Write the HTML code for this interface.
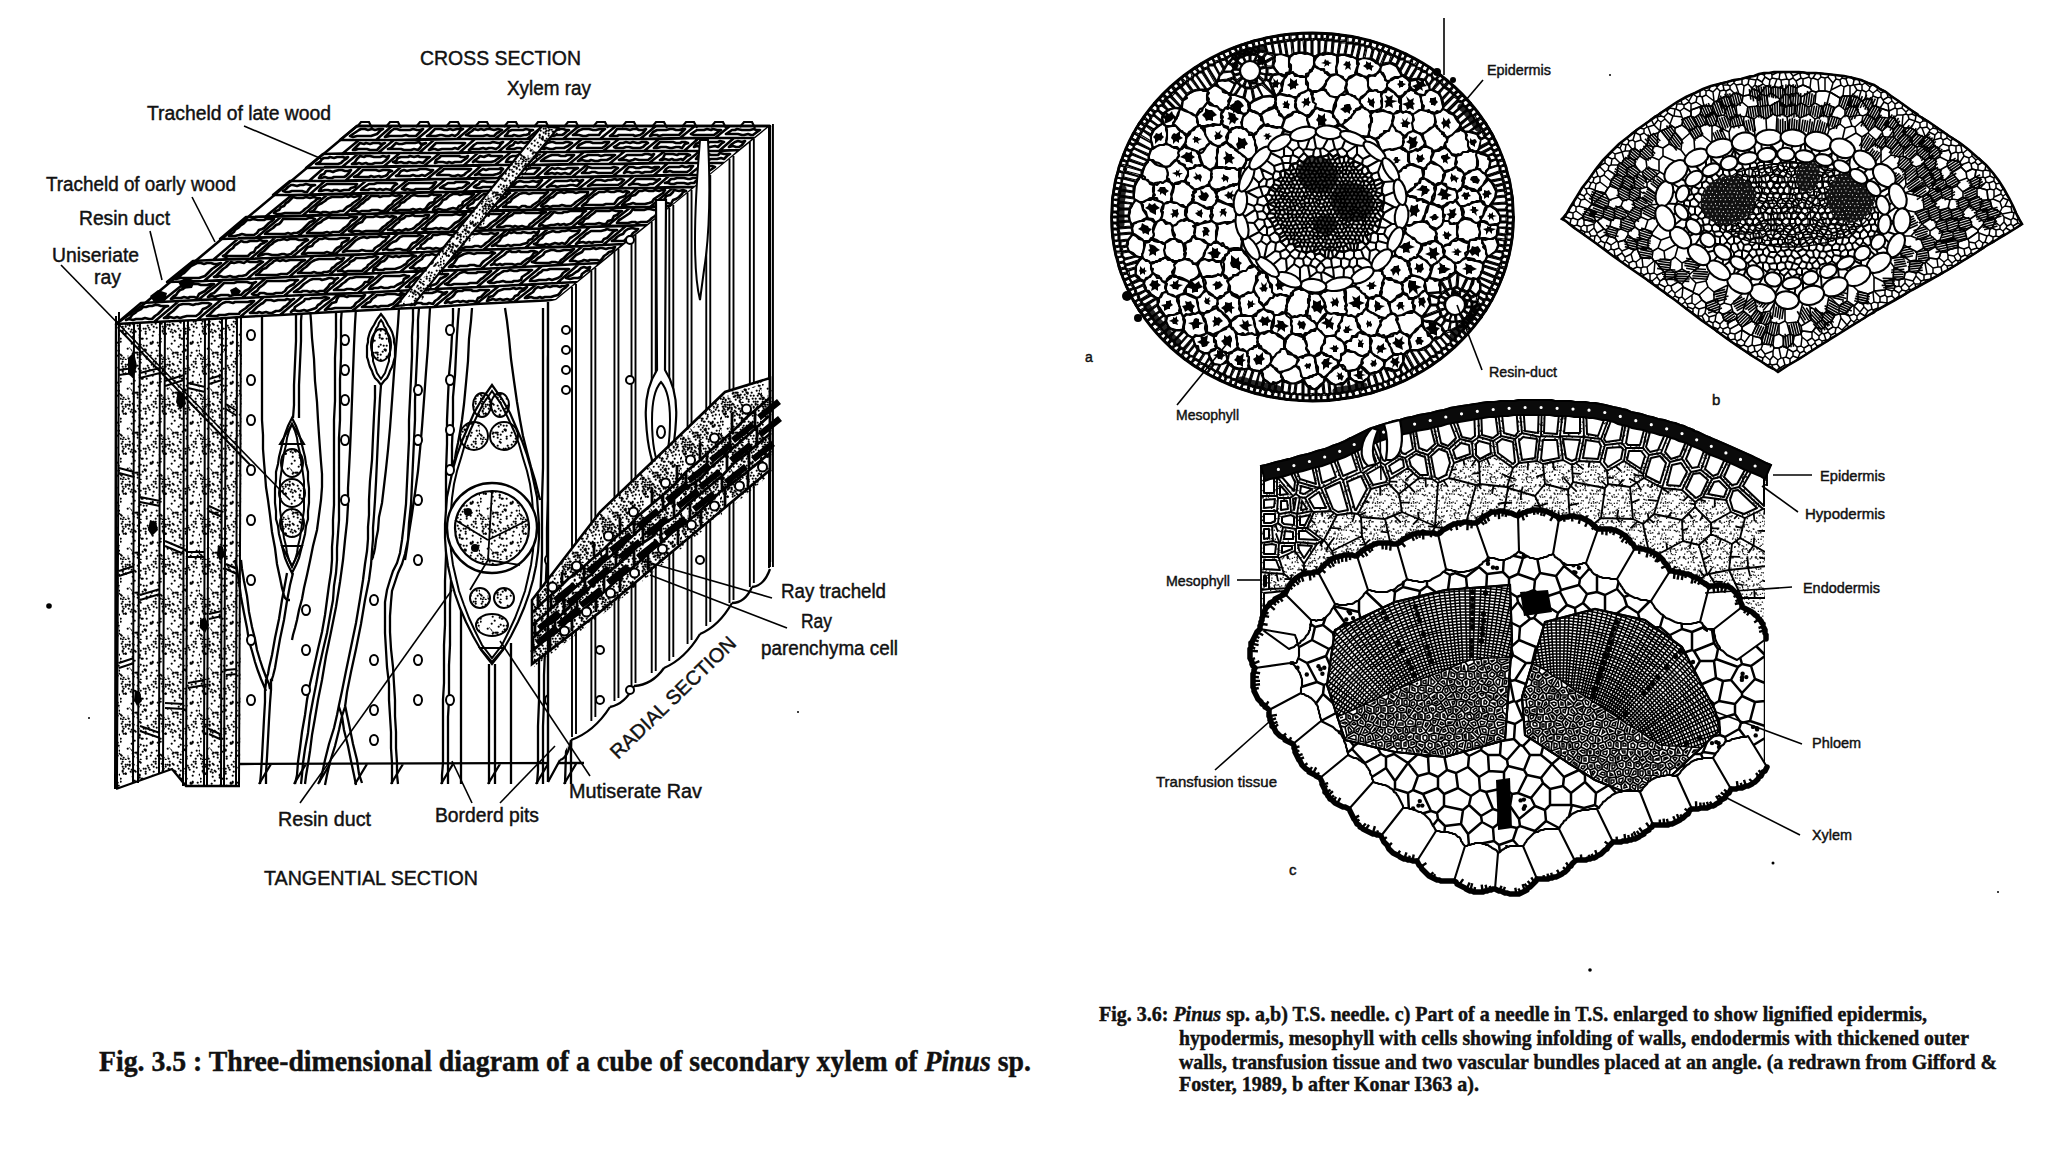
<!DOCTYPE html>
<html><head><meta charset="utf-8"><style>
html,body{margin:0;padding:0;background:#fff;width:2048px;height:1152px;overflow:hidden}
svg{display:block}
</style></head><body>
<svg width="2048" height="1152" viewBox="0 0 2048 1152">
<rect width="2048" height="1152" fill="#fff"/>
<defs><pattern id="bstip" width="40" height="40" patternUnits="userSpaceOnUse"><path d="M23,25h1.3v1.3h-1.3zM33,11h1.3v1.3h-1.3zM26,36h1.3v1.3h-1.3zM36,7h1.3v1.3h-1.3zM26,25h1.3v1.3h-1.3zM20,39h1.3v1.3h-1.3zM21,18h1.3v1.3h-1.3zM38,25h1.3v1.3h-1.3zM12,12h1.3v1.3h-1.3zM20,2h1.3v1.3h-1.3zM24,29h1.3v1.3h-1.3zM17,34h1.3v1.3h-1.3zM37,22h1.3v1.3h-1.3zM27,5h1.3v1.3h-1.3zM2,39h1.3v1.3h-1.3zM11,9h1.3v1.3h-1.3zM36,30h1.3v1.3h-1.3zM5,13h1.3v1.3h-1.3zM10,11h1.3v1.3h-1.3zM0,21h1.3v1.3h-1.3zM12,16h1.3v1.3h-1.3zM7,4h1.3v1.3h-1.3zM1,35h1.3v1.3h-1.3zM30,22h1.3v1.3h-1.3zM5,6h1.3v1.3h-1.3zM5,13h1.3v1.3h-1.3zM2,11h1.3v1.3h-1.3zM8,8h1.3v1.3h-1.3zM26,18h1.3v1.3h-1.3zM19,14h1.3v1.3h-1.3zM22,31h1.3v1.3h-1.3zM12,3h1.3v1.3h-1.3zM19,15h1.3v1.3h-1.3zM31,4h1.3v1.3h-1.3zM35,1h1.3v1.3h-1.3zM22,18h1.3v1.3h-1.3zM13,36h1.3v1.3h-1.3zM28,7h1.3v1.3h-1.3zM20,24h1.3v1.3h-1.3zM1,3h1.3v1.3h-1.3zM24,29h1.3v1.3h-1.3zM19,17h1.3v1.3h-1.3zM20,10h1.3v1.3h-1.3zM35,38h1.3v1.3h-1.3zM19,1h1.3v1.3h-1.3zM16,32h1.3v1.3h-1.3zM13,4h1.3v1.3h-1.3zM7,28h1.3v1.3h-1.3zM25,11h1.3v1.3h-1.3zM25,30h1.3v1.3h-1.3zM39,33h1.3v1.3h-1.3zM17,32h1.3v1.3h-1.3zM37,35h1.3v1.3h-1.3zM30,23h1.3v1.3h-1.3zM20,34h1.3v1.3h-1.3zM25,29h1.3v1.3h-1.3zM9,4h1.3v1.3h-1.3zM11,23h1.3v1.3h-1.3zM23,8h1.3v1.3h-1.3zM8,38h1.3v1.3h-1.3zM3,37h1.3v1.3h-1.3zM31,23h1.3v1.3h-1.3zM40,27h1.3v1.3h-1.3zM0,38h1.3v1.3h-1.3zM17,37h1.3v1.3h-1.3zM33,6h1.3v1.3h-1.3zM2,1h1.3v1.3h-1.3zM31,32h1.3v1.3h-1.3zM9,5h1.3v1.3h-1.3zM15,32h1.3v1.3h-1.3zM30,35h1.3v1.3h-1.3zM39,30h1.3v1.3h-1.3zM33,1h1.3v1.3h-1.3zM0,34h1.3v1.3h-1.3zM25,13h1.3v1.3h-1.3zM5,13h1.3v1.3h-1.3zM14,20h1.3v1.3h-1.3zM18,8h1.3v1.3h-1.3zM3,8h1.3v1.3h-1.3zM5,4h1.3v1.3h-1.3zM17,5h1.3v1.3h-1.3zM32,22h1.3v1.3h-1.3zM18,26h1.3v1.3h-1.3zM9,1h1.3v1.3h-1.3zM3,13h1.3v1.3h-1.3zM14,10h1.3v1.3h-1.3zM12,33h1.3v1.3h-1.3zM0,18h1.3v1.3h-1.3zM15,11h1.3v1.3h-1.3zM29,9h1.3v1.3h-1.3zM2,6h1.3v1.3h-1.3zM39,14h1.3v1.3h-1.3zM5,39h1.3v1.3h-1.3zM26,38h1.3v1.3h-1.3zM13,32h1.3v1.3h-1.3zM2,10h1.3v1.3h-1.3zM32,21h1.3v1.3h-1.3zM32,15h1.3v1.3h-1.3zM35,3h1.3v1.3h-1.3zM25,8h1.3v1.3h-1.3zM8,35l-0,4M11,29l2,4M9,27l3,4" fill="#000" stroke="#000" stroke-width="0.6"/></pattern></defs><path d="M116,324l24-19 102-5-2,486-54,0-14-17-56,20z" fill="url(#bstip)"/><path d="M116,316L115,789M119,312L117,789M134,316L133,783M140,312L138,783M160,316L159,773M165,312L163,773M184,316L183,786M188,312L186,786M205,316L204,786M209,312L207,786M222,316L221,786M226,312L224,786M237,316L236,786M241,312L239,786M119,370L134,368M119,375L134,373M119,468L134,472M119,473L134,477M119,571L134,566M119,576L134,571M119,663L134,658M119,668L134,663M140,373L160,368M140,378L160,373M140,497L160,501M140,502L160,506M140,595L160,589M140,600L160,594M140,726L160,733M140,731L160,738M165,381L184,375M165,386L184,380M165,541L184,549M165,546L184,554M165,703L184,704M165,708L184,709M188,383L205,387M188,388L205,392M188,552L205,552M188,557L205,557M188,683L205,680M188,688L205,685M209,379L222,375M209,384L222,380M209,506L222,512M209,511L222,517M209,614L222,611M209,619L222,616M209,729L222,735M209,734L222,740M226,404L237,411M226,409L237,416M226,564L237,569M226,569L237,574M226,670L237,669M226,675L237,674M120,330L255,470" fill="none" stroke="#000" stroke-width="2"/><g fill="#000"><path d="M128,358l6,-6 3,14 -4,12 -5,-4z"/><path d="M178,390l6,4 2,10 -6,6 -4,-8z"/><path d="M150,520l6,2 2,8 -6,6 -4,-6z"/><path d="M200,620l5,-3 4,8 -4,8 -5,-5z"/><path d="M135,690l5,2 2,9 -5,5 -3,-6z"/><path d="M218,545l5,2 2,9 -5,5 -3,-6z"/></g><path d="M302,308l-1,13 0,20-1,22-1,22 0,20 0,13M296,308l0,13 0,20-1,22-1,22 0,20-1,13M293,573l-3,12-3,16-3,19-4,19-3,17-2,12-2,8-1,3 0,1-1,0 0,3 0,7-1,13-1,17-1,19-1,18-1,16 0,11M287,573l-2,11-3,16-3,19-4,19-3,17-3,13-1,6-1,3 0,1-1,2 0,3-1,7 0,12-1,17-1,19-1,19-1,16-1,11M241,560l1,9 2,12 3,15 2,16 3,15 3,12 2,11 3,10 3,9 3,8 3,7 1,5M235,560l2,9 2,13 2,15 3,16 3,15 2,13 3,10 3,11 3,9 3,8 3,7 2,5M342,308l-1,12 0,18 0,20-1,21 0,22 0,19-1,18 0,17 0,17 0,17 0,16 0,15-1,14-1,14 0,12-1,13-2,13-1,14-3,16-3,17-4,17-4,18-3,17-3,15-3,16-2,17-3,16-2,14-1,12-1,9M336,308l0,12 0,17-1,21 0,21 0,22-1,19 0,18 0,17 0,17 0,17 0,16-1,15 0,14-1,13 0,13-1,12-2,13-2,15-2,15-3,17-4,17-4,18-4,17-3,16-2,15-3,17-2,16-2,14-1,13-2,9M381,385l-1,13-1,18-1,22-1,22-1,22-1,18-1,15-1,13 0,11-1,12-1,14-2,15-4,20-4,24-5,25-5,23-4,20-2,15M375,385l0,13-1,18-1,21-1,23-2,21-1,19 0,15-1,12 0,12-1,12-2,13-2,16-3,19-4,24-5,24-5,24-4,20-3,14M345,707l-3,9-3,14-4,16-5,16-3,13-2,10M339,705l-2,10-3,13-5,16-4,16-3,14-3,9M345,705l2,10 3,14 3,15 4,16 2,14 3,9M339,707l3,9 2,14 4,16 3,15 3,14 2,10M419,308l-1,12 0,17-1,20-1,21-1,22 0,20-1,20-1,22-1,21-1,21-2,19-1,17-3,14-3,10-4,9-3,9-3,9-1,11-1,14 0,16 1,17 2,18 1,17 1,16 0,16 1,16 0,16 1,15 0,12 1,9M413,308l0,12-1,17 0,19-1,22-1,21-1,21 0,20-1,21-1,22-1,21-2,19-2,17-2,13-3,10-4,8-3,9-3,10-2,12 0,14 0,17 1,17 1,17 2,17 0,16 1,16 1,16 0,16 1,15 0,12 0,9M459,308l-1,12-1,15-1,19-1,21-2,22 0,23-1,25 0,27-1,28 0,29 0,27 0,25-1,23 0,21 0,20-1,20 0,18 0,17-1,17 0,17 0,15 0,15 0,11 0,9M453,308l0,11-1,16-1,19-2,21-1,22-1,23 0,24-1,28 0,28 0,29 0,27-1,25 0,23 0,21-1,20 0,19 0,19-1,17 0,17 0,17 0,15 0,14-1,12 0,9M495,664l0,14 0,22 0,24 0,24 0,22 0,14M489,664l0,14 0,22 0,24 0,24 0,22 0,14M549,308l0,21-1,30 0,36 0,37 0,36 0,32-1,28 0,26-1,25 0,24-1,23 0,24-1,25 0,26-1,25 0,24 0,20 0,14M543,308l0,21 0,30 0,36 0,37 0,36-1,32 0,28 0,26-1,25-1,24 0,23-1,24 0,25 0,26-1,25 0,24 0,20-1,14M577,308l-1,20 0,26 0,32-1,36 0,38 0,40-1,45-1,53-1,56 0,53-1,45 0,32M571,308l0,20 0,26 0,32-1,36 0,38-1,40 0,45-1,53-1,56 0,53-1,45-1,32M310,308l1,13 1,17 2,21 1,22 2,21 1,18 1,15 1,14 1,13 1,12 0,13-1,13-2,15-2,15-4,16-3,15-3,14-3,13-2,11-3,11-2,10-2,8-2,7-1,5M262,308l0,13 0,17 0,21 0,22 0,21 0,18 1,15 0,14 1,13 1,12 1,13 2,13 2,15 2,17 3,16 2,16 3,14 2,10 2,7 1,3 2,2 1,0 1,0 1,0M356,308l-1,16-1,22-1,26-1,28-1,27-1,23-1,20-1,18 0,17-1,17-2,18-2,20-3,22-4,25-5,25-5,24-4,24-4,20-3,18-3,17-2,16-2,13-2,12-1,8M399,308l-1,16-2,23-2,26-2,28-2,27-2,22-2,19-2,17-2,17-3,14-1,13-2,10-1,8-1,5-1,3 0,1-1,2 0,1M430,308l-1,16-1,22-2,26-2,28-2,27-2,23-2,21-3,22-3,21-3,19-2,15-2,12M472,308l-1,13-2,18-1,22-2,22-2,21-2,16-2,12-2,11-2,9-1,7-2,6-1,5M505,308l2,13 2,17 2,21 3,22 3,21 3,18 3,16 4,16 4,15 4,13 3,12 2,8M461,600l0,22 0,33 0,37 0,37 0,33 0,22M511,643l0,17 0,25 0,29 0,28 0,25 0,17" fill="none" stroke="#000" stroke-width="2.3"/><path d="M292,418l-4,8-3,8-2,7-2,8-2,8-1,7-2,8 0,8-1,8 0,8 0,7 1,8 0,8 2,7 1,8 2,8 2,8 2,8 3,7 4,8 4-8 3-7 2-8 2-8 2-8 1-8 2-7 0-8 1-8 0-7 0-8-1-8 0-8-2-8-1-7-2-8-2-8-2-7-3-8z" fill="#fff" stroke="#000" stroke-width="2.2"/><path d="M381,314l-3,4-2,3-2,4-2,3-2,4-1,3-1,4 0,3-1,4 0,4 0,3 0,4 1,3 1,4 1,3 2,4 1,3 2,4 3,3 3,4 3-4 3-3 2-4 1-3 2-4 1-3 1-4 1-3 0-4 0-3 0-4-1-4 0-3-1-4-1-3-2-4-2-3-2-4-2-3z" fill="#fff" stroke="#000" stroke-width="2.2"/><path d="M492,385l-10,14-8,14-6,14-6,14-5,14-4,14-3,14-3,14-1,14-1,13 0,14 1,14 2,14 3,14 4,14 5,14 6,14 7,14 8,14 11,14 11-14 8-14 7-14 6-14 5-14 4-14 3-14 2-14 1-14 0-14-1-13-1-14-3-14-3-14-4-14-5-14-6-14-6-14-8-14z" fill="#fff" stroke="#000" stroke-width="2.2"/><path d="M292,424l-3,7-2,7-1,7-2,8-1,7-1,7-1,7-1,7 0,7 0,8 0,7 0,7 1,7 1,7 1,7 1,7 2,8 1,7 2,7 3,7 3-7 2-7 1-7 2-8 1-7 1-7 1-7 1-7 0-7 0-7 0-8 0-7-1-7-1-7-1-7-1-7-2-8-1-7-2-7zM381,320l-2,3-1,3-2,3-1,3-1,3-1,3 0,3-1,3 0,3 0,3 0,2 0,3 1,3 0,3 1,3 1,3 1,3 1,3 2,3 2,3 2-3 2-3 1-3 1-3 1-3 1-3 0-3 1-3 0-3 0-2 0-3 0-3-1-3 0-3-1-3-1-3-1-3-2-3-1-3zM492,391l-9,13-7,14-6,13-5,13-4,14-4,13-3,13-2,14-1,13-1,13 0,14 1,13 2,14 3,13 3,13 5,14 5,13 6,13 7,14 10,13 10-13 7-14 6-13 5-13 5-14 3-13 3-13 2-14 1-13 0-14-1-13-1-13-2-14-3-13-4-13-4-14-5-13-6-13-7-14z" fill="none" stroke="#000" stroke-width="2"/><ellipse cx="292" cy="463" rx="11" ry="14" fill="url(#bstip)" stroke="#000" stroke-width="2"/><ellipse cx="292" cy="493" rx="13" ry="14" fill="url(#bstip)" stroke="#000" stroke-width="2"/><ellipse cx="292" cy="523" rx="12" ry="14" fill="url(#bstip)" stroke="#000" stroke-width="2"/><ellipse cx="381" cy="345" rx="10" ry="16" fill="url(#bstip)" stroke="#000" stroke-width="2"/><ellipse cx="482" cy="405" rx="9" ry="12" fill="url(#bstip)" stroke="#000" stroke-width="2"/><ellipse cx="500" cy="405" rx="9" ry="12" fill="url(#bstip)" stroke="#000" stroke-width="2"/><ellipse cx="474" cy="436" rx="14" ry="14" fill="url(#bstip)" stroke="#000" stroke-width="2"/><ellipse cx="504" cy="436" rx="14" ry="14" fill="url(#bstip)" stroke="#000" stroke-width="2"/><ellipse cx="480" cy="598" rx="10" ry="10" fill="url(#bstip)" stroke="#000" stroke-width="2"/><ellipse cx="504" cy="598" rx="10" ry="10" fill="url(#bstip)" stroke="#000" stroke-width="2"/><ellipse cx="492" cy="625" rx="16" ry="11" fill="url(#bstip)" stroke="#000" stroke-width="2"/><path d="M280,444 L304,444 L292,424Z M282,546 L302,546 L292,566Z M480,648 L504,648 L492,662Z" fill="none" stroke="#000" stroke-width="2"/><circle cx="492" cy="528" r="45" fill="#fff" stroke="#000" stroke-width="2.4"/><circle cx="492" cy="528" r="37" fill="url(#bstip)" stroke="#000" stroke-width="2.2"/><path d="M492,491L488,560L470,590M488,540L528,520M488,540L455,520M488,560L520,565" fill="none" stroke="#000" stroke-width="1.8"/><circle cx="468" cy="512" r="4" fill="#000"/><circle cx="475" cy="548" r="4" fill="#000"/><path d="M247,335a4,5 0 1,0 8,0a4,5 0 1,0 -8,0M247,380a4,5 0 1,0 8,0a4,5 0 1,0 -8,0M247,420a4,5 0 1,0 8,0a4,5 0 1,0 -8,0M247,470a4,5 0 1,0 8,0a4,5 0 1,0 -8,0M247,520a4,5 0 1,0 8,0a4,5 0 1,0 -8,0M247,580a4,5 0 1,0 8,0a4,5 0 1,0 -8,0M247,640a4,5 0 1,0 8,0a4,5 0 1,0 -8,0M247,700a4,5 0 1,0 8,0a4,5 0 1,0 -8,0M341,340a4,5 0 1,0 8,0a4,5 0 1,0 -8,0M341,370a4,5 0 1,0 8,0a4,5 0 1,0 -8,0M341,400a4,5 0 1,0 8,0a4,5 0 1,0 -8,0M341,440a4,5 0 1,0 8,0a4,5 0 1,0 -8,0M341,500a4,5 0 1,0 8,0a4,5 0 1,0 -8,0M302,610a4,5 0 1,0 8,0a4,5 0 1,0 -8,0M302,650a4,5 0 1,0 8,0a4,5 0 1,0 -8,0M302,690a4,5 0 1,0 8,0a4,5 0 1,0 -8,0M370,600a4,5 0 1,0 8,0a4,5 0 1,0 -8,0M370,660a4,5 0 1,0 8,0a4,5 0 1,0 -8,0M370,710a4,5 0 1,0 8,0a4,5 0 1,0 -8,0M370,740a4,5 0 1,0 8,0a4,5 0 1,0 -8,0M414,390a4,5 0 1,0 8,0a4,5 0 1,0 -8,0M414,440a4,5 0 1,0 8,0a4,5 0 1,0 -8,0M414,500a4,5 0 1,0 8,0a4,5 0 1,0 -8,0M414,560a4,5 0 1,0 8,0a4,5 0 1,0 -8,0M414,660a4,5 0 1,0 8,0a4,5 0 1,0 -8,0M414,700a4,5 0 1,0 8,0a4,5 0 1,0 -8,0M446,330a4,5 0 1,0 8,0a4,5 0 1,0 -8,0M446,380a4,5 0 1,0 8,0a4,5 0 1,0 -8,0M446,430a4,5 0 1,0 8,0a4,5 0 1,0 -8,0M446,470a4,5 0 1,0 8,0a4,5 0 1,0 -8,0M446,700a4,5 0 1,0 8,0a4,5 0 1,0 -8,0M552,330a4,5 0 1,0 8,0a4,5 0 1,0 -8,0M552,370a4,5 0 1,0 8,0a4,5 0 1,0 -8,0M552,420a4,5 0 1,0 8,0a4,5 0 1,0 -8,0M552,470a4,5 0 1,0 8,0a4,5 0 1,0 -8,0M545,560a4,5 0 1,0 8,0a4,5 0 1,0 -8,0M545,620a4,5 0 1,0 8,0a4,5 0 1,0 -8,0M545,700a4,5 0 1,0 8,0a4,5 0 1,0 -8,0" fill="#fff" stroke="#000" stroke-width="2"/><path d="M116,789L172,769 L186,786 L240,786 M240,764L584,763 M116,324L116,789 M259,784L271,764M294,784L306,764M318,784L330,764M355,784L367,764M391,784L403,764M441,784L453,764M488,784L500,764M536,784L548,764M564,784L576,764" fill="none" stroke="#000" stroke-width="2.3"/><path d="M357,126l413,0-214,174-440,24z" fill="#fff" stroke="none"/><path d="M357,126l35,0-16,14-36,0zM392,126l41,0-17,14-40,0zM433,126l40,0-16,13-41,1zM473,126l38,0-16,13-38,0zM511,126l32,0-16,13-32,0zM543,126l36,0-16,13-36,0zM579,126l37,0-16,13-37,0zM616,126l40,0-16,13-40,0zM656,126l39,0-15,12-40,1zM695,126l35,0-15,12-35,0zM730,126l40,0-15,12-40,0zM359,140l35,0-16,13-36,1zM394,140l41-1-16,14-41,0zM435,139l40,0-16,14-40,0zM475,139l39,0-16,13-39,1zM514,139l32,0-16,13-32,0zM546,139l36,0-16,13-36,0zM582,139l37,0-16,12-37,1zM619,139l40,0-15,12-41,0zM659,139l40-1-15,13-40,0zM699,138l35,0-15,13-35,0zM734,138l21,0-15,12-21,1zM323,154l36-1-17,14-36,1zM359,153l41,0-17,14-41,0zM400,153l40,0-16,13-41,1zM440,153l39-1-16,14-39,0zM479,152l32,0-16,13-32,1zM511,152l36,0-16,13-36,0zM547,152l37,0-15,12-38,1zM584,152l41-1-16,13-40,0zM625,151l40,0-16,12-40,1zM665,151l35,0-15,12-36,0zM700,151l40-1-15,13-40,0zM325,167l36,0-16,14-36,0zM361,167l41-1-16,14-41,1zM402,166l41,0-16,13-41,1zM443,166l39-1-16,14-39,0zM482,165l32,0-16,13-32,1zM514,165l36,0-15,13-37,0zM550,165l38-1-16,13-37,1zM588,164l40,0-15,12-41,1zM628,164l40-1-15,13-40,0zM668,163l36,0-15,12-36,1zM704,163l21,0-15,12-21,0zM290,181l35,0-16,14-36,0zM325,181l42-1-17,14-41,1zM367,180l41,0-17,13-41,1zM408,180l38-1-16,13-39,1zM446,179l33-1-16,14-33,0zM479,178l36,0-15,13-37,1zM515,178l38-1-16,13-37,1zM553,177l41,0-16,12-41,1zM594,177l40-1-15,12-41,1zM634,176l36-1-15,13-36,0zM670,175l40,0-15,12-40,1zM292,195l36-1-26,22-37,1zM328,194l42-1-26,22-42,1zM370,193l40,0-25,20-41,2zM410,193l39-1-25,20-39,1zM449,192l33-1-25,21-33,0zM482,191l37-1-25,21-37,1zM519,190l37,0-24,20-38,1zM556,190l41-1-24,20-41,1zM597,189l41-1-24,20-41,1zM638,188l36-1-24,20-36,1zM674,187l21,0-23,19-22,1zM246,217l36-1-26,22-36,1zM282,216l42-1-26,21-42,2zM324,215l42-1-26,21-42,1zM366,214l39-1-26,21-39,1zM405,213l33-1-25,21-34,1zM438,212l37-1-25,21-37,1zM475,211l38-1-25,20-38,2zM513,210l41-1-25,20-41,1zM554,209l41-1-24,20-42,1zM595,208l36-1-24,19-36,2zM631,207l41-1-24,19-41,1zM239,238l37-1-26,22-37,1zM276,237l42-1-26,21-42,2zM318,236l41-2-25,21-42,2zM359,234l40-1-25,21-40,1zM399,233l33-1-25,21-33,1zM432,232l37-1-25,20-37,2zM469,231l38-1-24,20-39,1zM507,230l42-2-24,20-42,2zM549,228l41-1-24,20-41,1zM590,227l36-1-23,19-37,2zM626,226l22-1-24,19-21,1zM193,261l37-2-26,22-37,1zM230,259l43-1-26,21-43,2zM273,258l41-2-25,21-42,2zM314,256l40-1-25,20-40,2zM354,255l34-2-25,21-34,1zM388,253l37-1-25,20-37,2zM425,252l38-2-24,21-39,1zM463,250l42-1-24,20-42,2zM505,249l41-2-24,20-41,2zM546,247l37-1-24,19-37,2zM583,246l41-2-23,19-42,2zM186,282l37-2-25,20-37,2zM223,280l43-2-24,20-44,2zM266,278l42-2-24,20-42,2zM308,276l40-2-24,20-40,2zM348,274l34-1-24,20-34,1zM382,273l38-2-24,20-38,2zM420,271l38-1-23,19-39,2zM458,270l42-2-23,19-42,2zM500,268l42-2-23,19-42,2zM542,266l37-2-22,19-38,2zM579,264l22-1-23,19-21,1zM141,303l38-2-25,21-38,2zM179,301l43-2-25,21-43,2zM222,299l42-2-24,20-43,3zM264,297l40-2-24,20-40,2zM304,295l35-1-24,19-35,2zM339,294l37-2-24,19-37,2zM376,292l39-2-24,19-39,2zM415,290l42-2-23,19-43,2zM457,288l42-2-23,18-42,3zM499,286l38-2-23,18-38,2zM537,284l41-2-22,18-42,2z" fill="none" stroke="#000" stroke-width="2.5" stroke-linejoin="round"/><path d="M359,130l-3,2-3,2-3,2 3,1 4-1 3,0 2,0 4,0 2,0 3,0 3-1 3-1 3-3 3-2-4,0-4,1-3-1-4,1-3-1-4,0zM394,129l-3,2-3,3-3,3 5-1 2,0 4,0 2,0 4,0 4-1 3,1 3,0 4,0 2-2 3-3 2-2-3,1-3,0-4-1-3,1-3,0-3,0-4,0-3-1zM435,129l-3,3-2,2-3,2 2,0 5,0 2,0 4-1 2,0 4,1 3,0 3-1 3,1 3-2 2-3 3-2-4,0-2,0-4,1-3-1-3,1-3,0-3-1-4,0zM474,129l-2,2-3,2-3,2 5,1 2,0 3,0 5,0 2,0 4-1 3,1 4,0 3-3 2-1 3-2-4-1-4,1-4-1-3,0-3,1-3-1-3,1zM512,130l-3,1-2,3-2,2 3,0 4,0 2-1 4,1 2,0 4-1 2,0 3-1 1-3 3-1-3,0-4-1-3,1-4,0-4,0zM545,130l-2,1-3,3-3,1 4,0 3,1 2,0 4-1 3,1 3-1 3,0 3,0 2-1 3-3 2-1-3,0-3-1-3,0-3,1-3,0-3-1-4,1zM580,130l-2,1-2,2-3,2 4,0 2,0 4,1 3,0 3-1 3,0 4,0 3,0 2-3 4-3-2,0-3,0-4,1-3,0-4-1-2,0-4,0zM617,129l-3,4-4,3 3,0 4,0 2-1 4,0 2,0 4,0 4,0 2,1 5-1 3-2 3-4-3,1-4,0-2-1-4,0-3,1-4-1-3,0-3,0zM657,130l-4,2-3,4 3-1 4,0 2,1 4-1 3,0 3,0 4,0 2,0 4,0 3-3 3-3-2,0-4,1-3,0-3-1-3,0-4,1-3,0-4,0zM697,130l-3,2-3,2 3,1 3,0 4,0 2,0 4,0 4,0 3,0 4-3 3-2-4,0-4-1-2,1-4-1-3,1-4,0zM732,130l-3,2-3,2 2,0 4,0 2,0 4,0 4,1 2,0 4-1 3,1 2,0 4-3 3-2-4,0-2-1-4,1-3,0-3,0-2,0-5-1-2,1zM360,143l-2,2-3,3-2,2 2,0 3-1 3,0 4,0 2,0 3,1 3,0 4,0 2-2 3-3 3-2-4,1-2-1-4,0-2,0-3,1-4-1-2,1zM396,143l-3,3-2,2-3,1 4,0 2,0 4,0 3,0 3,1 3,0 4,0 3-1 4,1 2-2 2-3 4-2-5,1-2-2-4,1-3,0-4,0-2,0-4,1-3,0zM436,143l-2,2-2,2-3,3 4-1 2,0 3,1 4-1 3,0 3,0 4,0 3-1 3,1 2-2 3-2 2-2-3,0-3,0-3,0-4,0-2,0-4,0-3,0-3,0zM477,143l-3,2-3,3-2,2 3-1 4,0 3,0 4-1 3,1 3-1 3,0 4,1 3-2 2-3 2-2-3,1-2,0-5-1-3,1-4,0-2,0-4,0zM515,142l-2,3-3,1-3,3 3,0 4,0 3-1 3,0 3,1 3,0 3-1 2-2 3-1 2-2-3,0-2-1-3,0-4,1-3-1-3,1zM547,143l-2,2-2,2-3,1 4,1 2-1 4,1 3,0 3-1 3,0 3,0 2,0 4-2 4-3-4-1-2,0-3,1-4,0-3,0-3-1-2,0zM583,143l-4,2-2,3 2,0 4,0 3,0 3,0 3,0 4,0 2,0 4,0 3-2 4-4-4,0-3,1-3,0-3,0-3,0-3-1-4,0zM620,143l-4,3-2,1 2,1 4,0 3,0 3-1 3,0 4,1 2,0 5,0 3-1 2-2 3-2-2-1-4,0-3,1-2,0-4-1-3,1-4-1-3,1zM660,142l-3,3-3,3 3,0 4-1 2,0 3,0 4,1 2,0 4-1 3,0 3,1 3-4 3-1-3-1-3,0-2,1-4,0-3-1-3,0-3,0-3,0zM700,142l-4,2-2,3 3-1 4,1 2,0 4,0 3,0 5-1 3,1 3-3 3-2-4-1-2,1-4,0-4,0-3,1-3-1zM735,142l-3,2-3,3 4-1 3,1 3,0 3-2 3-4-3,1-4-1zM324,158l-2,1-2,3-4,2 3,0 3,0 3,0 3,0 3,0 3,0 4,0 3-1 2-2 3-2 2-2-3,1-2-1-3,0-3,0-3,1-4-1-2,1zM360,156l-3,3-2,3-3,2 4,0 3-1 3,1 4-1 2,1 4,0 3-1 3,0 4,0 3-2 3-3 1-2-2,1-4-1-3,1-4,0-2,0-4-1-4,0-2,1zM401,157l-3,1-2,3-3,1 3,1 5-1 3,1 3,0 2-1 4,1 3,0 3-1 4,1 3-3 1-1 3-2-4,0-2,0-4,0-2-1-4,1-4-1-2,1-3,0zM441,156l-2,2-3,2-1,3 3-1 2,0 3,0 4,1 2-1 3,1 3-1 4,0 2,0 3-2 3-2 1-2-2,1-5,0-2-1-4,0-3,0-4,0-3,0zM480,156l-2,2-3,2-2,2 2-1 4,1 3,0 2,0 3,0 4,0 4-1 1-1 3-2 3-2-3,0-3,0-5,0-2-1-3,1-2,1zM513,156l-3,1-3,3-1,2 3,0 3,0 3,0 3-1 2,0 4,0 2,1 4-1 4-3 3-2-3-1-4,0-2,0-3,1-3,0-3-1-3,1zM549,156l-4,2-4,3 4,0 3,0 3,0 4,0 2,0 4,0 3,0 3,0 4-3 3-3-3,0-4,0-2,1-4,0-3-1-4,0-2,0zM586,156l-3,1-5,4 4-1 4,1 3,0 2-1 4,1 3,0 3-1 4,0 2,0 4-2 4-3-3,0-4,0-3,0-4,1-3-1-3,0-3,0-4,0zM627,155l-4,3-4,2 3,0 4,0 3,1 4-1 2-1 4,1 3,0 2,0 4,0 4-3 2-3-2,1-4-1-3,0-3,1-3,0-3,0-4,0-3,0zM665,154l-2,4-3,2 2,0 3-1 4,1 3-1 2,1 3,0 4-1 2,1 4-4 3-1-3-1-4,0-4,0-2,1-4-1-4,0zM701,154l-3,2-2,3 2,0 3,0 4,0 3,1 3-1 3,0 3,0 4-1 3,1 3-3 3-2-3,0-3,0-4-1-2,2-4,0-3,0-3-1-4,0zM326,171l-2,3-3,1-2,3 2,0 4-1 3,1 4,0 2-1 3,0 3,0 4,0 2-1 3-3 2-3-3,1-3,0-3-1-3,0-4,1-2,1-3-1zM363,170l-2,2-3,3-4,2 4,0 3,0 4,0 4,0 2-1 3,1 5-1 2,1 4-1 2-1 2-3 3-1-3-1-3,0-3,0-4,1-3-1-4,0-2,0-5,0zM404,170l-3,1-3,4-2,1 3,0 4,0 3,0 4,0 3-1 3,1 3,0 3-1 3,1 3-2 3-2 2-2-3,0-4-1-4,0-2,0-3,1-4,0-2,0-4,1zM444,169l-2,2-3,2-2,2 3,0 3,0 4,0 2,0 3,1 3,0 3-1 3,1 3-1 2-2 3-2 2-2-3,0-3,0-3,0-2,0-3,0-4,0-3,0-3,0zM483,169l-3,2-2,2-3,2 4-1 3,1 3,0 3,0 4,0 1,0 4-1 3-1 2-3 1-1-2-1-2,1-4,0-3,0-3,0-3,1zM516,169l-4,2-3,4 3-1 3,0 3,0 3,0 3,0 3,0 4,0 3,0 3-3 3-3-4,0-2,0-2,0-5,1-2,0-3,0-3,0zM552,168l-4,3-3,3 3,0 4-1 3,1 2-1 4,1 4-1 3,1 2,0 4-4 4-2-3,0-5,0-2,0-3,1-3,0-4-1-3,1zM588,167l-3,4-3,2 4,0 3,0 3-1 3,0 3,1 4,0 3,0 3,0 4,0 3-3 3-2-4-1-3,1-2,0-4,0-3,0-4,0-3,0-3,0zM629,167l-3,3-2,3 2-1 3,0 3,1 4-1 3,0 3,1 3-1 4,0 2,0 4-2 4-3-4,0-3,1-4-1-3,0-2,0-4,1-3,0-3-1zM669,167l-3,2-2,3 2,0 4-1 3,1 2,0 4,0 3,0 2,0 3,0 3-2 3-4-3,0-3,1-2,0-3-1-3,1-3,0-3,0zM706,166l-3,3-4,3 3-1 3,1 4-1 3-2 3-2-3-1-3,0zM291,185l-3,2-2,2-3,2 3,1 3,0 3-1 3,0 4,0 3,0 3,1 2,0 2-3 3-3 3-1-3,0-2,0-4-1-3,1-3,0-3,1-4-1zM327,184l-3,2-3,2-2,3 2,0 4-1 3,0 4,1 2-1 3,0 3,1 4-1 2,0 3,0 2-2 4-1 2-3-3,0-3,0-5,0-3,0-4,0-2,0-4,0-2,0zM369,184l-3,2-3,2-2,2 3,0 4,0 2-1 4,0 3,1 3-1 3,1 3-1 5,1 2-3 2-2 2-1-2-1-5,0-2,0-4,0-2,0-5,0-3,1-3,0zM409,183l-3,2-2,2-2,2 3,1 2-1 4,1 3,0 2-1 3,0 4,0 3,0 3,0 3-2 2-2 2-3-3,1-3,0-3,0-2,0-4,0-3,0-3,0-3,0zM448,183l-3,2-2,1-3,2 3,0 3,1 4,0 3,0 3,0 3-1 3,0 3-2 2-2 2-1-3-1-2,0-5,0-3,0-2,1-4,0zM480,182l-1,2-4,2-1,1 3,1 3,0 3-1 3,0 2,0 4,0 3,0 4,0 2-3 4-2-3,0-3-1-3,1-3,0-4,0-2,0-4-1zM517,182l-3,2-4,3 4,0 2,0 4,0 3,0 3-1 3,1 3,0 4,0 3-3 3-4-3,1-2,1-4-1-4,1-2,0-3,0-4-1zM555,181l-4,3-4,3 3-1 5,0 2,1 4-1 3,0 2,0 4-1 3,0 4,1 3-3 3-3-4,1-2-1-4,1-2-1-4,1-2,0-5,0-3,0zM596,180l-4,3-4,3 4-1 3,0 3,0 3,0 4,0 3,0 2,0 4,0 4,0 3-2 3-3-3-1-4,1-2-1-4,1-3,0-3,1-4-1-3,0zM636,179l-4,4-3,2 3-1 3,0 3,0 3,1 4,0 2,0 3-1 3,0 3-2 4-3-3,1-4-1-3,0-2,0-4,0-3,0-3,0zM671,179l-3,3-3,1 3,0 3,1 3,0 3-1 4,0 3,0 4,1 3-1 3,0 2-2 4-3-4,0-3,0-3,1-2,0-4-1-3,0-4,0-3,1zM293,197l-2,2-3,3-2,1-2,3-3,1-2,3-3,1-2,2 3,1 4,0 4-1 3,0 2,0 4,0 3,0 3,0 3-2 2-2 3-2 2-2 2-2 3-2 2-2 3-1-3,0-3-1-4,1-4-1-3,1-4,0-2,0zM329,198l-2,1-2,2-3,2-2,1-3,2-2,3-2,2-3,1 3,0 4,0 4,1 2-1 3,0 4,1 3-1 4,0 3-1 3,0 2-2 2-2 4-2 2-2 3-2 3-2 2-3-3,0-4,1-3-1-3,1-2-1-4,1-4,0-3,0-3,0zM371,196l-3,3-2,1-3,3-2,1-3,3-3,2-3,2 4,0 3,1 3-1 3,0 4,0 3-1 3,0 3,0 3,1 3,0 3-3 2-2 3-2 2-3 2-1 3-2 3-2-3-1-3,1-4-1-3,1-3,0-3,0-3,1-2-1-4,0zM411,196l-2,2-3,2-2,2-3,1-2,3-3,2-3,2 4,1 3-1 4,0 2,0 4,0 3-1 3,1 4-1 3,1 3-2 2-3 2-2 4-1 1-3 3-2 3-2-4,0-3,0-2-1-4,2-3,0-3,0-4,0-4-1zM451,195l-2,1-3,3-3,1-2,3-3,3-3,1-2,3 3,0 3-1 4,1 4,0 2-1 4-1 4,1 2-3 3-1 1-3 3-2 2-1 3-2 3-3-4,0-2,0-4,0-4,1-2-1-5,0zM484,194l-3,2-3,3-3,1-2,3-2,1-3,2-1,2 2,1 4-1 3,0 4,0 3,1 4-2 3,0 3,0 2-2 2-2 3-2 2-2 4-2 1-2 3-2-3,1-3,0-4,0-4-1-3,0-3,1-3,0zM519,194l-1,1-3,2-3,2-2,3-3,1-1,2-3,2 3,0 2,0 3,0 5,0 3,1 3-2 3,0 2,1 4,0 2-2 3-2 3-2 2-3 2-1 2-2 3-3-3,1-4,0-3,0-2,0-3,0-4,1-3-1-3,0zM557,193l-2,2-2,2-3,1-3,3-2,2-2,1-2,2 2,1 4-1 3,1 3-1 4,0 2,0 3-1 4,1 3,0 2,0 3-2 2-2 3-2 3-2 3-2 2-1 1-3-2,0-3,0-3,0-4,1-3-1-3,0-3,0-3,1-3-1zM599,192l-3,2-2,1-2,2-3,2-2,3-3,2-2,2 3-1 3,0 3,0 4,0 2,0 3,0 3,0 3-1 4,0 4,0 1-1 2-3 2-2 3-1 3-1 2-3 2-1-3-1-3,1-3-1-3,0-3,1-3,0-4-1-3,1-3,0zM639,191l-2,2-2,2-4,1-1,2-2,2-3,2-3,3 3,0 5-1 3-1 3,1 3,0 3,0 3,0 4-1 3-1 2-3 3-2 3-2 3-2 2-3-3,0-3,1-4-1-2,1-4,0-4-1-3,1zM674,190l-1,2-3,3-4,1-1,3-4,2-2,2 3,0 5,0 4,1 2-4 3-1 3-2 3-3 1-2 3-1-3-1-4,1zM247,220l-2,2-2,2-3,2-2,2-3,2-1,2-3,2-2,2 3,0 3,0 4-1 3-1 4,1 2,0 4,0 2,0 3-2 2-3 3-1 2-1 3-3 2-2 3-2 2-2-3,0-5,0-2,1-4,0-2,0-5-1-3,1zM283,219l-2,3-2,2-3,1-3,3-3,2-3,2-2,2 3,0 4,0 3,0 4,0 2,0 4,0 3-1 3,1 3-1 3,0 2-1 4-3 2-2 2-2 3-3 3-1 2-2-3-1-3,0-3,1-4,0-2,0-3,0-4,0-3,0-3,0zM325,219l-2,1-2,2-4,2-2,2-3,3-2,1-3,3 3,0 4,0 3,0 4,0 2,0 4-1 3,1 3-1 2,0 4,0 3-2 2-2 3-2 2-2 2-3 4-2 2-2-4,0-3,0-2,1-3,0-4,0-2,0-4,0-4,0-2-1zM366,217l-2,2-2,3-3,1-3,2-3,3-2,2-2,1 3,1 3-1 4,0 3,1 4-1 3,0 3,0 3,0 4,0 2-2 2-2 3-2 2-2 3-2 3-3 2-1-4-1-2,1-3-1-4,1-3,0-4-1-3,1-4,0zM406,216l-2,2-4,2-1,2-3,2-2,2-3,3-3,1 4,0 3,1 4-1 3,1 4-2 2,1 4-1 2-1 3-3 2-1 3-3 2-2 3-1 2-3-3,0-3,1-4,0-4,0-2-1-4,1zM439,215l-3,2-2,2-2,2-3,2-2,2-2,3-3,1 3,1 3-1 4,0 4-1 3,1 2-1 5,1 2,0 3-2 3-3 1-1 4-2 2-2 2-2 3-3-3,0-3,1-4-1-4,1-3,0-3,0-3,0zM476,213l-3,3-2,2-2,2-3,3-3,1-2,2-2,2 2,0 4,1 3-1 3,0 4,0 2-1 3,1 4,0 3-1 2-2 2-2 3-2 2-1 2-2 3-3 3-2-3,1-3,0-3,0-4,0-3,0-3,0-4,0-1,1zM514,213l-2,2-4,2-2,2-2,2-2,2-3,2-2,2 3,0 3,0 3-1 4,0 3,1 2-1 3,1 4-1 3,1 3,0 2-3 3-2 2-2 3-2 2-2 2-2 4-2-4,0-4,1-2,0-3,0-4,0-3,0-3-1-3,1-3,0zM554,212l-1,1-3,3-2,2-2,1-3,3-3,2-1,2 3-1 2,1 3,0 4-1 3,0 4-1 2,1 4-1 2,1 4-1 2-1 2-2 3-3 2-1 2-1 2-3 3-2-3,0-3,0-4,0-2,0-4,0-3,1-3,0-2,1-4,0zM596,211l-2,2-4,3-2,2-3,1-2,3-4,2 4,1 4-1 2,0 4,0 2,0 4-1 4,1 3,0 2-3 4-1 2-4 3-1 2-2 3-2-3,0-3,0-4-1-3,1-4,0-2,0-5,0zM633,209l-3,4-3,2-3,2-3,2-2,1-2,3 2,0 3,0 3,0 3,0 4-1 3,0 2,1 4-1 3,0 3,0 3-2 2-2 3-2 2-2 3-3 2-1-2-1-4,1-2,0-4-1-3,0-3,1-3,0-2,0-4,0zM241,241l-4,3-2,1-2,3-3,2-3,3-2,2-2,1 3,1 2-1 4,0 3,0 3,0 4,0 3,0 3,0 3-3 3-1 2-4 2-1 3-3 3-1 3-2-4,0-3-1-3,1-4,0-3,0-3,1-3,0zM278,240l-4,2-2,2-3,2-3,3-2,2-3,2-3,3 4-1 3-1 3,0 4,1 3,0 3,0 4-1 2,0 3,1 4-1 2-2 3-2 2-3 3-2 2-2 3-2 2-1-2-1-4,1-3,0-3-1-3,0-3,0-3,1-3-1-4,1zM319,239l-2,2-3,2-2,3-4,1-2,2-2,3-2,2 3,0 3-1 2,0 5,0 2,0 4,0 3,0 3-1 3,1 3,0 2-3 2-2 4-2 1-3 4-2 2-1 1-2-2,0-3,0-3,0-4,1-2,0-4,0-2,0-4-1-3,1zM360,238l-2,1-3,2-2,2-2,2-2,2-4,3-2,2 3-1 4,0 3,0 4,0 2,0 3-1 4,1 3,0 4,0 2-3 3-2 2-1 3-3 2-1 2-3 2-2-2,1-4,0-3-1-3,1-4,0-3,0-3,1-3-1zM400,237l-2,2-2,2-3,1-3,2-3,3-2,2-2,1 3-1 3,1 4,0 3-1 4,0 3,1 4,0 2-2 2-3 2-2 3-1 3-3 1-1 3-2-4-1-2,1-4,0-3,0-4,0-3,0zM433,235l-2,3-3,1-2,2-2,2-3,2-1,3-3,1 3-1 4,1 3-1 3,0 3,1 3-1 4,1 3-1 3-2 2-2 2-2 3-2 3-2 1-2 4-2-4,0-4,1-3,0-3-1-4,0-2,0-4,1zM471,234l-3,2-3,1-2,3-1,2-3,2-3,1-2,2 3,0 3,0 3,1 3-1 3,0 3,0 3-1 3,0 3,1 3-2 2-2 3-2 2-2 2-2 3-2 2-2-3,1-4-1-3,1-2,0-3,0-3-1-4,1-3,0zM509,232l-3,3-3,1-2,2-1,2-2,2-3,2-3,2 4-1 2,1 3,0 4,0 3-1 3,1 3-1 3,0 3,0 3-1 4-1 2-3 3-1 2-3 3-1 2-4-3,2-2-1-3,1-3,0-5-1-2,1-4,0-3-1-3,1zM550,232l-3,1-3,2-2,3-3,2-2,3-3,1 3,1 3,0 4,0 2-1 4,1 2-1 3-1 4,1 3-1 3,1 2-2 3-4 2-1 3-2 3-2 2-3-3,1-2,0-3,0-3-1-4,1-3,0-3,1-3,0-3-1zM591,231l-3,2-2,1-3,3-3,2-1,2-3,3 2-1 5-1 3,1 3-1 3,1 2-1 5,0 3,0 2-3 3-1 3-3 2-2 2-2 3-1-3,0-4,0-3-1-2,1-4,1-3,0-4,0zM628,229l-3,2-2,3-3,1-3,2-2,2-3,2 4,0 4,0 4,0 2-2 2-2 3-1 2-3 3-2 2-2-2,0-4-1zM195,264l-4,2-2,2-2,2-3,3-2,1-3,3-3,2 4-1 3,0 3,0 4,0 2,0 4,0 3,0 3-1 3-1 3-3 2-2 2-2 3-2 3-2 3-2-4,1-3,0-3-1-4,0-3,1-3-1-4,0zM231,262l-3,3-2,2-3,2-2,2-2,2-3,3-2,1 3,0 3-1 3,1 3,0 4-1 3,1 3,0 3-1 3,0 4-1 1-1 3-3 3-2 2-1 3-3 2-1 3-2-3-1-3,1-3,0-4,0-3-1-3,2-4-1-2,0-4,1zM274,261l-2,2-3,2-3,3-3,1-2,2-2,2-3,2 3,0 3,0 3,0 3,0 4,0 2,0 3,0 4-1 3,0 3,0 3-2 2-2 3-3 2-1 3-3 3-2 2-1-4,0-3,0-3,0-2,0-3,0-4,1-3-1-3,1-3-1zM315,260l-2,1-3,2-2,2-2,2-3,2-2,2-3,2 4,0 3,0 3,0 3,0 3-1 3,1 5,0 2-1 3,0 3-1 2-3 2-1 3-3 2-1 3-2 2-3-3,1-4-1-2,1-4,0-3,0-3,0-3,0-3,0zM356,258l-2,2-4,2-1,2-3,2-3,2-2,2-3,1 4,0 3,1 3-1 3,0 3,0 4,0 4,0 2-2 3-2 1-2 3-2 2-2 3-2 2-2-3-1-3,1-3,0-4,1-3,0-4,0zM388,256l-1,2-3,3-3,1-2,2-2,2-3,2-1,3 3-2 2,1 5,0 2-1 4,0 4,0 2,0 3-1 3-1 3-2 2-1 2-3 3-2 2-2 3-1-4-1-4,1-3,0-3,0-3,1-3-1-3,1zM426,255l-3,2-1,2-3,2-3,2-2,2-2,2-2,1 3,0 3,1 3-1 2,1 5-1 2,0 4,0 2,0 3-1 3-2 2-2 4-2 3-3 2-2 2-2-3-1-2,1-3,1-3,0-4,0-3,0-3-1-3,1zM464,254l-2,1-4,2-2,3-2,3-3,2-2,2 3,0 2-1 3,1 3-1 4,0 3,0 3-1 4,0 3,1 3,0 2-3 2-2 3-2 3-2 3-3 2-1-3-1-3,1-4,0-2,0-3,0-3,0-3,1-4-1-2,0zM507,252l-3,3-3,2-3,2-3,2-1,2-3,2 3-1 3,1 3-1 2,1 3-1 4,0 3,0 3,1 3-1 3,0 2-2 4-3 3-1 2-2 2-3 3-1-3-1-3,0-3,1-3,0-4,0-2-1-3,1-4,0-2-1zM548,251l-3,1-2,3-3,2-2,1-3,3-3,1 4,1 3,0 4,0 2,0 4,0 3-1 3,0 4,1 2-3 3-2 2-2 2-2 3-2 3-3-4,1-3,0-3,0-4,1-3,0-3-1-3,0zM584,249l-2,3-2,1-4,2-2,2-2,2-2,2 2,0 3,0 3,1 4-1 2-1 4,1 2-1 4,0 3,0 3,1 2-2 2-3 3-2 2-2 4-1 2-4-3,1-3,0-3,1-4-1-2,0-4,1-2-1-4,1-3,0zM187,284l-2,3-2,2-3,1-2,2-2,3-2,1-3,3 4-1 3,0 3,0 3-1 4,1 2-1 4,0 3,1 2-4 4-2 2-1 3-3 2-1 4-3-3,0-4,1-3,0-3,0-3-1-4,0-3,0zM224,283l-3,3-1,1-3,3-3,3-3,1-3,3 4-1 3,1 2-1 4-1 4,0 3,0 2,1 4-1 4,0 3,0 2-2 2-2 4-2 2-2 2-3 3-2-3,1-3,0-3-1-3,0-3,0-4,0-3,1-4,0-3,0zM267,281l-2,2-2,2-4,3-2,3-2,1-3,2 2,1 4,0 2-2 4,0 3,1 3,0 3,0 3-1 3,0 3,0 3-2 2-3 3-2 4-2 1-2 3-2-3,0-3,0-2,0-4,1-3,0-3,0-4,0-2,0-4,0zM310,280l-3,2-3,2-2,2-2,2-3,2-3,2 3,0 4,0 2-1 4,0 3,1 3-1 4,1 3-1 4,0 2-2 2-2 2-3 3-1 2-3 3-2-3,1-4-1-2,0-3,1-4,1-2-1-4,0-3,0zM350,278l-3,2-2,2-3,2-2,2-3,2-3,2 4,0 4,0 2,0 3-1 4,0 4,1 2-1 2-1 4-3 2-3 3,0 2-3 3-2-4,0-3,0-4,0-3,0-3,0-4,1zM384,276l-3,2-3,3-1,1-4,3-2,1-2,3 3,0 2-1 4,0 3-1 3,1 4,0 3-1 3,0 3-2 2-1 4-2 1-3 4-2 1-1-2,0-3-1-4,1-3,0-4,0-3,0-2,0zM421,275l-2,2-3,1-3,3-3,2-1,2-3,2 4,0 2,0 3-1 3,1 4-1 2,0 4-1 2,1 3-1 3-1 2-2 2-3 4-2 2-1 2-2-3,0-3,0-2,0-3,0-4,1-3-1-3,0-3,1zM460,273l-3,2-2,2-3,2-2,2-2,2-3,1 3,1 3,0 3-1 3,0 4,0 3,0 3,0 3-1 3,0 4,0 2-2 2-2 2-1 2-2 4-3 2-2-4,1-3,0-2,0-4,0-2,1-4,0-4,0-3-1-2,0zM502,272l-3,2-2,1-2,2-3,3-2,1-2,1 2,1 4,0 3-1 2,0 4-1 3,1 3,0 3,0 2-1 4,0 3-1 1-3 3-2 3-2 1-1 3-2-4,0-2,0-4,0-2,0-3,1-3,0-4-1-3,1-3,0zM543,270l-2,2-2,1-2,2-3,2-3,2-1,2 3,0 2,0 4-1 4,0 3,0 3-1 3,1 3-1 3-1 3-2 2-3 3-2 3-2-2,0-5,0-2,0-4,0-3,0-3,0-3,1zM581,268l-3,3-2,1-4,3-3,1-3,2 4,1 4-1 4,0 3-1 1-3 4-3 3-1 1-3-3,1-3-1zM143,307l-2,2-4,2-2,2-3,2-2,3-4,2 3-1 4,1 3-1 3,0 3,0 3-1 4,1 3,0 3-3 3-2 2-2 3-3 2-2 3-1-2,0-5,0-3-1-3,0-3,1-3,0-3,1zM179,305l-2,2-2,2-2,2-4,3-2,2-3,2 4,0 2-1 4,1 3-1 3,1 3-1 4-1 2,0 3,0 4,0 3-2 2-2 2-3 3-1 3-2 2-2-3-1-4,0-2,0-4,1-2,0-3,1-4-1-2,0-4,0zM223,303l-3,2-2,2-3,2-2,2-3,3-3,2 4,0 2,0 4,0 2-1 3,0 3,0 4-1 3,0 4,0 3,0 1-2 3-2 3-2 2-2 3-2 3-3-3,0-3,1-3,0-4,0-3,0-3,0-2,1-4-1-3,0zM266,300l-3,3-2,1-4,3-1,1-4,4-2,1 3,0 4,0 2-1 3,1 4-1 3,1 3,0 4-2 3,0 2-1 3-3 2-1 3-3 2-2 3-2-3,1-4-1-2,1-4,0-3,0-4,1-3-1-3,0zM305,299l-1,2-3,2-3,2-3,2-1,3-3,2 2-2 5,1 2,0 4-1 3,1 3-1 3-1 3-1 2-3 2-1 3-3 2-1 4-2-4-1-4,1-2,0-4,0-3,0-3,1zM339,296l-2,3-1,3-4,1-2,2-2,2-3,3 3-1 3,0 4-1 3,0 3,0 3,0 4,0 3,0 3-2 2-3 3-2 2-2 2-1 2-3-3,1-3,0-3,0-3,0-4,0-2,1-3-1zM377,295l-2,2-3,2-2,3-3,1-2,2-3,2 4,0 2,0 4,0 3-1 3,1 3-1 3,0 4,0 2-1 3-1 2-2 3-3 2-1 2-3 3-1-4-1-2,2-4-1-3,0-3,0-2,0-4,1-2,0zM417,293l-3,2-2,2-3,2-2,2-3,2-2,2 2,0 5-1 2,1 4-1 2-1 4,0 2,1 4,0 2-1 4,1 2-3 3-2 2-2 2-2 3-1 2-2-4,1-2-1-4-1-2,1-3,1-4,0-3,0-3,0-3,0zM458,291l-2,1-2,3-2,2-3,2-2,1-2,3 3-1 3,1 2-1 5-1 2,1 3-1 4,1 2-1 4,0 3,1 2-4 3-1 3-3 2-2 3-2-3,0-2,0-4,0-3,1-4,0-2-1-4,0-3,0-2,1zM501,290l-3,1-3,3-2,2-4,1-2,4 3-1 3-1 3,1 4-1 3,1 4-1 3,1 3-1 2-3 3-1 2-3 4-2 3-3-4,2-3-1-4,1-2-1-4,1-3,0-3,0zM538,287l-3,2-2,3-3,2-3,2-2,2 2,0 4-1 3,1 3,0 3-1 2,1 3-1 3,0 3,0 3-1 4-1 2-2 2-3 3-2 3-3-3,1-3,0-2,1-3-1-4,0-3,1-4-1-2,1-3,1z" fill="none" stroke="#000" stroke-width="2.7" stroke-linejoin="round"/><path d="M542,126 L558,128 L414,304 L396,306Z" fill="#fff"/><path d="M542,126 L558,128 L414,304 L396,306Z" fill="url(#bstip)" stroke="#000" stroke-width="2.2"/><path d="M542,126 L558,128 L414,304 L396,306Z" fill="url(#bstip)" transform="translate(3,2)"/><path d="M357,127l4,-5 8,0 3,6 M373,126l6,0M386,127l4,-5 8,0 3,6 M402,126l6,0M416,127l4,-5 8,0 3,6 M432,126l6,0M446,127l4,-5 8,0 3,6 M462,126l6,0M475,127l4,-5 8,0 3,6 M491,126l6,0M504,127l4,-5 8,0 3,6 M520,126l6,0M534,127l4,-5 8,0 3,6 M550,126l6,0M564,127l4,-5 8,0 3,6 M580,126l6,0M593,127l4,-5 8,0 3,6 M609,126l6,0M622,127l4,-5 8,0 3,6 M638,126l6,0M652,127l4,-5 8,0 3,6 M668,126l6,0M682,127l4,-5 8,0 3,6 M698,126l6,0M711,127l4,-5 8,0 3,6 M727,126l6,0M740,127l4,-5 8,0 3,6 M756,126l6,0" fill="none" stroke="#000" stroke-width="2.2"/><path d="M116,324 L144,304 L357,126 L770,126" fill="none" stroke="#000" stroke-width="2.6"/><g fill="#000"><path d="M150,296l8,-6 9,3 -2,8 -10,3z M178,282l9,-5 8,4 -3,7 -10,1z M230,290l6,-3 5,4 -3,5 -6,0z"/><circle cx="49" cy="606" r="2.8"/><circle cx="185" cy="284" r="1.2"/><circle cx="89" cy="718" r="1"/><circle cx="798" cy="712" r="1"/><circle cx="635" cy="555" r="1"/></g><path d="M556,300l214-174 0,443-18,18-20,16-32,31-36,34-30,18-24,21-39,33-11,20-12,22 0-480z" fill="#fff"/><path d="M572,287L572,737M576,284L576,734M591.3702369151492,271L591.3702369151492,721M595.3702369151492,268L595.3702369151492,717M614.4537902738999,252L614.4537902738999,701M618.4537902738999,249L618.4537902738999,698M631.5010971699321,239L631.5010971699321,686M635.5010971699321,235L635.5010971699321,683M651.7306780904188,222L651.7306780904188,673M655.7306780904188,219L655.7306780904188,671M669.300469697232,208L669.300469697232,661M673.300469697232,205L673.300469697232,657M687.5496429082326,193L687.5496429082326,644M691.5496429082326,190L691.5496429082326,640M706.2636398372828,178L706.2636398372828,626M710.2636398372828,175L710.2636398372828,622M729.4950748776005,159L729.4950748776005,603M733.4950748776005,156L733.4950748776005,600M749.8467562896459,142L749.8467562896459,587M753.8467562896459,139L753.8467562896459,583M768.9580982177903,127L768.9580982177903,568M772.9580982177903,124L772.9580982177903,567M770,126L770,567" fill="none" stroke="#000" stroke-width="1.9"/><path d="M548,782L560,760M560,760Q568,758 571,740M571,740Q594,732 610,707M610,707Q625,704 634,686M634,686Q652,685 664,668M664,668Q685,659 700,634M700,634Q719,626 732,603M732,603Q745,603 752,587M752,587Q764,586 770,569" fill="none" stroke="#000" stroke-width="2.3"/><path d="M656,200 L657,370 Q644,390 646,420 Q648,462 661,478 Q674,462 676,420 Q678,390 665,370 L666,200Z" fill="#fff" stroke="#000" stroke-width="2.2"/><path d="M652,420 Q652,392 661,382 Q670,392 670,420 Q670,455 661,470 Q652,455 652,420Z" fill="none" stroke="#000" stroke-width="2"/><ellipse cx="661" cy="432" rx="4" ry="6" fill="#fff" stroke="#000" stroke-width="2"/><path d="M661,478 L661,540" stroke="#000" stroke-width="2"/><path d="M700,140 Q690,260 700,300 L704,270 Q712,220 708,140Z" fill="#fff" stroke="#000" stroke-width="2"/><path d="M562,330a4,4 0 1,0 8,0a4,4 0 1,0 -8,0M562,350a4,4 0 1,0 8,0a4,4 0 1,0 -8,0M562,370a4,4 0 1,0 8,0a4,4 0 1,0 -8,0M562,390a4,4 0 1,0 8,0a4,4 0 1,0 -8,0M626,240a4,4 0 1,0 8,0a4,4 0 1,0 -8,0M626,380a4,4 0 1,0 8,0a4,4 0 1,0 -8,0M626,690a4,4 0 1,0 8,0a4,4 0 1,0 -8,0M696,520a4,4 0 1,0 8,0a4,4 0 1,0 -8,0M696,560a4,4 0 1,0 8,0a4,4 0 1,0 -8,0M596,700a4,4 0 1,0 8,0a4,4 0 1,0 -8,0M596,650a4,4 0 1,0 8,0a4,4 0 1,0 -8,0" fill="#fff" stroke="#000" stroke-width="2"/><path d="M532,600l68-88 125-120 45-14 0,92-170,142-68,52z" fill="#fff"/><path d="M532,600l68-88 125-120 45-14 0,92-170,142-68,52z" fill="url(#bstip)" stroke="#000" stroke-width="2.6"/><path d="M532,600l68-88 125-120 45-14 0,92-170,142-68,52z" fill="url(#bstip)" transform="translate(2,3)"/><path d="M533,612l10-10 13-11 12-12 12-9 11-10 13-11 12-12 12-10 10-11 13-11 13-11 12-11 10-11 13-11 11-10 13-11 12-11 12-12 12-10 12-10M532,625l11-9 12-11 13-11 12-11 12-9 11-12 13-10 12-12 10-9 13-12 11-9 13-12 11-10 14-9 10-11 13-11 11-10 13-11 11-10 11-10M532,639l11-11 14-9 11-11 11-10 12-12 12-9 13-11 11-9 11-11 14-9 10-12 14-9 11-11 12-10 12-10 12-10 11-12 11-8 14-12 12-10M531,652l13-11 13-9 10-10 14-10 11-10 12-10 12-11 11-9 12-10 11-10 13-11 11-10 13-9 12-10 11-10 11-11 14-10 12-9 12-10 11-9M538,594L538,607M562,572L562,586M594,542L594,556M620,518L620,533M652,488L652,504M677,465L677,481M700,443L700,460M732,413L732,431M551,595L551,608M584,565L584,580M607,545L607,559M634,520L634,536M663,494L663,509M686,473L686,490M707,453L707,470M730,433L730,451M755,410L755,428M535,623L535,636M564,597L564,611M585,578L585,592M616,551L616,566M643,527L643,543M674,500L674,516M696,480L696,497M727,453L727,470M757,427L757,445M533,637L533,650M555,619L555,632M577,599L577,613M604,576L604,591M634,550L634,565M661,527L661,543M690,502L690,519M722,474L722,492M749,451L749,469M550,636L550,650M572,617L572,631M596,598L596,612M620,578L620,592M648,554L648,569M678,529L678,545M701,510L701,527M725,489L725,507M748,470L748,488" fill="none" stroke="#000" stroke-width="2.8"/><path d="M553,598l20,-16 4,5 -20,16zM586,569l20,-16 4,5 -20,16zM609,548l20,-16 4,5 -20,16zM636,524l20,-16 4,5 -20,16zM665,498l20,-16 4,5 -20,16zM687,478l20,-16 4,5 -20,16zM709,458l20,-16 4,5 -20,16zM731,438l20,-16 4,5 -20,16zM757,415l20,-16 4,5 -20,16zM537,626l20,-16 4,5 -20,16zM566,601l20,-16 4,5 -20,16zM587,582l20,-16 4,5 -20,16zM618,555l20,-16 4,5 -20,16zM645,532l20,-16 4,5 -20,16zM676,504l20,-16 4,5 -20,16zM698,485l20,-16 4,5 -20,16zM729,458l20,-16 4,5 -20,16zM758,432l20,-16 4,5 -20,16zM535,641l20,-16 4,5 -20,16zM557,622l20,-16 4,5 -20,16zM579,603l20,-16 4,5 -20,16zM606,580l20,-16 4,5 -20,16zM636,555l20,-16 4,5 -20,16zM663,532l20,-16 4,5 -20,16zM692,507l20,-16 4,5 -20,16zM724,480l20,-16 4,5 -20,16zM751,457l20,-16 4,5 -20,16z" fill="#000"/><path d="M548,587a4.5,4.5 0 1,0 9,0a4.5,4.5 0 1,0 -9,0M572,566a4.5,4.5 0 1,0 9,0a4.5,4.5 0 1,0 -9,0M604,536a4.5,4.5 0 1,0 9,0a4.5,4.5 0 1,0 -9,0M629,512a4.5,4.5 0 1,0 9,0a4.5,4.5 0 1,0 -9,0M661,483a4.5,4.5 0 1,0 9,0a4.5,4.5 0 1,0 -9,0M686,460a4.5,4.5 0 1,0 9,0a4.5,4.5 0 1,0 -9,0M710,438a4.5,4.5 0 1,0 9,0a4.5,4.5 0 1,0 -9,0M742,409a4.5,4.5 0 1,0 9,0a4.5,4.5 0 1,0 -9,0M560,631a4.5,4.5 0 1,0 9,0a4.5,4.5 0 1,0 -9,0M582,612a4.5,4.5 0 1,0 9,0a4.5,4.5 0 1,0 -9,0M606,593a4.5,4.5 0 1,0 9,0a4.5,4.5 0 1,0 -9,0M630,573a4.5,4.5 0 1,0 9,0a4.5,4.5 0 1,0 -9,0M658,549a4.5,4.5 0 1,0 9,0a4.5,4.5 0 1,0 -9,0M687,525a4.5,4.5 0 1,0 9,0a4.5,4.5 0 1,0 -9,0M710,506a4.5,4.5 0 1,0 9,0a4.5,4.5 0 1,0 -9,0M735,486a4.5,4.5 0 1,0 9,0a4.5,4.5 0 1,0 -9,0M758,467a4.5,4.5 0 1,0 9,0a4.5,4.5 0 1,0 -9,0" fill="#fff" stroke="#000" stroke-width="2"/><path d="M548,302 L548,782 M770,126 L770,562" fill="none" stroke="#000" stroke-width="2.4"/><g fill="none" stroke="#000" stroke-linejoin="round"><path d="M1233,66l2,2 1,0 1-4 1-3-2,1zM1262,57l-2,1-1,2-2,4 5-1 4-1zM1285,77l1-4 4-1 1-2 0-5-2-2 0-4 0-3-1-1-5-1-1-1-7,2-1,3 1,3-2,4 1,2 1,2 4,5 3,2zM1289,74l4-2 2,4 5,0 2,0 4,1 2-1 1-3 3-2 0-2 2-4 0-5 0-4-1,0-4-3-4,1-6-2-3,2-3,0-3,3-1,4 0,3 0,3 1,1zM1320,54l-4,4-2,4 1,4 2,1 4,3 3-1 1,4 2-1 4,4 6-2-1-2 0-3 1-4 1-3 0-4-1-3-5-1-2,0-4,0-3,1zM1357,73l0-3 1-4-1-2 0-4 0-1-2-2-4,0-3-1-3-1-4,0-3,1-1-1 0,5 0,1 0,3-1,3 1,5 0,2 3,2 1,1 4,3 2,0 2-3 2-1 3-1zM1379,71l3-6-6-2-2-2-4-2-3-1-4,0-2,0-4,2 2,4-2,3-1,3-1,3 4,1 4,2 4,1 2-2 6,1 3-4zM1389,63l-2,1-6,1 0,1-1,6 3,1 2,4 0,3 4,2 2-3 4-2 4,0 3-1-3-5-1-2-1-2-3-3zM1229,80l-4,1-3-1-6,2 1,0-1,4 1,0 5,3 1,3 3,1 5,0 1-2 2-4 1-4-3-2zM1248,71l-1,0 2-1-1,2-2,3 1,4 0,1 3,4 2-2 4,1 1-3-2-4-1-3-1-4-2,0 0,1 0-1zM1270,82l1,1 1,4 2,4 0,2 1,4 4-4 3-2 0-3-1-4 1-2 2-3 2-3-5-2-2,0-6,1-2,4zM1295,98l4-2 2-3 3-1 4-2 0-4-2-2 0-4 0-3-5,0-1,0-3-2-4-2-4-1-1,2-2,3-2,2-1,4 0,1-1,4-2,3-1,3 4,1 4,1 2-1 4,2zM1311,92l5,0 2-1 4-3 2-2 1-2 2-3 2-3 2-2-3-1-3-3-3-3-2,0-3-1-3-2-1,3-3,1-1,3-3,1 0,4 0,2 2,3 0,2 0,4zM1346,81l-3-3 0-1-5-2-2-1-6,1-1,3-3,3 0,3-1,2-3,4 2,0 4,3 2,3 4,1 3,1 3-3 4,0 4-2-2-5 1-4zM1367,79l-4-3-2,0-5-2-1,1-3,2-4,2-1,2-1,4-1,3 1,4 3,2 3,2 3,0 1,2 3,2 3-2 4-4 1-2 2-2-1-4 0-4zM1387,87l0-3 2-2-3-2-3-5-1-1-2-4-2,3-4,2-4,1-2,1 0,4 0,5 2,3 3,2 2-1 4,2 3,0 3-2zM1401,98l2-2 3-3 2-3 4-1-3-4 1-4-1,0-2-2-3-2-2-2-4,3-3,0-3,2-4,1-1,3 0,3 3,2 4,3 1,2 2,2zM1429,86l-2-2-1-4-5,0-3-1-3,1-5,1 0,3-1,5 5,2 3,2 1,1 5,1 2,0 1-4 4-1zM1208,102l-1-2 0-4 2-3-2-2-1,0-3,0-3-2-4,1-4,2-2,1-4,3 1,2-5,3 0,3-1,3 2,2 2,1 2,1 3,2 3,2 3,1 2-4 2-3 3-1 3-4zM1229,95l-2-3-3-2-4-2-1-1-2-3-4,2-5,4-1,5 0,1 2,3-1,4 2,2 4,1 4,1 2,3 3,1 2-3 3,1 0-4 2-4 1-3-1-3zM1227,108l5,0 3,2 2,2 4,0 2,2 4-1 3-4 0-4-4-5-1-3-4,0-2-1-5-2-3,1-1,3-2,3 1,3zM1262,95l-2,2-2,1-4,2-6,4 1,6 4,2 1-1 4,2 2,3 2-2 4-3 3-1 5-2 1-1 0-5 1-2 0-4-3,1-3-1-3,0zM1275,97l0,2 1,4 0,4 0,2 3,2 0,4 4,2 1,1 2-1 2-2 3-1 2-2 5-1-2-4 0-3-1-3 2-4-3,0-5-1-3-1-4-1-2,0-6,3zM1297,97l-1,4-1,3 0,3 3,4 1,2 3,0 3,2 4,2 3-3 2-3 1-4 1-3-3-2-1-5 1-3-1-3-3-2-4,3-3,1-3,1zM1315,107l5,2 2,0 3,2 5,0 2,2 1-3 1-5 1-2 2-6-3,0-4-1-3-3-1-3-2-1-6,2-4,0-2,1-1,2 3,5-1,3 3,2zM1345,91l-2,2-3,2-2,3-2,4 0,4-2,4-1,3 0,4 3,2 2,2 1,3 2,2 2-2 4-3 2-3 2,0 1-3 3-3 1-3 3-1 3-3-2-2-1-3-2-1-4-3-1-1-4-1zM1369,91l-1,1-4,3-3,2-1,2 0,4 2,2 2,3 1,1 3,1 3,4 4-3 2-1 3-1 2-3-1-5 1-2-1-3 2-4-5,0-1-2-5,1zM1380,111l3,0 5,1 2,0 3,2 4-1 4-2 0-3 0-4-2-2 0-6-1,1-3-4-4-2-1-1-3-1-1,3-5,1 0,2 1,4 0,3 0,5zM1400,110l3,2 5,0 2,0 2,3 3-2 5-3 3,0 1-4-2-2-1-3 0-5-1-1-5-2 0-3-4-1-2,2-4,1-2,3-2,1 0,4 0,5-1,1zM1443,109l0-3-1-4-1-4 0-2-3-4-1-2-4-1-4,1-2,2-3,3-4,1 1,3 1,3 0,3 0,5 5,1 1,1 4,0 3,1 2-2 3,1zM1180,108l-4-1-5,1-2,2-2,1-3,4-2,3 1,3 1,4 3,2 5-1 3-5 0-3 3-2 1-4zM1181,109l0-1-3,5-1,3 0,2-4,5 1,2 1,0 4,4 2,2 1,0 3,4 2,0 2-3 2-1 3-1 2-3 3-1-2-4 0-4-1-2-3-2-2-1-3-1-3-1zM1198,126l3,0 4,0 3-1 5,1 2-1 4,0 2-1 0-3 2-4-2-3 1-4-3-1-2-3-3,0-2-2-4-3-3,5-2,2-1,3-3,2-3,4 1,1 1,4zM1223,112l-2,2 0,4 2,3-1,3 3,2 3,1 1,4 2-1 5-3 3,1 3-1 0-4 0-3 1-3 1-3-4-1-2,0-3-2-5-3-3-1-2,1zM1242,126l2,3 2,0 3,4 0,2 4,0 2-2 3-2 0-1 3-4 3-2-1-3-2-1 0-6-2,0-3-1-5-3-3,0 0,2-4,4-1,1-1,5-1,0zM1274,105l-1,2-4,1-2,2-4,2-2,3 1,2 1,4 1,3 2,2 3,0 4,0 2,1 3,0 4,1 0-2 1-3 1-3-1-3-2-3-3-2-1-5zM1297,112l-3,0-2,3-2,1-4,2-1,1-1,3-1,3-1,3 3,2 1,1 5,2 2-1 4,2 3-1 3-3 3,2 2-2 2-2-1-4-2-4 1-5-2,1-3-2-5-3zM1330,130l4-1 1-3 4,0-2-5-2-3-1-2-2-3-2-1-4-1-5-1-1,0-3-2-5,3-2,3-1,1-2,3 1,5 1,3 0,3 2,3 1-1 4,2 4-1 2-2 2,1 4,0zM1341,126l4,2 3,2 0,1 4,3 3-1 1,4 5,0 2-1 2,1 4,0 0-4 0-1 1-4 1-5 0-3 0-1-1-3 2-4-3-1-3-2-1-1-4-1-1,2-3,1-3,1 0,2-4,5-2,2-3,0-1,3zM1382,111l-5,1-3-1-3,0 0,6 1,1 0,4-3,3 0,2 1,3-1,2-1,4 3,1 5,2 3-1 1-3 4-2 0-2 5,0 1-3 1-2 2-5 1-4-1-3-3-1-3-1-4-2zM1393,115l0,3-1,3 1,5 2,2 1,3 4,1 2,2 3,2 3-3 3-1 3-2-1-1-1-6 1-2 0-3 0-4-4-1-3-2-3,2-3-2-3,0zM1422,136l2-3 2-1 3-2 4-3 2-4 0-3 0-2-1-4-3-1-2-3-3,1-4-1-3,0-4,3-3,2 1,1 1,4-2,3 1,5 0,3 2,0 5,3zM1435,125l2,1 1,3 4,3 0,2 3,1 2,4 3-3 2-1 2-2 3-3 2-2 2-4-3-2-2-3-2-4-5-2-1-1-5-4-2,3-4,2-3,1 1,4 1,4zM1151,135l0,5 1,3 1,6 3-2 3-2 5,0 2-2 1-4 0-3 0-3-1-3 0-4-3-3-4,3-4,3-2,1zM1172,126l-6,0 1,4 0,4 0,2-1,5 1,3 2,1 3,2 5,0 3,3 2-3 1-1 3-4 0-2 0-5 0-1-4-2-2-1-2-2-2-3zM1187,137l-1,3-1,3 1,2 1,2 4,2 1,0 4,2 2,3 2-4 5-2 3-3 2-2-1-2-3-5-1-3-1-2-3-4-1-2-4,2-2,1-3,3-1,3zM1222,123l-2,2-6-1-1,0-4,2-4,1-4,1 4,1 0,5 1,2 3,5 2,1 1,1 3,2 5,2 2-3 5-3-1-4 2-4 3-1-4-4-3-1zM1253,159l1-3 3-2-1-4 0-3-1-2 0-5-2-3 0-2-1-2-4-1-3-3-2,0-3-2-3,0-2,1-3,0-3,3-1,5 0,2-2,4 2,2 3,3 1,0 5,3 2,3 1,0 3,3 2,1 3,3zM1282,128l-2-1-3,1-5-1-2-1-2-2-5,2-2,2-2,1-2,3-1,2-2,1 0,4 1,2 0,2 2,5-1,3 0,2 2,1 4-2 3-2 1-3 5,1 2-5 2-2 2,0 5-4 1-2 1-5zM1375,139l3,3 1,4 2,5 2,0 2-1 5-1 3,1 3-1 2-1 4-1 1-3 1-2-1-4 1-1-3-4-2-1-3-2-2-3-2-3-1,2-2,4-3,2-3,2-2,2-4,2zM1406,137l-2,1-1,3 0,4-2,2 4,2 0,2 3,1 4-1 1,0 3-2 4,1 3-3 3,0-1-6-1-1-1-4-3-3-2,0-5-2-3,1-2,1zM1424,145l4,2 4,2 0,3 5-1 2,0 3-2 4-2-1-4 2-2 0-4-3-1 0-3-4-2-1-2-2-1-2-3-2,2-3,1-3,3-3,2-3,1 2,5 2,4zM1448,137l-1,5-2,1-1,3 5,4 3,5 3,1 3-2 3,1 2-3 4,0 3-3-2-3 0-1 0-4-2-3 1-3-2-3-4-2-2-1 0,2-4,1-3,3-2,1zM1476,152l1,1 3-4 1-6 0-4-2-1-2-4-5-2-2,0-5,0 1,3 0,4 2,2 0,2 0,3 2,5 2-1zM1176,160l3-4-1-3 2-3-4-2-2,0-4-3-5-1-2,1-3,0-5,2-2,1-2,2-3,5 0,5 5,0 2,2 4,1 3,2 1,1 4,1 3-1 1-2 4-4zM1199,154l-2-3-5-1-1-1-5-1-1-2-3,3-3,1-1,3 1,2-3,5 3,1 1,2 5,2 0,2 3,2 2,0 3-1 2-3 5,1 2-1-2-5-1-3zM1218,147l-1-1-5-2-1-2-4,3-2,4-2,3-4,2 1,2 1,4 2,5 1,2 5,2 1,1 5-3 1-3 1-3-1-3 1-2 0-4 0-2zM1227,142l-4,3-5,1 0,2 0,4-1,3 0,2 0,3 0,4 0,3 1,0 5,0 3,2 4,0 1-1 3,0 3,2 4-1 3-2 2-4 0-3 0-2-2-2-4-3-2-1-3-2 0-1-4-4-2-1zM1400,148l-1,0-5,1-3,1-1-1-4,1-4,3 0,2 2,4-1-1 2,2 4,3 2,3 1,2 2,3 3,2 4-2 1-2 2-2 3-1 3-1-1-5 0-2 0-4-3-4-3,0zM1424,146l-1,0-3,2-2,3-3-1-4,2-3,1 0,3 0,5 3,4 1,0 3,1 6,2 2,1 3-2 2-3 2-1 1-2 0-2 2-4 1-3-2-3-5-2zM1431,161l4,2 3,2 3,2 3,4 1,0 4-1 3,0 4-3-1-3 1-5 1-4-5-1-2-2-3-3-2-1-4-1-2,2-2,1-4,1-1,4-1,2zM1464,174l3-1 2-2 5-1 3-1 1-4 0-4-1-3-1-3 1-4-4,1-3-2-2,2-5,0-2,2-1,1-4,1 0,4 1,2-2,5 5,2 2,2zM1489,157l-4-2-4-1-5-3 1,1-1,3 1,4 0,3 0,4-1,2 4,2 3,3 3,1 0-3 3-3 1-4 1-3-3-2zM1148,159l0,3-4,4-1,5-3,4 3,4 5,1 1,2 1,2 3,1 2-2 6-1 1,1 4-2 3,0-2-4 1-2-1-5-1-2-1-1-5-1-3-1-2-1-4-4zM1167,181l5,2 2,2 1-2 4-1 4-1 3,0-1-1 3-4 0-4 0-1-3-4-2-2-2-1-2-1-2-3-3,2-3,3-2,1-3,1 1,3 1,3-1,4zM1202,165l-3,0-3,1-2,2-4,0-2,1 0,5-1,2-1,2 0,4 3,1 0,2 3,2 3,3 4-1 4-1 4-3 1,0 2-4 1-2 0-4 1-1-1-3-3-2-2-2zM1212,169l-1,5 1,3-1,3-2,2 1,4 2,3 4,3 3-1 1-2 4-2 2,1 5-2 2-2 3,1 2-1 2-4-1-3 0-5 1-4-3,2-2-2-4,0-3,0-2-1-4,1-2,0-4,0zM1423,179l1-5 0-5-4-2-3-1-4-2-2,0-4,1-1,3-3,0-3,3-2,1-2,5 0,3 2,5 3,3 4,2 1,3 2-1 3-3 4-2 0-3 5-1 1-4zM1422,169l1,6 0,3 5,2 3,2 1,2 3,2 5-2 2-2 1-2 2-5 0-2-2-3-2-3-3-2-4-1-4-2-1,2-2,1-1,4zM1441,183l3,2 3,2 5,2 3,0 2,3 4-2 1-3 1-5 1-2 1-2-1-3-1-3-5-2-1-3-4,1-4,3-3,1-3,3 0,4zM1485,174l-4-3-1-2-3,0-4,1-3,2-2,1-3,2-2,2-1,4 2,1-1,5 3-1 3,2 3,3 2,0 4,0 1-2 2-2 2-2 2-4 1-1 1-3zM1140,175l-1,4-2,2-2,5-1,8-1,4 3,2 3,2 5,0 3-2 4,0 2-3 0-1 1-5 0-3 0-4-2-1-3-1-4-3 0-2-3-2zM1154,184l-1,4 0,4 2,3-3,3 5,0 1,3 4,1 1,2 5-1 4-3 0-1-1-5 1-3 1-3 0-2-3-4-1-3-4,2-2,2-3-1-3,3zM1196,190l-4-2-3-3-2-1-2-2-4-1-1,2-2,1-4,0 0,3-1,5-1,2-1,5 0,2 2,1 4,1 3,2 3,0 4,4 1-4 4-4 2-1-2-5 4-3zM1218,199l-2-2 1-4-1-3-4-2-2-2-3,0-5,1-4,2-2,0-3,3 1,5-2,2 0,3 3,1 2,0 3,2 4,1 2,2 4-1 3,1-1-1 3-3zM1241,201l0-3 1-2-1-5 0-3-2-1 1-3-5,0-1,2-4-1-4,3-2,1-4,1-2-1-4,1 2,4 2,3-2,4 3-1 4,2 4,2 2,0 3,0 5,4 2-4zM1430,204l2-2 2-3 1-4 0-3 1-3 0-3-3-3-4-1-4-3-2-2-3,2-1,3-2,3-3,2-2,3-3,2-3,1 0,3 3,0 3,0 4,1 1,4 5-2 1,3 2,0zM1441,183l-3,0-3,2-1,3 1,4-3,5 0,2-1,5 4,1 4,2 4,1 2-2 2-1 3-3 3,1 2-3 3-2-1-4-1-3-1-1-4-1-4-1-1-4zM1477,191l-3-2-1,0-4-1-2,1-4-3-3,3-3,3 0,4 0,3-1,1 2,3 2,3 4,0 3-1 3-1 2-1 3-1 2-1 4,0-1-2 0-4zM1491,206l-1-1 4-5 2-2 1-5-3-6-1-2-2-3-3-3-1,2-4,4-2,2 0,3-3,1 1,3 2,3 0,4 2,3 4,2zM1132,203l0,3-2,3 0,3-1,3 0,8 3,1 4-1 1-1 4-1 3-2 4-1-1-2-1-4-3-3 0-4-2-2-5-3zM1153,199l-3-1-3,2-4,2-2,1 1,3 1,4 2,3 2,3-1,3 5,1 4,3 5-3 2-3 1-5-2-2 2-1 1-5-3-2-2-1-4-1zM1186,207l-2,0-3-1-4-3-3,0-3-1-4,0-3,2-2,3-1,4 1,2 0,3-2,4 4,0 2,2 5,2 1,2 4-1 2-3 3-2 3,1 4-2-3-4 0-4zM1212,208l-4,1-3-1-3-2-1-1-4-2-3-1-2,1-4,3-1,1 0,5-1,2 1,5 2,2 3,0 3,3 2-1 3,1 4-1 5-1 3-1-2-5 2-4zM1218,224l2,0 3-1 4-1 5,0 3-1 2-1-1-3 0-4 1-4 0-3-4,1-4-2-3-1-3-1-2-1-4-1-1,2-3,3-2,3 0,3 2,3-2,5 4,3zM1402,207l-1,5 1,2 1,3 0,3 1,4 1,1 4,1 3-1 2-3 4,0 1,0 3-1 2-5 2-3 1-1 1-4 1-4-1-2-4-2-2-1-4,0-3-1-3-1-2,0-3-3-2,3 0,5-3,4zM1443,208l-4-3-3,0-5-3-1,1-3,4-1,3-1,4 0,2-2,6 4-1 2,3 1,3 4,3 1-1 3-1 1-1 3-2 1-3 0-2 2-5-2-1 0-4zM1455,200l-1,2-3,0-4,1-2,2-4,2 2,4 0,2 0,4 1,3 0,1 4,0 4,3 2-1 3,1 3-3 3-4-1-2 0-3-1-3 0-2-3-3zM1482,201l-5,1-2,0-3,0-3,3-1-1-3,2-4,1 2,2 1,3-1,4 2,2 2,0 4,1 3,3 2,1 3,0 2-3-1-3 3-1 1-5 1-3 1-1-2-5zM1500,223l1-7-2-4-3-3-3-1-3-2-3,1-1,3-1,1-2,5-2,3 0,3 3,0 4,2 1,1 6-1 2,0zM1132,228l0,3 0,3 4,2 3,3 4,1 2,3 4-1 4-5 1-3-1-3 0-3 1-3 1-3-2-3-7-1-2,3-2,0-2,0-6,2-1,3zM1157,222l-2,4-1,3-1,3 1,3-2,5 2-1 3,1 3,2 3,2 4-2 5-3 2,0 1-4-2-4-1-6-2-2-4,1-3-4-2-1zM1187,218l-2,1-2,1-5,2-1,2-4,2-1,4 1,5 2,3 2,3 2,1 3,0 2,3 4-4 1,0 4-4 1-1 1-4 0-2 1-6-3-2-4-2zM1193,226l2,2-1,5 1,3 1,2 3,1 5,1 3,3 2,2 3-1 1-1 3,0 0-6 0-4 0-2 1-3-1-4-3-2-2-2-3,2-3-1-3,2-4,2zM1216,242l4,2 3-1 2,4 2,0 4,4 1-1 5,0 4,0 1-6 0-3-1-2 0-3 1-3-2-5-1-4 0-1-2-1-1,0-2-2-2,2-5,2-2-2-4,1-4,1 1,4-1,4 0,2-1,4zM1435,230l0-2-3-1-4-3-1-1-4-2-2,1-3,0-3,1-4,2-3,0-4-1 2,5-1,2 2,3 3,2 1,1 3,1 3,4 4,2 0,2 5-1 2-3 4-1 4,0 1-3-1-5zM1458,237l0-1-1-4 1-5-1-4-3,1-4,0-1-3-5,0-2,3-1,2-4,3-2,1 2,4-2,3 0,4 2,1 5,3 1,3 2-3 4-1 3-3 3-2zM1464,219l-4,2-3,4 0,2 0,5 0,3 1,4 4,2 2,1 3,1 4-3 2,0 3,0 3-3 0-2 1-3-1-3 1-4 0-3-4,1-4-2-1-1-5-1zM1480,221l-2,2 0,3 1,2 1,4 0,2-1,5 3-1 3,0 4,1 2,0 5-2 1-3 0-3 1-4 0-2-5,0-4,0-2-3-3-1zM1137,257l4,0 2,1-1-4 1-1 1-4 1-4 0-2-3-4-3-2-3-2-2-1-3,2-3,5 0,3-1,3 1,4 5,2zM1165,244l-3-2-4,0-4-1-3-3-2,3-5,0 0,3 0,4-1,4-1,4 1,2 3,3 3,0 1,2 3-1 4,0 3-3 3,0 3-3-1-1-1-5 1-2zM1185,257l1-4-2-2 0-3-1-4-2-3-3-1-2-1-1,0-5,0-3,2-2,2 0,4-1,3 1,4 1,2 3,2 4,4 2-1 4,0 3-1zM1201,259l3-3 1-3 0-2 3-4 1-3-3-1-2-1-4-3-4,0-3-3-1,1-1,4-3,1-3,1 1,6-1,3-1,2 1,5 4,0 3,3 1,2 4-1 2-2zM1229,249l-3-1-2-2-2,0-4-4-2-1-2,1-3,3-3-1-1,4-1,2-2,3-1,5-1,1 2,0 4,1 5,0 3,2 3,0 3-2 1-2 4-3 1-2zM1406,233l-2,1-2,4-2,2-2,2-3,4 1,3-1,3 0,2 4,4 2,0 4,2 4,2 1-3 4-1 3-1 1-2 1-3 2-5 1-3-1,0-4-2-2-3-2,0-2-2-3-2zM1443,248l-2-4-2-1-2-3-5,2-2,2-4-1-4,1 0,5-2,3-3,3 4,2 2,2 4,2 2,3 2,3 4-3 2-2 2-1 2-3 4-1-2-5zM1456,263l2,0 2-1 3-3 2-1 3-5 0-3 1-3 0-5-4-1-2-2-4,0-3,2-4,0-2,4-3,0-5,2 3,4-1,4 4,4 3,1 2,2zM1488,257l-2-3 0-3-1-5-1-1-2-2 1-4-3-1-4,0-1,1-5,1-1,3-1,4 0,4-3,2 1,4 2,3 4,0 3,1 5,0 2,2 4-3zM1497,240l-2-3-2,2-5,0-3,1-3-2 0,3 2,4-1,2 3,3 0,2 1,3 3,2 2-3 3-2 3-4 1-2zM1135,274l4,3 1,2 4,2 3-2 3-3 3-3-2-4 0-3 0-3-4-3-2,0-4-3 0,1-3,4-2,3 0,4 0,2zM1175,263l-2-3-5,0-2-2-3,0-3,3-4,0-2,2-3,1 0,4 2,1-1,3 4,3 3,1 1,2 2,3 4,1 2-2 3-2 2-4 1-1 1-5-1-3zM1200,276l-1-5-1-3-1-3-4-2-1-2-4-1-3-1-3,1-3,0-2,2-3,3 1,3-3,4 1,4 1,1 5,0 3,1 2,1 4,2 1,2 2-2 4-2 2-1zM1221,276l2-6-1-3-1-3 0-3-2,0-3,0-3-2-4,2-4-2-3,1-2,1-2,4 0,2 2,5 1,2 1,4 5-2 3,0 2,1 4-1 2-2zM1229,280l2-1 2-3 5-1 1-2 4-2 3,0 2-3 2,0 3-1-1-3-2-3-2-4-2-2-2-2-2-4-4-1-4,0-5,1 0,4-4,2 0,4-2,3 1,2 0,5 0,1-1,4 3,2zM1409,262l-4-1-4-4-2,0-5-1-2,1-2,1-2,3-4,3 0,4-2,2 1,4 1,3 3,2 2,1 4,0 4,1 1,1 3,1 3-2 2-3 4,0 1-3-1-4-1-2 1-5zM1407,262l1,4 3,3 0,4 1,2 4,1 4,1 4,3 3,1 1-2 2-3 1-3 1-4 1-3-3-1-4-4-1-1-4-2-2-2-3,2-2-1-3,3zM1455,272l1-5-1-3-3-3-1-1-3-2-4-3-1,2-4,4-2,2-3,1-3,3-1,3 1,1-1,3-2,4 5,1 2,2 4-1 3,0 2-2 4,0 2-4 2,0zM1482,263l-2-1-4-1-2-2-5-1-3,0-4,2-2,2-2,0-3,2 0,4 0,4 3,1 4,3 2,1 4,1 3,2 2-2 4,1 3-1 1-3 0-3 2-2 1-4zM1167,284l-5-3-1-3-4,0-1-2-3-3-3,4-4,1-1,2-1,4 2,4-1,2 4,1 2,3 3,2 2,3 3,0 1-2 2-4 5-1-2-4 1-1zM1178,299l2-4 5-1-1-3 3-5 2-2 2-1-4-2-3-1-4-1-2-1-2-2-2-1-4,1-3,3-1,4-1,4 1,1 0,4 3,2 4,2 3,1zM1203,277l-4-3-1,2-4,3-3,1-2,3 0,2-3,3 0,4-1,2 1,0 4,2 5,2 1,0 4-1 2-3 1-1 3-2-2-3 0-4-1-3zM1230,291l0-1 0-4-3-5 2-2-4-1-2-4-4,1-2,0-4,1-2,1-4,0-4,0 2,3 1,3-1,3 2,5 2,3 2,1 4,2 2,2 3-3 4,0 1-3zM1230,291l2,4 4,2 2,1 5-3 3-1 2-1 2,0 3-1 1-5 1-3 1-3 0-5 4-2-1-3-3-4-2-2-4,1-2,2-2,3-3,0-3,1-4,3-3,0 0,2-3,1-2,4 1,3-1,5zM1263,306l4-2 2-4 2-2 2,0 2-3-3-3 0-2 0-5-3-3-1-3-2-2 0-3-3-2 0,1-4-1-1,1-1,6 1,1-3,5-1,2 0,3 1,2 3,5 1,1 0,3 3,2zM1263,272l3,2 2,3 0,4 2,3 0,3 2,1 0,4 2,2 3,2 4-2 2,1 3,1 4,2 1-5 3-2 2-3-2-2-1-2-3-3-2-2-3-2-1-2-4,0-4-2-2,1-4,0-4-2zM1370,274l-2,1-3,2 0,2-5,1-2,3-1,0-2,3 3,3 3,2 1,2 3,1 1,4 3,0 4,1 3-4 5,1 1-4-1-4 1-1 2-4-1-2 2-5-3-2 0-3-7-2zM1402,295l1-5-1-5 0-3-2,1-5-1-2-2-2-2-4,0-2,0-2,3-1,2 0,3 0,3-2,3 0,4 4,2 0,1 3,2 2,1 2,0 5-4 3-1 2-1zM1411,276l-2,0-2,4-3,2-3,2 2,1-1,4 2,4 3,1 2,5 3,0 4-1 2-2 3-3 2-2 3,0-2-5 1-3 0-3-3-2-4-1-3-1zM1440,280l-4-1-5-1-1-1-5,3 0,3 1,5 0,1 1,4 4,0 5,0 5-1 0-3-2-4zM1460,295l-5-2-1-4-1,6-1,4 4,2 4-1zM1476,295l1-1 2-3 2-3 0-5-3-1-1-3-3,0-1,5-2,3-2,4 2,2zM1161,310l3,4 2,3 5-2 3,0 3-2 4,0-2-2 1-4-1-2 0-4-1-4-2,0-3-2-5-1-1-3-4,2-2,4-2,1 0,4-2,3 3,3zM1181,313l3,4 2-2 4-1 3-1 2,1 5-2-1-2-1-4-1-4 0-4-4-2-2-1-3-1-4-1-2,1-5,2 0,5 2,4 0,1 2,4zM1205,290l-1,1-2,3-3,3-3,1 2,5 0,3 1,4 0,2 4,1 2,0 4-1 3-3 1-2 3-1 2-2-1-6-2,0-2-3-3-2zM1217,306l2,4 2,1 2,3 3,3 2,2 2,4 3-4 2-2 3-1 3-1 0-4 0-2-2-5 0-3 1-3-3-3-3-1-4-3-5,3-2,2-2,2-3,1-1,5zM1264,308l0-1-3-3-2-2 0-4-3-3-1-2-1-2-3,2-3-1-3,2-1,2-4,1-1,3 1,3-1,6 2,3 1,3 3,0 3,1 4,0 3-2 4-2 3-2zM1274,315l4,0 4-3 4,1 1-3-1-4 1-2 2-4 1-3-4-2-4,0-2-1-4,1-2-1-1,4-3,0-2,3-3,3-2,2 1,2 1,2 3,2 3,0zM1290,297l-3,2 0,5 0,3-1,1-1,4 4,2 3,3 3-1 1,1 4-2 4,1 3,0 1-5 0-3 1-1 0-5 1-2-1-4 1-2-4-4-5,0-1-2-2,1-5,2 0,4zM1309,292l1,5-2,2 0,4 1,1-1,6-2,1 0,4 4,1 1,4 3,2 3,3 1-2 2-3 3-4 2-2 3-1-2-3-2-4 1-3-2-4-1-1-2-3-4-3-4,2zM1323,291l-4,3 2,3 2,3 2,4 1,3-1,2 2,4 4,1 3-1 4,2 3-1 2,0 3,1 1-4-2-5 1-1 0-4 0-3 0-3 0-3-1-4-1,0-5-2-5,1-4,1-1,1-4,3zM1356,317l2-3 4,0 2-4 3-1-1-4 2-4 0-1 0-3-3-2-4-3-2-3 0-1-3-1-5-2-2,2-4,0-1,3 1,6-1,1 1,4 2,4-2,4 2,2-1,3 2,2 4,0zM1391,313l-1-5 0-2 0-2-3-4-2-1-3-1-1-2-3,0-6,1-3,1-1,4 0,4-1,3 3,3 2,1 1,0 5,3 1,2 2-1 4,1 3-2zM1414,298l-4,0-4-3-4-2-1,1-4,2-2,4-3,2-4,1 1,2 2,6 1,2 3,1 2,2 5-1 2,0 2-2 6,0 2-2-1-4 0-4zM1430,296l-3-3-2-3-2,2-2,1-2,3-4,1-2,2-1,4 3,3-1,5 4,3 1,1 2,1 1,1 3-4 3-2 0-2 3-3-2-5-1-2zM1445,303l2,6 3,1 4,0 1,0 1-1 1-4-1-4-3-2-3-1-3,2zM1463,298l-4,0-2,3-1,4 1,4 5,1 3-3 1-7zM1184,329l0-3 1-4 0-2-2-3-2-5-4,2-4,1-4,0-2,1-1,6 1,3 2,2 2,2 3,1 6,0zM1207,332l0-3 0-3-1-3-2-2-1-3-1-3-4-3-3,2-2,0-3,1-4-1-1,1-2,4 1,3-1,5 0,2 2,3 2,3 6,3 2-3 5,1 4-1zM1204,314l-1,3 2,2 1,3-1,5 0,2 1,3 4,1 6,3 1-2 2-2 4-3 2-1 2-1 4-1 0-5-2-2-2-3-3-2-2-2-4-2-1-2-3,1-4,2-2,0-1,0zM1238,334l3,0 2-1 2,2 3-2 5,1 2,1 4-2-2-3-2-3-1-4 0-2-2-5-3,0-4,0-4,0-3,0-3,3-3,2-1,1-2,3 3,4 2,1zM1272,331l-1-3 1-5 0-1 2-4 0-3-1-3-3-1-4-1-2-1-4,1-2,1-2,5-3,0 1,4 1,4 0,2 1,3 1,6 1,1 3-3 4-1 3-1zM1286,340l0-2 3-3 3-1 0-3 0-5-1-2 1-3-2-3-3-2-2-3-3,1-3,1-4,0-1,2 0,3 0,3-1,4-2,3 3,3 4,1 3,2 1,1zM1317,327l0-2-3-4-2,0-4-3-3-3-2,1-2-1-4,2-3,0-3,1 0,3 0,4 1,2-1,5 1,1 3,1 3,0 3,0 2,2 2-3 4,0 3-2 3,0zM1326,337l3-1 6,0 1-4 3-1-1-5 2-3 1-2 1-2 1-4-3,0-2-2-3,0-4,1-4-2-1,3-2,3-2,1-3,3-3,2 1,4 3,3 1,0 2,3zM1362,332l-2-3 0-3-2-3-2-2 0-3-5-3-3,1-3-2-2,2-1,1 0,4-3,3 1,4-3,3-1,3-1,2 3,3 2,1 2,1 3,3 2-2 3-2 3-3 4,0 1-4zM1383,319l-4-3-1,0-4-2-3-2-3-1-2-3-3,4-3,2-2,2-2,1 1,3 0,2 1,5 3,3 0,3 2,1 6,1 2,1 3-1 2,0 1-4 1-2 3-4-1-4zM1385,337l3-1 3-2 4-1 3,0 3-2-2-4 0-1-2-4 1-3-1-2-3-3-2,0-4,1-2,3-3,1-2,3-1,3-2,4 0,2-2,4 4,1 4-1zM1422,320l-1-4-1,0-4-3-3-2-2,0-3,1-4,2-2,1-5,1-1,4 2,3 1,2 1,4 1,3 1,0 5,4 3,2 3-5 2-1 3-3 1-2 3-3zM1442,327l-6-4-1,0-4-3-4,2-4-2 0,6 0,1 2,3 3,2 2,3 2,2 0,2 1,0 3-2 4,1 2-2 2-4 1,1-3-3zM1193,337l0,4 3,5 2,0 1,6 2,0 3,1 4,0 4-2 3-1 2-3-1-4-2-1 0-5-1-1-2-1-4-2-2,1-6,2-3,0-3,2zM1214,334l0,5 2,2 0,3-1,2 5,3 1,1 4,3 3,0 3-1 3-1 4-2-1-4 0-4-1-4 0-3-2-4-1-2-4-2-2,1-1,2-3,1-2,1-5,2zM1259,335l0-1-4,1-3-2-3,1-4,1-3,0-3-1-3,0 1,4 0,4 1,2-1,5 3,1 3-1 4,3 3-3 3,0 1-3 5,0-2-4 1-4zM1272,358l3-2 2-3 3-1 1-3 4,0 0-4 1-4-3-2-3-2-2-1-3-3-3,0-3-2-5,3-2-1-2,1-3,4 1,4-1,3 4,1 1,3 4,2 2,2 2,1zM1298,358l2-1 3-1 2,0 4-1-1-3-2-3 1-4-1-4-3-2 2-3-3,1-5-2-1,0-4-2-3,3-2,3-3,1 0,5 0,3 2,1 2,5 5,1 3,1zM1321,352l1-3 0-3 3-3 0-2 0-5-2-2-1-1-2-2-3-3-4,2-2,0-2,2-3,3-3,2 2,1 0,3 2,5-1,2 3,4 0,3 6,1 2-2zM1338,363l3-4 0-5 3-1 2-4 0-3-2-2-1-2-3-3-3-1-2-3-5,1-4,0-2,5 0,2-2,3-1,2 0,4 3,1 2,3 5,0 3,3 3,1zM1362,331l-4,2-3,3-3,0-1,5-4,0-3,2 1,4 0,2 2,2 4,1 4,0 4,3 3,1 1,0 4-2 3-2 0-6 1-2 1-3-2-4-3-2-2-2zM1370,336l0,4 0,4 1,4 0,2 1,3 4,3 1,1 4,2 3,1 3,0 3-2 5-4-3-2-1-4-2-3 1-1-4-3 0-3-4-1-3-3-3,0-1,2zM1410,336l-3-2-3,0-5-3-2,3-3-1-1,3-5,1-1,0 0,3 1,2 1,3 2,3 1,2 1,4 3,0 5,0 3,0 1-1 2-2 3-1 0-3-1-3 0-5zM1434,341l-4-5-2,0-1-4-2-3-1-2-1-2-4,2-3,2-2,3-2,2-3,3 0,2 1,4 1,4-2,4 2-1 2,1 6-1 2,0 2-2 3-1 3-1zM1213,364l5,1 3,0 3-2 3-3 0-2-1-4 0-2-5-1-3-3-1,0-3,1-3,1-2,4 0,4 3,4zM1250,368l-1-3-1-4 1-4-2-1 1-3-3-2-5-1-2-3-4,3-2,3-3,1-1,5-1,1 1,4 3,0 3,4 4,1 4-1 1,1 2,0zM1269,365l2-3 0-5-1-3-4-1-1-1-3-3-3-1 0-4-3,3-4,1-3,2-2,2 0,2 2,4 0,4-1,4 2,3 3,1 3,1 5,0 1,0 3-3 3-1zM1280,372l4-1 3-1 3-1 4-3 1,0 4-6-4-3-3-3-1-1-3-2-3-2-4,0-1,2-4,3-1,2-2,2-1,2-2,4 3,2 2,3 2,2zM1303,378l4,0 2,0 4-3 3,0 2-2 0-1 0-5-2-3 0-1-1-6-2-1-4-2-4,1-2,3-3-1-2,1-2,8 3,1 1,3 1,4 0,2zM1319,374l2,1 3,3 4-4 3-2 1-1 2-2 4-2 1-2 0-4-5-2-2-2-2,0-4-3-2,1-2-3-3,3-5,2 1,2 0,3 1,3 0,2 1,5zM1338,365l5,0 2,2 1,4 2,0 5-1 1,0 5-1 1-3 3-3-1-3 3-4-4,0-3-1-4-3-4-1-1-1-2,0-2,3-4,3 0,4-3,3zM1384,366l0-4-3-3-4-3-2,0-3-3-3-2-1,4-3,2-3,2-1,5-1,3 4,3 3,3 2,1 6-2 2,0 3-2zM1399,370l2-5 3-2-1-4 0-4-2-2-3,2-5,0-3,2-2,2-3,3-1,6 1,1 3-1 4,1 1,1 4,1zM1272,385l1-3 3,1 3-1 3-2 1-2-3-5-2-1-1-3-4-2-2-2-4,1-2,3-4,1 2,4 0,5 5,3zM1284,381l2,0 4,2 3,1 4,1 3-3 4-1-1-3-1-1-1-3-1-4-3-3-1-1-3,1-1,1-4,2-4,1-3,2 0,4 3,3zM1304,380l1,2 2,4 3,0 3,4 2-1 3-2 3-3 3-2 0-2 1-2-3-1-3-3-3,0-4,3-2-1-3,2-3,1-2,1zM1341,383l4,0 2-4 2-1-1-7-2-1-3-1-1-2-3-3-3,2-3,2-1,2-3,3-2,3-3,1 2,1 4,4 3,2 2,1 2,0zM1369,378l0-5-1-1-4-4-4-3-2,3-3,2-4,1-1,0 0,6 3,4 3,0 2,1 5,0 2-2z" stroke-width="2.1"/><path d="M1293,151l6-4-3-14-13-2-3,7 4,6zM1308,130l-12,3 3,14 4,3 3-1 6-17zM1313,132l-1,0-6,17 8,1 2-2zM1320,149l3-1 8-15 0-3-18,2 3,16zM1335,149l-4-16-8,15 6,4zM1331,133l4,16 2,1 5-2 7-17-7-6-4-1-7,6zM1357,145l3-8-11-6-7,17 5,4zM1284,144l-4-6-15,12 16,8 3-2zM1291,156l2-1 0-4-9-7 0,12zM1293,155l6,3 5-5-1-3-4-3-6,4zM1306,149l-3,1 1,3 4,4 1,0 4-1 1-6zM1320,149l-4-1-2,2-1,6 2,2 2,0 4-2zM1329,153l0-1-6-4-3,1 1,7 1,1 6-2zM1338,154l-1-4-2-1-6,3 0,1 4,4zM1344,157l3-2 0-3-5-4-5,2 1,4 2,3zM1357,154l0-9-10,7 0,3 2,3 4,1zM1381,150l-5-10-7-4-9,1-3,8 0,9 6,5zM1283,163l-2-5-16-8-8,3 17,13zM1281,158l2,5 7,0 1-7-7,0zM1297,163l2-3 0-2-6-3-2,1-1,7 1,1 1,0zM1308,157l-4-4-5,5 0,2 5,3zM1361,164l1,0 1-5-6-5-4,5 1,2zM1364,166l3,1 16-9 0-6-2-2-18,9-1,5zM1261,169l12,6 2-4-1-5-17-13-5,5zM1283,163l-9,3 1,5 5,1 4-2zM1291,164l-1-1-7,0 1,7 5,0zM1378,172l5-14-16,9 2,5 3,2zM1243,167l16,16 5-5-3-9-9-11-5,2zM1273,175l-12-6 3,9 3,2 6-2zM1275,171l-2,4 0,3 1,2 3,0 4-3-1-5zM1374,181l6-2-2-7-6,2-1,3 2,3zM1383,182l1,0 13-1 0-8-14-15-5,14 2,7zM1241,169l-2,14 3,9 5,0 12-5 0-4-16-16zM1264,178l-5,5 0,4 1,0 6-1 1-6zM1267,180l-1,6 4,2 2-1 2-3 0-4-1-2zM1263,196l-3-9-1,0-12,5 11,6zM1270,189l0-1-4-2-6,1 3,9 2,0 3-2zM1402,189l-5-8-13,1-2,5 0,7 1,0 1,2zM1247,192l-5,0-2,9 14,5 3-2 1-6zM1268,202l-3-6-2,0-5,2-1,6 7,2 3-2 1-1zM1394,207l7,1 6-13-1-2-4-4-18,7 0,6zM1237,220l1,1 17-11-1-4-14-5-4,6zM1264,206l-7-2-3,2 1,4 2,2 6-1zM1264,206l-1,5 4,4 2-2 1-2-3-7zM1384,213l10-6-10-5-2,9zM1257,212l-2-2-17,11 1,1 15,1 4-4zM1263,211l-6,1 1,7 6,1 3-2 0-3zM1382,218l10,6 12,0-3-16-7-1-10,6-2,5zM1265,225l-1-5-6-1-4,4 5,8zM1264,220l1,5 2,3 6-2-1-3-3-4-2-1zM1381,219l-2,8 7,1 6-4-10-6zM1254,223l-15-1 3,19 17-9 0-1zM1267,228l-2-3-6,6 0,1 4,3 4,0zM1273,226l-6,2 0,7 2,1 6-4 0-2-1-3zM1376,233l2,1 6,0 2-6-7-1 0,1zM1386,228l-2,6 9,11 2,1 10-14 0-7-1-1-12,0zM1242,241l-1,8 4,3 16-11 2-6-4-3zM1263,235l-2,6 6,4 4-4-2-5-2-1zM1269,236l2,5 5,2 4-2 0-3-1-3-4-3zM1289,240l-2-2-6,4 5,5 3-3zM1369,242l1,0 1-8-2,0-3,2zM1374,232l-3,2-1,8 6,1 2-2 0-7-2-1zM1378,241l15,4-9-11-6,0zM1267,245l-6-4-16,11 9,14 3,2 7-9zM1276,243l-5-2-4,4-3,14 11-8zM1281,242l-1-1-4,2-1,8 5,1 6-3 0-2zM1289,244l-3,3 0,2 4,4 5-4 0-2-1-2-1-1zM1300,252l2-1 0-4-2-1-5,1 0,2zM1357,250l4,0 5-4 0-1-3-3-2,0-3,1zM1370,251l6-2 0-6-6-1-1,0-3,3 0,1zM1376,243l0,6 14,10 5-4 0-9-2-1-15-4zM1264,259l-7,9 3,3 4,1 17-14-1-6-5-1zM1286,249l-6,3 1,6 5,1 4-4 0-2zM1290,253l0,2 5,4 3-1 2-6-5-3zM1303,259l3-3 0-3-4-2-2,1-2,6zM1315,255l-1-3-1,0-2-1-5,2 0,3 6,4 3-2zM1315,255l0,3 6,4 5-4-1-1-5-4zM1338,252l-3,5 6,2 3-1 0-6-5-1zM1344,252l0,6 6,2 4-3 0-6-3-1-2,0zM1354,251l0,6 3,2 7-1-3-8-4,0zM1361,250l3,8 5,3 1-10-4-5zM1369,261l7,9 5,1 9-12-14-10-6,2zM1281,258l-17,14 19,3 4-5-1-11zM1287,270l7-6 1-5-5-4-4,4zM1294,264l6,4 4-3-1-6-5-1-3,1zM1306,256l-3,3 1,6 4,1 2-1 2-5zM1321,262l-6-4-3,2-2,5 6,3zM1326,258l-5,4 4,6 7-1-1-8-3-1zM1332,267l1,1 8-2 0-7-6-2-2,0-2,2zM1344,269l5-3 1-6-6-2-3,1 0,7zM1350,260l-1,6 4,2 4-3 0-6-3-2zM1357,259l0,6 13,8 6-3-7-9-5-3zM1294,264l-7,6-4,5 14,14 3,0 0-21zM1308,266l-4-1-4,3 0,21 3,0 7-12zM1310,265l-2,1 2,11 7-5-1-4zM1317,272l4,1 2-1 2-4-4-6-5,6zM1325,268l-2,4 11,6-1-10-1-1zM1334,278l4,9 5,0 1-18-3-3-8,2zM1345,288l10-2 1-2-3-16-4-2-5,3-1,18zM1353,268l3,16 14-11-13-8zM1303,289l6,4 12,1 2-2-2-19-4-1-7,5zM1323,272l-2,1 2,19 15-5-4-9z" stroke-width="2.1"/><path d="M1329,159l-1-4-6,2 1,2 4,1zM1330,160l3-1 0-2-4-4-1,2 1,4zM1339,157l1,0-2-3-5,3 0,2 2,1zM1304,163l4,1 2-2-1-5-1,0-4,6zM1310,162l1,2 3-2 1-4-2-2-4,1zM1315,158l-1,4 2,2 3-1-2-5zM1322,157l-1-1-4,2 2,5 2,1 2-2 0-3zM1323,159l0,3 2,1 2-1 0-2zM1327,162l2,2 2-1-1-3-1-1-2,1zM1335,160l-2-1-3,1 1,3 2,1 2-2zM1340,163l-1-6-4,3 0,2 2,2zM1340,163l2,1 2-2 0-5-4,0-1,0zM1344,162l2,1 2-1 1-4-2-3-3,2zM1354,161l-1-2-4-1-1,4 2,2zM1304,166l0-3-5-3-2,3 1,2 4,2zM1304,166l2,1 2-1 0-2-4-1zM1311,164l-1-2-2,2 0,2 2,1 2-1zM1316,164l-2-2-3,2 1,2 2,2 2-2zM1321,164l-2-1-3,1 0,2 3,2 2-2zM1325,163l-2-1-2,2 0,2 2,1 2-1zM1327,167l2-1 0-2-2-2-2,1 0,3zM1331,163l-2,1 0,2 3,1 1-1 0-2zM1337,166l0-2-2-2-2,2 0,2 3,1zM1340,168l2-2 0-2-2-1-3,1 0,2zM1342,164l0,2 1,1 3-1 0-3-2-1zM1350,164l-2-2-2,1 0,3 1,1 2-1zM1353,166l1-5-4,3-1,2 2,1zM1353,166l3,2 5-4-7-3zM1294,169l-2-5-1,0-2,6 2,1zM1294,169l2,1 1-1 1-4-1-2-5,1zM1298,165l-1,4 3,1 2-1 0-2zM1302,169l3,2 1-1 0-3-2-1-2,1zM1310,167l-2-1-2,1 0,3 2,0 1,0zM1314,168l-2-2-2,1-1,3 4,1 1-1zM1317,172l2-3 0-1-3-2-2,2 0,2zM1321,166l-2,2 0,1 2,1 2-1 0-2zM1323,167l0,2 2,2 2-1 0-3-2-1zM1327,170l2,1 3-2 0-2-3-1-2,1zM1333,166l-1,1 0,2 2,2 2-1 0-3zM1336,170l1,1 2-1 1-2-3-2-1,1zM1343,170l0-3-1-1-2,2-1,2 3,2zM1347,167l-1-1-3,1 0,3 3,0 1,0zM1352,170l-1-3-2-1-2,1 0,3 3,1zM1354,170l2-1 0-1-3-2-2,1 1,3zM1358,171l4-2 2-3-2-2-1,0-5,4 0,1zM1289,170l-5,0 1,2 4,3 2-1 0-3zM1291,174l2,0 3-1 0-3-2-1-3,2zM1297,174l3-1 0-3-3-1-1,1 0,3zM1300,170l0,3 2,1 2-1 1-2-3-2zM1308,170l-2,0-1,1-1,2 1,2 4-1zM1309,170l-1,0 1,4 1,1 2-2 1-2zM1313,171l-1,2 3,2 2-2 0-1-3-2zM1317,173l2,1 2-1 0-3-2-1-2,3zM1325,171l-2-2-2,1 0,3 2,1 2-1zM1327,175l3-1-1-3-2-1-2,1 0,2zM1330,174l3,0 1-3-2-2-3,2zM1333,174l2,1 2-2 0-2-1-1-2,1zM1342,172l-3-2-2,1 0,2 2,1 3-2zM1346,170l-3,0-1,2 1,2 3,0zM1347,170l-1,0 0,4 2,1 2-3 0-1zM1350,172l2,2 2-1 0-3-2,0-2,1zM1356,174l2-1 0-2-2-2-2,1 0,3zM1362,173l0-4-4,2 0,2 2,2zM1369,172l-2-5-3-1-2,3 0,4 3,2zM1284,170l-4,2 1,5 2,1 2-1 0-5-1-2zM1285,177l2,1 2-1 0-2-4-3zM1289,175l0,2 2,2 3-2-1-3-2,0zM1294,177l1,0 2-1 0-2-1-1-3,1zM1300,173l-3,1 0,2 3,2 1-1 1-3zM1305,175l-1-2-2,1-1,3 2,2 3-2zM1309,174l-4,1 1,2 2,1 2-1 0-2zM1310,175l0,2 2,1 3-1 0-2-3-2zM1315,175l0,2 1,1 3-1 0-3-2-1zM1321,173l-2,1 0,3 1,1 2-2 1-2zM1323,174l-1,2 3,2 1-1 1-2-2-2zM1326,177l3,1 2-1-1-3-3,1zM1330,174l1,3 3,1 1-1 0-2-2-1zM1339,174l-2-1-2,2 0,2 2,1 3-1zM1339,174l1,3 1,1 2-1 0-3-1-2zM1343,174l0,3 2,1 3-1 0-2-2-1zM1348,175l0,2 2,1 2-1 0-3-2-2zM1352,174l0,3 1,1 3-1 0-3-2-1zM1360,177l0-2-2-2-2,1 0,3 2,1zM1362,178l3-2 0-1-3-2-2,2 0,2zM1371,177l1-3-3-2-4,3 0,1 3,2zM1277,180l4,2 2-2 0-2-2-1zM1283,180l2,2 2-1 0-3-2-1-2,1zM1289,177l-2,1 0,3 2,1 3-1-1-2zM1291,179l1,2 3-1 0-3-1,0zM1297,181l2-1 1-2-3-2-2,1 0,3zM1301,177l-1,1-1,2 2,2 2-2 0-1zM1306,177l-3,2 0,1 3,2 2-1 0-3zM1308,178l0,3 2,1 2-2 0-2-2-1zM1312,178l0,2 3,2 1-1 0-3-1-1zM1316,178l0,3 2,1 3-2-1-2-1-1zM1322,176l-2,2 1,2 2,1 2,0 0-3zM1325,181l1,0 3-1 0-2-3-1-1,1zM1331,181l2-1 1-2-3-1-2,1 0,2zM1333,180l2,2 2-2 0-2-2-1-1,1zM1340,177l-3,1 0,2 3,2 2-1-1-3zM1342,181l1,1 3-2-1-2-2-1-2,1zM1346,180l2,2 1-1 1-3-2-1-3,1zM1354,180l-1-2-1-1-2,1-1,3 3,1zM1356,177l-3,1 1,2 2,1 2-1 0-2zM1363,181l-1-3-2-1-2,1 0,2 3,2zM1368,178l-3-2-3,2 1,3 1,0 3,0zM1373,180l-2-3-3,1-1,3 2,2zM1274,184l5,2 2-1 0-3-4-2-3,0zM1281,182l0,3 1,0 3-1 0-2-2-2zM1285,182l0,2 2,2 2-2 0-2-2-1zM1293,184l-1-3-3,1 0,2 2,1zM1297,184l0-3-2-1-3,1 1,3 2,1zM1299,185l2-1 0-2-2-2-2,1 0,3zM1301,182l0,2 3,1 1-1 1-2-3-2zM1310,182l-2-1-2,1-1,2 3,2 3-2zM1312,180l-2,2 1,2 1,1 2-1 1-2zM1314,184l2,1 2-1 0-2-2-1-1,1zM1322,184l1-3-2-1-3,2 0,2 2,1zM1326,181l-1,0-2,0-1,3 2,2 3-2zM1331,184l0-3-2-1-3,1 1,3 2,1zM1333,185l2-1 0-2-2-2-2,1 0,3zM1340,182l-3-2-2,2 0,2 2,1 3-1zM1340,182l0,2 1,2 3-2-1-2-1-1zM1348,182l-2-2-3,2 1,2 2,1 1-1zM1352,182l-3-1-1,1-1,2 3,2 2-2zM1356,181l-2-1-2,2 0,2 2,1 2-1zM1358,180l-2,1 0,3 2,1 2,0 1-3zM1360,185l3,1 1-1 0-4-1,0-2,1zM1367,181l-3,0 0,4 3,1 2-2 0-1zM1369,184l2,1 3-1 0-3-1-1-4,3zM1374,184l1,2 8-4-3-3-6,2zM1272,187l5,3 2-3 0-1-5-2zM1281,189l2-1-1-3-1,0-2,1 0,1zM1285,189l2-1 0-2-2-2-3,1 1,3zM1291,185l-2-1-2,2 0,2 2,1 2-2zM1295,185l-2-1-2,1 0,2 3,2 0-1zM1298,189l1-1 0-3-2-1-2,1-1,3zM1301,189l3-2 0-2-3-1-2,1 0,3zM1308,186l-3-2-1,1 0,2 2,2 1-1zM1308,186l-1,2 3,1 2-1 0-3-1-1zM1312,185l0,3 2,2 2-3 0-2-2-1zM1320,188l0-3-2-1-2,1 0,2 3,1zM1323,189l1-2 0-1-2-2-2,1 0,3zM1328,188l1-3-2-1-3,2 0,1 3,1zM1332,188l1-3-2-1-2,1-1,3 3,1zM1332,188l4,1 1-1 0-3-2-1-2,1zM1340,184l-3,1 0,3 3,1 2-1-1-2zM1344,184l-3,2 1,2 2,1 1-1 1-3zM1350,186l-3-2-1,1-1,3 3,1 2-1zM1352,184l-2,2 0,2 2,1 2-1 0-3zM1358,185l-2-1-2,1 0,3 3,1 1-1zM1363,187l0-1-3-1-2,0 0,3 2,1zM1367,186l-3-1-1,1 0,1 1,2 3-1zM1367,186l0,2 2,2 2-2 0-3-2-1zM1371,188l1,1 3-1 0-2-1-2-3,1zM1382,187l2-5-1,0-8,4 0,2 2,1zM1277,190l-5-3-2,1 0,1 5,3 2-1zM1279,192l1-1 1-2-2-2-2,3 0,1zM1285,192l0-3-2-1-2,1-1,2 4,2zM1289,189l-2-1-2,1 0,3 2,2 3-2zM1292,192l1,0 1-3-3-2-2,2 1,3zM1294,189l-1,3 3,1 1-1 1-3-4-1zM1300,193l2-2-1-2-2-1-1,1-1,3zM1306,189l-2-2-3,2 1,2 2,2 2-1zM1310,191l0-2-3-1-1,1 0,3 1,0zM1314,191l0-1-2-2-2,1 0,2 2,3zM1319,188l-3-1-2,3 0,1 3,2 2-1zM1321,192l2-1 0-2-3-1-1,0 0,4zM1325,192l2,0 0-4-3-1-1,2 0,2zM1331,189l-3-1-1,0 0,4 2,1 2-1zM1335,192l1-3-4-1-1,1 0,3 2,1zM1340,192l0-3-3-1-1,1-1,3 2,2zM1345,191l-1-2-2-1-2,1 0,3 2,1zM1345,188l-1,1 1,2 1,1 2,0 0-3zM1348,189l0,3 2,1 2-2 0-2-2-1zM1357,189l-3-1-2,1 0,2 2,1 2,0zM1360,189l-2-1-1,1-1,3 2,1 3-2zM1363,187l-3,2 1,2 1,1 2-1 0-2zM1367,188l-3,1 0,2 3,2 1-1 1-2zM1368,192l3,1 2-2-1-2-1-1-2,2zM1376,192l1-3-2-1-3,1 1,2zM1382,194l0-7-5,2-1,3zM1270,189l-2,5 4,2 3-1 0-3zM1275,192l0,3 1,1 3-1 0-3-2-1zM1279,195l2,1 1-1 2-2-4-2-1,1zM1287,194l-2-2-1,1-2,2 3,2 2-2zM1287,194l0,1 2,2 3-1 0-4-2,0zM1292,196l1,1 3-1 0-3-3-1-1,0zM1296,193l0,3 2,1 1-1 1-3-3-1zM1304,195l0-2-2-2-2,2-1,3 3,1zM1305,197l3-2-1-3-1,0-2,1 0,2zM1312,194l-2-3-3,1 1,3 2,1 2-2zM1315,197l2-2 0-2-3-2-2,3zM1317,193l0,2 2,2 2-1 0-4-2,0zM1321,196l1,0 3-1 0-3-2-1-2,1zM1327,192l-2,0 0,3 1,2 3-2 0-2zM1331,192l-2,1 0,2 2,1 2-1 0-2zM1337,194l-2-2-2,1 0,2 3,2 1-2zM1342,195l0-2-2-1-3,2 0,1 3,2zM1346,195l0-3-1-1-3,2 0,2 2,1zM1346,192l0,3 2,1 2-1 0-2-2-1zM1350,195l2,1 2-1 0-3-2-1-2,2zM1354,192l0,3 3,1 1-1 0-2-2-1zM1358,193l0,2 2,1 2-1 0-3-1-1zM1364,191l-2,1 0,3 2,1 3-1 0-2zM1367,193l0,2 1,2 4-1-1-3-3-1zM1375,195l1-3-3-1-2,2 1,3 1,0zM1383,194l-1,0-6-2-1,3 3,2zM1272,196l-4-2-3,2 3,6 4-3zM1272,196l0,3 3,1 1-1 0-3-1-1zM1276,196l0,3 2,1 3-2 0-2-2-1zM1282,195l-1,1 0,2 2,2 1-1 1-2zM1285,197l-1,2 3,1 2-2 0-1-2-2zM1289,197l0,1 2,3 3-2-1-2-1-1zM1296,200l2-1 0-2-2-1-3,1 1,2zM1299,196l-1,1 0,2 2,2 2-1 0-3zM1302,200l2,0 2-2-1-1-1-2-2,2zM1306,198l3,1 1-1 0-2-2-1-3,2zM1310,196l0,2 3,1 2-1 0-1-3-3zM1315,198l2,2 1,0 1-3-2-2-2,2zM1320,200l2-1 0-3-1,0-2,1-1,3zM1322,199l2,1 3-2-1-1-1-2-3,1zM1329,195l-3,2 1,1 2,1 2-1 0-2zM1333,195l-2,1 0,2 3,2 2-1 0-2zM1340,197l-3-2-1,2 0,2 1,1 3-1zM1341,199l3,0 0-3-2-1-2,2 0,2zM1345,200l2-1 1-3-2-1-2,1 0,3zM1350,200l2-2 0-2-2-1-2,1-1,3zM1356,199l1-3-3-1-2,1 0,2 2,2zM1358,195l-1,1-1,3 2,1 2-1 0-3zM1360,196l0,3 3,1 1-1 0-3-2-1zM1368,199l0-2-1-2-3,1 0,3 3,1zM1372,196l-4,1 0,2 3,1 2-2 0-2zM1378,199l0-2-3-2-2,1 0,2 2,2zM1384,202l0-6-1-2-5,3 0,2 5,3 1,0zM1269,204l5-2 1-2-3-1-4,3 0,1zM1279,202l-1-2-2-1-1,1-1,2 2,2zM1280,203l3-1 0-2-2-2-3,2 1,2zM1283,200l0,2 2,2 2-2 0-2-3-1zM1287,200l0,2 3,1 1-1 0-1-2-3zM1291,201l0,1 2,1 3-1 0-2-2-1zM1300,203l0-2-2-2-2,1 0,2 1,2zM1305,203l-1-3-2,0-2,1 0,2 1,1zM1304,200l1,3 4,0 0-4-3-1zM1313,199l-3-1-1,1 0,4 1,1 3-2zM1314,203l2-1 1-2-2-2-2,1 0,3zM1316,202l3,3 1-2 0-3-2,0-1,0zM1320,203l3,1 2-2-1-2-2-1-2,1zM1327,203l2-1 0-3-2-1-3,2 1,2zM1334,202l0-2-3-2-2,1 0,3 2,1zM1338,202l-1-2-1-1-2,1 0,2 1,1zM1341,203l0-4-1,0-3,1 1,2 2,2zM1345,202l0-2-1-1-3,0 0,4 3,0zM1347,204l3-2 0-2-3-1-2,1 0,2zM1354,200l-2-2-2,2 0,2 2,2 2-1zM1358,200l-2-1-2,1 0,3 2,1 2-2zM1363,202l0-2-3-1-2,1 0,2 2,1zM1367,202l0-2-3-1-1,1 0,2 2,2zM1369,203l2-1 0-2-3-1-1,1 0,2zM1375,200l-2-2-2,2 0,2 3,1 1-1zM1383,202l-5-3-3,1 0,2 2,1zM1276,207l0-3-2-2-5,2 6,3zM1279,207l1-1 0-3-1-1-3,2 0,3zM1283,207l2-2 0-1-2-2-3,1 0,3zM1290,203l-3-1-2,2 0,1 3,2 2-1zM1294,206l-1-3-2-1-1,1 0,3 0,1zM1297,204l-1-2-3,1 1,3 1,0 2-1zM1300,208l2-1-1-3-1-1-3,1 0,1zM1302,207l2,0 1-1 0-3-4,1zM1308,207l2-2 0-1-1-1-4,0 0,3zM1314,203l-1-1-3,2 0,1 2,2 3-1zM1316,207l2-1 1-1-3-3-2,1 1,3zM1319,205l-1,1 3,2 3-2-1-2-3-1zM1327,206l0-3-2-1-2,2 1,2 1,1zM1331,203l-2-1-2,1 0,3 2,1 2-2zM1335,203l-1-1-3,1 0,2 3,2 1-1zM1338,207l2-1 0-2-2-2-3,1 0,3zM1342,207l2,0 0-4-3,0-1,1 0,2zM1347,204l-2-2-1,1 0,4 2,0 1-1zM1350,207l2-1 0-2-2-2-3,2 0,2zM1356,204l-2-1-2,1 0,2 2,1 2,0zM1360,207l0-4-2-1-2,2 0,3 2,1zM1362,207l3-2 0-1-2-2-3,1 0,4zM1369,206l0-3-2-1-2,2 0,1 2,2zM1374,203l-3-1-2,1 0,3 2,1 2,0zM1375,202l-1,1-1,4 3,1 1-2 0-3zM1377,206l3,1 4-5-1,0-6,1zM1269,204l-1-1-1,1 3,7 4-2 1-2zM1274,209l2,2 3-1 0-3-3,0-1,0zM1279,210l1,0 4,0-1-3-3-1-1,1zM1288,207l-3-2-2,2 1,3 3-1zM1290,206l-2,1-1,2 1,2 4-1-2-3zM1292,210l1,0 2,0 0-4-1,0-4,1zM1295,206l0,4 2,1 2-1 1-2-3-3zM1304,209l0-2-2,0-2,1-1,2 3,1zM1308,210l0-3-3-1-1,1 0,2 2,1zM1310,211l2-1 0-3-2-2-2,2 0,3zM1312,207l0,3 2,1 2-2 0-2-1-1zM1316,209l3,2 2-1 0-2-3-2-2,1zM1325,210l0-3-1-1-3,2 0,2 2,1zM1329,207l-2-1-2,1 0,3 2,1 2-2zM1331,210l2-1 1-2-3-2-2,2 0,2zM1334,207l-1,2 2,2 3-1 0-3-3-1zM1338,210l1,1 3-2 0-2-2-1-2,1zM1344,207l-2,0 0,2 1,2 3-1 0-3zM1346,207l0,3 2,2 2-2 0-3-3-1zM1353,209l1-2-2-1-2,1 0,3 1,1zM1358,209l0-1-2-1-2,0-1,2 3,2zM1358,209l3,3 2-2-1-3-2,0-2,1zM1363,210l2,1 2-2 0-2-2-2-3,2zM1372,210l-1-3-2-1-2,1 0,2 2,2zM1376,208l-3-1-2,0 1,3 1,1 3-2zM1380,210l0-3-3-1-1,2 0,1 2,2zM1380,210l2,1 2-9-4,5zM1270,211l-1,2 6,1 1-1 0-2-2-2zM1276,213l3,1 1,0 0-4-1,0-3,1zM1280,214l3,1 2-1-1-4-4,0zM1284,210l1,4 3,0 0-3-1-2zM1288,214l4,0 1-4-1,0-4,1zM1297,213l0-2-2-1-2,0-1,4 4,1zM1302,211l-3-1-2,1 0,2 3,2 2-2zM1305,213l1-3-2-1-2,2 0,2 2,1zM1308,215l2-1 0-3-2-1-2,0-1,3zM1310,214l2,0 3-1-1-2-2-1-2,1zM1314,211l1,2 1,1 2-1 1-2-3-2zM1323,211l-2-1-2,1-1,2 3,2 2-2zM1328,214l-1-3-2-1-2,1 0,2 2,2zM1331,214l0-4-2-1-2,2 1,3 1,0zM1333,215l2-2 0-2-2-2-2,1 0,4zM1339,213l0-2-1-1-3,1 0,2 2,2zM1343,211l-1-2-3,2 0,2 3,1 1,0zM1348,213l0-1-2-2-3,1 0,3 3,0zM1353,213l-2-2-1-1-2,2 0,1 3,2zM1354,214l2-2 0-1-3-2-2,2 2,2zM1356,212l3,2 2-1 0-1-3-3-2,2zM1361,213l2,2 2-2 0-2-2-1-2,2zM1367,209l-2,2 0,2 1,1 3-1 0-2zM1373,213l0-2-1-1-3,1 0,2 2,1zM1378,211l-2-2-3,2 0,2 2,1 3-1zM1384,213l-2-2-2-1-2,1 0,2 4,5zM1275,214l-6-1-2,2 0,3 2,1 6-2zM1278,217l1-3-3-1-1,1 0,3 1,1zM1281,219l2-2 0-2-3-1-1,0-1,3zM1285,214l-2,1 0,2 2,2 3-1 0-4zM1288,218l1,0 3-1 0-3-4,0zM1292,214l0,3 1,1 3-1 0-2zM1296,217l1,1 2-1 1-2-3-2-1,2zM1302,213l-2,2-1,2 3,1 1-1 1-3zM1303,217l3,1 2-1 0-2-3-2-1,1zM1308,217l2,2 3-2-1-3-2,0-2,1zM1315,213l-3,1 1,3 1,1 2-1 0-3zM1321,215l-3-2-2,1 0,3 2,1 3-2zM1323,213l-2,2 0,1 2,2 2-1 0-2zM1329,214l-1,0-3,1 0,2 2,1 2-1zM1333,217l0-2-2-1-2,0 0,3 2,1zM1335,218l2-1 0-2-2-2-2,2 0,2zM1337,217l3,1 1-1 1-3-3-1-2,2zM1346,217l0-3-3,0-1,0-1,3 2,2zM1347,218l3-1 1-2-3-2-2,1 0,3zM1350,217l2,2 2-3 0-2-1-1-2,2zM1354,216l3,1 2-1 0-2-3-2-2,2zM1362,217l1-2-2-2-2,1 0,2 3,2zM1366,217l0-3-1-1-2,2-1,2 3,1zM1369,213l-3,1 0,3 3,1 1-1 1-3zM1373,213l-2,1-1,3 3,1 2-1 0-3zM1378,213l-3,1 0,3 4,3 2-1 1-1zM1275,217l-6,2 3,4 5-3-1-2zM1277,220l1,1 3-1 0-1-3-2-2,1zM1283,222l2-1 0-2-2-2-2,2 0,1zM1285,221l2,1 2-1 0-3-1,0-3,1zM1293,218l-1-1-3,1 0,3 2,1 2-1zM1297,220l0-2-1-1-3,1 0,3 2,0zM1302,218l-3-1-2,1 0,2 3,2 2-1zM1302,218l0,3 2,1 2-1 0-3-3-1zM1306,221l2,1 2-2 0-1-2-2-2,1zM1310,220l2,2 2-2 0-2-1-1-3,2zM1319,220l-1-2-2-1-2,1 0,2 3,2zM1321,221l2-1 0-2-2-2-3,2 1,2zM1327,218l-2-1-2,1 0,2 2,2 2-1zM1329,217l-2,1 0,3 2,1 2-1 0-3zM1331,221l3,1 1-1 0-3-2-1-2,1zM1335,218l0,3 2,1 2-2 1-2-3-1zM1341,217l-1,1-1,2 3,2 1-2 0-1zM1343,220l4,1 0-3-1-1-3,2zM1349,222l3-3-2-2-3,1 0,3zM1352,219l2,2 3,0 0-4-3-1zM1362,218l-3-2-2,1 0,4 1,0 3-1zM1365,218l-3-1 0,1-1,2 2,1 2,0zM1366,222l3-2 0-2-3-1-1,1 0,3zM1369,218l0,2 2,2 2-1 0-3-3-1zM1375,217l-2,1 0,3 2,1 4-2zM1272,223l1,3 1,1 4-3 0-3-1-1zM1278,221l0,3 3,1 1-1 1-2-2-2zM1287,225l0-3-2-1-2,1-1,2 3,2zM1289,221l-2,1 0,3 2,1 2-1 0-3zM1293,221l-2,1 0,3 2,1 3-2-1-3zM1296,224l1,1 3-1 0-2-3-2-2,1zM1304,222l-2-1-2,1 0,2 2,1 2-1zM1306,225l2-2 0-1-2-1-2,1 0,2zM1308,223l2,2 3-1-1-2-2-2-2,2zM1317,222l-3-2-2,2 1,2 2,1 2-1zM1318,225l3-1 0-3-2-1-2,2 0,2zM1321,224l2,2 2-1 0-3-2-2-2,1zM1327,221l-2,1 0,3 2,1 2-2 0-2zM1329,222l0,2 2,1 2,0 1-3-3-1zM1337,222l-2-1-1,1-1,3 3,1 2-2zM1337,222l1,2 2,1 2-1 0-2-3-2zM1342,222l0,2 1,0 2,0 2-3-4-1zM1345,224l3,2 2-2-1-2-2-1zM1350,224l2,1 1-1 1-3-2-2-3,3zM1357,225l2-1-1-3-1,0-3,0-1,3zM1358,221l1,3 3,1 1,0 0-4-2-1zM1363,221l0,4 2,0 1-1 0-2-1-1zM1366,224l3,1 1-1 1-2-2-2-3,2zM1373,221l-2,1-1,2 3,2 2-1 0-3zM1375,222l0,3 4,3 0-1 2-8-2,1zM1275,230l6-2 0-3-3-1-4,3zM1282,224l-1,1 0,3 2,1 2-2 0-1zM1285,227l2,2 2-1 0-2-2-1-2,1zM1291,225l-2,1 0,2 2,2 2-2 0-2zM1293,226l0,2 2,1 3-1-1-3-1-1zM1302,225l-2-1-3,1 1,3 1,1 3-1zM1302,225l0,3 1,0 3,0 0-3-2-1zM1306,228l1,0 3-1 0-2-2-2-2,2zM1314,229l1-4-2-1-3,1 0,2 3,2zM1316,229l2-2 0-2-1-1-2,1-1,4zM1318,227l3,2 1-1 1-2-2-2-3,1zM1327,226l-2-1-2,1-1,2 3,1 2-1zM1331,228l0-3-2-1-2,2 0,2 1,1zM1336,228l0-2-3-1-2,0 0,3 2,2zM1338,224l-2,2 0,2 1,1 3-1 0-3zM1343,224l-1,0-2,1 0,3 2,2 2-2zM1345,224l-2,0 1,4 2,0 2-1 0-1zM1348,226l0,1 2,1 2-1 0-2-2-1zM1354,229l3-1 0-3-4-1-1,1 0,2zM1359,224l-2,1 0,3 1,1 3-1 1-3zM1361,228l2,2 2-2 0-3-2,0-1,0zM1366,224l-1,1 0,3 2,1 2-1 0-3zM1373,226l-3-2-1,1 0,3 3,2zM1375,225l-2,1-1,4 2,2 2,1 3-5zM1275,232l4,3 4-3 0-3-2-1-6,2zM1283,229l0,3 2,0 2,0 0-3-2-2zM1291,232l0-2-2-2-2,1 0,3 3,1zM1295,232l0-3-2-1-2,2 0,2 3,1zM1299,229l-1-1-3,1 0,3 2,1 2-1zM1303,231l0-3-1,0-3,1 0,3 2,1zM1306,232l1-1 0-3-1,0-3,0 0,3zM1310,227l-3,1 0,3 3,1 2-1 1-2zM1312,231l2,2 4-1-2-3-2,0-1,0zM1318,232l2,0 1-3-3-2-2,2zM1325,232l0-3-3-1-1,1-1,3 3,1zM1327,228l-2,1 0,3 2,1 1-2 0-2zM1331,228l-3,1 0,2 3,1 2-1 0-1zM1333,231l3,2 2-1-1-3-1-1-3,2zM1342,232l0-2-2-2-3,1 1,3 1,1zM1342,230l0,2 2,1 2-2 0-3-2,0zM1350,228l-2-1-2,1 0,3 2,1 2-1zM1352,232l2-1 0-2-2-2-2,1 0,3zM1354,231l2,2 2-2 0-2-1-1-3,1zM1358,229l0,2 3,2 2-2 0-1-2-2zM1367,231l0-2-2-1-2,2 0,1 2,1zM1372,230l-3-2-2,1 0,2 2,3 2,0 3-2zM1285,232l-2,0-4,3 1,3 5-3zM1287,232l-2,0 0,3 2,1 3-1 0-2zM1294,233l-3-1-1,1 0,2 1,1 3-1zM1295,236l2-1 0-2-2-1-1,1 0,2zM1299,232l-2,1 0,2 2,2 3-2-1-2zM1302,235l2,1 2-1 0-3-3-1-2,2zM1306,235l2,1 2-1 0-3-3-1-1,1zM1310,232l0,3 3,1 1-1 0-2-2-2zM1314,233l0,2 3,2 1-2 0-3zM1323,233l-3-1-2,0 0,3 3,2 2-2zM1325,232l-2,1 0,2 2,1 3,0-1-3zM1327,233l1,3 3-2 0-2-3-1zM1331,232l0,2 2,2 2-1 1-2-3-2zM1338,232l-2,1-1,2 2,2 2-2 0-2zM1339,235l2,2 3-2 0-2-2-1-3,1zM1346,231l-2,2 0,2 2,1 2-1 0-3zM1352,235l0-3-2-1-2,1 0,3 2,1zM1357,235l-1-2-2-2-2,1 0,3 3,1zM1359,236l2-1 0-2-3-2-2,2 1,2zM1365,232l-2-1-2,2 0,2 2,1 2-1zM1366,236l3-2-2-3-2,1 0,3zM1280,238l0,3 1,1 6-4 0-2-2-1zM1291,236l-1-1-3,1 0,2 2,2 2-1zM1294,239l1-3-1-1-3,1 0,3 3,0zM1299,238l0-1-2-2-2,1-1,3 3,1zM1299,237l0,1 2,2 3-1 0-3-2-1zM1304,239l1,1 4-1-1-3-2-1-2,1zM1309,239l4-1 0-2-3-1-2,1 1,3zM1314,235l-1,1 0,2 1,2 3-1 0-2zM1321,237l-3-2-1,2 0,2 1,0 3-1zM1325,239l0-3-2-1-2,2 0,1 2,2zM1327,240l2-1-1-3-3,0 0,3zM1331,234l-3,2 1,3 2,1 2-1 0-3zM1333,236l0,3 2,1 2-1 0-2-2-2zM1337,237l0,2 2,0 2-1 0-1-2-2zM1346,236l-2-1-3,2 0,1 3,2 2-2zM1348,235l-2,1 0,2 2,2 2-2 0-2zM1355,236l-3-1-2,1 0,2 3,2 2-1zM1356,240l3-1 0-3-2-1-2,1 0,3zM1361,242l2,0 0-6-2-1-2,1 0,3zM1363,236l0,6 3,3 3-3-3-6-1-1zM1294,239l-3,0-2,1 0,4 4,0zM1294,245l4-3-1-2-3-1-1,5zM1300,243l1-1 0-2-2-2-2,2 1,2zM1301,242l3,1 1-1 0-2-1-1-3,1zM1308,243l2-1-1-3-4,1 0,2zM1313,243l1-1 0-2-1-2-4,1 1,3zM1318,239l-1,0-3,1 0,2 2,2 3-2zM1323,242l0-2-2-2-3,1 1,3 2,2zM1326,243l1-3-2-1-2,1 0,2zM1329,244l2-1 0-3-2-1-2,1-1,3zM1334,244l1-1 0-3-2-1-2,1 0,3zM1340,242l-1-3-2,0-2,1 0,3 2,0zM1341,238l-2,1 1,3 1,1 3-1 0-2zM1344,240l0,2 2,2 3-1-1-3-2-2zM1350,238l-2,2 1,3 1,0 2,0 1-3zM1353,240l-1,3 2,1 2-1 0-3-1-1zM1356,243l2,0 3-1-2-3-3,1zM1295,247l5-1 0-3-2-1-4,3zM1300,243l0,3 2,1 2-1 0-3-3-1zM1304,243l0,3 3,1 1-1 0-3-3-1zM1308,246l2,1 2-1 1-3-3-1-2,1zM1316,244l-2-2-1,1-1,3 3,1 1-1zM1321,244l-2-2-3,2 0,2 2,1 3-2zM1323,247l2,0 1-4-3-1-2,2 0,1zM1325,247l2,1 3-2-1-2-3-1zM1330,246l1,1 2,0 1-3-3-1-2,1zM1333,247l2,1 2-1 0-4-2,0-1,1zM1340,247l1-1 0-3-1-1-3,1 0,4zM1341,243l0,3 2,1 3-2 0-1-2-2zM1346,244l0,1 3,5 2,0-1-7-1,0zM1352,243l-2,0 1,7 3,1 0-7zM1354,251l3-1 1-7-2,0-2,1zM1304,246l-2,1 0,4 4,2 1-6zM1308,246l-1,1-1,6 5-2-1-4zM1315,247l-3-1-2,1 1,4 2,1zM1314,252l4-3 0-2-2-1-1,1-2,5zM1323,247l-2-2-3,2 0,2 2,1 2-1zM1325,251l2-2 0-1-2-1-2,0-1,2zM1327,248l0,1 2,1 1,0 1-3-1-1zM1331,247l-1,3 2,1 3-2 0-1-2-1zM1335,249l3,3 1-1 1-4-3,0-2,1zM1339,251l5,1-1-5-2-1-1,1zM1344,252l5-2-3-5-3,2 1,5zM1318,249l-4,3 1,3 5-2 0-3zM1320,250l0,3 5,4 0-6-3-2zM1326,258l2,0 1-8-2-1-2,2 0,6zM1328,258l3,1 2-2-1-6-2-1-1,0zM1333,257l2,0 3-5-3-3-3,2z" stroke-width="2.3"/><path d="M1508,217l-1,5 1,1 5,0 1-6-1,0zM1508,223l-2,5 1,0 6,1 0-6zM1507,228l0,6 6,0 0-5zM1507,234l-2,1 1,4 6,1 1-6zM1506,239l-1,2 0,4 6,1 1-6zM1505,245l-1,1 1,4 5,1 1-5zM1505,250l-3,2 1,4 6,1 1-6zM1503,256l-2,3 1,3 5,1 2-6zM1502,262l-3,3 1,2 5,2 1-1 1-5zM1500,267l-2,4 0,1 6,2 1-5zM1498,272l-3,5 7,2 2-5zM1494,283l5,2 3-6-7-2zM1494,283l-1,1-2,4 6,3 0-1 2-5zM1494,296l0-1 3-4-6-3-1,1-1,4zM1489,293l-3,1 1,5 4,2 1,0 2-5zM1487,299l-3,1-1,4 5,3 1-1 2-5zM1483,304l-3,1 0,4 5,3 1-1 2-4zM1480,309l-3,2 0,2 5,4 0-1 3-4zM1474,318l4,3 1-1 3-3-5-4-1,1-3,2zM1474,318l-4,4 5,3 3-4zM1468,324l-1,3 4,3 4-5-5-3zM1467,327l-2,0-2,4 4,4 0-1 4-4zM1459,335l4,4 4-4-4-4-3,1zM1459,335l-3,1-1,4 3,4 1-1 4-4zM1455,340l-4,0-1,3 4,5 1-1 3-3zM1450,343l-3,2-1,3 3,4 1-1 4-3zM1446,348l-4,1-1,3 3,4 1-1 4-3zM1441,352l-5,1 0,3 3,4 2-1 3-3zM1436,356l-5,1-1,1 4,6 2-2 3-2zM1430,358l-4,4 3,5 2-1 3-2zM1426,362l-1,0-4,3 3,5 1-1 4-2zM1421,365l-2,0-3,3 2,5 2-1 4-2zM1416,368l-3,0-3,3 3,5 2-1 3-2zM1410,371l-2,0-3,3 3,5 1-1 4-2zM1402,382l2-1 4-2-3-5-3,0-2,3zM1400,377l-4-1-3,4 2,5 3-2 4-1zM1388,382l2,5 2-1 3-1-2-5-3-1zM1388,382l-4-1-2,3 2,5 2-1 4-1zM1382,384l-5,0 0,1 1,6 3-1 3-1zM1377,385l-6,2 2,6 2-1 3-1zM1367,394l2,0 4-1-2-6-1-1-5,3zM1361,396l1-1 5-1-2-5-1-1-5,2zM1353,392l1,5 2,0 5-1-2-6-2-1zM1347,393l0,5 3,0 4-1-1-5-3-2zM1347,393l-4-1-3,2 1,5 3,0 3-1zM1340,394l-4-1-2,1 1,6 3,0 3-1zM1328,395l0,5 3,0 4,0-1-6-4-1zM1322,401l3,0 3-1 0-5-4-2-3,2zM1321,395l-5-2 0,1 0,7 3,0 3,0zM1310,401l2,0 4,0 0-7-6,2zM1303,395l0,6 3,0 4,0 0-5-1-1zM1297,400l3,1 3,0 0-6 0-1-6,1zM1291,395l-1,5 4,0 3,0 0-5-2-2zM1285,393l-1,6 3,1 3,0 1-5-2-2zM1285,393l-3-2-3,2-1,5 3,1 3,0zM1279,393l-4-2-2,1-1,5 3,1 3,0zM1273,392l-4-3-3,2-1,5 4,1 3,0zM1266,391l-4-3-1,0-2,6 4,1 2,1zM1254,393l2,1 3,0 2-6-6-1zM1255,387l-6-2-1,6 2,1 4,1zM1241,389l3,1 4,1 1-6 0-1-6,0zM1235,387l4,1 2,1 2-5-1-2-5-1zM1237,381l-1-1-4-1-2,6 3,1 2,1zM1230,377l-4,0-2,5 3,1 3,2 2-6zM1219,380l2,1 3,1 2-5-2-3-3,0zM1221,374l-4-3-1,1-3,5 3,1 3,2zM1216,372l-5-4-1,1-3,5 3,1 3,2zM1210,369l-5-4-3,5 3,2 2,2zM1205,365l-5-3-4,5 4,2 2,1zM1200,362l-1-1-5-2-3,5 3,2 2,1zM1194,359l0-2-4-1-4,4 3,2 2,2zM1190,356l-2-3-4-1-3,4 3,3 2,1zM1177,353l3,2 1,1 3-4 0-3-4-1zM1175,345l-3,4 3,2 2,2 3-5-1-3zM1174,341l-3-1-3,4 2,3 2,2 3-4zM1171,340l-2-3-2-1-4,4 3,3 2,1zM1167,336l-2-4-1,0-5,4 3,3 1,1zM1164,332l-4-5-5,4 3,3 1,2zM1151,326l3,4 1,1 5-4 0-1-5-3zM1152,317l-5,4 3,4 1,1 4-3 0-1zM1144,317l2,3 1,1 5-4-4-4zM1145,309l-5,3 3,4 1,1 4-4 1-2zM1145,309l0-4-3-1-5,3 2,4 1,1zM1134,302l2,4 1,1 5-3-1-4-2-1zM1139,299l-1-5-2,0-5,2 2,5 1,1zM1136,294l-1-5-1-1-6,3 3,4 0,1zM1126,286l2,4 0,1 6-3-2-5zM1124,280l2,5 0,1 6-3-3-5zM1127,273l-5,2 1,4 1,1 5-2 1-1zM1120,270l1,4 1,1 5-2 1-2-3-3zM1125,268l1-3-3-3-5,2 1,4 1,2zM1123,262l2-3-3-3-5,2 1,5 0,1zM1122,256l0-4-1-1-6,1 1,5 1,1zM1121,251l0-4-1-1-6,1 1,4 0,1zM1120,246l0-5-1-1-6,1 1,5 0,1zM1119,240l0-6-7,1 1,5 0,1zM1119,234l-1-5-6,0 0,5 0,1zM1117,223l-5,0 0,6 6,0 1-1zM1117,223l1-1-1-5-5,0 0,6zM1117,217l2-1-2-4-5,0 0,5zM1117,212l2-3-2-3-5-1 0,6 0,1zM1112,199l0,1 0,5 5,1 2-4-1-2zM1118,200l2-4-1-1-6-1-1,5zM1119,195l1-5 0-1-6-1-1,6zM1120,189l2-5-7-2 0,1-1,5zM1122,184l0-5-6-2-1,5zM1124,173l-6-2-2,6 6,2 1-1zM1124,173l1-1 0-5-5-2-1,1-1,5zM1125,167l2-2 0-3-5-2-1,0-1,5zM1127,162l2-2 0-3-6-2-1,5zM1131,154l0-3-5-2-3,6 6,2zM1131,151l3-3-1-3-4-2-1,1-2,5zM1137,141l-6-3 0,1-2,4 4,2 4-2zM1137,141l2-5-5-3-1,0-2,5zM1143,130l-6-3-1,1-2,5 5,3zM1143,130l2-4-5-4-1,1-2,4zM1148,121l-5-3-3,4 5,4 1-1zM1147,113l-1,1-3,4 5,3 2-1 1-4zM1154,112l-4-3-3,4 4,3 3-1zM1154,112l4-2 0-3-4-4 0,1-4,5zM1158,107l5-2 0-2-4-4-1,1-4,3zM1163,103l3-3 0-2-3-4-1,1-3,4zM1166,98l5-2 0-2-4-4-1,1-3,3zM1171,94l4-3 0-1-4-4-1,1-3,3zM1175,90l6-3-5-5-1,1-4,3zM1181,87l3-4-3-5-1,1-4,3zM1184,83l2,0 3-4-4-4-1,0-3,3zM1189,79l3,0 2-4-3-4-2,1-4,3zM1199,72l-3-5-2,1-3,3 3,4 2,0zM1203,69l-3-5 0,1-4,2 3,5 4,0zM1203,69l5-1 1-3-3-4-1,1-5,2zM1209,65l5,0 1-2-3-5-2,1-4,2zM1215,63l5-2 0-1-2-5-2,1-4,2zM1220,60l6-1 0-1-3-6-2,1-3,2zM1229,50l-2,1-4,1 3,6 5-3zM1234,54l3-1-2-6-2,1-4,2 2,5 1,0zM1237,53l1,0 3-3-1-5-1,1-4,1zM1241,50l4,1 1-1 1-2-1-5-2,1-4,1zM1247,48l5,1 2-2-2-6-2,1-4,1zM1254,47l4,0 2-1-2-6-2,0-4,1zM1260,46l5-1 1-1-2-6-1,1-5,1zM1266,44l6-1-1-6-2,0-5,1zM1277,36l-2,0-4,1 1,6 6-1zM1278,42l1,0 5-1-1-6-2,0-4,1zM1289,34l-2,0-4,1 1,6 1,1 5-2zM1297,39l0-5-3,0-5,0 1,6 2,1zM1297,39l2,1 5-1-1-6-3,0-3,1zM1310,39l0-6-4,0-3,0 1,6 1,1zM1310,39l2,2 4-3 0-5-4,0-2,0zM1316,38l3,2 3-1 0-6-3,0-3,0zM1322,39l4,2 1-1 1-6-3-1-3,0zM1333,40l1-6-3,0-3,0-1,6zM1333,40l0,1 6,0 1-6-2-1-4,0zM1347,36l-3-1-4,0-1,6 1,1 6-1zM1354,37l-4-1-3,0-1,5 1,2 6,0zM1359,44l1-6-4-1-2,0-1,6 1,1zM1366,40l-4-1-2-1-1,6 1,1 4,0zM1370,46l1-5-2-1-3,0-2,5 2,2zM1370,46l3,4 3-2 2-5-3-1-4-1zM1376,48l4,3 2-1 2-5-3-1-3-1zM1382,50l4,3 2,0 2-6-4-1-2-1zM1388,53l5,3 1-1 2-5-4-2-2-1zM1401,52l-3-1-2-1-2,5 5,3zM1404,59l3-5-3-1-3-1-2,6 0,1zM1410,63l3-5-4-2-2-2-3,5 1,2zM1416,66l3-5-4-2-2-1-3,5 1,1zM1421,69l3-5-4-2-1-1-3,5 1,1zM1429,67l-4-2-1-1-3,5 1,2 4,1zM1431,75l3-4-3-3-2-1-3,5 2,3zM1431,75l2,4 3,0 3-5-3-2-2-1zM1436,79l3,3 1,0 4-4-3-3-2-1zM1444,87l5-5-4-3-1-1-4,4 4,5zM1454,86l-4-3-1-1-5,5 6,3zM1450,90l0,1 4,4 4-5-3-3-1-1zM1458,98l4-4-3-3-1-1-4,5zM1458,98l0,3 4,1 4-3-3-4-1-1zM1471,103l-4-3-1-1-4,3 1,3 3,2zM1470,111l4-3-3-4 0-1-5,4 1,3zM1473,116l5-4-3-3-1-1-4,3 1,4zM1473,116l2,4 2,0 4-3-2-3-1-2zM1477,120l1,5 2,0 5-3-3-4-1-1zM1488,127l-2-4-1-1-5,3 3,6zM1483,131l2,4 6-3-2-4-1-1zM1489,140l5-3-2-4-1-1-6,3 0,2zM1489,140l0,3 3,3 5-3-3-4 0-2zM1492,146l-1,2 3,3 5-2-2-5 0-1zM1501,154l-2-5-5,2-1,3 3,2zM1496,156l0,3 2,2 5-2-1-4-1-1zM1498,161l0,4 2,2 5-2-1-5-1-1zM1500,167l0,5 1,0 6-1-1-5-1-1zM1508,176l-1-5-6,1 2,6zM1503,178l-1,1 2,4 6-1-1-5-1-1zM1511,188l-1-5 0-1-6,1 0,1 1,5zM1507,194l5-1-1-5-6,1-1,1zM1513,199l-1-5 0-1-5,1-2,2 2,4zM1508,205l5,0 0-5 0-1-6,1-1,3zM1508,211l5,0 0-6-5,0-2,5zM1508,217l5,0 0-6-5,0-1,5zM1507,222l1-5-1-1-7,0 0,6zM1498,227l8,1 2-5-1-1-7,0-3,3zM1498,234l7,1 2-1 0-6-1,0-8-1zM1506,239l-1-4-7-1-3,4 1,1 9,2zM1505,241l-9-2 2,6 6,1 1-1zM1496,251l6,1 3-2-1-4-6-1zM1503,256l-1-4-6-1-7,5 12,3zM1489,256l-2,0-2,5 14,4 3-3-1-3zM1500,267l-1-2-14-4-2,3 0,1 15,6zM1483,265l-1,7 13,5 3-5 0-1zM1482,272l-3,5 14,7 1-1 1-6zM1491,288l2-4-14-7-1,1 2,6 10,5zM1490,289l-10-5 0,7 6,3 3-1zM1480,291l-2,4 1,2 5,3 3-1-1-5zM1480,305l3-1 1-4-5-3-2,5 1,2zM1473,308l4,3 3-2 0-4-2-1zM1473,308l-1,0-1,2 5,4 1-1 0-2zM1469,314l-3,4 2,2 4-5-2-2zM1463,320l-1,1 1,5 2,1 2,0 1-3zM1457,327l-1,1 4,4 3-1 2-4-2-1zM1459,335l1-3-4-4-5,3 5,5zM1451,331l-3-1-3,2-1,1 7,7 4,0 1-4zM1444,333l-4,4 7,8 3-2 1-3zM1440,337l-6,2 8,10 4-1 1-3zM1436,353l5-1 1-3-8-10-1,1-3,4zM1424,348l7,9 5-1 0-3-6-9zM1430,358l1-1-7-9-6,2 7,12 1,0zM1425,362l-7-12-8,0 9,15 2,0zM1419,365l-9-15-5,4 8,14 3,0zM1413,368l-8-14-1,0-1,8 5,9 2,0zM1405,374l3-3-5-9-3,7 2,5zM1402,374l-2-5-6,2 2,5 4,1zM1394,371l-9-3 5,11 3,1 3-4zM1384,367l-4,4 4,10 4,1 2-3-5-11zM1380,371l-6,2 3,11 5,0 2-3zM1374,373l-4,1-2,4 2,8 1,1 6-2 0-1zM1365,389l5-3-2-8-6,4 2,6zM1359,390l5-2-2-6-6,0 1,7zM1356,382l-7-5-1,2 2,11 3,2 4-3zM1347,393l3-3-2-11-6,5 1,8zM1342,384l-7,1 1,8 4,1 3-2zM1335,385l-6-3 1,11 4,1 2-1zM1328,395l2-2-1-11-4-3-2,4 1,10zM1324,393l-1-10-7,7 0,3 5,2zM1316,390l-7-3 0,8 1,1 6-2 0-1zM1303,395l6,0 0-8-6-6 0,13zM1297,395l6-1 0-13 0-1-7,3-1,10zM1296,383l-6,1-1,9 2,2 4-2zM1283,381l-1,10 3,2 4,0 1-9zM1275,391l4,2 3-2 1-10-1-1-5,3zM1270,384l-1,5 4,3 2-1 2-8zM1262,388l4,3 3-2 1-5-6-5zM1261,371l-1,0-5,16 6,1 1,0 2-9zM1253,370l-4,14 0,1 6,2 5-16zM1242,382l1,2 6,0 4-14-4-2-2,1zM1240,369l-4,11 1,1 5,1 5-13zM1234,367l-4,10 2,2 4,1 4-11zM1226,377l4,0 4-10-5-4-5,11zM1221,374l3,0 5-11-1-2-7,4-4,6zM1221,365l-7-1-3,4 5,4 1-1zM1205,365l5,4 1-1 3-4-4-7zM1200,362l5,3 5-8-1-3-5-1-5,8zM1199,361l5-8-6-3-4,7 0,2zM1195,345l-7,8 2,3 4,1 4-7zM1184,349l0,3 4,1 7-8-2-7zM1188,335l-9,10 1,3 4,1 9-11zM1184,330l-10,11 1,4 4,0 9-10zM1171,340l3,1 10-11-8,0-7,7zM1176,330l-7-2-4,4 2,4 2,1zM1169,328l-3-7-6,5 0,1 4,5 1,0zM1164,315l-9,7 0,1 5,3 6-5 1-4zM1152,317l3,5 9-7-4-4-8,6zM1148,313l4,4 8-6-2-6-9,6zM1158,305l0-7-1,0-12,7 0,4 4,2zM1141,300l1,4 3,1 12-7-6-3zM1138,294l1,5 2,1 10-5-5-5zM1135,289l1,5 2,0 8-4-2-6zM1132,283l2,5 1,1 9-5 0-3-4-1zM1130,277l-1,1 3,5 8-3-4-5zM1128,271l-1,2 3,4 6-2-1-7zM1139,261l-13,4-1,3 3,3 7-3zM1142,258l-6-2-11,3-2,3 3,3 13-4zM1125,259l11-3-7-5-7,1 0,4zM1122,252l7-1-2-5-6,1 0,4zM1127,246l1-6-8,1 0,5 1,1zM1120,241l8-1 5-6 0-1-14,1 0,6zM1118,229l1,5 14-1-1-6-13,1zM1132,227l0-2-2-4-12,1-1,1 2,5zM1118,222l12-1-1-5-10,0-2,1zM1119,216l10,0 1-7-11,0-2,3zM1117,206l2,3 11,0 3-5-14-2zM1134,198l-14-2-2,4 1,2 14,2 2-3zM1134,192l-14-2-1,5 1,1 14,2zM1122,184l-2,5 0,1 14,2 0-5zM1122,179l0,5 12,3 3-5-14-4zM1137,182l3-5-15-5-1,1-1,5zM1127,165l-2,2 0,5 15,5 2-1 1-5zM1145,166l-16-6-2,2 0,3 16,6zM1131,154l-2,3 0,3 16,6 3-5zM1149,160l0-4-15-8-3,3 0,3 17,7zM1151,150l-14-7-4,2 1,3 15,8zM1153,148l-2-5-12-7-2,5 0,2 14,7zM1143,130l-4,6 12,7 0-7zM1146,125l-1,1-2,4 8,6 3-6zM1158,126l-8-6-2,1-2,4 8,5zM1162,121l-8-6-3,1-1,4 8,6 4-2zM1163,114l-5-4-4,2 0,3 8,6zM1158,107l0,3 5,4 5-4-5-5zM1168,110l7-2-9-8-3,3 0,2zM1182,107l-11-11-5,2 0,2 9,8 6,1 1-1zM1182,107l1-7-8-9-4,3 0,2zM1183,100l4-5-6-8-6,3 0,1zM1186,83l-2,0-3,4 6,8 6-4zM1192,79l-3,0-3,4 7,8 7-1zM1207,90l-11-15-2,0-2,4 8,11zM1208,90l4-3-9-15-4,0-3,3 11,15zM1208,68l-5,1 0,3 9,15 3-2 2-2zM1209,65l-1,3 9,15 0-2 3-6-6-10zM1220,75l3-3 1-3-4-8-5,2-1,2zM1228,64l-2-5-6,1 0,1 4,8zM1232,55l-1,0-5,3 0,1 2,5 1-1 4-5zM1240,57l-1-3-1-1-1,0-3,1 4,5zM1245,53l-6,1 1,3 3,0 2-3zM1245,51l0,2 0,1 5,1 1-1-5-4zM1258,53l1-2-1-4-4,0-2,2zM1259,51l8,1-2-7-5,1-2,1zM1267,52l0,1 7,1-2-11-6,1-1,1zM1274,54l1,1 6-1-2-12-1,0-6,1zM1285,42l-1-1-5,1 2,12 6,2zM1290,57l4-3-2-13-2-1-5,2 2,14zM1299,53l0-13-2-1-5,2 2,13zM1304,39l-5,1 0,13 6,0 0-13zM1305,53l7,2 0-14-2-2-5,1zM1319,40l-3-2-4,3 0,14 3,2 4-2zM1322,39l-3,1 0,15 6-2 1-12zM1325,53l7,1 1-13 0-1-6,0-1,1zM1340,42l-1-1-6,0-1,13 6,2 0-1zM1345,55l2-12-1-2-6,1-2,13zM1351,56l3-12-1-1-6,0-2,12zM1357,59l3-14-1-1-5,0-3,12zM1363,58l3-11-2-2-4,0-3,14 1,1zM1373,50l-3-4-4,1-3,11 8,1zM1380,51l-4-3-3,2-2,9 6,3zM1382,50l-2,1-3,11 3,4 2-1 4-12zM1388,53l-2,0-4,12 8-2 3-7zM1399,58l-5-3-1,1-3,7 6,3 3-7zM1396,66l4,5 5-10-1-2-5,0zM1400,71l2,4 3,1 6-12-1-1-5-2zM1405,76l4,4 8-13-1-1-5-2zM1410,80l8-2 4-7-1-2-4-2-8,13zM1425,80l3-5-2-3-4-1-4,7zM1433,79l-2-4-3,0-3,5 4,5zM1439,82l-3-3-3,0-4,6 1,5 2,0zM1438,93l6-6-4-5-1,0-7,8zM1442,99l8-8 0-1-6-3-6,6zM1443,106l11-11-4-4-8,8zM1448,111l10-10 0-3-4-3-11,11 0,3zM1453,114l10-9-1-3-4-1-10,10zM1467,110l-1-3-3-2-10,9 4,5zM1471,115l-1-4-3-1-10,9 3,5zM1462,129l13-9-2-4-2-1-11,9 1,5zM1469,132l9-7-1-5-2,0-13,9 3,3zM1483,131l-3-6-2,0-9,7 8,2zM1485,135l-2-4-6,3 4,6 4-3zM1481,140l-2,8 10-5 0-3-4-3zM1477,152l5,1 9-5 1-2-3-3-10,5zM1494,151l-3-3-9,5 6,3 5-2zM1493,154l-5,2 2,5 6-2 0-3zM1490,161l-1,7 9-3 0-4-2-2zM1489,168l-4,5 2,3 13-4 0-5-2-2zM1487,176l0,3 4,2 11-2 1-1-2-6-1,0zM1504,183l-2-4-11,2 3,5 10-2zM1505,189l-1-5-10,2 2,5 8-1zM1507,194l-3-4-8,1-1,6 10-1zM1507,200l-2-4-10,1-4,7 15-1zM1496,210l10,0 2-5-2-2-15,1-1,1zM1507,216l1-5-2-1-10,0 4,6zM1256,75l7,6 3-2 0-4-12-3zM1258,85l5-2 0-2-7-6 0,8zM1251,88l1,1 5-3 1-1-2-2-6,0zM1244,86l2,2 5,0-1-5-3-5zM1247,74l-10,8 4,4 3,0 3-8zM1234,75l0,3 3,4 10-8 0-2zM1248,71l-12-2-2,0-2,2 2,4 13-3zM1237,61l-1,8 12,2 1-1zM1243,57l-3,0-2,2-1,2 12,9zM1250,55l-5-1-2,3 6,13 1-1zM1251,70l6-15-6-1-1,1 0,14zM1258,64l3-6-4-3-6,15zM1253,70l13-3-1-5-7,2-7,6zM1266,75l1-1 0-6-1-1-13,3 1,2zM1267,74l-1,1 0,4 3,2 4-6zM1269,81l-3-2-3,2 0,2 12,13 1,0zM1263,83l-5,2-1,1 6,11 12-1zM1257,86l-5,3 2,12 9-4zM1244,98l6,6 4-3-2-12-1-1-5,0zM1244,86l-3,0-6,9 9,3 2-10zM1235,84l-5,10 1,1 4,0 6-9-4-4zM1228,80l7,4 2-2-3-4zM1223,72l-3,3-3,6 11-1 6-2 0-3-2-4zM1233,65l-4-2-1,1-4,5-1,3 9-1 2-2zM1237,61l-4-3-4,5 4,2 4-4zM1238,59l-4-5-2,1 1,3 4,3zM1241,50l-3,3 1,1 6-1 0-2zM1251,54l1-5-5-1-1,2zM1251,54l6,1 1-2-6-4-1,5zM1262,58l5-5 0-1-8-1-1,2-1,2 4,3zM1265,62l10-5 0-2-1-1-7-1-5,5 3,4zM1275,57l-10,5 1,5 1,1 6-1zM1279,74l-6-7-6,1 0,6 6,1zM1472,308l0-1-6,0-5,2 8,5 1-1 1-3zM1466,318l3-4-8-5-3,1 6,9zM1458,310l-2-1-1,1 1,11 1,1 5-1 1-1 1-1zM1455,310l-2,0-4,11 2,1 5-1zM1444,317l1,3 4,1 4-11-3,0zM1440,311l1,5 3,1 6-7-4-2-6,3zM1440,311l6-3-2-5-5-1-2,3zM1441,296l-3,2 1,4 5,1 2-4zM1450,298l-4-7-4,3-1,2 5,3zM1452,298l1-8 0-1-2-1-5,2 0,1 4,7zM1453,289l0,1 6,4 2-4-4-3zM1467,292l-5-2-1,0-2,4 0,4 3,0 5-4zM1471,297l-4-3-5,4 5,3 3-1zM1470,300l-3,1-1,6 6,0 0-5zM1477,302l-5,0 0,5 0,1 1,0 5-4zM1476,314l-5-4-1,3 2,2 1,1zM1472,315l-4,5 2,2 4-4-1-2zM1466,318l-2,1-1,1 5,4 2-2-2-2zM1457,322l0,5 6-1-1-5zM1456,321l-5,1-3,8 3,1 5-3 1-1 0-5zM1445,320l-4,6 4,6 3-2 3-8-2-1zM1444,317l-3-1-7,6 7,4 4-6zM1422,318l1,3 11,1 7-6-1-5-17,6zM1423,317l17-6-3-6-7,0zM1437,305l2-3-1-4-9-3 1,10zM1442,294l-2-2-12,1 1,2 9,3 3-2zM1446,290l-6-10 0,12 2,2 4-3zM1440,280l6,10 5-2-2-11zM1451,288l2,1 4-2 1-14-2-2-7,6zM1457,287l4,3 1,0 5-12-9-5zM1470,290l3-11-6-1-5,12 5,2zM1471,297l5-2-6-5-3,2 0,2zM1477,302l2-5-1-2-2,0-5,2-1,3 2,2z" stroke-width="2.0"/><path d="M1508,218l0,4 4,0 1-4zM1507,227l5,1 0-4-4,0zM1508,229l0,4 4,0 0-3zM1507,235l0,4 4,0 1-4zM1507,240l-1,4 4,1 1-4zM1506,246l-1,3 4,1 1-4zM1505,251l-2,1 1,3 4,1 1-4zM1504,257l-2,2 0,2 4,1 1-4zM1502,263l-1,3 4,1 1-3zM1500,268l-1,3 4,2 1-4zM1499,273l-2,3 4,2 1-4zM1495,282l4,2 1-4-4-2zM1494,284l-2,4 4,2 2-4zM1494,294l1-3-4-1-1,3zM1489,294l-2,1 1,3 3,2 2-4zM1487,300l-2,1-1,3 3,2 3-4zM1483,305l-2,1 0,2 3,3 2-4zM1480,310l-2,1 0,2 3,2 2-3zM1474,316l4,4 2-3-3-2zM1474,319l-2,3 3,2 2-3zM1470,323l-2,3 3,3 3-3zM1469,330l-4-2-1,3 3,3zM1460,335l3,3 2-3-3-3-1,0zM1458,342l4-3-3-3-2,1-1,2zM1454,346l3-3-3-2-2,0-1,2zM1450,345l-3,1 0,2 2,2 4-2zM1446,349l-3,1-1,1 2,4 4-3zM1441,353l-4,1 0,1 2,4 4-3zM1436,357l-5,1 3,4 4-2zM1430,360l-3,2 2,4 4-3zM1425,363l-3,2 2,4 4-2zM1420,366l-3,3 2,3 4-2zM1415,369l-1,0-2,3 1,3 4-2zM1410,372l-2,0-2,2 2,4 4-2zM1402,381l5-2-2-4-2,0-2,2zM1399,378l-3-1-2,3 2,3 4-2zM1389,382l1,4 4-2-1-3-3-1zM1387,383l-3-1-1,2 2,4 3-2zM1381,385l-3,0 1,5 4-2zM1376,386l-4,1 1,4 4-1zM1367,393l5-1-2-5-4,2zM1361,394l5-1-2-4-3,2zM1354,392l1,4 5-1-1-4-2-1zM1348,393l0,4 5-1-1-3-2-2zM1346,393l-3,0-2,1 1,4 4-1zM1340,395l-4-1-1,1 1,4 4-1zM1329,396l0,3 5,0-1-4-2-1zM1322,400l5,0 0-4-3-1-2,1zM1317,395l0,5 4,0-1-4zM1311,400l4,0 0-5-4,1zM1304,396l0,4 5,0 0-4zM1298,400l4,0 0-5-4,0zM1292,395l-1,4 5,0 0-4-1-1zM1285,394l0,4 4,1 1-4-2-1zM1284,394l-2-2-2,1 0,5 3,0zM1278,393l-3-1-1,1-1,3 5,1zM1272,393l-3-3-2,1-1,4 5,1zM1265,391l-3-2-2,5 4,1zM1255,392l4,1 1-4-4-1zM1254,388l-4-2-1,5 4,1zM1242,388l5,2 1-5-5,0zM1236,386l4,2 2-4-5-2zM1236,381l-4-1-1,4 3,1zM1230,378l-3,0-2,4 4,1 2-4zM1220,379l4,2 1-3-2-3-1,0zM1220,375l-4-3-2,4 4,2zM1215,372l-4-3-3,4 5,3zM1205,366l-2,4 4,2 2-3zM1204,365l-4-1-2,3 3,2zM1199,362l-4-2-3,3 4,3zM1193,359l0-2-3,0-2,3 3,2zM1189,356l-1-2-3-1-2,3 3,3zM1178,352l3,3 2-3 0-2-2-1zM1176,346l-3,2 3,3 3-3-1-2zM1173,342l-1-1-3,3 3,3 2-3zM1170,340l-1-2-1-1-3,3 2,3zM1166,336l-2-3-4,3 3,3zM1162,332l-2-3-4,3 3,2zM1152,326l3,4 4-3-4-3zM1152,319l-4,2 3,4 3-3zM1145,317l2,3 4-3-3-2zM1145,310l-3,2 2,3 4-2 0-1zM1144,308l0-2-2-1-4,2 2,3zM1136,302l1,3 4-2-1-2-1-1zM1138,299l-1-4-1,0-4,2 3,4zM1135,293l-1-4-4,2 2,4zM1127,286l2,3 4-1-2-3zM1125,281l2,4 4-2-2-4zM1127,274l-4,1 1,4 5-2zM1121,270l1,3 4-1 1-1-2-2zM1124,267l1-1-2-3-4,1 2,4zM1119,262l4-1 1-2-2-2-4,1zM1117,257l4-1 0-3-5,0zM1120,251l0-4-5,1 1,3zM1119,245l0-4-5,1 1,4zM1118,240l0-5-4,1 0,4zM1113,234l5,0-1-4-4,0zM1113,228l5,0-2-4-3,0zM1113,222l4,0 0-4-5,0zM1112,216l5,0 1-1-2-2-3,0zM1113,211l4,0 1-2-1-2-4-1zM1113,200l0,4 4,1 1-3 0-1zM1114,195l-1,4 5,0 0-3zM1115,189l-1,4 4,1 1-4zM1116,183l-1,4 4,1 2-4zM1121,183l0-4-4-1-1,4zM1117,177l5,1 0-5-3-1zM1123,172l1-5-4-1-1,4zM1122,161l-1,3 5,1 0-3zM1127,161l1-2 0-2-4-1-1,3zM1125,154l3,2 2-2 0-2-4-2zM1130,150l3-2 0-2-4-2-2,4zM1131,139l-1,3 3,2 3-2zM1134,134l-2,4 4,2 2-4zM1139,134l2-3-4-3-2,4zM1142,129l2-3-4-2-2,3zM1147,121l-3-2-2,3 3,2zM1147,114l-2,3 3,3 1,0 1-3zM1150,110l-2,3 3,2 2,0 0-3zM1155,111l2-1 0-3-2-2-4,3zM1158,106l4-2 0-1-3-3-3,3zM1163,101l2-2-2-3-3,3zM1167,97l3-2-3-4-3,3zM1171,93l3-2-3-4-3,3zM1176,89l3-3-3-3-3,3zM1181,85l2-2-2-4-3,3zM1182,78l4,4 1-3-2-3zM1189,78l2,0 1-3-2-3-3,3zM1198,72l-3-3-3,2 2,3 2,0zM1202,69l-2-3-3,2 2,3 3,0zM1204,68l3-1 1-2-2-3-4,3zM1209,64l4,0 1-1-2-4-4,2zM1215,61l4-1-2-4-4,2zM1221,59l4-1-2-4-4,1zM1229,51l-5,2 2,4 4-2zM1232,54l4-2-2-3-4,1zM1238,52l2-3-1-2-3,1zM1242,49l3,1 0-1 1-1-1-3-4,1zM1248,47l4,1 1-2-1-3-5,1zM1255,46l3,0 1-1-1-4-4,1zM1260,45l5-1-2-4-4,1zM1266,43l5-1-1-4-5,1zM1277,37l-5,1 1,4 4-1zM1279,41l4-1 0-4-5,1zM1289,35l-5,1 1,4 4-1zM1296,38l0-3-5,0 0,4 1,1zM1298,38l1,1 4-1 0-4-5,0zM1309,38l0-4-5,0 1,5zM1311,38l1,1 3-1 0-4-4,0zM1317,38l2,1 2-1 0-4-4,0zM1323,38l3,1 1-5-4,0zM1332,39l1-4-4,0-1,4zM1334,40l4,0 1-4-4-1zM1346,37l-5-1-1,4 5,0zM1353,38l-5-1 0,5 4,0zM1358,43l1-4-4-1-1,4zM1365,40l-4-1-1,5 4,0zM1369,45l1-3-4-1-1,4 2,1zM1371,46l3,2 2,0 1-4-5-2zM1377,48l4,2 2-4-4-2zM1383,50l4,2 2-4-4-2zM1389,52l4,3 2-5-5-2zM1400,52l-4-1-1,4 3,2zM1404,58l1-3-3-2-2,5zM1410,61l2-3-5-2-2,3 1,2zM1415,64l2-3-4-2-1,5zM1421,68l2-4-4-2-2,4 0,1zM1428,67l-4-2-2,4 1,1 3,1zM1431,74l2-3-4-3-2,4 1,2zM1432,75l2,3 2,0 2-3-4-3zM1437,79l3,2 3-3-3-2zM1444,85l3-3-3-3-2,3zM1452,86l-3-3-3,4 4,2zM1451,91l3,2 3-3-3-3zM1455,95l3,2 3-3-3-2zM1459,99l0,1 3,1 3-3-3-2zM1469,103l-3-3-3,2 1,3 2,1zM1470,110l3-2-3-3-3,2 1,2zM1473,115l4-3-3-3-3,3 1,3zM1475,116l2,3 3-2-2-3zM1478,121l1,3 4-2-2-3zM1487,127l-3-4-3,3 2,3zM1484,131l2,3 3-2-1-3zM1489,139l3-2-2-4-4,3 0,1zM1490,140l0,3 2,2 3-2-2-4zM1493,146l-1,2 2,2 4-2-2-3zM1499,150l-4,2-1,1 2,2 4-1zM1497,157l0,2 1,1 4-1-1-4zM1499,162l0,3 1,1 4-2-1-3zM1501,167l0,4 5-1-1-4zM1506,172l-4,1 1,3 4-1zM1503,178l2,4 4-1-1-4zM1509,183l-4,1 1,4 4-1zM1507,193l4-1-1-3-4,0zM1511,194l-4,1-1,1 1,3 4-1zM1508,204l4,0 0-4-5,1 0,1zM1508,210l4,0 0-4-4,0-1,3zM1508,216l5,0-1-4-4,0zM1506,221l0-4-5,0 0,4zM1499,227l7,0 1-4-7,0-2,2zM1499,233l6,1 1-5-7-1zM1505,239l0-3-7-1-2,3 1,0zM1504,241l-6-1 1,4 5,1zM1497,250l5,1 2-1-1-3-4-1zM1502,256l0-3-6-1-5,3 9,3zM1500,260l-12-3-2,3 13,4 2-2zM1497,269l2-3-14-4-1,2 0,1zM1484,267l-1,4 12,5 2-5zM1482,273l-2,4 13,5 1-4zM1479,278l2,5 9,5 2-4zM1489,289l-8-4 0,5 5,3 2-1zM1480,292l-1,3 0,1 5,3 2-1 0-3zM1480,304l2-1 1-2-4-3-1,3zM1475,308l2,2 2-2 0-2 0-1zM1476,311l-4-2 4,4zM1469,315l-1,3 3-3zM1463,322l1,3 2,1 1-2zM1458,328l2,3 2-1 2-3zM1458,335l1-3-3-3-4,2 4,4zM1446,333l6,6 2,0 1-3-5-4zM1444,334l-3,3 6,7 3-1 0-3zM1440,338l-4,2 6,8 3-1 1-2zM1437,352l3-1 1-2-7-9-3,4zM1426,349l5,7 4-1 0-2-5-7zM1426,361l4-4-6-7-5,1zM1424,361l-7-10-5,0 8,13zM1410,351l-3,3 7,13 1,0 3-2zM1405,355l-1,7 5,8 1,0 2-2zM1405,373l2-2-4-7-2,5 2,4zM1401,374l-1-4-5,2 2,4 2,0zM1393,372l-6-2 3,8 3,1 2-3zM1384,368l-3,3 3,10 3,0 2-2zM1379,372l-4,2 3,9 4,0 1-2zM1373,375l-3,0-1,3 2,8 5-2zM1365,388l4-2-2-7-4,4 1,4zM1359,389l3-2-1-4-4,0 1,5zM1355,382l-5-3-1,1 2,10 2,1 3-2zM1346,392l3-2-2-9-4,4 0,6zM1341,385l-5,0 1,7 3,1 2-2zM1334,385l-4-1 1,9 3,0 1-1zM1328,394l1-1-1-10-2-3-2,3 1,10zM1323,393l-1-8-5,5 0,3 4,1zM1315,390l-5-1 0,5 5-1zM1304,394l4,0 0-6-4-5zM1297,394l5-1 0-11-5,2-1,9zM1295,384l-4,0-1,8 1,2 3-2zM1284,382l-1,9 2,1 3,0 1-8zM1276,390l3,2 2-1 1-10-5,3zM1271,385l-1,4 3,2 1-1 1-6zM1263,387l3,2 2,0 1-5-4-3zM1257,386l4,1 2-8-3-7zM1254,371l-4,13 5,2 4-14zM1243,382l5,1 4-12-3-2-2,1zM1241,370l-4,10 4,1 4-11zM1235,369l-4,8 1,1 4,1 3-9zM1227,376l3,0 3-8-4-3-4,9zM1221,373l2,0 5-10-1,0-6,2-3,6zM1219,365l-5,0-2,3 4,3zM1206,364l4,3 2-3-2-5zM1200,362l5,2 4-7-1-3-3,0zM1199,360l4-6-4-3-4,6 0,1zM1195,346l-6,7 1,2 3,1 4-6zM1185,350l0,1 3,1 6-8-1-4zM1188,336l-8,9 1,2 2,1 9-10zM1184,332l-9,9 1,3 3,0 8-9zM1172,339l2,1 8-9-6,0-5,6zM1174,331l-5-2-3,3 2,4 1,0zM1168,328l-2-5-5,4 3,4zM1156,322l4,3 5-4 0-4-1-1zM1153,317l2,4 8-6-3-3zM1149,312l3,4 7-5-2-5zM1157,299l-11,7 0,2 2,2 9-6zM1142,301l1,2 2,1 10-6-4-2zM1139,295l1,4 1,0 8-5-3-3zM1136,289l1,4 1,0 7-3-2-4zM1133,284l2,4 8-4 0-2-3-1zM1130,278l2,4 6-3-3-3zM1129,271l1,5 5-2 0-5zM1137,263l-11,3 0,2 2,1 7-2zM1140,258l-4-1-11,3-1,2 2,2 12-4zM1125,258l9-2-5-4-6,1 0,3zM1123,251l5-1-1-3-5,1zM1126,245l1-4-6,1 0,4zM1120,235l0,5 8-1 4-5zM1119,229l1,4 12-1-1-4zM1131,226l-1-4-12,1 2,4zM1119,221l10-1-1-3-9,0-1,1zM1119,215l9,0 1-5-9,0-2,2zM1118,206l2,2 9,0 2-4-11-1zM1134,199l-14-2-1,3 1,1 13,2 1-2zM1133,193l-12-2-1,4 13,2zM1122,185l-1,4 12,2 0-4zM1122,183l12,3 1-4-12-3zM1136,180l3-3-15-4 0,4zM1127,167l-1,4 15,4 0-4zM1144,166l-15-5-1,1 0,3 14,5zM1132,155l-2,2 0,2 14,5 3-3zM1148,160l0-4-14-7-2,2 0,2zM1150,150l-13-6-3,2 1,2 14,6zM1140,137l-2,5 13,7 1-2-1-4zM1143,131l-2,4 10,6-1-5zM1146,126l-2,4 7,4 1-3zM1157,126l-7-5-1,1-2,3 7,4zM1161,122l-7-6-2,1-1,3 7,5 3-1zM1162,115l-4-4-3,2 0,2 6,5zM1159,107l0,3 4,3 4-3-5-4zM1168,109l5-1-7-7-2,3zM1181,108l-11-11-3,2 8,8zM1181,106l1-5-7-8-3,3zM1180,88l-4,3 7,8 3-4zM1186,84l-1,0-3,3 5,6 4-2zM1191,80l-2,0-1,3 5,7 5-1zM1205,89l-9-13-2,0-1,3 7,10zM1207,89l4-2-9-14-3,0-2,2zM1207,69l-3,1 0,2 8,13 3-2zM1209,66l0,2 8,13 2-6-5-9zM1220,74l3-5-4-7-3,1-1,2zM1227,63l-2-3-4,1 3,6zM1227,59l1,3 4-4-1-2zM1239,57l-1-3-2,1 2,3zM1244,54l-4,1 1,1 2,0zM1246,51l0,2 4,1zM1257,51l1-3-4,0-1,1zM1260,50l6,1-2-5-4,0-1,2zM1266,45l2,7 5,1-2-9zM1273,44l2,10 5,0-2-11zM1284,42l-4,1 2,11 4,1zM1289,56l3-2-1-12-1-1-4,1 2,13zM1298,52l0-12-1,0-4,2 1,11zM1303,40l-3,1 0,11 4,0zM1306,52l5,2 0-13-1-1-4,1zM1318,41l-2-2-3,2 0,14 2,1 3-2zM1322,40l-2,1 0,13 4-2 1-11zM1326,52l5,1 1-12-5,0zM1337,55l2-13-5,0-1,11zM1344,54l2-11-5,0-2,11zM1351,55l2-11-5,0-2,10zM1356,58l3-13-1,0-3,0-3,11zM1363,58l2-10-1-2-3,0-3,13zM1372,50l-2-3-3,1-2,10 5,0zM1379,52l-3-3-2,1-2,8 4,3zM1382,51l-4,11 2,3 5-12zM1391,56l-4-2-4,9 6-1zM1398,59l-4-3-3,6 5,2zM1397,66l3,3 4-8 0-1-4,0zM1401,71l1,3 2,1 6-11-1-1-3-1zM1406,76l3,2 7-11-1-1-4,0zM1411,79l6-1 4-7-1-1-3-1zM1424,79l3-4-1-2-4-1-3,6zM1432,79l-1-3-3,0-2,4 3,4zM1437,82l-1-2-2,0-4,5 0,4 2,0zM1438,92l5-5-3-4-6,7zM1442,98l7-7-5-3-4,5zM1444,104l9-9-3-3-7,8zM1447,110l10-10 0-1-3-2-10,10 0,2zM1453,113l9-8 0-2-4-1-9,9zM1466,110l0-2-3-2-9,8 3,3zM1470,115l-1-3-2-1-9,8 2,4zM1462,128l12-8-1-3-2-1-10,9zM1469,131l8-6-1-4-13,8 2,2zM1481,130l-2-4-8,5 6,2zM1484,137l-2-5-4,3 3,3zM1481,140l-1,6 8-4 0-2-3-2zM1478,151l3,1 10-5 0-1-2-2-9,5zM1493,151l-2-2-7,4 4,2 5-2zM1493,155l-4,1 2,4 4-1 0-2zM1491,162l-1,5 7-2 0-3-1-2zM1489,169l-3,4 1,2 12-4 0-4-1-1zM1488,177l0,1 3,2 11-2-2-5zM1503,183l-1-3-10,2 3,3zM1504,189l-1-4-7,2 1,3zM1505,194l-1-3-7,1-1,4 9-1zM1506,200l-1-3-9,1-3,5 12-1zM1497,209l8,0 2-4-2-1-14,1zM1506,215l1-4-1,0-8,0 2,4zM1256,73l7,6 2,0 0-4zM1258,84l4-1 0-2-5-4zM1251,84l1,3 5-2-1-1zM1245,86l1,1 4,0-1-3-2-4zM1239,82l2,3 2,0 3-7 0-2zM1235,76l0,1 2,3 9-7zM1245,71l-11-1-1,2 2,2zM1238,63l-1,5 9,1zM1238,61l9,7-4-10-3,0zM1249,67l0-11-3-1-2,2zM1251,66l5-10-4-1-1,1zM1253,67l4-3 3-6-3-1zM1253,69l12-3-1-3-6,2zM1266,74l0-6-12,3 1,0zM1267,75l0,4 2,1 2-4zM1269,82l-3-2-2,3 9,10zM1258,86l5,10 10-1-11-10zM1257,87l-4,2 2,10 7-3zM1245,98l5,5 3-3-2-11-4,0zM1243,87l-2,0-5,8 7,2 2-8zM1236,84l-5,10 3,0 6-8-3-3zM1230,80l5,3 1-1-3-3zM1223,73l-3,3-1,4 8-1 6-2 0-2-2-3zM1232,66l-4-2-4,7 7,0 2-2zM1236,61l-3-2-3,4 3,1zM1237,60l-3-5-1,1 0,1zM1240,53l4,0 0-1-2-1zM1251,52l0-2-3-1-1,1zM1252,53l4,1 0-1-3-3zM1258,55l4,2 3-4-5-1zM1265,61l9-5-7-2-3,4zM1273,59l-7,4 1,3 5,0zM1277,73l-4-5-5,1 0,4 5,1zM1471,308l-5,0-3,1 6,4zM1466,317l1-3-6-4-2,0 5,8zM1456,310l1,11 5-1 0-1zM1454,311l-4,9 1,1 4,0zM1445,317l1,2 3,1 3-9zM1441,311l1,4 2,1 5-6-3-1zM1440,309l5-1-2-4-3-1-2,2zM1441,297l-2,2 1,3 4,0 1-2zM1449,297l-4-4-3,1 0,2 4,2zM1451,297l1-7-1-1-4,2zM1454,290l5,2 1-2-3-2zM1466,293l-5-2-1,6 2,0zM1470,298l-3-3-3,3 3,2 2-1zM1470,301l-2,1-1,4 4,0 0-3zM1473,307l4-3-1-1-3,0zM1475,314l-3-3-1,2 2,2zM1470,320l3-3 0-1-4,4zM1466,319l-2,1 4,3 1-1zM1458,323l0,3 4-1-1-3zM1456,322l-5,1-1,7 6-3zM1446,321l-4,5 3,5 3-1 2-8zM1443,318l-2-1-5,5 5,3 3-5zM1423,318l1,2 10,1 6-5-1-4zM1425,315l13-5-2-4-5,0zM1437,304l1-2 0-3-8-3 1,8zM1441,294l-2-1-9,1 8,3 2-2zM1441,283l0,9 1,0 3-2zM1442,281l5,8 3-1-2-9zM1452,288l1,0 3-2 1-12-1-1-6,5zM1458,287l3,2 5-11-7-3zM1469,289l3-9-4-1-5,10 4,2zM1471,296l3-1-4-4-2,2zM1476,301l1-5-5,2-1,2 2,1z" fill="#fff" stroke="#000" stroke-width="1.1"/></g><path d="M1239,66l-2,1-1,1-2,0-1,1-1-2-1-1 2-1-1-3 2,1 3-1 0,2zM1265,61l-1,2-1,3-2-2-3,2 0-4-4-1 4-2 0-3 3,1 2-1 2,2zM1332,63l-3,1 0,2-2-1-3,2 1-3-4-1 3-1 1-3 2,2 1-1 1,2zM1351,65l-1,1 1,4-3-2-3,2 1-4-3-1 2-2 1-2 2,1 2-1 0,2zM1374,66l-2,2 0,3-3-2-2,1-1-2-3-2 3-2 0-3 3,2 2-1 0,3zM1256,77l-1,1 0,4-3-2-2,2-1-3-2-2 3-1 0-3 2,1 3-2 0,4zM1281,83l-3,2 0,3-2-1-3,1 0-3-2-2 3-1-1-4 3,3 2-2 0,3zM1299,85l-3,1 0,3-2-1-4,2 0-3-3-2 3-2 0-5 4,3 3-2 0,4zM1406,84l-3,2 0,1-2,0-2,1 0-2-2-2 2-1 0-3 2,1 2,0 0,2zM1427,86l-5,1 1,4-3-2-5,4 0-5-3-2 5-2-2-6 5,4 4-3 0,4zM1244,106l-3,2 0,3-3,0-5,2 0-5-4-2 5-3 1-2 3-1 2,1 2,2zM1290,104l-1,2 0,3-3-1-3,0 1-3-2-1 2-1 0-2 2,1 2-2 0,3zM1311,102l-2,2 0,2-3-1-3,3 1-4-3-2 3-1 0-3 2,1 3-2 0,4zM1352,109l-2,2 0,3-3-2-2,1-2-2-3-2 4-2 0-2 3-1 3,0 1,3zM1375,102l-1,2 0,4-3-2-2-1 0-2-2-1 1-1 0-4 3,3 3-2 0,3zM1398,101l-6,2 1,5-4-2-4,2 1-5-2-2 3-1-2-5 4,2 4-2-1,5zM1415,104l-2,1 1,5-4-2-3,2-1-4-4-2 6-2-2-6 4,4 4-2-1,4zM1438,102l-2,2-1,2-2-1-2,0 0-2-2-1 1-1 0-3 3,0 3-1 0,3zM1176,117l-3,2-2,2-2,1-5,2 1-5-4-2 5-2 0-3 3,2 3-3 1,3zM1217,115l-4,2 0,4-4-1-3,1-1-3-3-3 3-3 0-4 4,2 3,0 2,2zM1239,119l-3,2-1,3-3-2-3,3 1-5-3-1 2-2-1-5 4,1 3,1 1,3zM1327,120l-2,2 1,4-4-1-4,1 0-4-2-2 2-3 0-3 4,2 3-3 0,5zM1411,123l-3,2 0,3-3-1-3,0 0-3-2-1 3-1-1-4 3,3 3-4-1,4zM1451,123l-2,1 1,5-4-3-3,3 0-4-2-2 2-2 0-4 3,4 3-3 1,3zM1164,137l-2,2-1,2-2-1-4,4 0-5-2-2 2-2 1-2 3,1 3-2 0,3zM1183,138l-4,2 0,3-3-2-3,3 0-4-2-2 1-3 2-2 2,1 4-3 0,5zM1202,139l-4,2 1,3-3-2-2,1 0-3-2-1 2-1 0-2 2,1 2,0 0,1zM1223,136l-2,2-1,1-2,0-3,1 0-3-1-1 2-2-1-3 3,2 3-3-1,4zM1248,144l-3,2 0,3-3-1-4,2-1-3-1-3 2-2 0-5 4,2 3-1 1,3zM1272,136l-3,2 0,2-2-1-2,1 1-3-3-1 2-1 1-2 1,1 3-1-1,2zM1418,142l-1,2-1,3-3,1-4,2 1-6-4-2 3-2 0-4 4,2 4-2-1,5zM1477,142l-2,2 0,3-3-2-1,0-1-2-1-1 1-1 0-3 2,2 3-1 1,1zM1195,157l-3,2 1,5-4-2-3,0-1-3-5-2 5-3 1-2 3,1 3-2 0,4zM1235,158l-3,2 1,4-4-2-4,3 0-5-2-2 3-2-1-5 4,3 3,0 0,2zM1401,160l-2,1-1,2-2,0-2,1 1-3-2-1 1-1 1-2 1,0 2,0 0,2zM1425,159l-2,1-1,2-2,0-2,1-1-3-1-1 1-2 0-3 3,2 3-2 0,3zM1451,158l-4,2 1,4-3-2-2,1 0-3-2-2 0-2 2-1 2,0 3-2 0,3zM1183,173l-3,2 0,3-2-3-2,2 0-2-4-2 4-1 0-2 2,1 2-2-1,4zM1202,177l-1,2 0,3-3-3-2,1-1-1-2-2 3-1-1-4 3,3 2-1 1,1zM1229,178l-1,2 0,3-2-3-3,2 0-2-2-2 2-1 0-3 3,2 1,0 1,1zM1459,178l-2,2 0,3-3-3-3,2 0-2-1-2 1-2 0-3 3,3 1-1 1,2zM1480,180l-1,2-1,2-3-1-2,0-1-2-2-1 1-3 2-1 2,0 2,0 1,2zM1169,191l-3,2 0,3-4-3-2,2 0-3-3-1 2-2 1-2 2,0 3,0 1,2zM1209,196l-2,3-1,2-2,0-3-1-1-1-2-3 3-1-1-6 4,4 2-1 2,2zM1236,195l-4,2 1,4-3-3-2,1-1-2-3-2 3-1 1-3 2,2 3-3-1,4zM1430,190l-2,2-1,2-2,0-4,3 1-6-6-1 4-2 2-3 3,1 2,0 0,2zM1452,195l-4,2 0,3-3-1-4,1 1-4-5-1 3-3 1-4 4,2 4-3-2,6zM1471,196l-3,1 0,2-2,1-2-1 0-2-3-1 2-2 1-2 2,1 3-1 0,2zM1492,194l-3,1 0,3-2-1-3,2 0-3-2-2 2-1 0-3 3,1 2-1 1,2zM1160,208l-4,2 0,5-4-2-2-1-1-2-4-2 3-2 1-3 3,2 3-2 1,2zM1179,214l-1,1-1,3-2-2-3,2 0-3-2-1 3-1-1-4 3,1 3-1 0,3zM1203,213l-1,2 0,3-3-2-1,0-1-1-2-2 3-1-1-2 2,1 3-2 0,3zM1227,212l-1,2 0,3-3-3-3,3 1-4-2-1 2-1 0-2 2,0 3-1-1,3zM1420,211l-3,2 0,4-3-2-4,2 1-4-2-2 1-2 1-4 3,1 4-2 0,4zM1439,217l-2,2-1,1-2,0-2,1 0-2-3-2 3-1 1-1 1-1 2,0 1,2zM1457,214l-2,2-1,2-2,0-4,3 1-5-3-2 4-1-1-4 3,1 4-2-1,5zM1479,210l-3,2 1,4-3-3-2,0 0-2-3-1 3-1 0-3 2,1 2,0 0,2zM1497,216l-4,1 1,4-3-3-2,2 0-3-2-1 2-1 0-2 2,1 2-2 0,3zM1152,229l-3,3 0,3-4-2-2,1-1-3-4-2 3-2 1-4 3,2 3,1 1,2zM1210,231l-2,2 1,3-3-1-3,2 0-4-1-2 2-1-1-3 3,0 2,1 1,2zM1452,235l-3,2 0,3-2-1-2,0-1-3-2-1 2-1 0-3 3,2 2-2 0,2zM1496,229l-4,2 0,3-3-3-3,4 0-4-3-2 4-1 0-2 2,1 3-3-1,4zM1160,250l-4,2 0,4-3-2-4,2 1-4-2-2 2-1-1-5 4,1 2,1 2,2zM1221,253l-2,2-1,3-3,0-3,1-1-4-4-2 5-2 0-4 3,2 3-1 0,3zM1415,247l-6,2 1,4-4-1-3,1 0-4-5-2 4-2 2-2 2,0 4-2 0,4zM1440,254l-4,2 1,5-4-3-3,1 0-3-5-2 5-2-1-5 4,2 4-2 0,5zM1462,252l-3,1 0,3-3-1-2,0 1-2-4-1 4-1-1-3 2,2 2-2 1,2zM1481,251l-2,2 0,4-4-3-3,2-1-2-3-3 3-2 1-3 3,1 3-1 2,3zM1147,271l-2,1 0,3-2-2-3,2 0-3-1-1 1-2 0-3 3,3 2-2 0,3zM1242,263l-2,2 0,6-4-3-3,0-2-2-1-3 1-2 0-6 5,4 3-2 0,4zM1401,270l-2,2 0,4-3-4-3,4-1-4-2-2 3-2 1-2 2,0 3-1 0,3zM1424,269l-2,2-1,2-2-1-2,1 0-3-3-1 2-2 0-4 3,2 4-2 0,4zM1451,269l-4,2-2,2-2,0-4,1 0-4-2-1 3-2-1-5 4,3 2,0 0,2zM1477,269l-5,2 0,3-3-1-3,2 0-5-4-1 4-2-1-4 4,2 2,0 2,2zM1161,285l-3,2 0,4-3-2-4,2 1-4-3-2 2-2 1-3 3,1 3-1 0,3zM1183,285l-4,2-1,3-3-1-2,0-1-2-3-2 4-1 0-3 2,1 4-3-1,5zM1203,287l-5,2 0,3-3,0-3,1 0-4-6-2 4-3 0-5 5,5 4-3 1,3zM1223,285l-2,2-1,1-2,1-3,1 0-4-3-1 3-2 1-2 2,1 2-1 1,2zM1268,288l-1,1-1,3-2-1-2,1-1-2-2-2 3-1-1-5 3,3 3-3-1,5zM1287,285l-5,2 1,4-3-2-3,1 0-3-2-2 2-2 0-4 3,4 2-1 1,2zM1377,286l-3,1 0,2-2,0-3,1 0-3-3-1 3-2 0-2 3,1 3-2-1,3zM1422,287l-5,2 1,6-5-5-4,4 0-5-1-2 0-3 1-4 4,1 3,0 0,4zM1173,305l-3,2 0,2-2,0-4,2 0-4-3-2 5-1 0-3 2,0 3-1 0,3zM1195,306l-2,3 0,5-5-4-3,2-1-3-2-3 4-1-1-4 3,1 3-1 1,3zM1211,301l-2,1 1,3-3-1-1,0-1-1-1-2 1-1 0-3 2,2 3-2-1,3zM1235,308l-3,1 0,5-3-3-4,3-1-4-3-2 4-3 0-3 4,1 3-1 0,4zM1256,304l-3,1 0,2-2,0-3,2 0-3-1-2 1-1 0-3 3,2 2-2 0,3zM1325,307l-3,3-1,4-4-3-3,1-1-3-2-2 2-2 0-5 4,2 4-2 0,5zM1339,302l-1,2 0,3-3-2-3,2 0-3-2-2 3-1-1-4 3,3 2-3 1,3zM1365,303l-5,2 0,5-4-3-3,0-1-2-4-2 6-2-2-5 4,2 4-3 0,6zM1385,306l-4,2-1,2-2,0-3,2 0-4-1-2 1-2 0-4 3,2 2,1 0,2zM1405,306l-2,1 1,4-3-3-3,2 0-3-2-1 2-2 1-2 2,0 2,0 0,3zM1426,302l-2,2 1,4-4-3-2,2 0-4-1-1 1-1-1-4 3,1 3-1 1,3zM1456,304l-3,1 2,7-5-5-3,3-1-4-1-2 1-3 1-4 3,2 5-3-1,5zM1468,305l-3,1 1,5-4-1-3-1 0-3-5-1 5-2 0-4 3,2 3-1 1,2zM1179,321l-2,1 1,3-3-1-2,0-1-2-3-1 4-2 0-2 2,1 2-2 0,3zM1204,323l-5,2 0,3-3,0-3,2-1-5-4-2 5-1 1-3 2-1 3,1 0,3zM1223,321l-3,2-1,3-2-1-4,2 1-4-2-2 2-1 0-4 3,2 2-1 2,2zM1253,325l-5,2 1,5-4-2-2-1-1-1-3-3 4-1-1-5 3,3 3-2 1,4zM1272,321l-4,2 0,3-3-1-3,1 0-3-4-2 3-2 1-3 3,2 3-2 1,3zM1289,326l-4,2 0,4-4-3-4,4 1-5-5-2 5-2-1-4 4,1 2,0 2,3zM1306,324l-1,3-1,3-3-2-2,1 0-3-2-2 1-1 1-3 2,2 3-1 1,2zM1334,323l-1,3 0,4-4-3-3,2 0-4-5-2 4-2 0-4 4,3 4-4-2,6zM1353,330l-4,1 0,2-2,0-2,0-1-1-1-2 2-1 0-3 2,1 3-2-1,3zM1372,324l0,1-1,2-2-1-2,2 0-3-1-1 1-2 0-2 2,2 2-1 0,2zM1440,328l-3,3 0,5-4-2-3,0-1-3-4-3 4-2-1-6 5,3 4-2-1,6zM1210,342l-2,2-1,2-3,1-2,0-1-3-4-2 4-2-1-5 4,2 4-2-1,6zM1232,341l-1,2 0,5-4-3-3,0-1-2-2-2 3-2 0-4 3,2 3-2 2,3zM1339,348l-2,2 0,2-2,0-2,0 0-2-4-2 4-1 0-2 2,1 2-1 0,2zM1364,343l-1,2 0,3-2-1-3,0 0-2 0-2 1-1-1-3 3,2 2-2-1,4zM1387,349l-4,1 0,3-3-1-3,2 1-4-2-1 1-2 1-2 2,1 4-3 0,4zM1405,343l-3,2 1,5-4-2-3-1-1-2-3-2 3-2 0-4 4,3 4-4-1,5zM1424,341l-2,2 0,2-3-1-2,1-1-3-1-1 2-2 0-2 2,0 3,0-1,2zM1226,355l-3,2-1,3-2-1-2,0-1-2-4-2 4-1 0-4 3,1 3-1 0,4zM1246,360l-3,2 0,5-3-2-3,0 0-3-3-2 2-2 1-3 3,1 4-3-1,6zM1265,359l-3,2 0,4-3-1-3,1-1-3-2-3 3-2 0-3 3,2 4-4 0,5zM1311,366l-1,1 0,2-2-1-2,1 0-2-2-1 2-2 0-1 2,1 2-1 1,1zM1333,363l-4,2 0,3-3-1-3,3 0-5-2-2 2-2 1-2 2,0 4-2-1,5zM1377,364l-1,1-1,2-1-1-2,1-1-2-1-1 2-2-1-2 3,1 2-2 0,3zM1400,362l-2,2 0,4-3-3-3,3 1-4-3-2 2-2 0-3 3,2 4-3-1,5zM1344,376l-1,2-1,3-2-2-2,1 0-3-2-1 2-1-1-3 3,2 2-2 0,3zM1366,375l-4,1 1,4-3-1-2,0-1-2-4-2 4-1 0-5 3,2 3-1-1,4z" fill="#000"/><g fill="#000" opacity="0.72"><ellipse cx="1318" cy="175" rx="21" ry="18" transform="rotate(30 1318 175)"/><ellipse cx="1352" cy="202" rx="22" ry="19" transform="rotate(30 1352 202)"/><ellipse cx="1325" cy="225" rx="12" ry="10"/></g><g fill="#fff" stroke="#000" stroke-width="2.1"><ellipse cx="1401.6" cy="216.2" rx="12.8" ry="6.8" transform="rotate(95.7 1401.6 216.2)"/><ellipse cx="1395.3" cy="239.6" rx="13.2" ry="6.3" transform="rotate(114.5 1395.3 239.6)"/><ellipse cx="1381.8" cy="259.9" rx="13" ry="7" transform="rotate(132.8 1381.8 259.9)"/><ellipse cx="1362.2" cy="275.3" rx="12.6" ry="6.3" transform="rotate(150.7 1362.2 275.3)"/><ellipse cx="1338.7" cy="284.1" rx="14.5" ry="6.4" transform="rotate(168 1338.7 284.1)"/><ellipse cx="1313.4" cy="285.7" rx="13" ry="6.7" transform="rotate(-174.9 1313.4 285.7)"/><ellipse cx="1288.8" cy="279.7" rx="13.4" ry="6.3" transform="rotate(-157.6 1288.8 279.7)"/><ellipse cx="1267.4" cy="266.8" rx="14.2" ry="5.7" transform="rotate(-140 1267.4 266.8)"/><ellipse cx="1251.3" cy="248.2" rx="13.1" ry="5.6" transform="rotate(-121.9 1251.3 248.2)"/><ellipse cx="1242" cy="225.8" rx="13.7" ry="5.9" transform="rotate(-103.2 1242 225.8)"/><ellipse cx="1240.4" cy="201.8" rx="13.4" ry="6.7" transform="rotate(-84.3 1240.4 201.8)"/><ellipse cx="1246.7" cy="178.4" rx="14.3" ry="5.5" transform="rotate(-65.5 1246.7 178.4)"/><ellipse cx="1260.2" cy="158.1" rx="14.3" ry="6.6" transform="rotate(-47.2 1260.2 158.1)"/><ellipse cx="1279.8" cy="142.7" rx="12.7" ry="6.5" transform="rotate(-29.3 1279.8 142.7)"/><ellipse cx="1303.3" cy="133.9" rx="13.5" ry="6.8" transform="rotate(-12 1303.3 133.9)"/><ellipse cx="1328.6" cy="132.3" rx="13" ry="6.7" transform="rotate(5.1 1328.6 132.3)"/><ellipse cx="1353.2" cy="138.3" rx="13.9" ry="5.7" transform="rotate(22.4 1353.2 138.3)"/><ellipse cx="1374.6" cy="151.2" rx="13.6" ry="5.6" transform="rotate(40 1374.6 151.2)"/><ellipse cx="1390.7" cy="169.8" rx="13.5" ry="5.5" transform="rotate(58.1 1390.7 169.8)"/><ellipse cx="1400" cy="192.2" rx="13.1" ry="5.8" transform="rotate(76.8 1400 192.2)"/></g><circle cx="1250" cy="71" r="10" fill="#fff" stroke="#000" stroke-width="2.2"/><circle cx="1455" cy="305" r="10" fill="#fff" stroke="#000" stroke-width="2.2"/><path d="M1178,342l-5-4-4-4-4-5-3-4-4-4-4-5-3-4-3-5M1278,389l-4-1-5-1-5-1-4-1-5-1-5-1-4-2-5-1M1364,386l-4,0-3,1-4,1-3,1-4,0-3,1-4,0-3,1M1476,308l-2,4-3,4-3,3-3,4-3,3-3,4-3,3-3,3M1121,224l0-4 0-4 0-5 0-4 0-5 1-4 0-4 1-5M1236,57l3-2 3-1 4-1 3-1 3-1 4-1 3-1 4-1M1461,107l3,2 2,3 2,2 2,3 2,3 2,2 2,3 2,3" fill="none" stroke="#000" stroke-width="7" stroke-linecap="round" opacity="0.85"/><g fill="#000"><circle cx="1127" cy="296" r="5"/><circle cx="1138" cy="318" r="4"/><circle cx="1437" cy="72" r="4"/><circle cx="1453" cy="80" r="3"/></g><ellipse cx="1312.5" cy="217" rx="201" ry="184" fill="none" stroke="#000" stroke-width="2.8"/><g fill="none" stroke="#000" stroke-linejoin="round"><path d="M1758,75l3-1-2,0-1,1zM1764,75l2-2-2,0-2,1zM1772,75l6-3-4,0-3,1zM1780,73l4-1-5,0-1,0zM1784,72l1,1 4-1-5,0zM1793,76l6-3-1-1-7,0-1,0zM1799,73l1,1 3-2-4,0-1,0zM1809,75l1-2-3,0-4-1zM1734,82l2-2-2,0-1,0zM1742,79l3-1-4,1zM1745,78l4,1 1,0 0-3-2,1-3,1zM1750,79l6,1 1-1 1-4-4,1-4,0zM1762,74l-1,0-3,1-1,4 5,3 3-5-1-2zM1764,75l1,2 5,3 2-2 0-3-1-2-2,0-3,0zM1777,79l2,0 1-6-2-1-6,3 0,3zM1785,73l-1-1-4,1-1,6 2,1 6-1zM1793,78l0-2-3-4-1,0-4,1 2,6 2,1zM1793,78l3,3 5-3-1-4-1-1-6,3zM1803,72l-3,2 1,4 2,1 6-2 0-2zM1809,75l0,2 2,2 2-1 3-5-6,0zM1813,78l5,2 3-3-1-4-4,0zM1829,74l-3,0-6-1 1,4 4,1 3-1zM1835,75l-6-1-1,3 5,6 3-4zM1836,79l4,1 2-2 0-2-7-1zM1842,78l4,1 2-2-4-1-2,0zM1854,80l3-1-4-1-2-1zM1717,87l4-4-2,1-4,1zM1728,85l-1-3-6,1 2,2zM1734,82l-1-2-6,2 1,3 2,1 4-3zM1734,82l0,1 2,2 6-1 0-5-1,0-5,1zM1749,79l-4-1-3,1 0,5 2,2 4-2zM1752,88l3-3 1-5-6-1-1,0-1,5zM1758,87l5-3-1-2-5-3-1,1-1,5zM1766,86l3,0 1-6-5-3-3,5 1,2zM1777,79l-5-1-2,2-1,6 2,2 3-1zM1782,88l-1-8-2-1-2,0-3,8zM1789,85l0-5-2-1-6,1 1,8 2,2zM1798,87l-2-6-3-3-4,2 0,5 8,3zM1798,87l5-2 0-6-2-1-5,3zM1809,77l-6,2 0,6 7,3 1-9zM1811,79l-1,9 2,3 4,1 3-1-1-11-5-2zM1825,78l-4-1-3,3 1,11 6,0zM1828,77l-3,1 0,13 5,1 1-2 2-7zM1833,83l-2,7 10-5-1-5-4-1zM1841,85l3,2 4-2-2-6-4-1-2,2zM1848,85l2,1 3-1 1-5-3-3-3,0-2,2zM1860,84l-1-4-2-1-3,1-1,5 1,0zM1862,85l3-2 1-1-5-2-2,0 1,4zM1865,83l5,4 2-2-4-2-2-1zM1700,91l3-2-4,2zM1706,91l3-1 1-3-7,2zM1709,90l4,2 4-4 0-1-2-2-4,1-1,1zM1717,87l0,1 3,3 4-1-1-5-2-2zM1724,90l2,1 4-2 0-3-2-1-5,0zM1730,86l0,3 4,4 5,1-3-9-2-2zM1744,86l-2-2-6,1 3,9 4,2zM1749,95l3-6 0-1-4-4-4,2-1,10zM1759,91l-1-4-3-2-3,3 0,1zM1766,86l-3-2-5,3 1,4 1,3zM1831,90l-1,2 10,6 3-2 1-9-3-2zM1844,87l-1,9 7,0 0-10-2-1zM1857,90l-3-5-1,0-3,1 0,10 2,0zM1857,90l4,1 1-1 0-5-2-1-6,1zM1866,92l3-2 1-3-5-4-3,2 0,5zM1878,87l-4-2-2,0-2,2-1,3 4,3 4-3zM1877,90l4,3 4-2-5-2-2-2zM1689,101l4-7-1,0-6,3-1,1zM1700,91l-1,0-4,2-3,1 1,0 4,3 3-1zM1706,95l0-4-3-2-3,2 0,5 2,1zM1709,90l-3,1 0,4 8,6-1-9zM1713,92l1,9 0,1 3-1 1-1 2-9-3-3zM1720,91l-2,9 8-4 0-5-2-1zM1730,89l-4,2 0,5 3,2 5-5zM1861,91l-4-1-5,6 7,2zM1862,101l4-2 0-7-4-2-1,1-2,7 2,3zM1873,96l0-3-4-3-3,2 0,7 5,0zM1881,93l-4-3-4,3 0,3 5,2 3-1zM1887,93l-1-1-1-1-4,2 0,4 2,3 5-3zM1888,97l3,1 2-1-2-1-4-3zM1682,104l-1-4-4,2-1,1 1,1zM1689,102l0-1-4-3-4,2 1,4 2,1zM1691,104l5-2 1-5-4-3-4,7 0,1zM1702,106l2,0-2-9-2-1-3,1-1,5zM1704,106l8,0 2-4 0-1-8-6-4,2zM1878,98l-5-2-2,3 2,7 3,0zM1883,100l-2-3-3,1-2,8 4,2 4-6zM1891,98l-3-1-5,3 1,2 4,2 4-3zM1891,98l1,3 3,3 4-2 0-1-2-1-4-3zM1899,102l2,1-2-2zM1667,111l3-3 0-1-2,1-3,2zM1670,108l5,1 1,0 1-5-1-1-6,4zM1676,109l4,2 4-3 0-3-2-1-5,0zM1684,108l7,4 0-2 0-6-2-2-5,3zM1691,110l11-4-6-4-5,2zM1888,104l-4-2-4,6 9,3zM1895,104l-3-3-4,3 1,7 6-3zM1902,108l1-4-2-1-2-1-4,2 0,4 2,1zM1902,108l4,4 3-3-5-4-1-1zM1657,117l4-1-1-3-2,2-3,1zM1661,116l3,1 4-4-1-2-2-1-5,3zM1667,111l1,2 5,3 1,0 1-7-5-1zM1674,116l8,1-2-6-4-2-1,0zM1682,117l1,2 8-3 0-4-7-4-4,3zM1895,108l-6,3 0,6 5,1 3-3 0-6zM1897,115l6,0 3-1 0-2-4-4-5,1zM1906,112l0,2 2,1 4-1 1-3-2-1-2-1zM1912,114l4,2 2-2-5-3zM1658,120l-1-3-2-1-4,3 3,6zM1661,116l-4,1 1,3 3,2 4-3-1-2zM1664,117l1,2 5,5 3-8-5-3zM1673,116l-3,8 2,2 3,2 7-3 1-6-1-2-8-1zM1903,115l-6,0-3,3 5,7 3,1zM1906,114l-3,1-1,11 1,0 6-7-1-4zM1912,114l-4,1 1,4 6,2 1-5zM1922,117l-3-1-1-2-2,2-1,5 5,2 3-2zM1928,121l-6-4 1,4 4,0zM1646,123l-6,5 4,1 3-2zM1647,127l1,0 6-2-3-6-3,3-2,1zM1661,122l-3-2-4,5 6,6zM1670,124l-5-5-4,3-1,9 1,0 11-5zM1909,119l-6,7 1,2 7,0 4-7zM1920,123l-5-2-4,7 5,3 4-4zM1927,127l0-6-4,0-3,2 0,4 2,1zM1927,121l0,6 3,3 3-2 0-3-4-3-1-1zM1933,128l4,1 1-1-5-3zM1635,133l1,0 0-3-4,3zM1636,133l4,2 4-2 0-4-4-1-2,1-2,1zM1651,135l-3-8-1,0-3,2 0,4 5,4zM1660,131l-6-6-6,2 3,8 7-2 2-2zM1920,127l-4,4 0,3 8,3 1-1-3-8zM1925,136l1,0 3-4 1-2-3-3-5,1zM1937,129l-4-1-3,2-1,2 6,3 3-3zM1944,132l-5-3-1-1-1,1 1,3 3,1zM1944,132l1,1-1-1zM1633,140l2-7-3,0-4,4-1,1 2,3zM1641,140l-1-5-4-2-1,0-2,7 2,2zM1647,145l2-8-5-4-4,2 1,5 6,5zM1935,135l-6-3-3,4 7,5 1-1zM1938,132l-3,3-1,5 7-2 0-5zM1944,132l-3,1 0,5 2,2 4-2 0-4-2-1zM1951,141l2-3-4-2-2-2 0,4zM1620,148l2-4 0-2-3,2-2,3zM1622,144l4,1 2-1 1-3-2-3-5,4zM1632,149l3,0 0-7-2-2-4,1-1,3zM1635,149l5,3 7-7-6-5-6,2zM1934,140l-1,1 1,5 4,2 5-4 0-4-2-2zM1943,140l0,4 6,2 2-1 0-4-4-3zM1956,146l3-1 0-3-6-4-2,3 0,4zM1963,145l-3-2-1-1 0,3 2,1zM1612,152l0-1-1,1-1,2zM1620,148l-3-1-5,4 0,1 3,2 7-2zM1625,151l1-6-4-1-2,4 2,4zM1630,151l2-2-4-5-2,1-1,6zM1943,144l-5,4 2,4 9-2 0-4zM1949,150l2,4 5-2 0-6-5-1-2,1zM1958,153l4-1-1-6-2-1-3,1 0,6zM1961,146l1,6 1,1 5-4-5-4zM1605,159l3-2 1-3-4,5zM1608,157l4,2 3-1 0-4-3-2-2,2-1,0zM1624,159l-2-7-7,2 0,4 5,5 2,0zM1622,152l2,7 5-1 1-7-5,0-3,1zM1951,154l-1,6 8,1 0-8-2-1zM1958,161l2,1 4-6-1-3-1-1-4,1zM1963,153l1,3 5,2 3-2 0-3-3-3-1-1zM1972,156l4,4 3-2-1,0-6-5zM1601,165l4-2 0-4-2,1-3,5zM1609,166l2-1 1-6-4-2-3,2 0,4zM1615,158l-3,1-1,6 7,0 2-2zM1969,158l-5-2-4,6 1,3 8-3zM1971,164l4-2 1-2-4-4-3,2 0,4zM1976,160l-1,2 3,3 5-3-4-4zM1986,165l-2-2zM1596,170l4-3 1-2-1,0-4,4-1,1zM1605,172l3-2 1-4-4-3-4,2-1,2zM1611,165l-2,1-1,4 8,5 1,0 1-10zM1961,165l0,2 5,5 6-3-1-5-2-2zM1972,169l4,1 2,0 0-5-3-3-4,2zM1978,165l0,5 5,1 2-1 1-5-2-2-1-1zM1986,165l-1,5 5,1 1,0-5-6zM1596,170l-1,0-4,6 3,2 4-2zM1596,170l2,6 2,1 4-2 1-3-5-5zM1604,175l7,6 5-6-8-5-3,2zM1983,177l0-6-5-1-2,0-1,7 5,1zM1990,176l0-5-5-1-2,1 0,6 2,1zM1990,171l0,5 4,2 1-2-2-3-2-2zM1591,183l2-1 1-4-3-2-2,3-1,2zM1600,182l0-5-2-1-4,2-1,4 3,2zM1608,188l2-2 1-5-7-6-4,2 0,5zM1986,182l-1-4-2-1-3,1-1,10 1,0zM1994,181l0-3-4-2-5,2 1,4 3,1zM1994,178l0,3 2,3 4-1-1-2-4-5zM1586,189l3-1 2-5-3-2-5,6zM1593,182l-2,1-2,5 6,2 1-6zM1595,190l1,1 9,2 3-5-8-6-4,2zM1990,189l-1-6-3-1-6,6 7,2zM1990,189l4,1 2-2 0-4-2-3-5,2zM1996,184l0,4 5,3 2-2-3-6zM1580,194l0-2-2,3zM1586,189l-3-2-1,1-2,4 0,2 4,2 3-3zM1589,188l-3,1 1,4 5,4 4-6-1-1zM1990,200l3-1 1-2 0-7-4-1-3,1 1,10zM1994,190l0,7 7-3 0-3-5-3zM2006,194l-2-5-1,0-2,2 0,3 2,2zM1577,197l-1,1-2,3zM1580,194l-2,1-1,2 4,3 4-1-1-3zM1592,197l-5-4-3,3 1,3 7,5zM2001,194l-7,3-1,2 7,3 3-4 0-2zM2003,196l0,2 5,2 2,0-1-2-3-4zM1574,205l0-3-3,4zM1581,200l-4-3-3,4 0,1 0,3 2,2 3-1zM1585,199l-4,1-2,6 9,3 1-1 3-4zM2002,208l-2-6-7-3-3,1 2,8 8,4zM2000,202l2,6 3-2 3-6-5-2zM2008,200l-3,6 6,1 1-2-2-5zM1569,209l-2,4-1,1 3-2zM1576,207l-2-2-3,1-2,3 0,3 4,1 3-2zM1588,209l-9-3-3,1 0,4 7,5zM2012,212l-1-5-6-1-3,2-2,4 1,1 1,1zM2015,212l1,0-3-6-1-1-1,2 1,5 2,1zM2015,212l1,1 0-1zM1566,217l0-3-3,4-1,1 1,0zM1566,217l5,2 2-1 0-5-4-1-3,2zM1583,216l-7-5-3,2 0,5 5,2 5-3zM2004,217l7,3 2-2 1-5-2-1-10,2zM2015,212l-1,1-1,5 4,2 2-2-3-5zM1570,224l1-5-5-2-3,2 1,1 3,2 2,2zM1577,225l1-5-5-2-2,1-1,5 4,2zM1584,225l0-5-1-3-5,3-1,5 4,2zM1584,220l0,5 3,1 7-2 2-3zM2004,222l0-5-2-3-1-1-6,6 0,3 5,4zM2004,222l3,4 4-2 0-4-7-3zM2011,220l0,4 2,2 5-3-1-3-4-2zM2018,223l3,2 1-1-3-5 0-1-2,2zM1574,226l-4-2-1,0 4,3 1,1zM1577,225l-3,1 0,2 5,3 2-1 0-3zM1581,230l4,2 2,0 0-6-3-1-3,2zM1587,226l0,6 2,0 5-4 0-4zM1594,224l0,4 3,5 7-4-7-8-1,0zM2000,226l-5-4-3,6 4,2 4-1zM2003,231l3-3 1-2-3-4-4,4 0,3zM2011,231l3-2-1-3-2-2-4,2-1,2zM2018,223l-5,3 1,3 2-1 5-3zM1585,232l-4-2-2,1 4,3 1,1zM1591,236l-2-4-2,0-2,0-1,3 5,3zM1597,233l-3-5-5,4 2,4 4,0 2-1zM1600,238l7-4-1-4-2-1-7,4 0,2zM1983,225l-5,5 0,2 1,1 8,3 2-1 1-6zM1992,228l-2,1-1,6 4,2 3-1 0-6zM1996,230l0,6 3,1 5-3-1-3-3-2zM2011,231l-5-3-3,3 1,3 1,1 3-2 3-2zM2014,229l-3,2 3-2zM1591,236l-2,2 5,4 1-6zM1601,241l-1-3-3-3-2,1-1,6 3,2zM1606,242l3-6-2-2-7,4 1,3 4,2zM1617,241l-2-3-6-2-3,6 5,3zM1968,239l1,3 6,1 4-3 0-7-1-1zM1979,240l4,3 2-1 2-6-8-3zM1987,236l-2,6 4,2 4-4 0-3-4-2zM1993,237l0,3 1,2 4-3 1-1 0-1-3-1zM1999,238l6-3-1-1-5,3zM1594,242l3,2 1,1-1-1zM1604,248l1-5-4-2-4,3 1,1 4,3zM1608,251l3-2 0-4-5-3-1,1-1,5zM1614,250l5-2-1-6-1-1-6,4 0,4zM1625,240l-7,2 1,6 3,3 7-3zM1958,247l6,2 5-2 0-5-1-3-1,0-9,3zM1975,243l-6-1 0,5 2,3 6-2zM1979,249l3-2 1-4-4-3-4,3 2,5zM1984,248l2-2 4-2-1,0-4-2-2,1-1,4zM1993,240l-4,4 1,0 4-2zM1608,251l-4-3-2,0 6,4zM1608,252l5,4 1,0 1,0-1-6-3-1-3,2zM1617,256l5-3 0-2-3-3-5,2 1,6zM1629,248l-7,3 0,2 3,4 6-3 3-4zM1958,247l-10,3-1,2 1,3 6,1 4-3zM1965,255l-1-6-6-2 0,6 3,4zM1969,247l-5,2 1,6 2,1 4-3 0-3zM1971,250l0,3 3,1 5-3 0-2-2-1zM1979,251l5-3-2-1-3,2zM1620,261l-3-5-2,0-1,0 6,5zM1622,253l-5,3 3,5 2,1 3-2 0-3zM1625,257l0,3 4,3 4-2-2-7zM1631,254l2,7 3,1 5-4-4-9-3,1zM1939,258l5,4 4-3 0-4-1-3-6,0zM1954,256l-6-1 0,4 4,4 4-3zM1958,261l2-1 1-3-3-4-4,3 2,4zM1962,261l6-3-1-2-2-1-4,2-1,3zM1971,253l-4,3 1,2 6-4zM1622,262l-2-1 2,1zM1629,267l0-4-4-3-3,2 7,5zM1629,263l0,4 4,2 4-2-1-5-3-1zM1636,262l1,5 4,1 2-1-1-9-1,0zM1652,258l-10,0 1,9 4,0 7-6zM1929,258l-3,4 7,6 5-1-1-8zM1937,259l1,8 3,0 3-3 0-2-5-4zM1944,262l0,2 3,2 5-1 0-2-4-4zM1952,263l0,2 1,2 5-3 0-3-2-1zM1958,264l3-2 1-1-2-1-2,1zM1633,269l-4-2 1,1 3,2zM1641,273l0-5-4-1-4,2 0,1 6,4zM1643,267l-2,1 0,5 3,2 4-2-1-6zM1654,261l-7,6 1,6 2,1 4-1 1-12zM1664,272l-9-11-1,12 3,2zM1924,275l3-1-2-11-2,0-5,9zM1933,273l0-5-7-6-1,1 2,11 4,0zM1938,275l4-3-1-5-3,0-5,1 0,5zM1941,267l1,5 1,1 3-2 2-1-1-4-3-2zM1952,265l-5,1 1,4 5-3zM1644,275l-3-2-2,1 4,3zM1650,280l0-6-2-1-4,2-1,2 3,2 2,2zM1654,273l-4,1 0,6 2,1 5-4 0-2zM1657,277l3,4 5-3 0-6-1,0-7,3zM1916,273l-7-2-4,2-1,5 1,1 8,2 3-5zM1921,281l3-1 0-5-6-3-2,1 0,3zM1924,280l1,0 6-1 0-5-4,0-3,1zM1938,275l-5-2-2,1 0,5 7-3zM1938,275l0,1 5-3-1-1zM1654,285l-2-4-2-1-2,1 6,4zM1652,281l2,4 4,0 1-1 1-3-3-4zM1659,284l6,3 3-2-2-5-1-2-5,3zM1675,277l-9,3 2,5 3,1 7-4zM1899,286l0-6-6-1-1,0 2,6 1,2zM1905,279l-1-1-5,2 0,6 2,1 4-4zM1913,281l-8-2 0,4 4,4 5-4zM1913,281l1,2 1,1 5,0 1-3-5-5zM1920,284l1,1 5-3-1-2-1,0-3,1zM1931,279l-6,1 1,2 4-2 1-1zM1658,285l-4,0 4,3zM1664,291l1-4-6-3-1,1 0,3 3,2 2,1zM1665,287l-1,4 3,3 5-4-1-4-3-1zM1678,282l-7,4 1,4 3,3 8-6-1-3zM1894,290l1-3-1-2-8,2 0,2 6,2zM1902,290l-1-3-2-1-4,1-1,3 5,3zM1905,283l-4,4 1,3 4,1 3-2 0-2zM1909,287l0,2 3,1 4-2-1-4-1-1zM1916,288l5-3-1-1-5,0zM1667,294l-3-3-1,0 4,4zM1667,295l5,3 3-2 0-3-3-3-5,4zM1675,296l4,2 3-1 1-10-8,6zM1683,287l-1,10 3,3 7-5 2-2-1-1-10-5zM1880,297l5-2 0-5-11,1zM1887,297l5-1 0-5-6-2-1,1 0,5zM1894,290l-2,1 0,5 3,3 4-3 0-3zM1906,291l-4-1-3,3 0,3 2,1 5-3zM1909,289l-3,2 0,3 6-4zM1672,298l3,2 3,2 1-4-4-2zM1682,297l-3,1-1,4 3,3 4-3 0-2zM1692,303l0-8-7,5 0,2 2,2zM1695,305l7-5-3-5-5-2-2,2 0,8zM1873,292l-5,2-1,8 4,2 3-2zM1873,292l1,10 4,1 2-1 0-5-6-6zM1880,297l0,5 7,1 0-6-2-2zM1895,299l-3-3-5,1 0,6 2,0 6-3zM1899,296l-4,3 0,1 6-3zM1685,302l-4,3 5,4 2-2-1-3zM1695,305l-3-2-5,1 1,3 5,2 2-2zM1706,307l0-4-4-3-7,5 0,2 4,2zM1854,306l6,6 4-5-1-3-5-2zM1867,302l-4,2 1,3 4,4 4-2-1-5zM1874,302l-3,2 1,5 1,1 5-2 0-5zM1878,308l2,1 1-1 5-3 1-2-7-1-2,1zM1887,303l-1,2 3-2zM1693,309l-5-2-2,2 2,1 5,3zM1699,309l-4-2-2,2 0,4 4,3 1,0zM1702,316l3-3 1-5 0-1-7,2-1,7zM1709,317l7-2 1-2-11-5-1,5zM1854,306l-1-1-8,9 4,2 5-2zM1854,306l0,8 3,2 3-3 0-1-6-6zM1860,313l5,3 3-5-4-4-4,5zM1873,310l-1-1-4,2-3,5 1,0 1,0 7-3zM1873,310l1,3 3-3 3-1-2-1zM1880,309l1-1zM1702,316l-4,0-1,0 4,4 4,2zM1709,321l0-4-4-4-3,3 3,6 0,1zM1709,321l4,2 2-2 1-6-7,2zM1716,315l-1,6 5,3 4-4-2-6-3-2-2,1zM1845,314l-5,0 1,4 6,7 4-5-2-4zM1857,316l-3-2-5,2 2,4 3,2 3-3zM1860,313l-3,3 0,3 3,2 1-1 4-2 1-2-1,0zM1865,318l2-2-1,0zM1713,327l0-4-4-2-4,2 7,5zM1713,323l0,4 5,2 2-2 0-3-5-3zM1720,324l0,3 3,2 5-2 0-5-4-2zM1728,327l2,2 9-5-3-5-8,3zM1831,322l-6,1 0,4 3,3 5-3zM1841,318l-1-4-1,0-4,1-4,7 2,5 3,1 2-1zM1847,325l-6-7-3,9 4,3zM1854,322l-3-2-4,5 2,2 5-3zM1857,319l-3,3 0,2 6-3zM1718,329l-5-2-1,1 2,1 3,3zM1718,329l-1,3 3,2 3-2 0-3-3-2zM1723,329l0,3 5,3 2-2 0-4-2-2zM1739,324l-9,5 0,4 5,1 7-4 0-3zM1821,329l-5-2-3,4 6,5 3-3zM1824,334l4-2 0-2-3-3-4,2 1,4zM1836,328l-3-1-5,3 0,2 3,3 4-2zM1842,330l-4-3-2,1-1,5 2,2 6-4zM1847,325l-5,5 1,1 2-1 4-3zM1728,337l0-2-5-3-3,2 6,4zM1728,337l2,3 5-1 0-5-5-1-2,2zM1741,339l1-9-7,4 0,5 2,2zM1750,335l-8-5-1,9 4,3zM1812,338l0-6-10-1-1,3 1,3 5,4zM1819,336l-6-5-1,1 0,6 3,3 4-2zM1826,340l-2-6-2-1-3,3 0,3 3,2zM1828,340l2-2 1-3-3-3-4,2 2,6zM1835,333l-4,2-1,3 1,0 6-3zM1730,340l-2-3-2,1 4,3zM1737,344l0-3-2-2-5,1 0,1 5,3zM1745,342l-4-3-4,2 0,3 4,2 3-1zM1752,335l-2,0-5,7-1,3 4,2 4-2 1-9zM1763,344l-2-6-8-2-1,9 2,1 9-2zM1801,334l-7,2-1,7 4,4 4-1 1-9zM1802,337l-1,9 3,2 5-3-2-4zM1809,345l2,1 4-3 0-2-3-3-5,3zM1822,341l-3-2-4,2 0,2 2,3 3-1 2-1zM1822,344l6-3 0-1-2,0-4,1zM1830,338l-2,2 0,1 1-1 2-2zM1735,344l1,1 4,3 1-2-4-2zM1741,346l-1,2 5,3 1,1 2-1 0-4-4-2zM1748,347l0,4 3,2 4-2-1-5-2-1zM1754,346l1,5 2,1 4-3 2-5zM1773,345l-10-1-2,5 4,5 8-3 1-3zM1793,352l4-2 0-3-4-4-6,5 1,1zM1804,351l0-3-3-2-4,1 0,3 3,3zM1811,346l-2-1-5,3 0,3 3,3 2-2 3-2zM1811,346l1,4 1,0 4-3 0-1-2-3zM1817,346l0,1 3-2zM1751,353l-3-2-2,1 4,3zM1758,356l-1-4-2-1-4,2-1,2 4,2 2,1zM1763,358l2-2 0-2-4-5-4,3 1,4zM1773,351l-8,3 0,2 5,4 3-4zM1779,348l-5,0-1,3 0,5 5,4 3-2zM1788,349l-1-1-4-2-4,2 2,10 2,0 3-1zM1790,359l3-3 0-4-5-3-2,8zM1798,358l2-5-3-3-4,2 0,4zM1807,354l-3-3-4,2-2,5 2,0 7-4zM1807,354l2-2zM1763,358l-5-2-2,2 6,4zM1770,364l0-4-5-4-2,2-1,4 5,3zM1773,356l-3,4 0,4 2,1 5-1 1-4zM1778,360l-1,4 3,4 5-3-2-7-2,0zM1783,358l2,7 2,0 3-1 0-5-4-2zM1790,364l7-4 1-2-5-2-3,3zM1798,358l-1,2 2-1 1-1-2,0zM1772,365l-2-1-3,1 1,1 5,3zM1779,368l1,0-3-4-5,1 1,4 1,0 3,2zM1780,368l-1,0 2,2 6-4 0-1-2,0zM1787,365l0,1 3-2zM1779,368l-2,3 1,1 3-2z" stroke-width="1.5"/><path d="M1757,98l3-4-1-3-7-2-3,6zM1760,94l7,2 4-3 0-5-2-2-3,0-6,8zM1782,88l-8-1-3,1 0,5 9,6 5-5-1-4zM1785,94l4,1 8-2 0-5-8-3-5,5zM1797,93l4,4 11-6-2-3-7-3-5,2-1,1zM1729,98l-3-2-8,4-1,1 10,6 4-2zM1743,96l-4-2-5-1-5,5 2,7 5,1 6-4 1-6zM1742,102l6,5 10-1-1-8-8-3-6,1zM1758,106l1,1 9-2-1-9-7-2-3,4zM1767,96l1,9 2,1 9-5 1-2-9-6zM1780,99l-1,2 5,6 8-2-3-10-4-1zM1792,105l4,1 5-3 0-6-4-4-8,2zM1801,97l0,6 8,4 6-4 1-11-4-1zM1825,91l-6,0-3,1-1,11 7,4 5-3 3-12zM1827,104l8,4 4-3 1-7-10-6zM1851,106l-1-10-7,0-3,2-1,7 6,5zM1856,107l5-6-2-3-7-2-2,0 1,10zM1873,106l-2-7-5,0-4,2 7,9zM1691,112l0,4 3,2 6-4 2-8-11,4zM1702,106l-2,8 6,4 7-7-1-5-8,0-2,0zM1727,107l-10-6-3,1-2,4 1,5 5,5 6-1zM1737,115l-1-9-5-1-4,2-3,8 6,5zM1744,117l2-1 2-9-6-5-6,4 1,9zM1759,115l0-8-1-1-10,1-2,9 8,3zM1773,114l-3-8-2-1-9,2 0,8 7,4zM1777,116l6-2 1-7-5-6-9,5 3,8zM1787,117l8-4 1-7-4-1-8,2-1,7zM1795,113l5,5 9-4 0-7-8-4-5,3zM1815,103l-6,4 0,7 6,5 9-4-2-8zM1827,104l-5,3 2,8 4,2 3-1 4-8zM1845,110l-6-5-4,3-4,8 10,3 4-4zM1860,115l-4-8-5-1-6,4 0,5 4,2zM1863,116l4-2 2-4-7-9-1,0-5,6 4,8zM1880,108l-4-2-3,0-4,4-2,4 9,6 3-3zM1888,118l1-1 0-6-9-3-1,9zM1691,116l-8,3-1,6 8,6 8-5-4-8zM1706,124l0-6-6-4-6,4 4,8 2,1zM1715,125l3-9-5-5-7,7 0,6 6,2zM1724,115l-6,1-3,9 14,7 2-5-1-7zM1731,127l12-2 1-8-7-2-7,5zM1743,125l11,13 1,0-1-19-8-3-2,1zM1766,119l-7-4-5,4 1,19 6,0 6-1zM1776,135l1-19-4-2-7,5 1,18zM1785,136l5-1-3-18-4-3-6,2-1,19zM1795,136l4,0 1-18-5-5-8,4 3,18zM1811,137l1-1 3-17-6-5-9,4-1,18 4,1 1,0zM1828,117l-4-2-9,4-3,17 13,3 1,0 3-9zM1831,116l-3,1 1,13 11-6 1-5zM1849,117l-4-2-4,4-1,5 5,4 7-2zM1855,127l7-6 1-5-3-1-11,2 3,9zM1867,114l-4,2-1,5 7,10 6-5 1-6zM1876,120l-1,6 7,5 6-5 0-8-9-1zM1899,125l-5-7-5-1-1,1 0,8 5,3zM1675,132l0-4-3-2-11,5 8,10zM1682,125l-7,3 0,4 7,8 8-7 0-2zM1700,127l-2-1-8,5 0,2 4,6 8-4zM1712,143l0-17-6-2-6,3 2,8zM1714,146l6,0 10-4-1-10-14-7-3,1 0,17zM1729,132l1,10 3,1 17-3 3-1 1-1-11-13-12,2zM1829,130l-3,9 10,6 3,0 3-4 3-13-5-4zM1845,128l-3,13 14-8-1-6-3-1zM1856,133l6,4 6-4 1-2-7-10-7,6zM1875,126l-6,5-1,2 8,7 7-4-1-5zM1893,129l-5-3-6,5 1,5 2,1 9,0zM1904,134l0-6-1-2-1,0-3-1-6,4 1,8 3,3zM1916,131l-5-3-7,0 0,6 8,4 4-4zM1653,147l4-1 1-13-7,2-2,2-2,8zM1669,141l-8-10-1,0-2,2-1,13 6,2 6-4zM1681,150l1-10-7-8-6,9 0,3zM1682,140l-1,10 6,8 2,0 6-4-1-15-4-6zM1694,139l1,15 11-1 2,0 6-7-2-3-10-8zM1862,137l-6-4-14,8-3,4 14,9 8,0zM1862,137l-1,17 1,0 13-10 1-4-8-7zM1875,144l6,4 5-2-1-9-2-1-7,4zM1894,137l-9,0 1,9 5,3 7-7-1-2zM1898,142l6,6 8-4 0-6-8-4-7,6zM1912,138l0,6 5,3 4-1 3-9-8-3zM1924,137l-3,9 9,2 4-2-1-5-7-5-1,0zM1635,160l5-4 0-4-5-3-3,0-2,2-1,7zM1646,160l6-3 1-10-6-2-7,7 0,4zM1657,146l-4,1-1,10 7,3 4-4 0-8zM1663,148l0,8 18,8 3-3 3-3-6-8-12-6zM1875,144l-13,10 5,7 4,4 7,3 3-5 0-15zM1886,146l-5,2 0,15 10-8 0-6zM1898,142l-7,7 0,6 9,2 3-1 1-8zM1912,144l-8,4-1,8 7,4 7-6 0-7zM1917,147l0,7 8,6 4-3 1-9-9-2zM1936,159l4-2 0-5-2-4-4-2-4,2-1,9zM1951,154l-2-4-9,2 0,5 8,4 2-1zM1627,168l8-3 0-5-6-2-5,1-2,4zM1640,172l2,0 5-4-1-8-6-4-5,4 0,5zM1647,168l12,3 0-11-7-3-6,3zM1660,172l10,6 4-3 7-11-18-8-4,4 0,11zM1891,155l-10,8-3,5 4,5 1,1 15-7 2-10zM1903,156l-3,1-2,10 7,4 7-6-2-5zM1917,154l-7,6 2,5 4,2 8-3 1-4zM1925,160l-1,4 6,7 5-3 1-9-7-2zM1935,168l5,2 7-4 1-5-8-4-4,2zM1950,160l-2,1-1,5 6,6 8-5 0-2-1-3-2-1zM1620,163l-2,2-1,10 6,2 4-1 0-8-5-5zM1633,178l7-6-5-7-8,3 0,8zM1647,183l13-11-1-1-12-3-5,4zM1906,185l-1-14-7-4-15,7 2,7 5,6 3,3 7,4 1-1zM1912,165l-7,6 1,14 12-8-2-10zM1916,167l2,10 5,1 6-5 1-2-6-7zM1929,173l7,8 6-2-2-9-5-2-5,3zM1940,170l2,9 3,1 7-7 1-1-6-6zM1961,167l-8,5-1,1 7,8 8-3-1-6zM1966,172l1,6 3,3 5-4 1-7-4-1zM1617,175l-1,0-5,6-1,5 8,3 4-2 1-10zM1622,187l8,3 5-3-2-9-6-2-4,1zM1635,187l5,2 7-2 0-4-5-11-2,0-7,6zM1647,183l0,4 13,10 8-11 2-4 0-4-10-6zM1926,185l-3-7-5-1-12,8-5,8 4,0zM1932,188l4-7-7-8-6,5 3,7 4,4zM1941,191l6-6-2-5-3-1-6,2-4,7zM1959,181l-7-8-7,7 2,5 5,3 5-2zM1972,186l-2-5-3-3-8,3-2,5 6,6zM1980,178l-5-1-5,4 2,5 5,3 2-1zM1605,193l-9-2-4,6 0,7 1,0 12-11zM1608,188l-3,5 4,7 10-3-1-8-8-3zM1618,189l1,8 4,4 6-2 1-9-8-3zM1640,189l-5-2-5,3-1,9 4,2 7-4zM1660,204l0-1 0-6-13-10-7,2 0,8 10,8zM1928,194l2-5-4-4-21,8 18,4zM1928,194l7,8 7-5-1-6-9-3-2,1zM1952,188l-5-3-6,6 1,6 8,3 2-1zM1957,186l-5,2 0,11 6,1 5-3 0-5zM1977,196l0-7-5-3-9,6 0,5 6,4zM1982,200l6,0-1-10-7-2-1,0-2,1 0,7zM1609,200l-4-7-12,11 11,5 4-3zM1614,209l7-3 2-5-4-4-10,3-1,6zM1633,201l-4-2-6,2-2,5 7,8 7-7zM1650,205l-10-8-7,4 2,6 6,2zM1905,193l-4,0-1,1 0,3 2,6 3,7 10,2 9-3-1-12zM1924,209l4,0 7-3 0-4-7-8-5,3zM1950,200l-8-3-7,5 0,4 5,4 8-2zM1951,210l8-2-1-8-6-1-2,1-2,8zM1963,197l-5,3 1,8 4,4 6-7 0-4zM1969,205l8,6 3-2 2-9-5-4-8,5zM1987,212l5-4-2-8-2,0-6,0-2,9zM1596,221l-7-13-1,1-5,7 0,1 1,3 12,1zM1604,209l-11-5-1,0-3,4 7,13 1,0 6-4zM1614,209l-6-3-4,3-1,8 8,4 4-3zM1621,219l7-3 0-2-7-8-7,3 1,9zM1635,207l-7,7 0,2 6,6 7-5 0-8zM1641,217l7,3 13-5-1-11-10,1-9,4zM1930,219l-2-10-4,0-9,3 7,12zM1937,222l3-3 0-9-5-4-7,3 2,10zM1940,210l0,9 6,1 6-2-1-8-3-2zM1952,218l7,3 4-4 0-5-4-4-8,2zM1963,212l0,5 7,2 6-4 1-4-8-6zM1976,215l8,7 4-4-1-6-7-3-3,2zM2000,212l-8-4-5,4 1,6 7,1 6-6zM1603,217l-6,4 7,8 2,1 4-4 1-5zM1611,221l-1,5 8,4 3-1 0-10-6-1zM1621,219l0,10 7,3 7-5-1-5-6-6zM1634,222l1,5 4,3 6-1 3-9-7-3zM1661,215l-13,5-3,9 7,4 11-15zM1915,212l-10-2-4,12 2,14 8,0 11-12zM1922,224l8,7 6-4 1-5-7-3-8,5zM1943,232l5-1-2-11-6-1-3,3-1,5zM1959,221l-7-3-6,2 2,11 5,1 5-5zM1965,231l7-5-2-7-7-2-4,4-1,6zM1984,222l-8-7-6,4 2,7 6,4 5-5zM1995,219l-7-1-4,4-1,3 7,4 2-1 3-6zM1607,234l2,2 6,2 3-8-8-4-4,4zM1628,235l0-3-7-3-3,1-3,8 2,3 1,1 7-2zM1640,239l-1-9-4-3-7,5 0,3 9,7zM1645,229l-6,1 1,9 8,1 4-5 0-2zM1672,227l-7-8-2-1-11,15 0,2 9,5 14-5zM1911,236l10,4 9-5 0-4-8-7zM1930,235l7,6 3-1 3-8-7-5-6,4zM1948,231l-5,1-3,8 6,3 7-6 0-5zM1953,232l0,5 5,5 9-3-2-8-7-4zM1978,230l-6-4-7,5 2,8 1,0 10-7zM1637,249l0-7-9-7-3,5 4,8 5,2zM1637,249l11-2 0-7-8-1-3,3 0,7zM1661,240l-9-5-4,5 0,7 5,4 5-3zM1675,236l0-1-14,5-3,8 6,3 15-8 1-2zM1921,240l-10-4-8,0 0,1-3,6 17,9 7-4zM1921,240l3,8 4,3 7-4 2-6-7-6zM1935,247l6,5 6,0 1-2-2-7-6-3-3,1zM1946,243l2,7 10-3 0-5-5-5zM1641,258l1,0 10,0 1-7-5-4-11,2zM1655,261l10-2-1-8-6-3-5,3-1,7 2,3 1,0zM1664,251l1,8 6,1 4-3 4-14zM1682,242l-2-1-1,2-4,14 7,6 17-8-6-7zM1900,243l-4,6-1,1 15,11 6-1 1-8zM1924,248l-7,4-1,8 7,3 2,0 1-1 3-4-1-7zM1928,251l1,7 8,1 2-1 2-6-6-5zM1665,272l5-3 1-9-6-1-10,2 9,11zM1682,269l0-6-7-6-4,3-1,9 5,4zM1699,255l-17,8 0,6 8,5 13-11zM1894,267l11,6 4-2 1-10-15-11-3,3-4,6zM1918,272l5-9-7-3-6,1-1,10 7,2zM1665,278l1,2 9-3 0-4-5-4-5,3zM1689,276l1-2-8-5-7,4 0,4 3,5 4,2zM1703,263l-13,11-1,2 7,7 10-2 5-12-2-2zM1874,277l10,5 8-3 1,0 1-12-6-8-6,2-4,4-6,8zM1905,273l-11-6-1,12 6,1 5-2zM1683,287l10,5 3-9-7-7-7,8zM1693,292l1,1 5,2 9-8-2-6-10,2zM1708,287l6,5 14-7 3-3-12-10-8-3-5,12zM1874,291l0-14-2-4-6,0-12,7-3,4 7,7 10,3 5-2 1-1zM1885,290l1-1 0-2-2-5-10-5 0,14zM1892,279l-8,3 2,5 8-2zM1714,300l0-8-6-5-9,8 3,5 4,3zM1714,300l6,5 4-2 4-18-14,7zM1728,285l-4,18 7,2 15-15-7-4-8-4zM1848,285l-8,0-3,0-10,7 2,4 10,10 8-5zM1848,285l-1,16 6,4 1,1 4-4 0-11-7-7zM1858,302l5,2 4-2 1-8-10-3zM1706,308l11,5 2-1 1-7-6-5-8,3 0,4zM1722,314l11-2-2-7-7-2-4,2-1,7zM1737,315l6-4 6-19-2-1-1-1-15,15 2,7zM1743,311l8,6 6-7-4-17-4-1zM1754,293l-1,0 4,17 4,3 9-2 6-11-3-3-5-3zM1826,312l3-16-2-4-5,0-4,1-12,9 4,5 13,7zM1839,306l-10-10-3,16 9,3 4-1zM1847,301l-8,5 0,8 1,0 5,0 8-9zM1724,320l4,2 8-3 1-4-4-3-11,2zM1736,319l3,5 3,3 10-6-1-4-8-6-6,4zM1761,313l-4-3-6,7 1,4 5,3 4-1zM1766,325l5-3-1-11-9,2 0,10zM1776,300l-6,11 1,11 8,2 6-3 0-19zM1785,302l0,19 2,2 11-1 5-20-9-2-3,0zM1810,307l-4-5-3,0-5,20 3,4 10-6zM1810,307l1,13 5,4 6-4 1-6zM1826,312l-3,2-1,6 3,3 6-1 4-7zM1742,327l0,3 8,5 2,0 5-11-5-3zM1757,324l-5,11 1,1 8,2 5-6 0-7-5-2zM1766,332l8,4 5-2 0-10-8-2-5,3zM1784,337l6-3-3-11-2-2-6,3 0,10zM1801,334l1-3-1-5-3-4-11,1 3,11 4,2zM1816,327l0-3-5-4-10,6 1,5 10,1 1-1zM1825,323l-3-3-6,4 0,3 5,2 4-2zM1774,336l-8-4-5,6 2,6 10,1zM1783,346l1-9-5-3-5,2-1,9 1,3 5,0zM1793,343l1-7-4-2-6,3-1,9 4,2z" stroke-width="1.6"/><path d="M1750.9,99.6L1749.3,89.1M1753.6,101.4L1751.3,86.6M1755.6,99.1L1754,88.1M1758.4,101L1756,85.5M1760.7,100.4L1758.4,85.3M1762,97.3L1761.1,86.5M1764.4,97L1763.5,86.4M1766.9,98L1765.7,85M1769.2,97.4L1768.2,85.2M1771.7,97.5L1770.5,84.6M1773.4,98.3L1773,86M1775.8,98.6L1775.4,85.5M1778.1,97.3L1777.9,86.7M1780.6,98L1780.2,85.9M1783,98.8L1782.6,85M1785.5,96.2L1786,84.4M1787.9,96L1788.4,84.8M1790.3,95.8L1790.8,85.1M1792.7,97L1793.2,84.1M1795.1,96.7L1795.6,84.6M1722.3,108.9L1718.6,97.4M1725,109.4L1720.4,95.4M1726.7,106.9L1723.3,96.5M1729.6,108.2L1724.9,93.7M1731.6,106.5L1727.5,93.8M1733.4,107.8L1729.6,93.3M1735.1,105L1732.5,94.9M1737.6,105.2L1734.6,93.6M1740.3,106L1736.6,91.6M1742.1,103.3L1739.5,93.1M1758.2,107L1757,96.1M1760.7,107.4L1759.3,95.2M1763,106.3L1761.8,95.7M1765.5,107.5L1764,93.9M1767.8,105.8L1766.5,95.1M1780.8,106.6L1781,94.5M1783.2,106.7L1783.4,94.4M1785.6,107.8L1785.8,93.4M1788,106.3L1788.2,94.9M1790.4,106.9L1790.6,94.4M1790.3,105.4L1791.2,93M1792.8,104.7L1793.5,94.1M1795,107.2L1796.1,92M1797.5,106.9L1798.5,92.5M1799.9,106.7L1800.8,93.1M1803.5,103.5L1805,93.2M1805.5,106.5L1807.7,90.9M1808.1,105.1L1809.8,92.9M1810.5,105.3L1812.2,93.4M1813,104.8L1814.4,94.6M1838.7,106.5L1842.8,95M1841,107.2L1845,95.8M1843.2,108.3L1847.4,96.3M1844.9,110.6L1850.2,95.6M1848.1,108.7L1851.5,99.1M1848,106L1853,93.6M1850.4,106.6L1855.1,94.8M1852.6,107.6L1857.4,95.5M1855,108L1859.5,96.9M1856.5,110.7L1862.4,96.1M1860.2,108L1866.7,94.6M1863.3,107.2L1868,97.5M1864.8,109.7L1870.8,97.1M1867.1,110.3L1872.8,98.5M1868.8,112.3L1875.4,98.6M1704.8,118.5L1699.6,107M1706.9,117.3L1701.8,106.2M1709.5,117.5L1703.5,104.1M1711.4,115.8L1706,103.8M1713.5,114.7L1708.3,103M1716.9,117L1712.2,104.3M1719.4,116.7L1714.2,102.9M1721.7,116.1L1716.4,101.9M1723.1,113L1719.5,103.2M1726.1,114.2L1720.9,100.3M1728.1,119.5L1724.5,107.6M1730.9,120.4L1726.2,105.3M1732.7,118.1L1729,106.2M1734.7,116.4L1731.6,106.5M1737.7,118L1733.2,103.4M1749.3,118L1747.5,107.8M1751.8,118.3L1749.7,106.7M1754,117.3L1752.2,106.8M1756.3,116.6L1754.6,106.7M1759,117.7L1756.7,104.8M1761.4,118.5L1760.1,106.1M1763.9,119.4L1762.4,104.8M1766.2,118L1764.9,105.7M1768.6,118.2L1767.2,105M1770.9,116.5L1769.8,106.2M1772.7,114.4L1772.4,103.8M1775.2,116L1774.7,102M1777.6,116.6L1777.1,101.3M1780,116.8L1779.5,101M1782.3,115.4L1781.9,102.2M1784.3,116.5L1784.8,103.9M1786.7,115.4L1787.1,105.2M1789.1,117.2L1789.6,103.6M1791.5,116.5L1792,104.5M1793.9,117.7L1794.4,103.5M1796.4,116.9L1797.9,103.2M1798.7,117.6L1800.4,103.1M1801.2,117L1802.6,104.1M1803.7,116.5L1804.9,105.2M1806.1,116.3L1807.3,106M1810.1,115.8L1812.2,104.8M1812.5,115.7L1814.4,105.7M1814.7,116.8L1816.9,105.6M1817,117.6L1819.3,105.7M1819.1,119.4L1822,104.8M1821.4,116L1825.1,102M1823.5,117.3L1827.6,101.9M1826,117.4L1829.8,103.1M1828.9,115.7L1831.5,105.9M1831.1,116.7L1833.9,106.2M1844.6,117.3L1850.5,103.1M1847.6,116.4L1851.9,105.8M1849,119.3L1855,104.8M1851.3,120.1L1857.2,105.7M1854.4,118.9L1858.5,108.8M1867.2,115.5L1873.1,104.7M1868.6,118L1875.9,104.5M1871.4,117.9L1877.3,106.9M1872.8,120.2L1880.1,106.9M1875.7,120L1881.5,109.4M1689.6,132.6L1681.4,118.9M1691.5,131.2L1683.6,117.9M1693,129.1L1686.2,117.5M1695.2,128L1688.1,116.2M1696.7,125.8L1690.8,115.9M1699.7,128.8L1693.2,116.3M1701.1,126.3L1696.1,116.6M1703.5,125.7L1697.9,115M1706.1,125.6L1699.5,112.9M1708.6,125.2L1701.3,111M1709.8,126.7L1705,115.9M1712.4,126.6L1706.8,114M1714.4,125.3L1709.2,113.5M1716.8,124.8L1711.1,111.9M1719,123.9L1713.3,111M1722,131.9L1716.5,117.3M1723.7,129.7L1719.2,117.8M1725.9,128.6L1721.6,117.2M1728.1,127.6L1723.9,116.5M1730.2,126.4L1726.3,116M1734.2,128.4L1730.7,116.2M1736.3,127L1733.2,116.3M1739.2,128.3L1734.9,113.6M1741,126.2L1737.6,114.4M1743.4,125.6L1739.9,113.7M1745.9,131.6L1743.6,120.9M1748.2,131.1L1745.9,120.3M1750.6,130.7L1748.2,119.7M1753.4,132.2L1750.1,117.3M1755.5,130.9L1752.7,117.6M1778,133.7L1778,118.3M1780.4,132.7L1780.4,119.2M1782.8,133.6L1782.8,118.4M1785.2,131L1785.2,120.9M1787.6,132L1787.6,119.9M1789.1,130.2L1789.9,118.6M1791.4,131.5L1792.4,117.6M1793.8,130.8L1794.7,118.7M1796.3,129.9L1797,119.9M1798.6,131.1L1799.5,119.1M1801.2,131.3L1803,119.5M1803.5,131.7L1805.4,119.8M1805.9,131.8L1807.7,120.5M1808,134.2L1810.4,118.8M1810.7,132.2L1812.4,121.5M1814.9,132.7L1818.1,120M1817,134.3L1820.7,119.6M1819.6,133.7L1822.7,121.4M1822.1,133.9L1824.9,122.4M1824.4,134.3L1827.2,123.2M1826.5,127.8L1831,113.6M1829.4,126.6L1832.7,116.3M1831.8,127.1L1834.9,117.3M1833.6,129.1L1837.6,116.7M1836.2,129L1839.6,118.3M1860.9,126.5L1868.4,112.7M1863.7,126.3L1869.8,115.1M1865.6,128L1872.2,115.8M1867.3,129.8L1874.7,116.2M1869.4,130.9L1876.8,117.4M1873.8,126.7L1881.4,114.7M1876.4,127.2L1882.9,116.8M1877.7,129.5L1885.6,117M1880.6,129.5L1886.8,119.6M1882.7,130.6L1888.7,121.1M1884.4,125.9L1892.3,114.5M1886.1,127.6L1894.5,115.5M1888.8,128L1895.8,117.9M1889.9,130.6L1898.6,118M1892.8,130.7L1899.7,120.7M1669.6,141.4L1660.9,130.1M1671.1,139.4L1663.2,129.2M1672.7,137.5L1665.4,128.2M1675.5,137.3L1666.4,125.5M1676.6,134.7L1669.1,125M1695.5,140.6L1688.6,129M1697.2,138.8L1691.1,128.5M1698.9,137L1693.5,127.8M1701.4,136.6L1695.1,125.8M1703.1,134.7L1697.5,125.2M1717.7,143.7L1712.8,132.5M1719.8,142.5L1715.1,131.7M1722.3,142.3L1716.9,130M1724.3,140.7L1719.4,129.6M1726.7,140.2L1721.4,128.2M1891.3,133.4L1898.4,124.4M1892.6,135.7L1900.9,125M1894.6,137L1902.6,126.7M1897.1,137.7L1903.9,129M1899,139.2L1905.8,130.4M1902.7,133L1909.4,125.2M1902.8,136.6L1912.9,124.8M1906.4,136.1L1913,128.4M1906.7,139.4L1916.3,128.2M1909.5,139.8L1917.1,130.9M1654.1,148.5L1645,138.7M1655.4,146.3L1647.2,137.6M1658.5,146.1L1647.6,134.5M1658.7,142.8L1651,134.5M1660.3,141L1652.9,133.1M1676.7,150.6L1667.4,138.6M1677.5,147.7L1670.4,138.5M1679.9,146.9L1671.8,136.4M1681.4,144.9L1674.1,135.4M1683.3,143.4L1676,134M1859.4,146.2L1866.4,134.7M1861.1,148.1L1868.9,135.4M1863.7,148.4L1870.3,137.6M1865.2,150.4L1872.9,138M1867.6,151.2L1874.6,139.7M1872.7,145.9L1881.7,133.2M1875,146.8L1883.3,135.1M1876.9,148.3L1885.4,136.4M1879.5,148.8L1886.7,138.7M1881.2,150.6L1888.9,139.8M1882.5,145.1L1891.7,133.3M1885.4,145.3L1892.6,136.1M1887.2,146.9L1894.5,137.5M1889.1,148.3L1896.4,139M1891.5,149.2L1897.8,141.1M1897.3,142.2L1905.3,133.1M1899.6,143.3L1906.7,135.2M1900,146.4L1909.8,135.2M1902.5,147.2L1911,137.6M1904.6,148.4L1912.4,139.5M1909.3,141.8L1918.2,132.5M1911.3,143.2L1919.8,134.4M1912,145.9L1922.5,135.1M1913.8,147.5L1924.1,136.8M1916.8,147.8L1924.6,139.8M1918.4,144.6L1929.7,133.8M1921,145.4L1930.4,136.5M1922.2,147.7L1932.6,137.7M1923.4,149.8L1934.6,139.1M1925.5,151.1L1935.8,141.3M1635.4,161.3L1627.7,154.9M1637.6,160.1L1628.6,152.5M1638.9,158.1L1630.3,150.8M1640.3,156.1L1632,149.1M1641.6,154.1L1633.9,147.5M1648.7,160.7L1638.7,151.3M1650.9,159.4L1639.8,149.1M1650.7,156L1643.3,149M1654,155.7L1643.4,145.8M1655.2,153.6L1645.3,144.4M1866.3,158L1873.2,148.5M1868.6,158.8L1874.7,150.5M1869.7,161.5L1877.6,150.6M1871.6,162.9L1879.5,152M1873.9,163.8L1881.1,154M1889,153L1899.3,141.5M1891.7,153.7L1900.2,144M1893.9,154.8L1901.6,146.1M1894.3,158L1904.8,146M1898,157.4L1904.7,149.8M1903.1,152.2L1910.6,144.6M1904.9,153.8L1912.3,146.4M1905.1,157L1915.5,146.6M1908.4,157.1L1915.6,149.9M1909,159.9L1918.4,150.5M1916.1,152.3L1924.6,144.6M1916.8,154.9L1927.1,145.6M1919,156.2L1928.1,147.9M1920.2,158.4L1930.2,149.2M1921.2,160.6L1932.4,150.5M1927.3,152.4L1935.9,145.2M1928.4,154.6L1937.9,146.7M1928.9,157.3L1940.4,147.7M1930.2,159.4L1942.3,149.2M1933.5,159.8L1942.1,152.6M1630.2,169.9L1621.9,163.6M1632.9,169L1622.1,160.7M1633.5,166.4L1624.4,159.5M1635.6,164.9L1625.2,157.1M1636.3,162.5L1627.4,155.7M1897.2,163.8L1905,156.2M1898.2,166.1L1907.3,157.4M1899.2,168.5L1909.6,158.5M1900.7,170.4L1911.5,160M1902.1,172.3L1913.4,161.5M1921.3,164.4L1933.3,154.8M1924.2,165.1L1933.4,157.9M1924.2,168.2L1936.3,158.6M1926.6,169.3L1936.9,161.2M1928.8,170.6L1937.7,163.6M1946.6,164.2L1955.6,158.2M1946.9,166.9L1958.1,159.4M1948,169L1959.6,161.3M1949.5,171L1960.8,163.4M1949.8,173.6L1963.1,164.7M1624.8,178.2L1614.4,171.1M1627,176.7L1614.9,168.6M1627.9,174.5L1616.7,166.8M1628.3,171.8L1619,165.5M1630.3,170.3L1619.7,163.1M1635,179.3L1625,172M1637.7,178.2L1625.1,169.1M1638.3,175.7L1627.3,167.8M1638.5,172.9L1629.9,166.7M1640.3,171.2L1631,164.5M1651.6,181.8L1642.3,174.4M1654.3,180.9L1642.6,171.5M1655,178.3L1644.9,170.3M1657.4,177.2L1645.5,167.7M1657.8,174.4L1648.1,166.7M1889,179.4L1896.6,172.7M1889.2,182.4L1899.5,173.3M1891,184.1L1901,175.2M1892.2,186.2L1903,176.7M1893.5,188.3L1904.8,178.2M1902.5,175.3L1913.3,166.4M1904,177.1L1914.8,168.3M1905.3,179.2L1916.6,169.9M1907.5,180.5L1917.5,172.3M1910.1,181.5L1917.9,175.1M1914.1,171.7L1924.8,163.5M1915.2,173.9L1926.6,165M1917.2,175.4L1927.6,167.3M1919.1,177L1928.6,169.5M1920.7,178.8L1930,171.6M1929,173.4L1938,167.2M1930.1,175.6L1939.6,169M1930.6,178.1L1941.8,170.4M1933.2,179.3L1942,173.2M1934.4,181.3L1943.5,175.1M1619.6,189.4L1609.7,183.5M1620.9,187.3L1610.9,181.4M1623.5,186.1L1610.7,178.6M1624.1,183.7L1612.5,176.8M1625.7,181.8L1613.4,174.6M1631,190.3L1620.4,183.6M1632.3,188.3L1621.7,181.6M1633.7,186.3L1622.8,179.5M1635,184.3L1624.1,177.5M1635.7,181.9L1625.9,175.8M1641.8,188.1L1632.9,182M1645,187.4L1632.5,178.8M1644.3,184.1L1635.8,178.2M1646.6,182.7L1636.3,175.6M1647.1,180.2L1638.5,174.2M1661.9,191.9L1650.7,183.2M1663.1,189.9L1652.4,181.5M1665.1,188.3L1653.4,179.3M1664.8,185.1L1656.6,178.7M1668.4,184.8L1655.9,175.2M1906.8,184.6L1916,178M1906.6,187.7L1919,178.7M1908.1,189.5L1920.3,180.8M1909.5,191.5L1921.7,182.7M1912.4,192.4L1921.6,185.7M1920.8,180.9L1932.5,172.9M1921.6,183.2L1934.4,174.6M1924.4,184.2L1934.3,177.5M1925.4,186.4L1936,179.3M1927.9,187.7L1936.2,182M1931.2,184.4L1943.5,177M1932.6,186.4L1944.5,179.2M1935.4,187.5L1944.3,182.2M1935,190.6L1947.1,183.2M1936.6,192.4L1948.1,185.5M1943,181.1L1956.3,173.3M1946.4,181.8L1955.3,176.6M1947.7,183.9L1956.5,178.7M1948,186.5L1958.6,180.3M1948.6,188.9L1960.4,182M1966.7,181.6L1980.2,174.8M1968.5,183.4L1980.6,177.3M1969.3,185.7L1981.9,179.3M1970.6,187.7L1982.8,181.5M1970.7,190.4L1984.9,183.2M1600.6,203.6L1589,198.3M1601.4,201.3L1590.1,196.2M1602.6,199.2L1590.9,194M1603.8,197.1L1591.6,191.6M1604,194.6L1593.4,189.8M1627,200.7L1616.6,195M1627.9,198.4L1618,193M1630.9,197.3L1617.3,189.9M1630.8,194.5L1619.7,188.5M1633.3,193.2L1619.5,185.6M1637.8,201.2L1626.6,194.7M1639.7,199.5L1627,192.1M1640.6,197.2L1628.6,190.3M1641,194.7L1630.6,188.6M1643.8,193.6L1630.2,185.6M1652.4,203.5L1642.1,197M1653.3,201.2L1643.7,195.2M1656.4,200.3L1643.2,192M1655.9,197.2L1646.3,191.1M1657.8,195.6L1646.9,188.7M1911.1,191.8L1924.1,183.5M1912.5,193.8L1925.3,185.5M1914.1,195.6L1926.3,187.7M1916.7,196.8L1926.3,190.6M1916.8,199.6L1928.8,191.8M1927,193.3L1938.7,186.6M1927.2,195.9L1940.9,188.2M1930.1,197L1940.3,191.2M1930.9,199.3L1941.9,193.1M1931.3,201.8L1943.8,194.8M1939.5,191.7L1950.8,185.7M1939.5,194.4L1953.1,187.3M1941.8,196L1953.1,190M1942,198.5L1955.1,191.6M1944.5,200L1954.9,194.4M1962.4,191.9L1974.7,186.3M1964.1,193.8L1975.1,188.7M1964.6,196.2L1976.5,190.7M1966.6,197.9L1976.6,193.3M1967.4,200.2L1977.8,195.4M1607.2,209.2L1594.4,203.6M1608.6,207.1L1594.9,201.2M1607.6,204.1L1597.8,199.9M1609.6,202.3L1597.8,197.2M1611.5,200.5L1597.8,194.6M1645,211.2L1631.6,204M1645.2,208.6L1633.7,202.4M1647.3,207L1633.9,199.8M1646.7,203.9L1636.8,198.6M1647.4,201.6L1638.3,196.7M1921.4,200.7L1931.5,195.3M1922.7,202.7L1932.4,197.5M1924.1,204.7L1933.3,199.8M1924,207.5L1935.7,201.2M1924.8,209.8L1937.1,203.2M1955.7,202L1967.7,196.9M1956.3,204.3L1969,199M1956.3,207L1970.9,200.8M1958,208.8L1971,203.4M1959,211L1971.9,205.6M1968.3,201.3L1979.9,196.7M1967.9,204.1L1982.1,198.4M1969.1,206.2L1982.7,200.8M1969.7,208.6L1983.9,202.9M1971.4,210.4L1983.9,205.5M1978.8,202.9L1989.5,198.9M1979.6,205.1L1990.3,201.2M1980.8,207.2L1990.8,203.6M1981.9,209.4L1991.3,205.9M1981.8,212L1993.2,207.8M1594,222.4L1580.7,218M1593.4,219.7L1582.8,216.2M1595.3,217.8L1582.4,213.6M1595.4,215.3L1583.8,211.5M1596.8,213.3L1583.9,209M1602,218.7L1588.7,213.9M1602,216.2L1590.3,211.9M1603.9,214.3L1590,209.2M1602.7,211.4L1592.8,207.7M1605.9,210L1591.3,204.6M1614,220.6L1600.9,215.6M1615.6,218.6L1601.1,213.1M1615.4,216L1603,211.2M1615.2,213.3L1604.9,209.4M1617.5,211.7L1604.3,206.6M1624.6,220.2L1612.5,215.2M1626.5,218.4L1612.4,212.6M1625.9,215.5L1614.9,211M1628.6,214.1L1614,208.1M1629.1,211.7L1615.3,206M1639.1,221.4L1627,216M1639,218.7L1629.1,214.3M1640.8,216.8L1629.3,211.7M1641.4,214.5L1630.6,209.7M1642.1,212.2L1631.8,207.6M1655.1,219.3L1642.6,212.8M1655.7,216.9L1644.2,211M1657.8,215.3L1644.3,208.3M1658.3,212.9L1646,206.5M1658.3,210.1L1648.2,205M1914.6,214.3L1928.1,208.2M1917.2,215.8L1927.5,211.1M1917.4,218.4L1929.4,212.9M1918.9,220.3L1929.8,215.3M1918.9,223L1931.9,217M1925.7,212.6L1939.7,206.4M1928.5,213.9L1938.8,209.5M1927.9,216.8L1941.3,211M1929.8,218.6L1941.3,213.6M1931.2,220.6L1941.8,216M1938.2,211.9L1949.5,207.4M1939.5,214L1950,209.8M1939.1,216.7L1952.2,211.5M1940.4,218.8L1952.7,213.8M1941.2,221.1L1953.7,216M1948.3,212.5L1963.2,206.9M1950.7,214.2L1962.5,209.8M1952.2,216.2L1962.7,212.2M1951.8,218.9L1964.8,214M1953.7,220.8L1964.6,216.7M1973.9,212.9L1987.6,208.5M1976.6,214.6L1986.4,211.4M1975.9,217.3L1988.6,213.2M1976.5,219.6L1989.5,215.4M1978.5,221.5L1989,218.1M1985.3,211.1L1997.5,207.2M1986.2,213.3L1998.1,209.6M1987.5,215.4L1998.2,212M1986.1,218.4L2001.2,213.6M1987.1,220.6L2001.5,216M1632,231.1L1619.2,226.5M1633.1,229L1619.7,224.2M1634.1,226.8L1620.3,221.8M1633.8,224.1L1622.2,220M1635.7,222.2L1622,217.3M1901.9,221.3L1913.8,215.9M1903.3,223.3L1914.5,218.3M1903.9,225.7L1915.8,220.3M1903.6,228.5L1918.1,221.9M1905.9,230.1L1917.8,224.7M1934.4,223L1946.8,218.8M1935.4,225.2L1947.3,221.1M1936.7,227.3L1947.6,223.6M1938.2,229.3L1947.7,226.1M1938.9,231.6L1948.5,228.3M1943.4,222.4L1957.9,217.7M1945.9,224.1L1956.8,220.6M1944.9,227L1959.3,222.3M1948,228.5L1957.7,225.3M1946.9,231.4L1960.4,227M1957.4,221.3L1969.5,217.6M1958.2,223.6L1970.1,219.9M1957.4,226.3L1972.3,221.8M1959,228.4L1972.1,224.3M1959.2,230.8L1973.3,226.5M1982.3,220.2L1994.2,216.9M1982.8,222.5L1994.9,219.2M1981.9,225.3L1997.1,221.1M1982.6,227.6L1997.7,223.4M1984.1,229.7L1997.5,226M1615.3,238.1L1605.5,235.4M1618.6,236.5L1603.5,232.3M1616.7,233.5L1606.7,230.7M1617.4,231.2L1607.3,228.4M1619.9,229.4L1606,225.5M1648.9,240.7L1638.7,237.3M1650.8,238.8L1638.3,234.6M1651.6,236.5L1639.1,232.4M1652.5,234.3L1639.6,230M1652.6,231.8L1641.1,228M1913.4,230.7L1926.3,226.3M1913.3,233.3L1928,228.3M1914.9,235.3L1927.9,230.9M1916.9,237.2L1927.5,233.6M1915.5,240.1L1930.4,235.1M1938.4,233.6L1952.6,229.8M1940.9,235.4L1951.4,232.6M1941.6,237.7L1951.9,235M1940.7,240.5L1954.1,236.9M1940.7,242.9L1955.3,239.1M1951,232.1L1966.1,228.3M1953.4,234L1964.8,231.1M1953.2,236.5L1966.2,233.2M1953.9,238.8L1966.7,235.6M1955,241L1966.8,238M1635.5,249.2L1624.8,246.6M1637,247.1L1624.5,244M1638.7,245L1623.9,241.4M1636.8,242.1L1627,239.7M1638.9,240.1L1626,237M1646.9,250.1L1635.6,247.2M1647.5,247.8L1636.2,244.9M1649.5,245.8L1635.4,242.2M1650.6,243.6L1635.5,239.7M1650.8,241.2L1636.5,237.5M1922.2,240.1L1933.5,237.3M1921.3,242.8L1935.6,239.2M1922.7,244.9L1935.3,241.8M1922.5,247.5L1936.7,243.9M1923.9,249.6L1936.5,246.4M1933.7,242.9L1947.7,240M1934.2,245.3L1948.2,242.3M1935.5,247.5L1947.9,244.8M1936.5,249.7L1947.8,247.3M1935.4,252.4L1950,249.3M1943.6,240.8L1958.9,237.5M1945.8,242.8L1957.7,240.2M1947.1,245L1957.5,242.7M1947.6,247.3L1957.9,245.1M1946.7,249.9L1959.8,247.2M1650.1,258.8L1639.5,256.8M1651.2,256.6L1639.2,254.3M1653,254.5L1638.4,251.7M1652.2,251.9L1640.1,249.5M1651.8,249.4L1641.5,247.4M1900.2,248.8L1911.2,246.3M1901.3,251L1911.1,248.8M1900.2,253.7L1913.3,250.7M1900.3,256.1L1914.2,253M1902.7,258L1912.9,255.8M1915,252.3L1928.5,250M1916.3,254.6L1928.1,252.5M1917.6,256.8L1927.5,255.1M1918,259.1L1927.9,257.4M1917,261.7L1929.8,259.5M1670.1,270.1L1657.1,268.4M1669.7,267.7L1658.1,266.2M1671.1,265.4L1657.3,263.6M1670.8,263L1658.3,261.3M1670,260.4L1659.6,259.1M1696.4,270L1686.1,268.2M1698.9,267.9L1684.4,265.4M1699.7,265.6L1684.4,263M1699.5,263.2L1685.5,260.8M1699.6,260.8L1686.1,258.4M1891.7,258.4L1906.3,256.1M1893.7,260.5L1905.1,258.8M1894.2,262.9L1905.3,261.1M1894.1,265.3L1906.2,263.4M1894.1,267.7L1906.8,265.8M1906.9,262.2L1922.3,260.6M1908.9,264.4L1920.8,263.2M1907.9,266.9L1922.2,265.4M1908.2,269.3L1922.5,267.8M1908.3,271.7L1922.8,270.2M1676.9,279.7L1662,279M1676.1,277.3L1663.1,276.6M1677.4,274.9L1662,274.2M1676.6,272.5L1663,271.8M1675.3,270L1664.6,269.5M1689.3,281.4L1674.3,280.8M1689.7,279L1674,278.4M1689.1,276.6L1674.8,276.1M1687.5,274.1L1676.6,273.7M1689.8,271.8L1674.5,271.3M1707.9,279.3L1692.3,278.1M1708.2,276.9L1692.3,275.7M1707.8,274.4L1693.1,273.4M1708.1,272.1L1693.1,271M1706,269.5L1695.6,268.7M1891.3,270L1904.3,269.4M1891.1,272.4L1904.7,271.8M1892.6,274.8L1903.4,274.2M1893.1,277.1L1903.2,276.7M1892.1,279.6L1904.4,279M1882.6,278.2L1895.7,278.6M1883.1,280.6L1895.1,281M1883.5,283L1894.5,283.4M1881.7,285.4L1896.2,285.8M1883.2,287.8L1894.6,288.2M1726.8,298.9L1717,301.3M1728.5,296L1714,299.6M1725.9,294.2L1715.6,296.7M1727.2,291.4L1713.1,294.9M1725.3,289.4L1713.8,292.2M1835.4,288.3L1845.5,290.8M1832.4,290L1847.4,293.8M1834.3,293L1844.3,295.5M1831,294.6L1846.4,298.5M1832.4,297.4L1843.9,300.3M1857.4,291.6L1869.6,294.3M1856.2,293.8L1869.8,296.8M1855.6,296.1L1869.4,299.2M1854.8,298.4L1869,301.6M1854.2,300.7L1868.7,304M1722,308L1708,313.3M1720.2,306.2L1708.2,310.7M1718.6,304.2L1708,308.2M1719,301.5L1706,306.4M1718.3,299.2L1705,304.2M1748,304.6L1736.7,310.8M1746.9,302.5L1735.6,308.7M1746.1,300.2L1734,306.8M1744.7,298.2L1733.2,304.5M1742.2,296.8L1733.3,301.7M1758.1,305.6L1748.9,312.7M1756.1,304.1L1747.9,310.4M1755.8,301.3L1745.3,309.5M1754.9,298.9L1743.2,308M1752.4,297.8L1742.8,305.3M1771.9,300.3L1763.1,310.5M1769.1,299.8L1762.2,307.8M1768.1,297.3L1759.6,307.2M1765.4,296.7L1758.6,304.6M1763.8,294.9L1756.6,303.2M1828.8,299.7L1840.6,306.3M1829.1,302.7L1837.9,307.5M1827.7,304.6L1837.1,309.8M1824.6,305.7L1837.9,313M1824.6,308.4L1835.5,314.4M1842.1,301.4L1851.3,305.5M1840.7,303.4L1850.7,307.9M1837.7,304.7L1851.7,311M1838.9,307.8L1848.5,312.2M1836.4,309.3L1849.1,315.1M1737.9,316.8L1726.7,324.4M1735.1,315.8L1726.8,321.4M1735.2,312.8L1724,320.5M1732.8,311.5L1723.7,317.8M1731.7,309.4L1722,316M1751.5,317.9L1742.6,326.7M1749.8,316.2L1740.9,325M1747.8,314.8L1739.5,323M1746.5,312.7L1737.4,321.7M1744.9,311L1735.8,320M1765.1,313.8L1756.2,326.5M1762.9,312.8L1754.5,324.8M1760.5,312L1752.9,322.9M1758.5,310.7L1751,321.4M1756.4,309.5L1749.2,319.8M1772.5,315L1767.9,325.2M1771.1,312.3L1764.9,326M1768.3,312.7L1763.4,323.5M1766.3,311.2L1761,323M1763.9,310.8L1759,321.6M1783.7,306.9L1781.9,319.1M1781.5,305.5L1779.3,319.7M1778.9,306.6L1777.2,317.9M1776.5,306.7L1774.9,317.1M1774.4,304.2L1772.2,318.9M1806.3,307.8L1811.7,316.3M1802.7,306.6L1811.2,320M1801.1,308.6L1808.8,320.6M1800.2,311.6L1805.6,320.2M1797.2,311.3L1804.6,323M1814.9,307.6L1824.3,317.9M1814.1,310.3L1821.5,318.4M1811.9,311.5L1820.1,320.5M1808.9,311.8L1819.6,323.4M1808.3,314.7L1816.7,323.8M1826.8,310.5L1834.6,317.1M1825.3,312.4L1833.1,318.9M1821.6,312.4L1833.7,322.5M1820.6,314.7L1831.6,323.9M1819.3,316.7L1829.8,325.5M1767,325.7L1760.6,339.4M1763.9,326.7L1759.4,336.4M1761.7,325.7L1757.2,335.3M1759.4,324.9L1755.2,334.1M1757.9,322.5L1752.4,334.4M1778.4,325L1776.3,334.8M1776.6,321.7L1773.3,337.1M1773.9,322.8L1771.3,335M1771.5,322.6L1769,334.3M1769.1,322.5L1766.8,333.4M1797.7,320L1801.4,335.4M1795.5,321.5L1798.8,335.1M1793.2,322.2L1796.5,335.5M1791.1,323.5L1794,335.3M1788.9,324.9L1791.4,335M1820.4,317.1L1828.3,326.5M1817.4,317.3L1827.6,329.4M1816.2,319.5L1825.2,330.3M1815.4,322.3L1822.3,330.6M1813.3,323.6L1820.7,332.4M1774.2,333.1L1770.4,347.4M1771.2,334.8L1768.7,344.5M1769.1,333.4L1766.2,344.7M1766.6,333.4L1764,343.4M1764.9,330.5L1761.1,345.1M1792.4,334.3L1793.5,346.7M1790,334.2L1791.1,347.2M1787.7,335.8L1788.6,346M1785.1,333.8L1786.4,348.4M1782.8,335L1783.9,347.6" stroke-width="1.6"/><path d="M1771,145l7,8 4-3 3-14-9-1-9,2zM1782,150l3,2 6-1 4-15-5-1-5,1zM1750,140l-17,3 1,7 1,1 9,8 5-4zM1756,157l-3-18-3,1-1,15 4,4zM1753,139l3,18 2,0 4-3-1-16-6,0-1,0zM1767,137l-6,1 1,16 3,3 5-1 1-11-4-8zM1773,158l4-2 1-3-7-8-1,11zM1780,158l4-2 1-4-3-2-4,3-1,3zM1792,154l-1-3-6,1-1,4 5,3zM1803,137l-4-1-4,0-4,15 1,3 4,2 3,0zM1804,137l-1,0-4,19 3,2 4-2zM1812,155l-1-18-7,0 2,19 3,1zM1816,156l3-2 6-15-13-3-1,1 1,18zM1823,159l9-6 4-8-10-6-1,0-6,15zM1720,146l-6,0-6,7 3,5 8,7 5-3zM1728,163l6-13-1-7-3-1-10,4 4,16zM1735,151l-1-1-6,13 6,2 2-2zM1735,151l1,12 6,1 2-3 0-2zM1753,161l0-2-4-4-5,4 0,2 6,2zM1760,162l-2-5-2,0-3,2 0,2 4,3zM1765,157l-3-3-4,3 2,5 4,0 1-1zM1772,163l1-5-3-2-5,1 0,4zM1772,164l6,0 3-2-1-4-3-2-4,2-1,5zM1789,159l-5-3-4,2 1,4 1,1 7-2zM1796,162l0-6-4-2-3,5 0,2 1,1zM1798,164l4-2 0-4-3-2-3,0 0,6zM1809,157l-3-1-4,2 0,4 5,3 3-4zM1814,162l2-1 0-5-4-1-3,2 1,4zM1820,163l2-1 1-3-4-5-3,2 0,5zM1832,153l-9,6-1,3 7,1 1,0zM1835,166l3-4-2-17-4,8-2,10zM1850,159l3-5-14-9-3,0 2,17 5,2zM1706,153l-11,1-6,4 12,14 5-3zM1708,153l-2,0 0,16 3,2 3-1-1-12zM1711,158l1,12 3,2 5-4-1-3zM1719,165l1,3 3,2 4-1 1-6-4-1zM1727,169l2,2 5-2 0-4-6-2zM1743,168l-1-4-6-1-2,2 0,4 3,2zM1744,161l-2,3 1,4 2,2 5-2 0-5zM1757,168l0-4-4-3-3,2 0,5 3,2zM1759,170l5-2 0-6-4,0-3,2 0,4zM1772,164l0-1-7-2-1,1 0,6 0,1 7-2zM1778,164l-6,0-1,3 2,4 5-3zM1785,170l-3-7-1-1-3,2 0,4 3,3zM1787,170l3-3 0-5-1-1-7,2 3,7zM1795,169l3-2 0-3-2-2-6,0 0,5zM1807,168l0-3-5-3-4,2 0,3 5,3zM1807,165l0,3 3,1 3-2 1-5-4-1zM1818,168l2-1 0-4-4-2-2,1-1,5zM1829,163l-7-1-2,1 0,4 5,4 2-1zM1835,167l0-1-5-3-1,0-2,7 5,1zM1843,164l-5-2-3,4 0,1 5,2zM1849,168l1-9-7,5-3,5 1,1 6,1zM1854,171l13-10-5-7-1,0-8,0-3,5-1,9zM1689,158l-2,0-3,3 7,12 7,4 3-3 0-2zM1706,169l-5,3 0,2 6,3 2-6zM1712,170l-3,1-2,6 4,0 4-4 0-1zM1720,168l-5,4 0,1 4,4 4-3 0-4zM1729,171l-2-2-4,1 0,4 4,3 3-1zM1737,174l0-3-3-2-5,2 1,5 4,2zM1737,174l5,2 3-2 0-4-2-2-6,3zM1750,168l-5,2 0,4 5,3 2-1 1-6zM1752,176l3,0 4-1 0-5-2-2-4,2zM1767,174l-3-5 0-1-5,2 0,5 2,2zM1770,176l3-2 0-3-2-4-7,2 3,5zM1779,175l2-4-3-3-5,3 0,3 5,1zM1784,177l3-4 0-3-2,0-4,1-2,4zM1787,173l5,3 3-2 0-5-5-2-3,3zM1798,167l-3,2 0,5 4,2 3-2 1-4zM1802,174l5,3 4-4-1-4-3-1-4,2zM1811,173l4,2 2-1 1-6-5-1-3,2zM1820,167l-2,1-1,6 5,2 3-3 0-2zM1832,171l-5-1-2,1 0,2 4,4 5-2zM1835,176l4-1 2-5-1-1-5-2-3,4 2,4zM1841,170l-2,5 3,2 5-3 0-3zM1847,174l3,3 5-1-1-5-5-3-2,3zM1857,177l7-4 7-8-4-4-13,10 1,5zM1691,173l-7-12-3,3-7,11 13,7 4-1zM1698,180l0-3-7-4 0,8 2,2zM1701,174l-3,3 0,3 4,3 4-2 1-4zM1707,177l-1,4 4,3 4-2-3-5-4,0zM1715,173l-4,4 3,5 5-3 0-2zM1727,177l-4-3-4,3 0,2 4,4 2-2zM1735,181l-1-3-4-2-3,1-2,4 8,2zM1737,182l5-2 0-4-5-2-3,4 1,3zM1742,180l2,2 5-2 1-3-5-3-3,2zM1751,183l5-1-1-6-3,0-2,1-1,3zM1761,177l-2-2-4,1 1,6 3,1 3-2zM1766,183l4-3 0-4-3-2-6,3 1,4zM1774,182l4,0 0-7-5-1-3,2 0,4zM1778,182l2,1 5-1-1-5-5-2-1,0zM1785,182l3,1 2-2 2-5-5-3-3,4zM1795,174l-3,2-2,5 5,1 4-2 0-4zM1799,176l0,4 4,4 5-4-1-3-5-3zM1807,177l1,3 3,2 4-1 0-6-4-2zM1815,175l0,6 1,1 6-1 0-5-5-2zM1825,173l-3,3 0,5 1,1 5-1 1-4zM1829,177l-1,4 2,3 6-3-1-5-1-1zM1843,181l-1-4-3-2-4,1 1,5 1,2zM1842,177l1,4 2,1 4-2 1-3-3-3zM1849,180l3,3 5-4 0-2-2-1-5,1zM1864,173l-7,4 0,2 2,3 5-1zM1865,183l17-10-4-5-7-3-7,8 0,8zM1674,175l-4,3 0,4 13,8 4-2 0-6zM1691,181l-4,1 0,6 4,2 2-4 0-3zM1702,187l0-4-4-3-5,3 0,3 6,3zM1705,189l4-1 1-4-4-3-4,2 0,4zM1714,182l-4,2-1,4 2,1 5-2zM1723,183l-4-4-5,3 2,5 5,2 2-2zM1725,181l-2,2 0,4 4,2 4-1 2-5zM1737,182l-2-1-2,2-2,5 2,2 5-4zM1744,186l0-4-2-2-5,2 1,4 3,2zM1747,188l4-2 0-3-2-3-5,2 0,4zM1759,183l-3-1-5,1 0,3 3,2 5-2zM1759,183l0,3 3,3 5-2-1-4-4-2zM1767,187l3,3 3-3 1-5-4-2-4,3zM1780,186l0-3-2-1-4,0-1,5 4,2zM1780,186l4,3 4-5 0-1-3-1-5,1zM1796,188l-1-6-5-1-2,2 0,1 3,5zM1799,188l4-3 0-1-4-4-4,2 1,6zM1808,180l-5,4 0,1 4,3 2,0 2-6zM1816,182l-1-1-4,1-2,6 5,2 3-2zM1823,187l0-5-1-1-6,1 1,6 2,1zM1828,190l3-2-1-4-2-3-5,1 0,5zM1837,183l-1-2-6,3 1,4 4,0 2-2zM1845,182l-2-1-6,2 0,3 5,2 3-3zM1852,186l0-3-3-3-4,2 0,3 5,3zM1857,179l-5,4 0,3 6,1 1-5zM1863,189l3-2-1-4-1-2-5,1-1,5 0,1zM1866,187l4,2 15-8-2-7-1-1-17,10zM1683,190l-13-8-2,4 12,11 4-2zM1691,190l-4-2-4,2 1,5 3,1 5-2zM1699,189l-6-3-2,4 1,4 2,1 4-2zM1705,189l-3-2-3,2-1,4 4,2 2-1zM1709,196l4-2-2-5-2-1-4,1-1,5zM1716,195l3-2 2-4-5-2-5,2 2,5zM1727,189l-4-2-2,2-2,4 4,3 5-2zM1733,190l-2-2-4,1 1,5 1,1 5-3zM1741,188l-3-2-5,4 1,2 3,2 3-2zM1744,195l3-2 0-5-3-2-3,2-1,4zM1747,193l5,2 3-3-1-4-3-2-4,2zM1761,194l1-1 0-4-3-3-5,2 1,4zM1767,187l-5,2 0,4 5,2 3-2 0-3zM1777,189l-4-2-3,3 0,3 3,1 5-1zM1781,195l2-1 1-5-4-3-3,3 1,4zM1790,194l1-5-3-5-4,5-1,5zM1795,195l4-2 0-5-3,0-5,1-1,5zM1802,194l4-2 1-4-4-3-4,3 0,5zM1807,188l-1,4 3,4 5-1 0-5-5-2zM1821,193l-2-4-2-1-3,2 0,5 2,2 1,0zM1828,191l0-1-5-3-4,2 2,4 4,1zM1835,188l-4,0-3,2 0,1 5,5 3-3zM1842,188l-5-2-2,2 1,5 5,1 2,0zM1850,188l-5-3-3,3 1,6 7-2zM1853,195l4-2 1-5 0-1-6-1-2,2 0,4zM1864,195l-1-6-5-1-1,5 3,3zM1866,196l3-2 1-5-4-2-3,2 1,6zM1870,189l-1,5 4,2 17-9-5-6zM1680,197l-12-11-8,11 0,6 16,1 4-7zM1684,195l-4,2 4,4 3-1 0-4zM1687,196l0,4 3,1 4-3 0-3-2-1zM1698,193l-4,2 0,3 5,5 3-2 0-6zM1709,196l-5-2-2,1 0,6 3,1 3-1zM1712,204l4-4 0-5-3-1-4,2-1,5zM1716,200l5,2 3-1-1-5-4-3-3,2zM1728,194l-5,2 1,5 3,1 3-2-1-5zM1734,192l-5,3 1,5 5,1 1-1 1-6zM1737,194l-1,6 6,1 2-2 0-4-4-3zM1749,201l4-1-1-5-5-2-3,2 0,4zM1758,200l3-6-6-2-3,3 1,5 2,1zM1767,195l-5-2-1,1-3,6 6,2 3-2zM1774,200l-1-6-3-1-3,2 0,5 1,1zM1781,195l-3-2-5,1 1,6 3,2 4-3zM1789,200l1-6-7,0-2,1 0,4 5,3zM1792,202l4-3-1-4-5-1-1,6zM1799,201l3-2 0-5-3-1-4,2 1,4zM1806,201l1-1 2-4-3-4-4,2 0,5zM1816,197l-2-2-5,1-2,4 5,3zM1820,201l6-2-1-5-4-1-4,4zM1826,199l2,1 5-1 0-3-5-5-3,3zM1836,193l-3,3 0,3 2,2 4-1 2-6zM1843,194l-2,0-2,6 3,4 6-4-5-6zM1843,194l5,6 4-3 1-2-3-3zM1852,197l5,5 2-2 1-4-3-3-4,2zM1859,200l5,1 2-2 0-3-2-1-4,1zM1874,201l-1-5-4-2-3,2 0,3 5,4zM1893,190l-3-3-17,9 1,5 4,1zM1684,201l-4-4-4,7 4,3 4-2zM1684,201l0,4 5,2 1-1 0-5-3-1zM1690,201l0,5 5,1 3-1 1-3-5-5zM1702,201l-3,2-1,3 4,3 3-1 0-6zM1705,202l0,6 4,1 4-3-1-2-4-3zM1713,206l3,2 4-2 1-4-5-2-4,4zM1727,202l-3-1-3,1-1,4 4,3 3-2zM1730,200l-3,2 0,5 4,1 3-2 1-5zM1735,201l-1,5 4,2 4-1 0-6-6-1zM1742,207l3,2 2-2 2-6-5-2-2,2zM1753,200l-4,1-2,6 7,1 1-3 0-4zM1758,200l-3,1 0,4 5,3 3-3 1-3zM1767,200l-3,2-1,3 4,4 3-2-2-6zM1774,200l-6,1 2,6 2,1 5-3 0-3zM1786,202l-5-3-4,3 0,3 4,4 5-5zM1788,208l5-1 1-1-2-4-3-2-3,2 0,2zM1798,205l1-4-3-2-4,3 2,4zM1802,209l3-2 1-6-4-2-3,2-1,4zM1810,209l3-4-1-2-5-3-1,1-1,6zM1820,205l0-4-3-4-1,0-4,6 1,2 6,1zM1825,207l2-2 1-5-2-1-6,2 0,4zM1834,206l1-5-2-2-5,1-1,5 5,3zM1842,206l0-2-3-4-4,1-1,5 7,1zM1846,209l5-3-3-6-6,4 0,2zM1848,200l3,6 4,1 1-1 1-4-5-5zM1856,206l5,2 2-1 1-6-5-1-2,2zM1871,203l-5-4-2,2-1,6 4,1 4-3zM1878,202l-4-1-3,2 0,2 3,3 4-2zM1900,197l0-3-7-4-15,12 0,4 4,4zM1676,204l-16-1 0,1 1,11 2,3 2,1 15-8 0-4zM1689,207l-5-2-4,2 0,4 3,2 5-2zM1695,207l-5-1-1,1-1,4 3,4 4-1zM1702,211l0-2-4-3-3,1 0,7 3,2zM1709,212l0-3-4-1-3,1 0,2 3,3zM1709,212l3,3 4-3 0-4-3-2-4,3zM1724,209l-4-3-4,2 0,4 3,3 5-3zM1726,213l6,0-1-5-4-1-3,2 0,3zM1731,208l1,5 1,1 3-1 2-5-4-2zM1736,213l5,2 4-6-3-2-4,1zM1745,209l4,4 4-1 1-4-7-1-2,2zM1760,208l-5-3-1,3-1,4 3,3 5-2zM1760,208l1,5 2,0 2-1 2-3-4-4zM1765,212l6,3 2-3-1-4-2-1-3,2zM1772,208l1,4 5,2 3-2 0-3-4-4zM1781,209l0,3 2,1 4-2 1-3-2-4zM1788,208l-1,3 4,3 3-3-1-4zM1794,211l5,2 2-1 1-3-4-4-4,1-1,1zM1801,212l6,4 4-6-1-1-5-2-3,2zM1819,206l-6-1-3,4 1,1 5,3 2-1zM1820,214l5-2 0-5-5-2-1,1-1,6zM1827,214l6-3-1-3-5-3-2,2 0,5zM1834,206l-2,2 1,3 2,2 3,0 3-6zM1838,213l4,3 4-6 0-1-4-3-1,1zM1850,214l4-2 1-5-4-1-5,3 0,1zM1854,212l2,3 5-2 0-5-5-2-1,1zM1867,208l-4-1-2,1 0,5 3,3 5-3zM1871,205l-4,3 2,5 3,1 3-2-1-4zM1882,210l-4-4-4,2 1,4 3,1 3-2zM1885,215l17-12-2-6-18,13-1,1zM1665,219l7,8 10-8 1-6-3-2zM1691,215l-3-4-5,2-1,6 4,1 4-3zM1695,214l-4,1-1,2 5,5 4-4-1-2zM1699,218l3,1 3-2 0-3-3-3-4,5zM1710,218l1-1 1-2-3-3-4,2 0,3zM1716,212l-4,3-1,2 5,4 3-2 0-4zM1719,215l0,4 4,2 4-2-1-6-2-1zM1727,219l4,1 2-2 0-4-1-1-6,0zM1736,213l-3,1 0,4 5,3 4-2-1-4zM1742,219l3,1 3-2 1-5-4-4-4,6zM1753,212l-4,1-1,5 5,2 3-3 0-2zM1756,215l0,2 5,5 3-2-1-7-2,0zM1763,213l1,7 3,1 4-2 0-4-6-3zM1771,215l0,4 3,1 3-1 1-5-5-2zM1781,212l-3,2-1,5 5,2 3-3-2-5zM1787,211l-4,2 2,5 5,1 1,0 0-5zM1791,219l4,0 2-2 2-4-5-2-3,3zM1797,217l5,4 5-3 0-2-6-4-2,1zM1811,210l-4,6 0,2 3,2 2-1 4-6zM1816,213l-4,6 5,2 4-2-1-5-2-2zM1821,219l1,1 6-2-1-4-2-2-5,2zM1834,218l1-5-2-2-6,3 1,4 3,3zM1835,213l-1,5 5,2 4-2-1-2-4-3zM1842,216l1,2 3,2 3-1 1-5-4-4zM1849,219l5,1 2-1 0-4-2-3-4,2zM1864,216l-3-3-5,2 0,4 5,2 3-4zM1872,218l0-4-3-1-5,3 0,1 5,4zM1875,220l3-1 0-6-3-1-3,2 0,4zM1878,213l0,6 5,2 3-2-1-4-4-4zM1895,222l6,0 4-12-3-7-17,12 1,4zM1686,220l-4-1-10,8 3,8 0,1 14-12zM1695,222l-5-5-4,3 3,4 3,2 2-1zM1695,222l-1,3 3,2 6-2 1,0-2-6-3-1zM1704,225l5-1 1-6-5-1-3,2zM1711,217l-1,1-1,6 3,2 3-2 1-3zM1716,221l-1,3 5,3 3-3 0-3-4-2zM1723,224l3,2 5-2 0-4-4-1-4,2zM1733,226l5-1 0-4-5-3-2,2 0,4zM1746,224l-1-4-3-1-4,2 0,4 2,3zM1749,226l4-1 0-5-5-2-3,2 1,4zM1760,224l1-2-5-5-3,3 0,5 2,1zM1764,228l4-5-1-2-3-1-3,2-1,2zM1771,219l-4,2 1,2 3,3 4-2-1-4zM1775,224l2,2 5-2 0-3-5-2-3,1zM1782,221l0,3 2,3 6-2 0-6-5-1zM1790,219l0,6 3,3 3-3-1-6-4,0zM1796,225l3,0 2-1 1-3-5-4-2,2zM1810,224l0-4-3-2-5,3-1,3 5,3zM1814,228l3-3 0-4-5-2-2,1 0,4zM1821,219l-4,2 0,4 4,2 4-1-3-6zM1828,218l-6,2 3,6 2,1 4-3 0-3zM1831,224l4,1 2-1 2-4-5-2-3,3zM1837,224l5,2 4-2 0-4-3-2-4,2zM1849,228l5-2 0-6-5-1-3,1 0,4zM1861,221l-5-2-2,1 0,6 2,1 6-2zM1864,217l-3,4 1,4 1,2 6-3 0-3zM1875,224l0-4-3-2-3,3 0,3 2,1zM1882,226l1-5-5-2-3,1 0,4 3,3zM1895,222l-9-3-3,2-1,5 2,2zM1682,242l4-4 6-12-3-2-14,12 5,5zM1692,226l-6,12 11-6 0-5-3-2zM1697,232l3,2 4-4-1-5-6,2zM1703,225l1,5 5,2 3-2 0-4-3-2-5,1zM1712,226l0,4 2,2 6-1 0-4-5-3zM1720,231l3,2 3-2 0-5-3-2-3,3zM1726,226l0,5 5,1 1-1 1-5-2-2zM1740,228l-2-3-5,1-1,5 7,1 1-2zM1746,233l2-1 1-6-3-2-6,4 0,2zM1755,226l-2-1-4,1-1,6 5,1 3-3zM1764,230l0-2-4-4-5,2 1,4 2,1zM1766,232l5-2 0-4-3-3-4,5 0,2zM1771,226l0,4 4,1 1,0 1-5-2-2zM1782,224l-5,2-1,5 4,1 4-2 0-3zM1784,230l4,3 5-4 0-1-3-3-6,2zM1796,233l4-1-1-7-3,0-3,3 0,1zM1806,227l-5-3-2,1 1,7 3,1 3-2zM1811,233l3-3 0-2-4-4-4,3 0,4zM1817,231l3-1 1-3-4-2-3,3 0,2zM1821,227l-1,3 4,5 4-5-1-3-2-1zM1827,227l1,3 4,3 5-1-2-7-4-1zM1835,225l2,7 4-2 1-4-5-2zM1841,230l3,3 5-3 0-2-3-4-4,2zM1856,227l-2-1-5,2 0,2 3,5 4-4zM1863,227l-1-2-6,2 0,4 4,2 4-4zM1871,225l-2-1-6,3 1,2 4,4 3-3zM1878,227l-3-3-4,1 0,5 4,2 2-1zM1881,235l4-4-1-3-2-2-4,1-1,4zM1903,237l0-1-2-14-6,0-11,6 1,3zM1700,234l-3-2-11,6-4,4 11,6 8-12zM1707,236l2-4-5-2-4,4 1,2 5,1zM1712,230l-3,2-2,4 6,3 2-3-1-4zM1720,231l-6,1 1,4 5,1 3-2 0-2zM1723,233l0,2 4,5 5-4-1-4-5-1zM1732,231l-1,1 1,4 2,1 4-1 1-4zM1739,232l-1,4 3,4 4-3 1-4-6-3zM1745,237l5,3 4-2-1-5-5-1-2,1zM1756,230l-3,3 1,5 1,0 5-1-2-6zM1760,237l2,1 4-3 0-3-2-2-6,1zM1771,239l2-1 2-7-4-1-5,2 0,3zM1778,239l3-3-1-4-4-1-1,0-2,7zM1780,232l1,4 4,3 3-3 0-3-4-3zM1788,236l5,1 2,0 1-4-3-4-5,4zM1803,233l-3-1-4,1-1,4 4,3 4-3zM1811,233l-5-2-3,2 0,4 2,1 7-1zM1814,239l3-3 0-5-3-1-3,3 1,4zM1822,237l2-1 0-1-4-5-3,1 0,5zM1824,236l4,3 3-1 1-5-4-3-4,5zM1831,238l5,1 1-2 0-5-5,1zM1837,232l0,5 6,1 1-1 0-4-3-3-4,2zM1852,235l-3-5-5,3 0,4 5,1zM1856,231l-4,4 5,4 3-1 0-5zM1860,233l0,5 3,1 5-3 0-3-4-4zM1871,230l-3,3 0,3 2,1 4-1 1-4zM1875,232l-1,4 4,3 3-4-4-4zM1881,235l15,14 4-6 3-6-18-6-4,4zM1706,246l0-9-5-1-8,12 6,7 2-1zM1713,243l0-4-6-3-1,1 0,9zM1717,244l3,0 0-7-5-1-2,3 0,4zM1720,244l3,1 4-3 0-2-4-5-3,2zM1731,245l3-2 0-6-2-1-5,4 0,2zM1738,236l-4,1 0,6 3,1 4-3 0-1zM1745,237l-4,3 0,1 3,4 5-1 1-4zM1756,243l-1-5-1,0-4,2-1,4 3,2zM1762,242l0-4-2-1-5,1 1,5 3,1zM1771,239l-5-4-4,3 0,4 5,4 3-2zM1773,245l5-1 0-5-5-1-2,1-1,5zM1778,244l3,1 4-3 0-3-4-3-3,3zM1788,236l-3,3 0,3 3,2 4-2 1-5zM1795,237l-2,0-1,5 5,3 2-1 0-4zM1803,237l-4,3 0,4 2,1 5-3-1-4zM1805,238l1,4 3,2 5-3 0-2-2-2zM1814,241l3,3 3,0 2-7-5-1-3,3zM1820,244l4,2 4-2 0-5-4-3-2,1zM1828,244l4,2 4-3 0-4-5-1-3,1zM1837,237l-1,2 0,4 4,2 2-1 1-6zM1849,238l-5-1-1,1-1,6 3,1 4-3zM1855,242l2-3-5-4-3,3 0,4 3,2zM1860,246l3-4 0-3-3-1-3,1-2,3zM1868,246l3-2-1-7-2-1-5,3 0,3zM1878,239l-4-3-4,1 1,7 2,0 4-2zM1895,250l1-1-15-14-3,4-1,3 15,11zM1717,244l-4-1-7,3-5,8 15-4zM1723,248l0-3-3-1-3,0-1,6 3,3zM1731,245l-4-3-4,3 0,3 4,3 4-2zM1739,250l-2-6-3-1-3,2 0,4 3,4zM1741,241l-4,3 2,6 3,1 1-1 1-5zM1749,244l-5,1-1,5 6,2 3-3 0-3zM1752,249l4,1 3-1 0-5-3-1-4,3zM1767,246l-5-4-3,2 0,5 4,1 4-3zM1770,252l6,0-3-7-3-1-3,2 0,1zM1776,252l1,1 4-3 0-5-3-1-5,1zM1789,249l-1-5-3-2-4,3 0,5 3,1zM1797,245l-5-3-4,2 1,5 3,2 2-1zM1797,245l-3,5 3,2 6-3-2-4-2-1zM1806,242l-5,3 2,4 4,2 2-1 0-6zM1809,244l0,6 4,1 3-2 1-5-3-3zM1816,249l4,3 3-1 1-5-4-2-3,0zM1823,251l3,1 6-2 0-4-4-2-4,2zM1832,250l7,0 1-5-4-2-4,3zM1845,245l-3-1-2,1-1,5 2,2 5-3zM1849,242l-4,3 1,4 2,2 5-2-1-5zM1860,249l0-3-5-4-3,2 1,5 2,1zM1868,249l0-3-5-4-3,4 0,3 3,2zM1873,244l-2,0-3,2 0,3 14,12zM1892,253l-15-11-4,2 9,17 6-2zM1716,250l-15,4-2,1 4,8 6,4 10-13 0-1zM1727,251l-4-3-4,5 0,1 5,1 2,0zM1734,256l0-3-3-4-4,2-1,4 4,3zM1735,257l7,0 0-6-3-1-5,3 0,3zM1749,254l0-2-6-2-1,1 0,6 2,3zM1749,252l0,2 4,4 4-3-1-5-4-1zM1759,249l-3,1 1,5 2,1 4-2 0-4zM1770,252l-3-5-4,3 0,4 4,3 1-1zM1774,258l3-4 0-1-1-1-6,0-2,4zM1784,251l-3-1-4,3 0,1 4,3 5-1zM1788,257l3-2 1-4-3-2-5,2 2,5zM1792,251l-1,4 4,4 6-2-4-5-3-2zM1801,257l5-3 1-3-4-2-6,3zM1807,251l-1,3 4,4 4-1-1-6-4-1zM1817,259l2-2 1-5-4-3-3,2 1,6zM1823,251l-3,1-1,5 5,2 3-4-1-3zM1827,255l5,3 2-3-2-5-6,2zM1840,256l1-4-2-2-7,0 2,5zM1848,251l-2-2-5,3-1,4 1,0 4,1 3-2zM1853,249l-5,2 0,4 5,4 2-4 0-5zM1860,249l-5,1 0,5 6,1 2-2 0-3zM1863,254l15,11 4-4-14-12-5,2zM1724,255l-5-1-10,13 2,2 8,3 3-5zM1730,258l-4-3-2,0-2,12 7-5zM1736,265l1-2-2-6-1-1-4,2-1,4zM1744,262l0-2-2-3-7,0 2,6 5,0zM1744,262l4,1 4-3 1-2-4-4-5,6zM1753,258l-1,2 5,4 3-2-1-6-2-1zM1763,254l-4,2 1,6 3,1 3-1 1-5zM1767,257l-1,5 3,2 6-1-1-5-6-2zM1781,257l-4-3-3,4 1,5 2,1 4-2zM1781,257l0,5 4,1 2-2 1-4-2-1zM1787,261l6,2 1,0 1-4-4-4-3,2zM1802,261l-1-4-6,2-1,4 5,2zM1806,254l-5,3 1,4 5,2 2-1 1-4zM1809,262l3,2 5-4 0-1-3-2-4,1zM1817,259l0,1 3,5 6-2-2-4-5-2zM1824,259l2,4 1,1 5-3 0-3-5-3zM1836,264l4-2 1-6-1,0-6-1-2,3 0,3zM1845,257l-4-1-1,6 3,2 3-2zM1848,255l-3,2 1,5 4,1 3-3 0-1zM1853,259l0,1 8,4 0-8-6-1zM1878,265l-15-11-2,2 0,8 5,9 6,0zM1722,267l-3,5 12,10 2-5 3-12-7-3zM1737,263l-1,2-3,12 9-9 0-5zM1742,268l4,2 4-1-2-6-4-1-2,1zM1752,270l3-2 2-4-5-4-4,3 2,6zM1763,263l-3-1-3,2-2,4 4,3 4-2zM1769,264l-3-2-3,1 0,6 4,3 3-3zM1777,269l0-5-2-1-6,1 1,5 5,1zM1785,263l-4-1-4,2 0,5 3,2 6-3zM1791,269l2-6-6-2-2,2 1,5 3,2zM1799,265l-5-2-1,0-2,6 5,1 3-3zM1802,269l4-1 1-5-5-2-3,4 0,2zM1807,263l-1,5 3,2 4-2-1-4-3-2zM1813,268l4,1 2-1 1-3-3-5-5,4zM1824,272l4-4-1-4-1-1-6,2-1,3zM1827,264l1,4 3,2 5-2 0-4-4-3zM1836,268l2,2 6-2-1-4-3-2-4,2zM1843,264l1,4 7,5-1-10-4-1zM1866,273l-5-9-8-4-3,3 1,10 3,7zM1733,277l-2,5 8,4 7-16-4-2zM1746,270l-7,16 7,4 1,1 4-11 1-10-2-1zM1751,280l8-7 0-2-4-3-3,2zM1767,272l-4-3-4,2 0,2 4,4 5-2zM1773,275l2-5-5-1-3,3 1,3 1,1zM1773,275l4,2 3-4 0-2-3-2-2,1zM1789,270l-3-2-6,3 0,2 4,3 4-4zM1792,277l5-3-1-4-5-1-2,1-1,2zM1796,270l1,4 3,1 2,0 0-6-3-2zM1806,276l3-2 0-4-3-2-4,1 0,6zM1809,270l0,4 4,2 3-2 1-5-4-1zM1817,269l-1,5 5,3 3-3 0-2-5-4zM1824,272l0,2 8,3-1-7-3-2zM1831,270l1,7 5,8 3,0-2-15-2-2zM1851,273l-7-5-6,2 2,15 8,0 3-1 3-4zM1751,280l-4,11 2,1 4,1 1,0 9-16-4-4zM1768,275l-5,2-9,16 14,1 2-7-1-11zM1770,287l7-8 0-2-4-2-4,1zM1777,277l0,2 5,3 2-1 0-5-4-3zM1784,276l0,5 3,2 5-4 0-2-4-5zM1792,279l4,3 1,0 3-7-3-1-5,3zM1797,282l6,1 3-3 0-4-4-1-2,0zM1806,280l8,7-1-11-4-2-3,2zM1818,293l4-1-1-15-5-3-3,2 1,11zM1822,292l5,0 10-7-5-8-8-3-3,3zM1770,287l-2,7 5,3 9-15-5-3zM1782,282l-9,15 3,3 9,2 6-2-4-17-3-2zM1791,300l3,0 2-18-4-3-5,4zM1796,282l-2,18 9,2 0-19-6-1zM1803,283l0,19 3,0 12-9-4-6-8-7z" stroke-width="2.0"/></g><path d="M1778,164l-5,0-6,1 3,3 7-2zM1778,164l6,3 2-1 1-3-6,0-3,1zM1786,166l3,2 3-2 0-3-2,0-3,0zM1798,163l-6,0 0,3 3,2 3-3zM1798,165l2,2 4-1 0-2-5-1-1,0zM1804,166l3,3 4-5-4,0-3,0zM1755,172l3-1 1-5-2,1-7,1zM1758,171l4,2 3-2 0-6-6,1zM1765,171l4,2 2-1-1-4-3-3-2,0zM1777,166l-7,2 1,4 3,1 3-3zM1780,173l3-2 1-4-6-3-1,2 0,4zM1789,168l-3-2-2,1-1,4 3,2 4-2zM1795,170l0-2-3-2-3,2 1,3 1,1zM1801,171l-1-4-2-2-3,3 0,2 3,2zM1807,170l0-1-3-3-4,1 1,4 3,1zM1807,169l0,1 4,2 2-1 0-6-2-1zM1819,166l-4-1-2,0 0,6 3,2 2-2zM1818,171l5,2 2-2 0-4-2,0-4-1zM1825,171l3,2 7-3-4-1-6-2zM1737,176l1-4-3,2-3,2 2,1zM1737,176l4,2 2-2-1-5-4,1zM1743,176l5,1 1-1 0-7-7,2zM1749,176l5,2 2-2-1-4-5-4-1,1zM1762,173l-4-2-3,1 1,4 3,2 3-2zM1768,175l1-2-4-2-3,2 0,3 3,1zM1775,176l-1-3-3-1-2,1-1,2 4,3zM1774,173l1,3 3,1 1,0 1-4-3-3zM1786,173l-3-2-3,2-1,4 3,1 4-2zM1792,176l-1-4-1-1-4,2 0,3 2,2zM1792,176l2,2 4-2 0-4-3-2-4,2zM1798,176l3,2 4-2-1-4-3-1-3,1zM1807,177l3-1 1-4-4-2-3,2 1,4zM1813,171l-2,1-1,4 3,3 3-3 0-3zM1816,173l0,3 3,1 3-1 1-3-5-2zM1824,178l4-2 0-3-3-2-2,2-1,3zM1831,178l3-2 1-6-7,3 0,3zM1834,176l3,2 4-1-2-6-1,0-3-1zM1847,175l-2-1-6-3 2,6 1,0zM1735,180l-1-3-2-1-3,1-3,2 1,2 4,2zM1741,178l-4-2-3,1 1,3 3,2 3-1zM1743,176l-2,2 0,3 2,2 4-2 1-4zM1747,181l4,2 2-1 1-4-5-2-1,1zM1759,181l0-3-3-2-2,2-1,4 3,2zM1765,177l-3-1-3,2 0,3 3,2 4-1zM1767,183l4-2 1-3-4-3-3,2 1,5zM1776,183l2-6-3-1-3,2-1,3 4,3zM1782,181l0-3-3-1-1,0-2,6 3,1zM1786,176l-4,2 0,3 4,2 2-2 0-3zM1788,181l5,2 2-1-1-4-2-2-4,2zM1795,182l3,1 4-2-1-3-3-2-4,2zM1801,178l1,3 2,1 3,0 0-5-2-1zM1810,176l-3,1 0,5 3,1 3-2 0-2zM1813,179l0,2 3,2 3-1 0-5-3-1zM1819,182l3,1 2-2 0-3-2-2-3,1zM1824,181l4,2 3-3 0-2-3-2-4,2zM1835,182l1,0 1-4-3-2-3,2 0,2zM1842,180l0-3-1,0-4,1-1,4 3,2zM1842,177l0,3 5,3 2-1 0-6-2-1zM1852,183l4-3-5-3-2-1 0,6zM1724,188l2-1 1-6-1-2-2,1-5,4zM1732,186l-1-3-4-2-1,6 4,1zM1735,187l2,0 1-5-3-2-4,3 1,3zM1743,183l-2-2-3,1-1,5 3,2 4-3zM1750,186l1-3-4-2-4,2 1,3 3,2zM1756,184l-3-2-2,1-1,3 3,3 4-2zM1759,181l-3,3 1,3 1,1 3-2 1-3zM1767,183l-1-1-4,1-1,3 4,2 3-1zM1774,186l1-2-4-3-4,2 1,4 3,2zM1778,189l3-2-2-3-3-1-1,1-1,2zM1786,186l0-3-4-2-3,3 2,3 3,1zM1792,187l1-4-5-2-2,2 0,3 3,1zM1793,183l-1,4 2,2 5-2-1-4-3-1zM1799,187l2,2 3-2 0-5-2-1-4,2zM1810,183l-3-1-3,0 0,5 3,1 3-2zM1813,187l3-1 0-3-3-2-3,2 0,3zM1816,183l0,3 3,3 3-2 0-4-3-1zM1824,188l5-2-1-3-4-2-2,2 0,4zM1835,182l-4-2-3,3 1,3 2,2 2-1zM1840,186l-1-2-3-2-1,0-2,5 4,1zM1840,186l3,2 2-2 2-3-5-3-3,4zM1850,189l3-2-1-4-3-1-2,1-2,3zM1855,189l6-5-5-4-4,3 1,4zM1714,194l3-2-1-5-1,1-3,4 0,1zM1717,192l3,1 4-1 0-4-5-4-3,3zM1730,191l0-3-4-1-2,1 0,4 2,2zM1735,193l0-6-3-1-2,2 0,3 3,2zM1741,192l-1-3-3-2-2,0 0,6 3,1zM1744,193l2-2 1-3-3-2-4,3 1,3zM1753,189l-3-3-3,2-1,3 4,2 3-2zM1760,192l-2-4-1-1-4,2 0,2 3,3zM1761,186l-3,2 2,4 2,1 2-1 1-4zM1771,189l-3-2-3,1-1,4 4,2 3-3zM1774,193l4-1 0-3-4-3-3,3 0,2zM1784,188l-3-1-3,2 0,3 2,2 4-2zM1789,187l-3-1-2,2 0,4 3,2 2-1zM1793,194l1-2 0-3-2-2-3,0 0,6zM1801,193l0-4-2-2-5,2 0,3 3,2zM1808,192l-1-4-3-1-3,2 0,4 2,1zM1813,191l0-4-3-1-3,2 1,4 2,1zM1813,191l4,1 1,0 1-3-3-3-3,1zM1818,192l4,2 3-2-1-4-2-1-3,2zM1829,186l-5,2 1,4 2,1 4-3 0-2zM1837,192l0-4-4-1-2,1 0,2 3,3zM1840,194l4-4-1-2-3-2-3,2 0,4zM1843,188l1,2 3,2 2-1 1-2-5-3zM1852,194l4-3-1-2-2-2-3,2-1,2zM1855,189l1,2 3,2 2-1 2-6-2-2zM1861,192l4,2 3-2-3-4-2-2zM1714,194l-2-1-2,3-2,5 1,0 5-4zM1714,194l0,3 3,2 3-2 0-4-3-1zM1724,192l-4,1 0,4 4,2 2-2 0-3zM1726,197l3,1 2-1 2-4-3-2-4,3zM1738,194l-3-1-2,0-2,4 4,3 3-4zM1741,199l3-3 0-3-3-1-3,2 0,2zM1747,198l3-2 0-3-4-2-2,2 0,3zM1756,194l-3-3-3,2 0,3 3,2 2-1zM1760,192l-4,2-1,3 4,2 2-2 1-4zM1764,192l-2,1-1,4 5,2 2-2 0-3zM1773,197l1-4-3-2-3,3 0,3 3,1zM1778,199l1-2 1-3-2-2-4,1-1,4zM1784,192l-4,2-1,3 4,2 4-1 0-4zM1787,194l0,4 1,1 4-1 1-4-4-1zM1797,198l0-4-3-2-1,2-1,4 3,2zM1803,197l0-3-2-1-4,1 0,4 4,1zM1810,193l-2-1-5,2 0,3 5,2 2-2zM1812,198l4,0 1-6-4-1-3,2 0,4zM1818,199l4-1 0-4-4-2-1,0-1,6zM1822,198l2,1 3-2 0-4-2-1-3,2zM1831,190l-4,3 0,4 5,1 1-1 1-4zM1833,197l4,2 4-3-1-2-3-2-3,1zM1846,196l1-4-3-2-4,4 1,2 2,2zM1852,197l0-3-3-3-2,1-1,4 4,2zM1859,197l0-4-3-2-4,3 0,3 2,2zM1864,197l1-3-4-2-2,1 0,4 2,2zM1871,197l-1-1-2-4-3,2-1,3 4,2zM1717,201l0-2-3-2-5,4 5,4zM1723,202l1-3-4-2-3,2 0,2 4,2zM1729,202l0-4-3-1-2,2-1,3 2,2zM1733,204l2-2 0-2-4-3-2,1 0,4zM1741,199l-3-3-3,4 0,2 4,1 2-1zM1745,203l2-1 0-4-3-2-3,3 0,3zM1750,196l-3,2 0,4 4,1 1,0 1-5zM1753,198l-1,5 4,2 3-3 0-3-4-2zM1761,197l-2,2 0,3 4,2 3-2 0-3zM1773,203l-2-5-3-1-2,2 0,3 2,2zM1774,204l3-2 1-3-5-2-2,1 2,5zM1782,203l1-4-4-2-1,2-1,3 3,2zM1786,204l2-1 0-4-1-1-4,1-1,4zM1795,200l-3-2-4,1 0,4 3,1 4-3zM1802,202l-1-3-4-1-2,2 0,1 3,4zM1808,199l-5-2-2,2 1,3 2,1 2,0zM1812,202l0-4-2-1-2,2-2,4 3,2zM1812,202l3,3 3-2 0-4-2-1-4,0zM1825,203l-1-4-2-1-4,1 0,4 4,2zM1831,203l1-5-5-1-3,2 1,4 3,1zM1834,205l4-3-1-3-4-2-1,1-1,5zM1841,202l2,0 0-4-2-2-4,3 1,3zM1843,202l3,2 2-2 2-4-4-2-3,2zM1854,199l-2-2-2,1-2,4 4,2 3-2zM1859,197l-5,2 1,3 3,2 3-3 0-2zM1861,201l4,3 3-2 0-3-4-2-3,2zM1872,205l0-4-1-4-3,2 0,3zM1709,201l-1,0 0,4 0,4 1,2 1,0 4-5 0-1zM1721,203l-4-2-3,4 0,1 3,2 2-1zM1725,204l-2-2-2,1-2,4 3,2 4-2zM1729,209l3-2 1-3-4-2-4,2 1,3zM1735,202l-2,2-1,3 3,2 4-2 0-4zM1739,203l0,4 2,1 4-1 0-4-4-1zM1745,207l2,2 2-1 2-5-4-1-2,1zM1751,203l-2,5 4,2 3-3 0-2-4-2zM1759,202l-3,3 0,2 2,1 4,0 1-4zM1766,202l-3,2-1,4 3,2 3-3 0-3zM1768,207l4,2 2-1 0-4-1-1-5,1zM1780,204l-3-2-3,2 0,4 2,1 5-2zM1786,207l0-3-4-1-2,1 1,3 1,2zM1791,204l-3-1-2,1 0,3 3,3 3-3zM1797,207l1-2-3-4-4,3 1,3 5,1zM1801,210l3-2 0-5-2-1-4,3-1,2zM1809,205l-3-2-2,0 0,5 3,1 2-2zM1813,208l2-1 0-2-3-3-3,3 0,2zM1815,207l3,3 4-3 0-2-4-2-3,2zM1825,210l3-3 0-3-3-1-3,2 0,2zM1832,210l3-2-1-3-3-2-3,1 0,3zM1835,208l2,0 3-1 1-5-3,0-4,3zM1841,202l-1,5 3,2 3-2 0-3-3-2zM1846,204l0,3 2,2 4-2 0-3-4-2zM1852,204l0,3 3,2 3-2 0-3-3-2zM1858,204l0,3 3,2 4-1 0-4-4-3zM1868,202l-3,2 0,4 1,1 6-2 0-2zM1714,206l-4,5 4,3 3-2 0-4zM1722,209l-3-2-2,1 0,4 3,1 2-1zM1728,213l1-4-3-2-4,2 0,3 4,2zM1736,212l-1-3-3-2-3,2-1,4 5,2zM1739,207l-4,2 1,3 2,2 3-2 0-4zM1741,212l4,2 1-1 1-4-2-2-4,1zM1747,209l-1,4 4,2 3-1 0-4-4-2zM1753,210l0,4 3,1 3-2-1-5-2-1zM1762,208l-4,0 1,5 3,1 3-2 0-2zM1771,213l1-4-4-2-3,3 0,2 3,2zM1776,209l-2-1-2,1-1,4 2,2 4-3zM1781,207l-5,2 1,3 3,2 2-1 0-4zM1782,213l5,1 2-2 0-2-3-3-4,2zM1792,207l-3,3 0,2 3,2 3-1 2-5zM1795,213l3,2 4-3-1-2-4-3 0,1zM1802,212l3,2 3-2-1-3-3-1-3,2zM1807,209l1,3 2,1 2-1 1-4-4-1zM1816,214l2-2 0-2-3-3-2,1-1,4zM1818,212l4,3 3-3 0-2-3-3-4,3zM1825,212l3,1 3-1 1-2-4-3-3,3zM1831,212l2,3 5-2-1-5-2,0-3,2zM1840,207l-3,1 1,5 1,1 3-2 1-3zM1849,211l-1-2-2-2-3,2-1,3 3,2zM1851,213l3-1 1-3-3-2-4,2 1,2zM1854,212l4,2 2-1 1-4-3-2-3,2zM1861,209l-1,4 3,2 4-3-1-3-1-1zM1866,209l1,3 3,3 0-1 2-5 0-2zM1715,218l-1-4-4-3-1,0 1,3 2,4 1,1zM1714,214l1,4 2,1 3-1 0-5-3-1zM1722,212l-2,1 0,5 3,1 3-2 0-3zM1728,213l-2,1 0,3 3,2 4-1 0-3zM1733,218l1,1 5-2-1-3-2-2-3,3zM1745,214l-4-2-3,2 1,3 2,2 3-1zM1750,218l0-3-4-2-1,1-1,4 3,2zM1753,220l3-2 0-3-3-1-3,1 0,3zM1762,214l-3-1-3,2 0,3 2,2 4-3zM1765,212l-3,2 0,3 3,3 3-1 0-5zM1768,219l3,1 3-2-1-3-2-2-3,1zM1777,212l-4,3 1,3 2,1 4-1 0-4zM1780,214l0,4 2,2 5-2 0-4-5-1zM1787,218l2,2 3-2 0-4-3-2-2,2zM1792,214l0,4 3,2 4-3-1-2-3-2zM1799,217l2,3 4-2 0-4-3-2-4,3zM1808,212l-3,2 0,4 3,1 3-1-1-5zM1810,213l1,5 1,1 3-2 1-3-4-2zM1819,220l3-3 0-2-4-3-2,2-1,3zM1822,217l4,2 2-1 0-5-3-1-3,3zM1830,219l3-1 0-3-2-3-3,1 0,5zM1839,217l0-3-1-1-5,2 0,3 4,2zM1842,212l-3,2 0,3 5,1 1,0 0-4zM1845,218l4,1 2-2 0-4-2-2-4,3zM1855,219l1-1 2-4-4-2-3,1 0,4zM1863,218l0-3-3-2-2,1-2,4 5,2zM1867,212l-4,3 0,3 4,1 1-1 2-3zM1719,225l-2-6-2-1-2,1 2,3 3,3zM1720,218l-3,1 2,6 5-3-1-3zM1723,219l1,3 1,2 4-1 0-4-3-2zM1729,219l0,4 3,2 3-2-1-4-1-1zM1740,223l1-4-2-2-5,2 1,4 1,1zM1743,225l4-2 0-3-3-2-3,1-1,4zM1753,220l-3-2-3,2 0,3 3,2 2-2zM1759,222l-1-2-2-2-3,2-1,3 3,2zM1765,220l-3-3-4,3 1,2 3,2 3-1zM1768,219l-3,1 0,3 3,2 3-1 0-4zM1771,224l3,1 2-2 0-4-2-1-3,2zM1780,218l-4,1 0,4 4,2 3-2-1-3zM1783,223l3,2 3-2 0-3-2-2-5,2zM1789,220l0,3 3,1 3-1 0-3-3-2zM1795,223l3,2 3-2 0-3-2-3-4,3zM1801,220l0,3 3,2 4-1 0-5-3-1zM1808,219l0,5 1,1 5-1-2-5-1-1zM1814,224l1,0 4-2 0-2-4-3-3,2zM1819,222l3,2 4-1 0-4-4-2-3,3zM1826,223l2,2 2-2 0-4-2-1-2,1zM1837,220l-4-2-3,1 0,4 5,1 2-2zM1844,218l-5-1-2,3 0,2 5,2 1,0zM1844,218l-1,6 3,1 3-1 0-5-4-1zM1849,224l3,1 3-2 0-4-4-2-2,2zM1856,218l-1,1 0,4 6,3 0-6zM1863,218l-2,2 0,6 4-4 2-3zM1724,222l-5,3-1,0 1,1 5,4 1,1 0-7zM1729,223l-4,1 0,7 2,1 4-3 1-4zM1735,223l-3,2-1,4 4,1 2-2-1-4zM1737,228l4,1 2-2 0-2-3-2-4,1zM1747,230l3-1 0-4-3-2-4,2 0,2zM1752,223l-2,2 0,4 3,2 3-4-1-2zM1759,222l-4,3 1,2 4,2 1-1 1-4zM1768,225l-3-2-3,1-1,4 4,2 3-2zM1771,231l3-2 0-4-3-1-3,1 0,3zM1780,225l-4-2-2,2 0,4 3,1 3-2zM1784,230l2-2 0-3-3-2-3,2 0,3zM1786,225l0,3 4,2 2-2 0-4-3-1zM1792,224l0,4 3,1 3-2 0-2-3-2zM1804,229l0-4-3-2-3,2 0,2 3,4zM1807,230l2-2 0-3-1-1-4,1 0,4zM1809,228l4,3 3-4-1-3-1,0-5,1zM1815,224l1,3 4,3 2-1 0-5-3-2zM1822,229l4,1 3-2-1-3-2-2-4,1zM1835,224l-5-1-2,2 1,3 2,1 4-1zM1837,222l-2,2 0,4 2,1 3-1 2-4zM1846,225l-3-1-1,0-2,4 4,2 2-1zM1849,231l3-2 0-4-3-1-3,1 0,4zM1855,223l-3,2 0,4 4,1 5-4zM1727,232l2,1 4,2 3-2-1-3-4-1zM1735,230l1,3 3,1 2,0 0-5-4-1zM1741,234l3,0 2-1 1-3-4-3-2,2zM1747,230l-1,3 4,2 3-3 0-1-3-2zM1753,231l0,1 3,2 4-2 0-3-4-2zM1761,228l-1,1 0,3 2,3 4-2-1-3zM1765,230l1,3 2,2 3-1 0-3-3-3zM1773,236l5-3-1-3-3-1-3,2 0,3zM1777,230l1,3 3,2 2-1 1-4-4-2zM1784,230l-1,4 3,1 4-1 0-4-4-2zM1790,230l0,4 2,1 3-1 0-5-3-1zM1795,234l3,1 3-2 0-2-3-4-3,2zM1801,233l3,2 4-1-1-4-3-1-3,2zM1813,233l0-2-4-3-2,2 1,4 2,1zM1813,231l0,2 4,1 2-1 1-3-4-3zM1819,233l4,2 3-1 0-4-4-1-2,1zM1829,228l-3,2 0,4 2,1 3-1 0-5zM1831,229l0,5 3,2 4-2-1-5-2-1zM1840,228l-3,1 1,5 2,0 3,0 1-4zM1849,231l-3-2-2,1-1,4 3,2 3-2zM1849,234l2-1 5-3-4-1-3,2zM1733,235l2,1 4,2 0-4-3-1zM1744,234l-3,0-2,0 0,4 3,1 3,1zM1744,234l1,6 4,1 1,1 1-2-1-5-4-2zM1751,240l5-2 0-4-3-2-3,3zM1760,232l-4,2 0,4 3,1 3-1 0-3zM1766,233l-4,2 0,3 3,3 2-1 1-5zM1768,235l-1,5 4,1 3-2-1-3-2-2zM1778,240l2-1 1-4-3-2-5,3 1,3zM1781,235l-1,4 2,1 5-2-1-3-3-1zM1786,235l1,3 1,2 4-1 0-4-2-1zM1792,235l0,4 2,2 5-3-1-3-3-1zM1798,235l1,3 2,2 3-1 0-4-3-2zM1808,234l-4,1 0,4 3,2 3-2 0-4zM1810,239l3,1 4-2 0-4-4-1-3,2zM1819,233l-2,1 0,4 2,2 4-2 0-3zM1823,238l3,2 2-2 0-3-2-1-3,1zM1828,238l4,3 2-1 0-4-3-2-3,1zM1840,234l-2,0-4,2 0,4 4-1 2-1zM1840,234l0,4 5-2 1,0-3-2zM1751,240l-1,2 7,1 2,1 0-5-3-1zM1759,239l0,5 5,1 1-4-3-3zM1765,241l-1,4 1,0 7,1-1-5-4-1zM1772,246l6-2 0-4-4-1-3,2zM1778,244l2,2 3-2-1-4-2-1-2,1zM1787,238l-5,2 1,4 3,0 2-1 0-3zM1788,240l0,3 7,4-1-6-2-2zM1801,240l-2-2-5,3 1,6 4,0 1,0zM1807,241l-3-2-3,1-1,7 7-1zM1807,246l7-1-1-5-3-1-3,2zM1819,240l-2-2-4,2 1,5 1,0 4-1zM1826,240l-3-2-4,2 0,4 4-1 3,0zM1828,238l-2,2 0,3 5-2 1,0zM1780,246l-2-2-6,2 1,0 7,1zM1780,246l0,1 1,0 5,0 0-3-3,0zM1795,247l-7-4-2,1 0,3 4,0 5,0z" fill="none" stroke="#000" stroke-width="1.3"/><ellipse cx="1728" cy="200" rx="28" ry="24" transform="rotate(-20 1728 200)" fill="#111"/><ellipse cx="1851" cy="197" rx="24" ry="26" transform="rotate(15 1851 197)" fill="#111"/><ellipse cx="1808" cy="176" rx="12" ry="16" transform="rotate(10 1808 176)" fill="#111"/><path d="M1721.3,177.7m-.6,0a.6,.6 0 1,0 1.2,0a.6,.6 0 1,0 -1.2,0M1725.5,178.5m-.6,0a.6,.6 0 1,0 1.2,0a.6,.6 0 1,0 -1.2,0M1729.2,177.7m-.6,0a.6,.6 0 1,0 1.2,0a.6,.6 0 1,0 -1.2,0M1733.6,178.6m-.6,0a.6,.6 0 1,0 1.2,0a.6,.6 0 1,0 -1.2,0M1738.1,178.6m-.6,0a.6,.6 0 1,0 1.2,0a.6,.6 0 1,0 -1.2,0M1711.3,181.7m-.6,0a.6,.6 0 1,0 1.2,0a.6,.6 0 1,0 -1.2,0M1715.3,181.5m-.6,0a.6,.6 0 1,0 1.2,0a.6,.6 0 1,0 -1.2,0M1719.3,181.2m-.6,0a.6,.6 0 1,0 1.2,0a.6,.6 0 1,0 -1.2,0M1723.5,182.4m-.6,0a.6,.6 0 1,0 1.2,0a.6,.6 0 1,0 -1.2,0M1727.7,181.4m-.6,0a.6,.6 0 1,0 1.2,0a.6,.6 0 1,0 -1.2,0M1731.1,182.3m-.6,0a.6,.6 0 1,0 1.2,0a.6,.6 0 1,0 -1.2,0M1736.2,181.9m-.6,0a.6,.6 0 1,0 1.2,0a.6,.6 0 1,0 -1.2,0M1740.6,181.3m-.6,0a.6,.6 0 1,0 1.2,0a.6,.6 0 1,0 -1.2,0M1744.4,181.4m-.6,0a.6,.6 0 1,0 1.2,0a.6,.6 0 1,0 -1.2,0M1708.2,185.1m-.6,0a.6,.6 0 1,0 1.2,0a.6,.6 0 1,0 -1.2,0M1712.2,185.1m-.6,0a.6,.6 0 1,0 1.2,0a.6,.6 0 1,0 -1.2,0M1717.4,184.8m-.6,0a.6,.6 0 1,0 1.2,0a.6,.6 0 1,0 -1.2,0M1720.9,185.8m-.6,0a.6,.6 0 1,0 1.2,0a.6,.6 0 1,0 -1.2,0M1725.6,185.4m-.6,0a.6,.6 0 1,0 1.2,0a.6,.6 0 1,0 -1.2,0M1730.2,186m-.6,0a.6,.6 0 1,0 1.2,0a.6,.6 0 1,0 -1.2,0M1734.1,185.9m-.6,0a.6,.6 0 1,0 1.2,0a.6,.6 0 1,0 -1.2,0M1738.5,185m-.6,0a.6,.6 0 1,0 1.2,0a.6,.6 0 1,0 -1.2,0M1741.6,186m-.6,0a.6,.6 0 1,0 1.2,0a.6,.6 0 1,0 -1.2,0M1746.9,185m-.6,0a.6,.6 0 1,0 1.2,0a.6,.6 0 1,0 -1.2,0M1706.2,188.8m-.6,0a.6,.6 0 1,0 1.2,0a.6,.6 0 1,0 -1.2,0M1710.5,188.9m-.6,0a.6,.6 0 1,0 1.2,0a.6,.6 0 1,0 -1.2,0M1715,188.8m-.6,0a.6,.6 0 1,0 1.2,0a.6,.6 0 1,0 -1.2,0M1719.5,189m-.6,0a.6,.6 0 1,0 1.2,0a.6,.6 0 1,0 -1.2,0M1723.5,188.8m-.6,0a.6,.6 0 1,0 1.2,0a.6,.6 0 1,0 -1.2,0M1727.7,188.9m-.6,0a.6,.6 0 1,0 1.2,0a.6,.6 0 1,0 -1.2,0M1731.8,189m-.6,0a.6,.6 0 1,0 1.2,0a.6,.6 0 1,0 -1.2,0M1735.9,189.6m-.6,0a.6,.6 0 1,0 1.2,0a.6,.6 0 1,0 -1.2,0M1739.5,189.3m-.6,0a.6,.6 0 1,0 1.2,0a.6,.6 0 1,0 -1.2,0M1744.8,189.3m-.6,0a.6,.6 0 1,0 1.2,0a.6,.6 0 1,0 -1.2,0M1747.9,188.8m-.6,0a.6,.6 0 1,0 1.2,0a.6,.6 0 1,0 -1.2,0M1752.4,189m-.6,0a.6,.6 0 1,0 1.2,0a.6,.6 0 1,0 -1.2,0M1704.6,193m-.6,0a.6,.6 0 1,0 1.2,0a.6,.6 0 1,0 -1.2,0M1708.9,192.4m-.6,0a.6,.6 0 1,0 1.2,0a.6,.6 0 1,0 -1.2,0M1712.4,192.3m-.6,0a.6,.6 0 1,0 1.2,0a.6,.6 0 1,0 -1.2,0M1716.6,193.3m-.6,0a.6,.6 0 1,0 1.2,0a.6,.6 0 1,0 -1.2,0M1721.6,192.6m-.6,0a.6,.6 0 1,0 1.2,0a.6,.6 0 1,0 -1.2,0M1725.7,192.3m-.6,0a.6,.6 0 1,0 1.2,0a.6,.6 0 1,0 -1.2,0M1730.1,192.2m-.6,0a.6,.6 0 1,0 1.2,0a.6,.6 0 1,0 -1.2,0M1734.2,192.4m-.6,0a.6,.6 0 1,0 1.2,0a.6,.6 0 1,0 -1.2,0M1737.4,192.9m-.6,0a.6,.6 0 1,0 1.2,0a.6,.6 0 1,0 -1.2,0M1741.7,192.2m-.6,0a.6,.6 0 1,0 1.2,0a.6,.6 0 1,0 -1.2,0M1746.2,193.3m-.6,0a.6,.6 0 1,0 1.2,0a.6,.6 0 1,0 -1.2,0M1750.5,193m-.6,0a.6,.6 0 1,0 1.2,0a.6,.6 0 1,0 -1.2,0M1754.7,192.9m-.6,0a.6,.6 0 1,0 1.2,0a.6,.6 0 1,0 -1.2,0M1702.8,196.9m-.6,0a.6,.6 0 1,0 1.2,0a.6,.6 0 1,0 -1.2,0M1706.3,196.8m-.6,0a.6,.6 0 1,0 1.2,0a.6,.6 0 1,0 -1.2,0M1710.6,196.4m-.6,0a.6,.6 0 1,0 1.2,0a.6,.6 0 1,0 -1.2,0M1714.4,196.3m-.6,0a.6,.6 0 1,0 1.2,0a.6,.6 0 1,0 -1.2,0M1719.7,196.3m-.6,0a.6,.6 0 1,0 1.2,0a.6,.6 0 1,0 -1.2,0M1723.2,196.1m-.6,0a.6,.6 0 1,0 1.2,0a.6,.6 0 1,0 -1.2,0M1728.1,196m-.6,0a.6,.6 0 1,0 1.2,0a.6,.6 0 1,0 -1.2,0M1732,196m-.6,0a.6,.6 0 1,0 1.2,0a.6,.6 0 1,0 -1.2,0M1736.5,196.2m-.6,0a.6,.6 0 1,0 1.2,0a.6,.6 0 1,0 -1.2,0M1739.7,196m-.6,0a.6,.6 0 1,0 1.2,0a.6,.6 0 1,0 -1.2,0M1743.7,195.7m-.6,0a.6,.6 0 1,0 1.2,0a.6,.6 0 1,0 -1.2,0M1748.6,196.3m-.6,0a.6,.6 0 1,0 1.2,0a.6,.6 0 1,0 -1.2,0M1752.6,196m-.6,0a.6,.6 0 1,0 1.2,0a.6,.6 0 1,0 -1.2,0M1700.1,200.2m-.6,0a.6,.6 0 1,0 1.2,0a.6,.6 0 1,0 -1.2,0M1704.7,199.5m-.6,0a.6,.6 0 1,0 1.2,0a.6,.6 0 1,0 -1.2,0M1709.2,199.7m-.6,0a.6,.6 0 1,0 1.2,0a.6,.6 0 1,0 -1.2,0M1713,199.9m-.6,0a.6,.6 0 1,0 1.2,0a.6,.6 0 1,0 -1.2,0M1716.7,199.5m-.6,0a.6,.6 0 1,0 1.2,0a.6,.6 0 1,0 -1.2,0M1720.8,199.6m-.6,0a.6,.6 0 1,0 1.2,0a.6,.6 0 1,0 -1.2,0M1725.3,199.7m-.6,0a.6,.6 0 1,0 1.2,0a.6,.6 0 1,0 -1.2,0M1729.5,199.5m-.6,0a.6,.6 0 1,0 1.2,0a.6,.6 0 1,0 -1.2,0M1733.7,200m-.6,0a.6,.6 0 1,0 1.2,0a.6,.6 0 1,0 -1.2,0M1737.6,199.5m-.6,0a.6,.6 0 1,0 1.2,0a.6,.6 0 1,0 -1.2,0M1742.2,199.9m-.6,0a.6,.6 0 1,0 1.2,0a.6,.6 0 1,0 -1.2,0M1746.6,200m-.6,0a.6,.6 0 1,0 1.2,0a.6,.6 0 1,0 -1.2,0M1750.6,200.3m-.6,0a.6,.6 0 1,0 1.2,0a.6,.6 0 1,0 -1.2,0M1755.2,200.6m-.6,0a.6,.6 0 1,0 1.2,0a.6,.6 0 1,0 -1.2,0M1702.9,203.5m-.6,0a.6,.6 0 1,0 1.2,0a.6,.6 0 1,0 -1.2,0M1706.2,204.2m-.6,0a.6,.6 0 1,0 1.2,0a.6,.6 0 1,0 -1.2,0M1711.2,204.2m-.6,0a.6,.6 0 1,0 1.2,0a.6,.6 0 1,0 -1.2,0M1715.5,203.7m-.6,0a.6,.6 0 1,0 1.2,0a.6,.6 0 1,0 -1.2,0M1719.5,203.9m-.6,0a.6,.6 0 1,0 1.2,0a.6,.6 0 1,0 -1.2,0M1723.7,203.7m-.6,0a.6,.6 0 1,0 1.2,0a.6,.6 0 1,0 -1.2,0M1727,203.8m-.6,0a.6,.6 0 1,0 1.2,0a.6,.6 0 1,0 -1.2,0M1732.1,204.2m-.6,0a.6,.6 0 1,0 1.2,0a.6,.6 0 1,0 -1.2,0M1735.5,203m-.6,0a.6,.6 0 1,0 1.2,0a.6,.6 0 1,0 -1.2,0M1740,203.5m-.6,0a.6,.6 0 1,0 1.2,0a.6,.6 0 1,0 -1.2,0M1744.5,203.3m-.6,0a.6,.6 0 1,0 1.2,0a.6,.6 0 1,0 -1.2,0M1748,203m-.6,0a.6,.6 0 1,0 1.2,0a.6,.6 0 1,0 -1.2,0M1752.7,203.4m-.6,0a.6,.6 0 1,0 1.2,0a.6,.6 0 1,0 -1.2,0M1704.8,207.2m-.6,0a.6,.6 0 1,0 1.2,0a.6,.6 0 1,0 -1.2,0M1709,206.8m-.6,0a.6,.6 0 1,0 1.2,0a.6,.6 0 1,0 -1.2,0M1713.3,207.1m-.6,0a.6,.6 0 1,0 1.2,0a.6,.6 0 1,0 -1.2,0M1717,206.7m-.6,0a.6,.6 0 1,0 1.2,0a.6,.6 0 1,0 -1.2,0M1721,207.6m-.6,0a.6,.6 0 1,0 1.2,0a.6,.6 0 1,0 -1.2,0M1725.8,207.3m-.6,0a.6,.6 0 1,0 1.2,0a.6,.6 0 1,0 -1.2,0M1729.7,207.4m-.6,0a.6,.6 0 1,0 1.2,0a.6,.6 0 1,0 -1.2,0M1733.6,207.6m-.6,0a.6,.6 0 1,0 1.2,0a.6,.6 0 1,0 -1.2,0M1738,206.9m-.6,0a.6,.6 0 1,0 1.2,0a.6,.6 0 1,0 -1.2,0M1742.2,207.8m-.6,0a.6,.6 0 1,0 1.2,0a.6,.6 0 1,0 -1.2,0M1746.3,207.7m-.6,0a.6,.6 0 1,0 1.2,0a.6,.6 0 1,0 -1.2,0M1751.1,206.8m-.6,0a.6,.6 0 1,0 1.2,0a.6,.6 0 1,0 -1.2,0M1706.1,210.7m-.6,0a.6,.6 0 1,0 1.2,0a.6,.6 0 1,0 -1.2,0M1710.3,210.8m-.6,0a.6,.6 0 1,0 1.2,0a.6,.6 0 1,0 -1.2,0M1715.3,211.1m-.6,0a.6,.6 0 1,0 1.2,0a.6,.6 0 1,0 -1.2,0M1719.4,211.2m-.6,0a.6,.6 0 1,0 1.2,0a.6,.6 0 1,0 -1.2,0M1723.3,211.4m-.6,0a.6,.6 0 1,0 1.2,0a.6,.6 0 1,0 -1.2,0M1727.7,211m-.6,0a.6,.6 0 1,0 1.2,0a.6,.6 0 1,0 -1.2,0M1731.7,211.3m-.6,0a.6,.6 0 1,0 1.2,0a.6,.6 0 1,0 -1.2,0M1735.7,210.7m-.6,0a.6,.6 0 1,0 1.2,0a.6,.6 0 1,0 -1.2,0M1739.7,211.3m-.6,0a.6,.6 0 1,0 1.2,0a.6,.6 0 1,0 -1.2,0M1744.5,210.7m-.6,0a.6,.6 0 1,0 1.2,0a.6,.6 0 1,0 -1.2,0M1748.5,210.4m-.6,0a.6,.6 0 1,0 1.2,0a.6,.6 0 1,0 -1.2,0M1708,215.1m-.6,0a.6,.6 0 1,0 1.2,0a.6,.6 0 1,0 -1.2,0M1712.6,214m-.6,0a.6,.6 0 1,0 1.2,0a.6,.6 0 1,0 -1.2,0M1716.9,214m-.6,0a.6,.6 0 1,0 1.2,0a.6,.6 0 1,0 -1.2,0M1721.5,214m-.6,0a.6,.6 0 1,0 1.2,0a.6,.6 0 1,0 -1.2,0M1725.6,214.6m-.6,0a.6,.6 0 1,0 1.2,0a.6,.6 0 1,0 -1.2,0M1729.1,214.8m-.6,0a.6,.6 0 1,0 1.2,0a.6,.6 0 1,0 -1.2,0M1734.1,214.2m-.6,0a.6,.6 0 1,0 1.2,0a.6,.6 0 1,0 -1.2,0M1738.6,214.3m-.6,0a.6,.6 0 1,0 1.2,0a.6,.6 0 1,0 -1.2,0M1742.3,215.1m-.6,0a.6,.6 0 1,0 1.2,0a.6,.6 0 1,0 -1.2,0M1746.9,214.2m-.6,0a.6,.6 0 1,0 1.2,0a.6,.6 0 1,0 -1.2,0M1711.3,218.3m-.6,0a.6,.6 0 1,0 1.2,0a.6,.6 0 1,0 -1.2,0M1715.5,217.9m-.6,0a.6,.6 0 1,0 1.2,0a.6,.6 0 1,0 -1.2,0M1719.6,218.2m-.6,0a.6,.6 0 1,0 1.2,0a.6,.6 0 1,0 -1.2,0M1723.5,218.3m-.6,0a.6,.6 0 1,0 1.2,0a.6,.6 0 1,0 -1.2,0M1728.1,217.7m-.6,0a.6,.6 0 1,0 1.2,0a.6,.6 0 1,0 -1.2,0M1732.2,218.4m-.6,0a.6,.6 0 1,0 1.2,0a.6,.6 0 1,0 -1.2,0M1735.5,217.6m-.6,0a.6,.6 0 1,0 1.2,0a.6,.6 0 1,0 -1.2,0M1740.7,217.7m-.6,0a.6,.6 0 1,0 1.2,0a.6,.6 0 1,0 -1.2,0M1744.7,218m-.6,0a.6,.6 0 1,0 1.2,0a.6,.6 0 1,0 -1.2,0M1716.7,221.3m-.6,0a.6,.6 0 1,0 1.2,0a.6,.6 0 1,0 -1.2,0M1721.4,222.1m-.6,0a.6,.6 0 1,0 1.2,0a.6,.6 0 1,0 -1.2,0M1724.9,222.2m-.6,0a.6,.6 0 1,0 1.2,0a.6,.6 0 1,0 -1.2,0M1729.5,222.1m-.6,0a.6,.6 0 1,0 1.2,0a.6,.6 0 1,0 -1.2,0M1734,222.2m-.6,0a.6,.6 0 1,0 1.2,0a.6,.6 0 1,0 -1.2,0M1738,221.5m-.6,0a.6,.6 0 1,0 1.2,0a.6,.6 0 1,0 -1.2,0M1844.4,173.1m-.6,0a.6,.6 0 1,0 1.2,0a.6,.6 0 1,0 -1.2,0M1848.8,172.8m-.6,0a.6,.6 0 1,0 1.2,0a.6,.6 0 1,0 -1.2,0M1851.9,173.3m-.6,0a.6,.6 0 1,0 1.2,0a.6,.6 0 1,0 -1.2,0M1857,173.6m-.6,0a.6,.6 0 1,0 1.2,0a.6,.6 0 1,0 -1.2,0M1861,173.6m-.6,0a.6,.6 0 1,0 1.2,0a.6,.6 0 1,0 -1.2,0M1837.1,176.6m-.6,0a.6,.6 0 1,0 1.2,0a.6,.6 0 1,0 -1.2,0M1841.9,176.4m-.6,0a.6,.6 0 1,0 1.2,0a.6,.6 0 1,0 -1.2,0M1845.9,176.3m-.6,0a.6,.6 0 1,0 1.2,0a.6,.6 0 1,0 -1.2,0M1850.7,177.4m-.6,0a.6,.6 0 1,0 1.2,0a.6,.6 0 1,0 -1.2,0M1854.4,176.8m-.6,0a.6,.6 0 1,0 1.2,0a.6,.6 0 1,0 -1.2,0M1859.1,176.5m-.6,0a.6,.6 0 1,0 1.2,0a.6,.6 0 1,0 -1.2,0M1862.5,177.2m-.6,0a.6,.6 0 1,0 1.2,0a.6,.6 0 1,0 -1.2,0M1835.1,180m-.6,0a.6,.6 0 1,0 1.2,0a.6,.6 0 1,0 -1.2,0M1839.5,179.8m-.6,0a.6,.6 0 1,0 1.2,0a.6,.6 0 1,0 -1.2,0M1844,180.7m-.6,0a.6,.6 0 1,0 1.2,0a.6,.6 0 1,0 -1.2,0M1848.1,180.3m-.6,0a.6,.6 0 1,0 1.2,0a.6,.6 0 1,0 -1.2,0M1852.1,179.9m-.6,0a.6,.6 0 1,0 1.2,0a.6,.6 0 1,0 -1.2,0M1856.5,180m-.6,0a.6,.6 0 1,0 1.2,0a.6,.6 0 1,0 -1.2,0M1861.1,179.9m-.6,0a.6,.6 0 1,0 1.2,0a.6,.6 0 1,0 -1.2,0M1865,180.2m-.6,0a.6,.6 0 1,0 1.2,0a.6,.6 0 1,0 -1.2,0M1834,183.8m-.6,0a.6,.6 0 1,0 1.2,0a.6,.6 0 1,0 -1.2,0M1837.9,184.6m-.6,0a.6,.6 0 1,0 1.2,0a.6,.6 0 1,0 -1.2,0M1842.1,183.8m-.6,0a.6,.6 0 1,0 1.2,0a.6,.6 0 1,0 -1.2,0M1845.8,183.7m-.6,0a.6,.6 0 1,0 1.2,0a.6,.6 0 1,0 -1.2,0M1850.3,183.8m-.6,0a.6,.6 0 1,0 1.2,0a.6,.6 0 1,0 -1.2,0M1855,183.7m-.6,0a.6,.6 0 1,0 1.2,0a.6,.6 0 1,0 -1.2,0M1858.7,183.6m-.6,0a.6,.6 0 1,0 1.2,0a.6,.6 0 1,0 -1.2,0M1862.6,183.7m-.6,0a.6,.6 0 1,0 1.2,0a.6,.6 0 1,0 -1.2,0M1867.2,184.3m-.6,0a.6,.6 0 1,0 1.2,0a.6,.6 0 1,0 -1.2,0M1871.8,184.2m-.6,0a.6,.6 0 1,0 1.2,0a.6,.6 0 1,0 -1.2,0M1831.4,188.3m-.6,0a.6,.6 0 1,0 1.2,0a.6,.6 0 1,0 -1.2,0M1835.9,187.9m-.6,0a.6,.6 0 1,0 1.2,0a.6,.6 0 1,0 -1.2,0M1839.8,187.7m-.6,0a.6,.6 0 1,0 1.2,0a.6,.6 0 1,0 -1.2,0M1844.3,187.8m-.6,0a.6,.6 0 1,0 1.2,0a.6,.6 0 1,0 -1.2,0M1848,187.2m-.6,0a.6,.6 0 1,0 1.2,0a.6,.6 0 1,0 -1.2,0M1852.7,188.1m-.6,0a.6,.6 0 1,0 1.2,0a.6,.6 0 1,0 -1.2,0M1856.9,187.8m-.6,0a.6,.6 0 1,0 1.2,0a.6,.6 0 1,0 -1.2,0M1860.4,187.5m-.6,0a.6,.6 0 1,0 1.2,0a.6,.6 0 1,0 -1.2,0M1865.3,188m-.6,0a.6,.6 0 1,0 1.2,0a.6,.6 0 1,0 -1.2,0M1868.9,187.6m-.6,0a.6,.6 0 1,0 1.2,0a.6,.6 0 1,0 -1.2,0M1873.1,188.2m-.6,0a.6,.6 0 1,0 1.2,0a.6,.6 0 1,0 -1.2,0M1829.8,191.8m-.6,0a.6,.6 0 1,0 1.2,0a.6,.6 0 1,0 -1.2,0M1833.7,191m-.6,0a.6,.6 0 1,0 1.2,0a.6,.6 0 1,0 -1.2,0M1837.5,191m-.6,0a.6,.6 0 1,0 1.2,0a.6,.6 0 1,0 -1.2,0M1841.4,191m-.6,0a.6,.6 0 1,0 1.2,0a.6,.6 0 1,0 -1.2,0M1846,190.8m-.6,0a.6,.6 0 1,0 1.2,0a.6,.6 0 1,0 -1.2,0M1850.1,191.6m-.6,0a.6,.6 0 1,0 1.2,0a.6,.6 0 1,0 -1.2,0M1854.8,190.9m-.6,0a.6,.6 0 1,0 1.2,0a.6,.6 0 1,0 -1.2,0M1858.2,191.8m-.6,0a.6,.6 0 1,0 1.2,0a.6,.6 0 1,0 -1.2,0M1863.2,191m-.6,0a.6,.6 0 1,0 1.2,0a.6,.6 0 1,0 -1.2,0M1867.7,191.6m-.6,0a.6,.6 0 1,0 1.2,0a.6,.6 0 1,0 -1.2,0M1870.9,191.4m-.6,0a.6,.6 0 1,0 1.2,0a.6,.6 0 1,0 -1.2,0M1827.6,194.7m-.6,0a.6,.6 0 1,0 1.2,0a.6,.6 0 1,0 -1.2,0M1831.6,195.4m-.6,0a.6,.6 0 1,0 1.2,0a.6,.6 0 1,0 -1.2,0M1836.1,194.8m-.6,0a.6,.6 0 1,0 1.2,0a.6,.6 0 1,0 -1.2,0M1839.6,194.7m-.6,0a.6,.6 0 1,0 1.2,0a.6,.6 0 1,0 -1.2,0M1843.9,194.5m-.6,0a.6,.6 0 1,0 1.2,0a.6,.6 0 1,0 -1.2,0M1848.8,194.5m-.6,0a.6,.6 0 1,0 1.2,0a.6,.6 0 1,0 -1.2,0M1852.6,194.8m-.6,0a.6,.6 0 1,0 1.2,0a.6,.6 0 1,0 -1.2,0M1856.6,195.5m-.6,0a.6,.6 0 1,0 1.2,0a.6,.6 0 1,0 -1.2,0M1861.1,195.2m-.6,0a.6,.6 0 1,0 1.2,0a.6,.6 0 1,0 -1.2,0M1865.2,195m-.6,0a.6,.6 0 1,0 1.2,0a.6,.6 0 1,0 -1.2,0M1868.9,195m-.6,0a.6,.6 0 1,0 1.2,0a.6,.6 0 1,0 -1.2,0M1873.5,194.7m-.6,0a.6,.6 0 1,0 1.2,0a.6,.6 0 1,0 -1.2,0M1829.5,199m-.6,0a.6,.6 0 1,0 1.2,0a.6,.6 0 1,0 -1.2,0M1833.5,199m-.6,0a.6,.6 0 1,0 1.2,0a.6,.6 0 1,0 -1.2,0M1837.1,198.5m-.6,0a.6,.6 0 1,0 1.2,0a.6,.6 0 1,0 -1.2,0M1842.3,199.2m-.6,0a.6,.6 0 1,0 1.2,0a.6,.6 0 1,0 -1.2,0M1845.9,198.6m-.6,0a.6,.6 0 1,0 1.2,0a.6,.6 0 1,0 -1.2,0M1850.1,199m-.6,0a.6,.6 0 1,0 1.2,0a.6,.6 0 1,0 -1.2,0M1854.9,198.3m-.6,0a.6,.6 0 1,0 1.2,0a.6,.6 0 1,0 -1.2,0M1858.3,198.9m-.6,0a.6,.6 0 1,0 1.2,0a.6,.6 0 1,0 -1.2,0M1863.4,198.9m-.6,0a.6,.6 0 1,0 1.2,0a.6,.6 0 1,0 -1.2,0M1867.1,199.1m-.6,0a.6,.6 0 1,0 1.2,0a.6,.6 0 1,0 -1.2,0M1871.8,198.2m-.6,0a.6,.6 0 1,0 1.2,0a.6,.6 0 1,0 -1.2,0M1831.6,201.8m-.6,0a.6,.6 0 1,0 1.2,0a.6,.6 0 1,0 -1.2,0M1835.6,202.3m-.6,0a.6,.6 0 1,0 1.2,0a.6,.6 0 1,0 -1.2,0M1839.4,202.9m-.6,0a.6,.6 0 1,0 1.2,0a.6,.6 0 1,0 -1.2,0M1844.3,201.8m-.6,0a.6,.6 0 1,0 1.2,0a.6,.6 0 1,0 -1.2,0M1848.8,202.7m-.6,0a.6,.6 0 1,0 1.2,0a.6,.6 0 1,0 -1.2,0M1852.8,202.6m-.6,0a.6,.6 0 1,0 1.2,0a.6,.6 0 1,0 -1.2,0M1857.2,202.7m-.6,0a.6,.6 0 1,0 1.2,0a.6,.6 0 1,0 -1.2,0M1861.2,202.6m-.6,0a.6,.6 0 1,0 1.2,0a.6,.6 0 1,0 -1.2,0M1864.4,202m-.6,0a.6,.6 0 1,0 1.2,0a.6,.6 0 1,0 -1.2,0M1868.6,202.3m-.6,0a.6,.6 0 1,0 1.2,0a.6,.6 0 1,0 -1.2,0M1873.7,201.6m-.6,0a.6,.6 0 1,0 1.2,0a.6,.6 0 1,0 -1.2,0M1828.8,205.8m-.6,0a.6,.6 0 1,0 1.2,0a.6,.6 0 1,0 -1.2,0M1833.7,206.1m-.6,0a.6,.6 0 1,0 1.2,0a.6,.6 0 1,0 -1.2,0M1838.2,205.6m-.6,0a.6,.6 0 1,0 1.2,0a.6,.6 0 1,0 -1.2,0M1842.1,206.1m-.6,0a.6,.6 0 1,0 1.2,0a.6,.6 0 1,0 -1.2,0M1846.4,205.4m-.6,0a.6,.6 0 1,0 1.2,0a.6,.6 0 1,0 -1.2,0M1850.3,205.3m-.6,0a.6,.6 0 1,0 1.2,0a.6,.6 0 1,0 -1.2,0M1854.8,205.8m-.6,0a.6,.6 0 1,0 1.2,0a.6,.6 0 1,0 -1.2,0M1858.2,205.6m-.6,0a.6,.6 0 1,0 1.2,0a.6,.6 0 1,0 -1.2,0M1862.8,206.5m-.6,0a.6,.6 0 1,0 1.2,0a.6,.6 0 1,0 -1.2,0M1867,206.4m-.6,0a.6,.6 0 1,0 1.2,0a.6,.6 0 1,0 -1.2,0M1871.8,206.4m-.6,0a.6,.6 0 1,0 1.2,0a.6,.6 0 1,0 -1.2,0M1831.2,209.7m-.6,0a.6,.6 0 1,0 1.2,0a.6,.6 0 1,0 -1.2,0M1836.2,209.7m-.6,0a.6,.6 0 1,0 1.2,0a.6,.6 0 1,0 -1.2,0M1839.2,210.1m-.6,0a.6,.6 0 1,0 1.2,0a.6,.6 0 1,0 -1.2,0M1844.6,209.3m-.6,0a.6,.6 0 1,0 1.2,0a.6,.6 0 1,0 -1.2,0M1848.6,209.5m-.6,0a.6,.6 0 1,0 1.2,0a.6,.6 0 1,0 -1.2,0M1852.8,209.8m-.6,0a.6,.6 0 1,0 1.2,0a.6,.6 0 1,0 -1.2,0M1856.3,209.8m-.6,0a.6,.6 0 1,0 1.2,0a.6,.6 0 1,0 -1.2,0M1860.8,209.5m-.6,0a.6,.6 0 1,0 1.2,0a.6,.6 0 1,0 -1.2,0M1865.6,210.1m-.6,0a.6,.6 0 1,0 1.2,0a.6,.6 0 1,0 -1.2,0M1869.4,209.8m-.6,0a.6,.6 0 1,0 1.2,0a.6,.6 0 1,0 -1.2,0M1833.4,213.4m-.6,0a.6,.6 0 1,0 1.2,0a.6,.6 0 1,0 -1.2,0M1838.2,213.4m-.6,0a.6,.6 0 1,0 1.2,0a.6,.6 0 1,0 -1.2,0M1842.3,213.4m-.6,0a.6,.6 0 1,0 1.2,0a.6,.6 0 1,0 -1.2,0M1846.6,212.6m-.6,0a.6,.6 0 1,0 1.2,0a.6,.6 0 1,0 -1.2,0M1850.1,212.7m-.6,0a.6,.6 0 1,0 1.2,0a.6,.6 0 1,0 -1.2,0M1854.6,213.4m-.6,0a.6,.6 0 1,0 1.2,0a.6,.6 0 1,0 -1.2,0M1859.1,213.4m-.6,0a.6,.6 0 1,0 1.2,0a.6,.6 0 1,0 -1.2,0M1863,213m-.6,0a.6,.6 0 1,0 1.2,0a.6,.6 0 1,0 -1.2,0M1867.3,213m-.6,0a.6,.6 0 1,0 1.2,0a.6,.6 0 1,0 -1.2,0M1836.2,216.2m-.6,0a.6,.6 0 1,0 1.2,0a.6,.6 0 1,0 -1.2,0M1840.3,216.7m-.6,0a.6,.6 0 1,0 1.2,0a.6,.6 0 1,0 -1.2,0M1843.4,216.6m-.6,0a.6,.6 0 1,0 1.2,0a.6,.6 0 1,0 -1.2,0M1848.1,216.2m-.6,0a.6,.6 0 1,0 1.2,0a.6,.6 0 1,0 -1.2,0M1852.8,217m-.6,0a.6,.6 0 1,0 1.2,0a.6,.6 0 1,0 -1.2,0M1856.7,216.9m-.6,0a.6,.6 0 1,0 1.2,0a.6,.6 0 1,0 -1.2,0M1860.7,216.6m-.6,0a.6,.6 0 1,0 1.2,0a.6,.6 0 1,0 -1.2,0M1864.5,216.9m-.6,0a.6,.6 0 1,0 1.2,0a.6,.6 0 1,0 -1.2,0M1841.9,220.6m-.6,0a.6,.6 0 1,0 1.2,0a.6,.6 0 1,0 -1.2,0M1845.9,221m-.6,0a.6,.6 0 1,0 1.2,0a.6,.6 0 1,0 -1.2,0M1850.8,219.8m-.6,0a.6,.6 0 1,0 1.2,0a.6,.6 0 1,0 -1.2,0M1854.1,220.6m-.6,0a.6,.6 0 1,0 1.2,0a.6,.6 0 1,0 -1.2,0M1858.6,220.7m-.6,0a.6,.6 0 1,0 1.2,0a.6,.6 0 1,0 -1.2,0M1804.3,162.4m-.6,0a.6,.6 0 1,0 1.2,0a.6,.6 0 1,0 -1.2,0M1808.3,162.8m-.6,0a.6,.6 0 1,0 1.2,0a.6,.6 0 1,0 -1.2,0M1812.9,162.8m-.6,0a.6,.6 0 1,0 1.2,0a.6,.6 0 1,0 -1.2,0M1802.9,166m-.6,0a.6,.6 0 1,0 1.2,0a.6,.6 0 1,0 -1.2,0M1806.1,165.5m-.6,0a.6,.6 0 1,0 1.2,0a.6,.6 0 1,0 -1.2,0M1810.8,165.9m-.6,0a.6,.6 0 1,0 1.2,0a.6,.6 0 1,0 -1.2,0M1814.8,166.1m-.6,0a.6,.6 0 1,0 1.2,0a.6,.6 0 1,0 -1.2,0M1800.9,169.4m-.6,0a.6,.6 0 1,0 1.2,0a.6,.6 0 1,0 -1.2,0M1804.1,169.5m-.6,0a.6,.6 0 1,0 1.2,0a.6,.6 0 1,0 -1.2,0M1809.4,168.9m-.6,0a.6,.6 0 1,0 1.2,0a.6,.6 0 1,0 -1.2,0M1813.1,169.1m-.6,0a.6,.6 0 1,0 1.2,0a.6,.6 0 1,0 -1.2,0M1817.1,168.8m-.6,0a.6,.6 0 1,0 1.2,0a.6,.6 0 1,0 -1.2,0M1798.5,172.6m-.6,0a.6,.6 0 1,0 1.2,0a.6,.6 0 1,0 -1.2,0M1802.2,172.9m-.6,0a.6,.6 0 1,0 1.2,0a.6,.6 0 1,0 -1.2,0M1807,172.7m-.6,0a.6,.6 0 1,0 1.2,0a.6,.6 0 1,0 -1.2,0M1811.1,173.4m-.6,0a.6,.6 0 1,0 1.2,0a.6,.6 0 1,0 -1.2,0M1815.1,173.2m-.6,0a.6,.6 0 1,0 1.2,0a.6,.6 0 1,0 -1.2,0M1819.4,173.4m-.6,0a.6,.6 0 1,0 1.2,0a.6,.6 0 1,0 -1.2,0M1800.2,177m-.6,0a.6,.6 0 1,0 1.2,0a.6,.6 0 1,0 -1.2,0M1805,176.2m-.6,0a.6,.6 0 1,0 1.2,0a.6,.6 0 1,0 -1.2,0M1808.9,176.2m-.6,0a.6,.6 0 1,0 1.2,0a.6,.6 0 1,0 -1.2,0M1813.4,176.8m-.6,0a.6,.6 0 1,0 1.2,0a.6,.6 0 1,0 -1.2,0M1817.6,177m-.6,0a.6,.6 0 1,0 1.2,0a.6,.6 0 1,0 -1.2,0M1798.3,179.8m-.6,0a.6,.6 0 1,0 1.2,0a.6,.6 0 1,0 -1.2,0M1802,179.9m-.6,0a.6,.6 0 1,0 1.2,0a.6,.6 0 1,0 -1.2,0M1806.2,180.1m-.6,0a.6,.6 0 1,0 1.2,0a.6,.6 0 1,0 -1.2,0M1811.4,180.7m-.6,0a.6,.6 0 1,0 1.2,0a.6,.6 0 1,0 -1.2,0M1815.1,180.2m-.6,0a.6,.6 0 1,0 1.2,0a.6,.6 0 1,0 -1.2,0M1819.1,180.2m-.6,0a.6,.6 0 1,0 1.2,0a.6,.6 0 1,0 -1.2,0M1800,183.7m-.6,0a.6,.6 0 1,0 1.2,0a.6,.6 0 1,0 -1.2,0M1805.1,184m-.6,0a.6,.6 0 1,0 1.2,0a.6,.6 0 1,0 -1.2,0M1808.3,183.9m-.6,0a.6,.6 0 1,0 1.2,0a.6,.6 0 1,0 -1.2,0M1812.4,183.9m-.6,0a.6,.6 0 1,0 1.2,0a.6,.6 0 1,0 -1.2,0M1817.2,184.5m-.6,0a.6,.6 0 1,0 1.2,0a.6,.6 0 1,0 -1.2,0M1802.9,187.2m-.6,0a.6,.6 0 1,0 1.2,0a.6,.6 0 1,0 -1.2,0M1806.8,187.1m-.6,0a.6,.6 0 1,0 1.2,0a.6,.6 0 1,0 -1.2,0M1810.9,188m-.6,0a.6,.6 0 1,0 1.2,0a.6,.6 0 1,0 -1.2,0M1815.6,188.1m-.6,0a.6,.6 0 1,0 1.2,0a.6,.6 0 1,0 -1.2,0M1808.8,190.7m-.6,0a.6,.6 0 1,0 1.2,0a.6,.6 0 1,0 -1.2,0M1812.5,190.8m-.6,0a.6,.6 0 1,0 1.2,0a.6,.6 0 1,0 -1.2,0" fill="#fff"/><g fill="#fff" stroke="#000" stroke-width="2.1"><ellipse cx="1664.4" cy="193.8" rx="13.1" ry="8.4" transform="rotate(-71.8 1664.4 193.8)"/><ellipse cx="1676" cy="171.7" rx="13.5" ry="9.4" transform="rotate(-44.8 1676 171.7)"/><ellipse cx="1696.6" cy="157.7" rx="12.7" ry="8.1" transform="rotate(-25 1696.6 157.7)"/><ellipse cx="1719.7" cy="148.1" rx="13.7" ry="8.7" transform="rotate(-18.6 1719.7 148.1)"/><ellipse cx="1743.9" cy="141.7" rx="12.3" ry="9.1" transform="rotate(-11.8 1743.9 141.7)"/><ellipse cx="1768.6" cy="137.5" rx="13.1" ry="7.7" transform="rotate(-4.5 1768.6 137.5)"/><ellipse cx="1793.7" cy="137.9" rx="13.2" ry="8.3" transform="rotate(5.5 1793.7 137.9)"/><ellipse cx="1818.5" cy="141.4" rx="13.8" ry="9.4" transform="rotate(10.9 1818.5 141.4)"/><ellipse cx="1842.5" cy="148.3" rx="12.9" ry="9.1" transform="rotate(23.1 1842.5 148.3)"/><ellipse cx="1864.6" cy="160" rx="12.5" ry="7.8" transform="rotate(33.2 1864.6 160)"/><ellipse cx="1884.3" cy="175.5" rx="13.2" ry="9.4" transform="rotate(46.5 1884.3 175.5)"/><ellipse cx="1897.8" cy="196.4" rx="13.4" ry="8.1" transform="rotate(69.6 1897.8 196.4)"/><ellipse cx="1901.9" cy="220.9" rx="12.6" ry="8.5" transform="rotate(94.1 1901.9 220.9)"/><ellipse cx="1896" cy="245.1" rx="13" ry="7.6" transform="rotate(116.7 1896 245.1)"/><ellipse cx="1878.8" cy="262.8" rx="13.3" ry="8.5" transform="rotate(146.8 1878.8 262.8)"/><ellipse cx="1857.4" cy="275.8" rx="13.8" ry="9.1" transform="rotate(151.9 1857.4 275.8)"/><ellipse cx="1834.9" cy="286.8" rx="13.3" ry="8.8" transform="rotate(157.3 1834.9 286.8)"/><ellipse cx="1811.3" cy="295.3" rx="13.1" ry="9.3" transform="rotate(163.8 1811.3 295.3)"/><ellipse cx="1786.9" cy="300.1" rx="12.1" ry="8.8" transform="rotate(-173.7 1786.9 300.1)"/><ellipse cx="1762.7" cy="293.8" rx="13.6" ry="9.1" transform="rotate(-160.2 1762.7 293.8)"/><ellipse cx="1739.8" cy="283.6" rx="13.5" ry="8.8" transform="rotate(-150.8 1739.8 283.6)"/><ellipse cx="1718.6" cy="270.3" rx="13.2" ry="7.5" transform="rotate(-144.4 1718.6 270.3)"/><ellipse cx="1699" cy="254.7" rx="12.8" ry="8.2" transform="rotate(-138.7 1699 254.7)"/><ellipse cx="1680.6" cy="237.7" rx="12.6" ry="8.4" transform="rotate(-133.5 1680.6 237.7)"/><ellipse cx="1665.2" cy="218" rx="13.5" ry="8.8" transform="rotate(-117.3 1665.2 218)"/><ellipse cx="1681.4" cy="211.8" rx="8.7" ry="5.6" transform="rotate(54 1681.4 211.8)"/><ellipse cx="1693.6" cy="226.7" rx="8.8" ry="6.3" transform="rotate(44.7 1693.6 226.7)"/><ellipse cx="1707.7" cy="239.8" rx="8.1" ry="6.8" transform="rotate(41.3 1707.7 239.8)"/><ellipse cx="1722.5" cy="252.1" rx="9.5" ry="6.5" transform="rotate(37 1722.5 252.1)"/><ellipse cx="1738.4" cy="263" rx="8.7" ry="5.9" transform="rotate(31.8 1738.4 263)"/><ellipse cx="1755.2" cy="272.4" rx="8.8" ry="6.7" transform="rotate(24.6 1755.2 272.4)"/><ellipse cx="1773.1" cy="279.4" rx="8.5" ry="6.9" transform="rotate(18 1773.1 279.4)"/><ellipse cx="1791.8" cy="283.1" rx="9.7" ry="5.8" transform="rotate(-10.7 1791.8 283.1)"/><ellipse cx="1810.3" cy="277.8" rx="8.2" ry="6.7" transform="rotate(-18.1 1810.3 277.8)"/><ellipse cx="1828.4" cy="271.1" rx="8.8" ry="6.5" transform="rotate(-23.9 1828.4 271.1)"/><ellipse cx="1845.7" cy="262.8" rx="9.7" ry="5.6" transform="rotate(-27.7 1845.7 262.8)"/><ellipse cx="1862.4" cy="253.2" rx="8.4" ry="6.8" transform="rotate(-32.7 1862.4 253.2)"/><ellipse cx="1878" cy="242" rx="8.2" ry="6.5" transform="rotate(-52.8 1878 242)"/><ellipse cx="1884.5" cy="224.1" rx="9.9" ry="6.3" transform="rotate(-82.2 1884.5 224.1)"/><ellipse cx="1882.9" cy="205.1" rx="9.7" ry="6.3" transform="rotate(-109.9 1882.9 205.1)"/><ellipse cx="1873.3" cy="188.6" rx="8.9" ry="5.6" transform="rotate(-133.5 1873.3 188.6)"/><ellipse cx="1858.5" cy="176.4" rx="9.6" ry="6" transform="rotate(-145.7 1858.5 176.4)"/><ellipse cx="1841.9" cy="166.6" rx="8.9" ry="5.6" transform="rotate(-154.5 1841.9 166.6)"/><ellipse cx="1823.9" cy="160" rx="9.1" ry="5.6" transform="rotate(-165.9 1823.9 160)"/><ellipse cx="1805" cy="156.3" rx="9.8" ry="6" transform="rotate(-172 1805 156.3)"/><ellipse cx="1785.9" cy="154.3" rx="8.7" ry="6.6" transform="rotate(-176.7 1785.9 154.3)"/><ellipse cx="1766.7" cy="154.8" rx="9.4" ry="6.9" transform="rotate(171.6 1766.7 154.8)"/><ellipse cx="1747.7" cy="158.3" rx="10" ry="5.9" transform="rotate(168 1747.7 158.3)"/><ellipse cx="1729.1" cy="163" rx="8.6" ry="6.9" transform="rotate(163.1 1729.1 163)"/><ellipse cx="1711.1" cy="169.8" rx="9.3" ry="5.7" transform="rotate(156.6 1711.1 169.8)"/><ellipse cx="1694" cy="178.6" rx="9.7" ry="6.6" transform="rotate(144.1 1694 178.6)"/><ellipse cx="1682.5" cy="193.7" rx="8.5" ry="6.2" transform="rotate(111.5 1682.5 193.7)"/></g><path d="M1563,218l-1,1 2,1 3,2 6,5 10,7 14,10 16,12 17,12 16,11 15,11 14,10 13,10 13,10 13,9 12,9 10,7 9,6 9,6 8,5 6,4 6,3 4,3 9-6 12-7 14-9 16-10 16-10 16-10 16-10 18-10 17-10 18-10 16-9 15-9 13-8 12-8 12-7 10-6 8-5 6-4-3-5-3-6-3-7-4-8-5-9-5-8-6-8-7-8-8-7-9-8-9-7-11-7-10-7-10-7-10-6-8-6-7-5-7-5-6-4-5-4-6-3-6-4-6-2-7-3-8-2-9-2-9-1-9-1-10-1-9,0-8-1-8,0-7,0-5,0-5,0-5,1-5,0-5,1-5,2-6,1-7,2-7,1-7,2-8,2-8,2-8,3-8,4-9,4-9,5-9,6-10,7-10,7-10,7-10,8-9,7-8,8-8,8-7,9-7,10-7,9-6,10-5,8-4,7z" fill="none" stroke="#000" stroke-width="2.6"/><defs><pattern id="stip" width="36" height="36" patternUnits="userSpaceOnUse"><path d="M5.9,24.8h1.3v1.3h-1.3zM22.9,17.2h1.3v1.3h-1.3zM7.8,28.5h1.3v1.3h-1.3zM29.1,18.4h1.3v1.3h-1.3zM18.2,8.5h1.3v1.3h-1.3zM0.1,13.4h1.3v1.3h-1.3zM21.1,2.5h1.3v1.3h-1.3zM28.6,8.4h1.3v1.3h-1.3zM8.4,1.5h1.3v1.3h-1.3zM35.9,26.6h1.3v1.3h-1.3zM31.5,22.2h1.3v1.3h-1.3zM1.2,11.8h1.3v1.3h-1.3zM17.9,4.2h1.3v1.3h-1.3zM34.3,13.3h1.3v1.3h-1.3zM5.6,29.4h1.3v1.3h-1.3zM4.5,33.4h1.3v1.3h-1.3zM16.3,19.9h1.3v1.3h-1.3zM12.3,17.4h1.3v1.3h-1.3zM6.7,1.3h1.3v1.3h-1.3zM31.2,8.5h1.3v1.3h-1.3zM28.1,7.5h1.3v1.3h-1.3zM34.9,32.2h1.3v1.3h-1.3zM27.2,27.5h1.3v1.3h-1.3zM20.9,26.3h1.3v1.3h-1.3zM4.4,17.1h1.3v1.3h-1.3zM29.8,7.2h1.3v1.3h-1.3zM33.2,32h1.3v1.3h-1.3zM14.7,13.1h1.3v1.3h-1.3zM16.2,13.9h1.3v1.3h-1.3zM35.8,13.9h1.3v1.3h-1.3zM1,3.4h1.3v1.3h-1.3zM25.9,35.7h1.3v1.3h-1.3zM17.9,17.7h1.3v1.3h-1.3zM19.8,26.9h1.3v1.3h-1.3zM8,21.9h1.3v1.3h-1.3zM20,22.4h1.3v1.3h-1.3zM6.5,6.1h1.3v1.3h-1.3zM12.5,33.4h1.3v1.3h-1.3zM12.5,21.5h1.3v1.3h-1.3zM11,3.7h1.3v1.3h-1.3zM2.4,29.3h1.3v1.3h-1.3zM28,13.5h1.3v1.3h-1.3zM24.6,24.3h1.3v1.3h-1.3zM32.4,34.5h1.3v1.3h-1.3zM14.7,35.6h1.3v1.3h-1.3zM34.6,21.3h1.3v1.3h-1.3zM31.8,17.7h1.3v1.3h-1.3zM13.5,8.9h1.3v1.3h-1.3zM31.5,5.8h1.3v1.3h-1.3zM2.5,29h1.3v1.3h-1.3zM27.9,17.4h1.3v1.3h-1.3zM30.1,1.9h1.3v1.3h-1.3zM9.3,10.4h1.3v1.3h-1.3zM15.1,6.1h1.3v1.3h-1.3zM2.5,12.2h1.3v1.3h-1.3zM32.4,35.4h1.3v1.3h-1.3zM26.9,17.2h1.3v1.3h-1.3zM9.1,34.5h1.3v1.3h-1.3zM18.9,26.2h1.3v1.3h-1.3zM1,7.6h1.3v1.3h-1.3zM30.2,28.6h1.3v1.3h-1.3zM31.7,21.6h1.3v1.3h-1.3zM15.3,20.9h1.3v1.3h-1.3zM30.6,11.1h1.3v1.3h-1.3zM19.2,9.9h1.3v1.3h-1.3zM27.7,0.4h1.3v1.3h-1.3zM24.7,34.3h1.3v1.3h-1.3zM0.8,21.4h1.3v1.3h-1.3zM23.2,30.7h1.3v1.3h-1.3zM21,9.3h1.3v1.3h-1.3zM14.6,34.5h1.3v1.3h-1.3zM32.6,4.8h1.3v1.3h-1.3zM3.4,3.4h1.3v1.3h-1.3zM0.9,16.1h1.3v1.3h-1.3zM5.1,31.2h1.3v1.3h-1.3zM23.6,4.6h1.3v1.3h-1.3zM19.4,11.7h1.3v1.3h-1.3zM17.8,7.9h1.3v1.3h-1.3zM6,6.6h1.3v1.3h-1.3zM13.6,25.6h1.3v1.3h-1.3zM19.8,1.7h1.3v1.3h-1.3zM25.6,31.5h1.3v1.3h-1.3zM27.9,28.5h1.3v1.3h-1.3zM0.3,16.7h1.3v1.3h-1.3zM2.3,27.5h1.3v1.3h-1.3zM6.3,25.6h1.3v1.3h-1.3zM9.1,25.1h1.3v1.3h-1.3zM11.3,1.5h1.3v1.3h-1.3zM14,11.1h1.3v1.3h-1.3zM32.4,10.6h1.3v1.3h-1.3zM18.1,19.8h1.3v1.3h-1.3zM34.1,3.5h1.3v1.3h-1.3zM21.6,18.3h1.3v1.3h-1.3zM26.4,34.8h1.3v1.3h-1.3zM11.2,25.2h1.3v1.3h-1.3zM18.9,20.2h1.3v1.3h-1.3zM2.3,29.3h1.3v1.3h-1.3zM35.2,12.8h1.3v1.3h-1.3zM11.5,35.8h1.3v1.3h-1.3zM3.9,2.7h1.3v1.3h-1.3zM2.6,29.3h1.3v1.3h-1.3zM27.4,16.1h1.3v1.3h-1.3zM22.4,0.7h1.3v1.3h-1.3zM23.2,15.9h1.3v1.3h-1.3zM18.6,14h1.3v1.3h-1.3zM14.5,8.1h1.3v1.3h-1.3zM1.8,15.6h1.3v1.3h-1.3zM8.9,25.4h1.3v1.3h-1.3zM29.4,26.1h1.3v1.3h-1.3zM16.4,8.5h1.3v1.3h-1.3zM13.9,17.5h1.3v1.3h-1.3zM22.7,34.7h1.3v1.3h-1.3zM3.1,17.3h1.3v1.3h-1.3zM17.7,25.8h1.3v1.3h-1.3zM32.1,28.1h1.3v1.3h-1.3zM22.6,27.3h1.3v1.3h-1.3zM24,30.9h1.3v1.3h-1.3zM25.2,24.6h1.3v1.3h-1.3zM8.8,33h1.3v1.3h-1.3zM13.9,22.1h1.3v1.3h-1.3zM29.7,34.7h1.3v1.3h-1.3zM35.6,0.2h1.3v1.3h-1.3zM11.3,11.2h1.3v1.3h-1.3zM14.1,5.2h1.3v1.3h-1.3zM19.9,2.9h1.3v1.3h-1.3zM10.9,34h1.3v1.3h-1.3zM26.7,16.6h1.3v1.3h-1.3zM3.9,34.4h1.3v1.3h-1.3zM25.3,7.4h1.3v1.3h-1.3zM12.1,23.1h1.3v1.3h-1.3zM24.5,9.4h1.3v1.3h-1.3zM34.2,11.6h1.3v1.3h-1.3zM9.2,30.4h1.3v1.3h-1.3zM5.5,24.5h1.3v1.3h-1.3zM7.2,21.5h1.3v1.3h-1.3zM10,13.6h1.3v1.3h-1.3zM33.9,16.8h1.3v1.3h-1.3zM15.7,22.2h1.3v1.3h-1.3zM10.1,6.3h1.3v1.3h-1.3zM13.8,9.8h1.3v1.3h-1.3zM6.8,34.6h1.3v1.3h-1.3zM1.2,29.2h1.3v1.3h-1.3zM33.7,25.4h1.3v1.3h-1.3zM0.7,18h1.3v1.3h-1.3zM1.4,21.9h1.3v1.3h-1.3zM25.2,8.6h1.3v1.3h-1.3zM0.3,19.6h1.3v1.3h-1.3zM3.4,11.1h1.3v1.3h-1.3zM16.3,32.2h1.3v1.3h-1.3zM13.3,4.9h1.3v1.3h-1.3z" fill="#000"/></pattern></defs><path d="M1261,627l1-2 3-4 3-5 4-5 4-6 4-5 5-5 5-5 5-4 6-4 6-4 6-3 7-4 7-3 6-3 7-3 7-3 6-2 7-2 7-2 7-2 7-2 7-2 7-2 7-2 8-2 8-2 8-2 7-2 8-1 7-2 7-2 6-2 6-2 6-2 5-1 5-2 6-2 5-1 6-1 6-1 6,0 6-1 7,0 6,0 6,1 7,0 6,1 6,1 7,1 6,2 7,1 6,2 6,2 6,2 6,2 5,2 5,2 5,3 5,2 4,3 5,2 5,3 5,3 5,3 6,4 6,4 5,4 6,4 6,4 5,3 6,3 6,2 5,2 6,2 6,1 5,2 6,1 5,2 4,2 4,3 3,2 3,3 3,3 3,4 2,3 3,3 2,3 3,3 2,3 3,4 2,3 2,3 2,3 2,2 1,2 0-175 4,0-5-2-6-3-8-4-9-4-9-4-9-4-7-3-7-3-5-2-4-2-4-2-4-1-3-2-3-1-4-2-4-1-5-2-5-1-6-2-6-1-6-2-5-1-6-2-5-1-5-1-4-2-5-1-4-1-5-1-4-1-4-1-5-1-5-1-5,0-5-1-5,0-5,0-5-1-5,0-5,0-5,0-4-1-4,0-4,0-4,0-4,0-5,0-5,0-6,0-5,1-7,0-6,0-7,1-6,0-7,1-6,1-6,1-7,1-6,1-6,1-6,2-6,1-7,2-6,1-6,1-7,2-6,1-6,2-6,1-6,2-7,2-6,2-6,2-6,3-6,3-6,3-6,3-7,3-6,2-7,3-8,2-9,3-9,2-9,3-9,2-8,2-7,2-5,1z" fill="url(#stip)" opacity="0.9"/><g fill="none" stroke="#000" stroke-linejoin="round"><path d="M1277,477l16,19 3-2 2-12-10-23-7,2-5,1zM1312,453l-4,1-9,2-9,3-2,0 10,23 21,6 1,0zM1341,478l-12-30-4,1-8,2-5,2 8,35 1,0zM1350,438l-5,3-7,3-6,2-3,2 12,30 2,2 18-8zM1367,430l-4,2-6,3-6,3-1,0 11,34 2,1 17-11zM1380,462l5,3 14-9-13-32-5,1-6,2-6,2-2,1zM1399,456l6,2 11-7-5-34-5,1-6,2-6,1-6,2-2,1zM1416,451l12,4 10-10-7-32-6,1-6,1-7,2-1,0zM1438,445l11,4 11-10-12-30-4,1-6,1-7,2zM1478,404l-3,0-6,1-7,1-6,1-6,1-2,1 12,30 12,3 7-5zM1479,437l14,4 8-5-4-34-3,0-6,0-7,1-3,1zM1501,436l14,3 7-6-3-33-5,1-7,0-6,0-4,1zM1522,433l18,4 1-1 1-36-3,0-4,0-5,0-5,0-6,0zM1560,436l4-35-4,0-5,0-4-1-4,0-4,0-1,0-1,36 19,1zM1583,402l-3,0-5,0-5-1-5,0-1,0-4,35 24,1zM1601,439l12-32-4-1-4-1-5-1-5-1-5,0-5-1-2,0 1,35zM1628,411l-1-1-5-1-4-1-5-1-12,32 4,6 17-2zM1643,448l7-31-3-1-6-2-5-1-5-1-3-1-6,32 4,5zM1661,453l12-30-3-1-6-2-6-1-6-2-2,0-7,31 6,7zM1661,453l9,9 12-3 12-29-3-1-3-1-4-2-4-1-5-2-2,0zM1682,459l9,13 10-2 11-31-1-1-5-2-4-2-4-2-4-1 0-1zM1701,470l11,9 8-2 14-29-9-4-7-3-6-2zM1720,477l11,12 8-2 16-29-3-2-9-4-9-4zM1739,487l24,22 4,0 0-44 4,0-5-2-6-3-5-2zM1296,494l-3,2-3,2 1,14 6,2 3-17zM1321,488l-1,0-1,0-14,10 7,13 2,1 17-1zM1337,515l15-2-9-33-2-2-20,10 10,23zM1371,489l-8-16-2-1-18,8 9,33 6,1zM1385,465l-5-3-17,11 8,16 18-5 1-5zM1399,456l-14,9 5,14 18-11-3-10zM1428,455l-12-4-11,7 3,10 11,10 13,1zM1438,483l11-5 5-15-5-14-11-4-10,10 4,24zM1454,463l19-7-1-14-12-3-11,10zM1479,437l-7,5 1,14 6,6 16-7-2-14zM1515,439l-14-3-8,5 2,14 18,13 6-5zM1540,437l-18-4-7,6 4,24 18-2zM1543,464l20-4-3-23-19-1-1,1-3,24zM1572,465l7-4 5-24-24-1 0,1 3,23zM1605,445l-4-6-17-2-5,24 21,1zM1624,461l2-13-4-5-17,2-5,17 7,9zM1624,461l19,13 6-19-6-7-17,0zM1643,474l1,4 18,10 8-26-9-9-12,2zM1682,459l-12,3-8,26 20,2 9-18zM1701,470l-10,2-9,18 13,12 8-5 9-18zM1703,497l23,3 5-11-11-12-8,2zM1731,512l14,6 18-9-24-22-8,2-5,11zM1277,496l0-19-1-15-3,1-7,2-5,1 0,30zM1293,496l-16-19 0,19 1,2 12,0zM1319,488l-21-6-2,12 4,3 5,1zM1277,496l-16,0 0,15 16,0 1-13zM1278,498l-1,13 2,3 12-2-1-14zM1305,498l-5-1-3,17 15-3zM1272,526l6-3 1-9-2-3-16,0 0,15zM1297,528l0-14-6-2-12,2-1,9 5,4 13,2zM1312,511l-15,3 0,14 10,0 7-16zM1273,541l-1-15-11,0 0,17zM1296,542l0-13-13-2-3,16 15,0zM1323,540l-16-12-10,0-1,1 0,13 21,2zM1278,557l1-14-6-2-12,2 0,14zM1280,543l-1,0-1,14 1,1 16-7 0-8zM1317,544l-21-2-1,1 0,8 9,13zM1278,557l-17,0 0,15 8,1 15,1-5-16zM1269,589l0-16-8-1 0,18zM1269,589l-8,1 0,37 1-2 3-4 3-5 4-5 4-6 4-5 5-5 5-5 3-2zM1408,468l-18,11-1,5 10,10 20-16zM1480,484l-1-22-6-6-19,7-5,15 27,7zM1495,455l-16,7 1,22 27,3 6-19zM1519,463l-6,5-6,19 1,1 27,8 10-12-2-20-6-3zM1573,482l-1-17-9-5-20,4 2,20 23,6zM1600,462l-21-1-7,4 1,17 32,6 3-4-1-13zM1608,484l22,3 14-9-1-4-19-13-17,10zM1385,519l17-7-3-18-10-10-18,5-13,25 3,3zM1419,478l-20,16 3,18 33,14 3-43-6-4zM1449,478l-11,5-3,43 0,1 21,3 5-2 4-1 11-42zM1480,484l-4,1-11,42 2-1 6-2 5-1 5-2 6-2 5-1 6-1 3,0 5-29-1-1zM1535,496l-27-8-5,29 3-1 6,0 6-1 7,0 6,0 6,1 7,0zM1570,521l-2-31-23-6-10,12 9,20 6,1 6,1 7,1 6,2zM1601,518l4-30-32-6-5,8 2,31 2,0 4,1 6,2 6,2 2,1zM1633,519l-3-32-22-3-3,4-4,30zM1654,514l8-26-18-10-14,9 3,32 10,5zM1682,520l13-13 0-5-13-12-20-2-8,26zM1695,502l0,5 16,16 20-11-5-12-23-3zM1278,523l-6,3 1,15 6,2 1,0 3-16zM1324,540l13-25-6-4-17,1-7,16 16,12zM1332,551l30-15-1-19-3-3-6-1-15,2-13,25zM1385,519l-24-2 1,19 6,16 6-1 7-2 7-2 3-1zM1435,527l0-1-33-14-17,7 6,27 4-1 7-2 8-2 8-2 8-2 4-1zM1633,519l-32-1-11,9 4,1 6,2 5,2 5,2 5,3 5,2 4,3 5,2 5,3 5,3 5,3 6,4-7-33zM1650,557l1,1 32-17-1-21-28-6-11,10zM1699,545l12-11 0-11-16-16-13,13 1,21zM1711,534l21,10 8-6 5-20-14-6-20,11zM1767,553l0-44-4,0-18,9-5,20zM1304,564l-9-13-16,7 5,16 13,11 4-3 3-2zM1304,580l3-2 6-3 7-4 7-3 6-3 3-1-4-13-8-11-1,0-6,4-13,20zM1362,536l-30,15 4,13 4-2 7-3 6-2 7-2 7-2 1-1zM1702,578l5-4-8-29-16-4-32,17 5,3 5,4 6,4 6,4 5,3 6,3 6,2 1,1zM1699,545l8,29 2,0 20-4 3-26-21-10zM1729,570l38-4 0-13-27-15-8,6zM1284,574l-15-1 0,16 24-1 2-2 2-1zM1742,598l-13-28-20,4 9,15 5,2 4,2 4,3 3,2 3,3 1,1zM1729,570l13,28 25,0 0-32z" stroke-width="1.9"/><path d="M1389.5,481.6l7.8,0M1408.7,485.9l-4.2,-4.1M1413.3,473.2l-7.9,6.7M1479.4,473l-6.7,0.6M1475.9,459.4l-4.3,6.9M1463.4,459.5l1.1,6.2M1451.3,470.1l5.5,-1M1486.9,458.6l2.7,6.5M1510.3,477.7l-8.6,-3.8M1510.3,477.7l5.2,1.2M1507.5,487.9l5.4,-2.9M1521.2,492.2l1.6,-5.8M1543.8,474.1l-7.6,2.7M1528.1,462.2l-0.4,8M1552.7,462.2l1.7,8.1M1570.9,486.1l-7.3,-8.6M1589.4,461.6l-0.8,5.5M1575.4,462.7l8.1,6.7M1572.7,473.3l7.6,0.6M1606.1,485.5l-4.8,-5M1618.7,485.2l4.3,-5.6M1636.7,482.4l-7.6,-3.9M1643.2,475.9l-9.6,-1.1M1615.6,466.3l5.7,5M1607.4,477.4l6.3,0.7M1380.1,486.6l0.3,9M1364.4,501.3l5.1,1.2M1359.3,515.6l6.8,-3.3M1408.7,485.9l6.4,6.7M1400.3,502.6l9.4,0.1M1418.5,519l-0.4,-7.1M1425.5,478.4l0.4,8.5M1443.3,480.3l4.6,6.6M1435.2,526.8l4.7,-5M1458.4,529l-1.1,-8.6M1463.3,527.5l-3.6,-6.8M1470.8,506.2l-4.1,-1.3M1478,484.5l3.1,4.6M1466.3,526.6l5.4,-6.6M1475.4,523.5l1.5,-6.6M1480.8,521.7l1.7,-9.3M1486.1,520.1l1.9,-4.8M1491.5,518.6l-0.6,-9.9M1497.1,517.5l-3.7,-5.7M1501.7,516.8l-3.5,-4.5M1505.6,502.5l-7.9,1.5M1493.5,485.5l-1.4,8.4M1521.2,492.2l-0.5,7.8M1505.6,502.5l6.5,0.3M1504.7,516.4l5.9,-3.7M1515.3,515.6l4.9,-6.2M1534.2,515.6l-6.5,-2.4M1540.5,516l-5.7,-3.1M1543.9,516.3l-4.6,-2.6M1539.4,506.2l-5.7,-0.9M1539.4,506.2l8.5,-3M1547.1,516.7l2.9,-6.5M1553.2,517.5l-1.3,-8.1M1559.5,518.6l-1.1,-7.1M1566,519.9l-4.5,-4.6M1569.3,520.6l-3.3,-5.5M1569.5,520.6l-4.3,-4.3M1570.9,486.1l5.9,5.6M1569.1,505.4l9.8,-2.1M1573.6,521.7l2.8,-3.3M1578.9,523.1l1.2,-6.5M1585.2,525l1.8,-9.5M1616.9,518.4l1.4,-8.6M1658,500.9l-10.2,-1.1M1652.9,482.9l-2.3,5M1636.7,482.4l4.7,8M1631.2,502.8l8.4,-3.5M1648.6,518.7l-0.9,-5.6M1695.3,504.4l-5.6,-1M1688.5,495.9l-5.3,5.1M1662.3,488l6.8,5.2M1667.8,517.1l3.7,-4.9M1714.8,498.6l-0.1,8.6M1699.2,499.4l6.6,1.9M1275.2,524.7l2.8,7.1M1279.4,542.9l-3.5,-9.5M1334,513.2l-6,5.6M1322.4,511.5l-0.2,5.1M1310.8,520l4.2,3.4M1315.4,534.2l2.5,-4.4M1354.9,513.3l-2.6,8.6M1330.8,527.8l10.3,0.8M1328.2,545.6l6.2,-8.1M1361.3,526.8l6.2,2.7M1364.6,544.4l5.7,-4.9M1370.7,551.6l-0.3,-7.6M1384.3,547.9l-4.7,-2.7M1387.9,532.4l-7.3,-0.8M1435.2,526.8l-7.3,-0.4M1418.5,519l-5.6,5.6M1393.4,515.1l7.4,7.4M1393,545.5l6.2,-5.4M1398.7,544l4.1,-6.5M1406.2,542l-0.2,-7.9M1413.9,540.1l-5.4,-8.2M1616.9,518.4l3,3.8M1592.3,527.3l9.5,0.4M1597.1,529l4.4,1.3M1602.7,531.1l9.4,2.1M1617.5,537.8l4.4,-5.9M1622.1,540.3l0.7,-5.6M1626.8,542.9l0.4,-7.9M1631.5,545.6l-3.8,-7.4M1647.1,555.1l-4.6,-7.8M1649.9,557l-5.4,-7.4M1638,521.1l-7.6,7.2M1650.7,557.5l3.8,-9.2M1667.2,549.4l-0.9,-6.9M1648.6,518.7l5.6,4.1M1703.1,514.9l-3.1,5.8M1688.6,513.6l4.3,5M1682.3,530.6l5.7,-2.3M1691,542.8l1.6,-4.4M1742.3,527.8l-6.6,-1.3M1737.7,515.1l-3.6,3.7M1710.7,528.3l8.6,0M1767,531l-8.6,-0.1M1764.9,509l-0.9,5.6M1753.7,513.5l0.8,7.6M1753.5,545.5l0.8,-8.1M1287.1,554.4l0.8,4.7M1290.5,579.2l1.7,-4.9M1302.5,581.1l-3.1,-4.9M1303.9,572.1l-3.5,-3.1M1310.3,576.5l3.9,-2.5M1316.7,573l-0.4,-6.8M1323.3,569.6l-2.4,-7M1334.6,564.4l-8.9,-4.2M1334,557.4l-7.5,0.5M1328.2,545.6l-2.1,6.2M1323.7,540.3l-3,4.7M1320.4,542l1.5,5M1303.9,572.1l2.7,-3.5M1337.9,562.9l5.8,-6.4M1343.3,560.7l4.2,-6M1349.9,558.1l-1.8,-7.2M1363.5,553.7l-6.3,-1.4M1367.2,552.6l-8.6,-2.5M1364.6,544.4l-5.3,0.7M1704.3,576.2l-5,-6.1M1691,542.8l-1.4,6.1M1653.5,559.5l10.3,0.6M1664.1,566.9l5.8,-3.1M1669.9,570.7l6.2,-3.9M1675.6,574.3l4.9,-5.5M1681.2,577.5l-0.6,-6M1686.8,580.2l-3,-9.5M1703,559.6l7.4,-4M1708,574.2l3.7,-5.9M1721.3,538.5l-2.8,7.2M1704.8,539.3l2.8,4.5M1748.1,567.7l-0.7,-11.5M1767,559.4l-7.8,-2.2M1753.5,545.5l-5.1,7.6M1735.9,540.6l4,4.8M1730.4,556.6l9.8,0.3M1276.5,573.3l1.5,7.9M1294.2,586.8l-6.8,-3.4M1296,585.4l-7.3,-0.2M1290.5,579.2l-6.1,-0.2M1713.4,581.7l9.4,0.3M1720.2,590l4.8,-7.5M1724.8,591.9l3.5,-9.4M1732.6,596.9l-1.9,-6M1735.8,599.8l-6.3,-6.8M1737.8,601.9l-4,-4.5M1735.8,583.9l6.7,0.9M1754.7,597.9l-0.5,-7.8M1767,581.7l-4.6,-1.1M1748.1,567.7l2.1,8.7" stroke-width="1.8"/><path d="M1281,476l13,15 1-9-9-19-7,2zM1293,461l7,18 16,5-6-27zM1322,483l14-6-9-25-11,3zM1348,443l-15,6 10,27 14-6zM1354,440l9,29 13-8-10-27zM1372,432l11,28 2,1 10-7-11-27zM1390,426l12,27 3,1 8-5-5-28zM1414,420l5,28 8,3 8-7-7-28zM1435,415l6,28 7,3 8-8-10-26zM1453,411l9,26 9,2 4-3-1-29zM1482,435l11,3 5-4-4-29-13,1zM1504,433l11,3 3-4-2-28-15,1zM1523,403l2,28 13,2 1-30zM1545,403l-1,30 13,1 3-30zM1567,405l-3,28 16,0 0-28zM1586,406l1,28 11,2 10-27zM1615,410l-11,29 2,3 14-2 5-27zM1631,415l-5,28 2,2 12,0 7-26zM1653,421l-7,26 4,5 8-2 11-25zM1665,452l6,7 9-3 10-24-15-5zM1686,459l6,9 6-1 10-27-12-5zM1705,469l8,7 5-2 11-24-15-7zM1724,477l8,8 5-1 14-25-16-7zM1743,486l21,20 0-41-7-3zM1294,510l2-12-3,1zM1319,492l-10,7 5,9 12,0zM1338,512l10-2-8-28-15,7 8,20zM1361,476l-14,6 8,28 1,0 11-21zM1382,467l-1-1-14,8 6,11 13-3 1-3zM1400,459l-11,7 3,8 12-7-1-7zM1425,457l-9-3-7,5 2,7 9,9 8,0zM1438,479l8-4 4-12-3-11-8-3-8,7 4,21zM1456,459l14-5-1-9-8-2-8,7zM1479,441l-3,3 0,11 4,4 11-6-1-9zM1513,442l-11-3-5,4 1,10 15,11 2-2zM1537,439l-14-2-4,4 3,19 13-2zM1543,440l-2,19 2,2 16-3-2-18zM1563,439l3,19 6,3 4-2 4-19zM1601,446l-2-4-13-2-3,18 15,1zM1621,459l2-10-2-2-14,1-3,14 4,5zM1627,460l14,9 4-13-4-5-12,0zM1646,474l0,2 14,7 6-20-6-7-9,2zM1681,463l-9,2-5,20 13,1 7-14zM1700,473l-7,1-7,15 10,9 5-3 7-15zM1708,494l16,3 3-8-8-8-5,1zM1733,510l11,4 13-6-19-18-5,1-3,9zM1273,466l-9,2 0,25 10,0 0-16zM1280,495l8-1-8-9zM1312,489l-11-3-1,7 4,1zM1275,499l-11,1 0,8 10-1zM1281,501l0,9 7-1-1-8zM1301,510l6-1-5-8zM1271,523l4-2 0-7-11,0 0,9zM1294,517l-3-2-9,2 0,5 2,2 10,1zM1310,515l-10,2 0,8 5,0zM1269,538l0-9-5,0 0,10zM1293,539l0-7-8-1-1,8zM1299,531l0,8 19,1-12-9zM1275,554l1-9-4-1-8,1 0,9zM1282,546l0,7 10-4 0-3zM1298,545l1,5 5,8 8-12zM1276,560l-12,0 0,9 16,1zM1266,586l0-10-2,0 0,10zM1264,616l9-13 11-12-20,2z" fill="#fff" stroke-width="2.0"/><path d="M1504,557l2-3 0-2-1,1-4,0-3,1-4,1zM1506,554l17,4 13-6-1,0-5-1-5,0-5,0-5,1-5,0-4,0zM1564,565l9-6-1,0-6-2-5-1-5-2zM1450,575l5-2 1-6-6,2-1,0-7,1-1,0zM1455,573l11,4 13-10-1-6-6,1-1,1-6,2-1,0-7,2-1,0zM1479,567l8,7 16-2 1-15-10-2-4,2-6,1-5,2-1,1zM1503,572l6,6 9-4 5-16-17-4-2,3zM1535,580l5-7-4-21-13,6-5,16zM1536,552l4,21 16,3 8-10 0-1-8-11-1,0-5-1-5,0-5-1-4,0zM1588,564l-1,0-4-2-6-2-4-1-9,6 0,1 16,13 9-10zM1604,571l-1,0-4-2-4-2-3-2-4-1 1,5 8,4zM1404,580l-7,2-7,2-3,1 8,7 8-5zM1403,587l17,4 7-5 0-12-1,0-7,2-7,2-8,2zM1427,586l13,9 8-5 2-15-9-5-7,2-7,2zM1466,577l-11-4-5,2-2,15 9,2 10-5zM1486,593l1-19-8-7-13,10 1,10 13,11zM1509,592l0-14-6-6-16,2-1,19 16,1zM1534,590l1-10-17-6-9,4 0,14 8,5zM1560,592l1-2-5-14-16-3-5,7-1,10 8,8zM1564,566l-8,10 5,14 18-5 1-6zM1589,569l-9,10-1,6 8,9 10-2 0-19zM1597,573l0,19 8,3 12-6 2-9-3-2-5-3-4-2-3-2zM1617,589l7,8 13-5-2-2-5-3-5-3-5-3-1-1zM1333,606l26,6 0-19-5,2-6,3-6,3-6,2-4,2zM1359,612l2,9 23-11 1,0-20-19-6,2zM1387,585l-4,0-6,2-6,2-6,2 20,19 9-8 1-10zM1395,592l-1,10 11,6 12,0 3-17-17-4zM1441,605l-1-10-13-9-7,5-3,17 4,3zM1444,608l18,2-5-18-9-2-8,5 1,10zM1480,600l0-2-13-11-10,5 5,18 3,1zM1500,608l2-14-16-1-6,5 0,2 7,11zM1518,602l-1-5-8-5-7,2-2,14 6,8zM1518,602l12,17 4-1 8-15 0-5-8-8-17,7zM1567,605l-7-13-18,6 0,5 16,10zM1561,590l-1,2 7,13 8,3 8-5 4-9-8-9zM1587,594l-4,9 16,15 6-6 0-17-8-3zM1617,589l-12,6 0,17 11,2 11-8-3-9zM1624,597l3,9 11,7 12-12-3-2-6-4 0-1-4-2zM1700,615l10-11-2-4-8,0 0,14zM1721,609l6-4-3-5-16,0 2,4zM1315,627l8-2 6-18-4,2-4,3-5,3-3,3-2,2-3,2zM1345,623l-12-17-1-1-1,1-2,1-6,18 10,8zM1361,621l-2-9-26-6 12,17 15,2zM1360,626l12,8 19-2-7-22-23,11-1,4zM1404,628l1-20-11-6-9,8-1,0 7,22 4,3zM1421,611l-4-3-12,0-1,20 13-1 6-3zM1441,626l3-18-3-3-20,6 2,13 14,8zM1466,623l-1-12-3-1-18-2-3,18zM1477,628l12-3-2-14-7-11-15,11 1,12 2,3zM1493,627l13-7 0-4-6-8-13,3 2,14zM1506,620l14,7 10-8-12-17-12,14zM1558,613l-16-10-8,15 11,9 10-3zM1577,628l-2-20-8-3-9,8-3,11 10,6zM1596,627l3-9-16-15-8,5 2,20 2,1zM1622,631l-6-17-11-2-6,6-3,9 5,6zM1616,614l6,17 2,1 16-11-2-8-11-7zM1638,613l2,8 10,7 10-1 5-17-4-2-1-1-6-4-1,0-3-2zM1660,627l8,7 2,1 12-6-1-12-3-1-3-2-5-2-3-1-2-1zM1682,629l10,3 12-5-4-12 0-1 0,8-2-1-5-1-1,0-6-2-2-1-3,0zM1700,615l4,12 8,3 5-3 4-18-11-5zM1740,624l-3-20-10,1-6,4-4,18 15,1zM1737,604l3,20 12,4 3-1-2-2-2-4-3-3-2-3-2-3-3-3-2-3-2-2zM1308,622l0,1-3,4-4,5-3,4-3,5-1,1 0,2-1,2 0,2 0,2 0,1-1,0 20-11 3-13zM1335,645l-2-12-10-8-8,2-3,13 17,9zM1353,641l7-15 0-1-15-2-12,10 2,12 8,2zM1353,641l12,10 7-5 0-12-12-8zM1395,635l-4-3-19,2 0,12 13,9 10-10 1-4zM1417,627l-13,1-9,7 1,6 20,2zM1437,632l-14-8-6,3-1,16 10,9 11-19zM1460,640l8-14-2-3-25,3-4,6 0,1 16,10zM1475,651l5-5-3-18-9-2-8,14zM1480,646l16,0 3-2-6-17-4-2-12,3zM1499,644l12,3 8-7 1-13-14-7-13,7zM1545,627l-11-9-4,1-10,8-1,13 17,7 6-3zM1565,630l-10-6-10,3-3,17 7,4 12-5zM1579,629l-2-1-12,2-4,13 14,13 5-6zM1601,633l-5-6-17,2 1,21 17,0 4-6zM1616,649l9-12-1-5-2-1-21,2 0,11zM1638,650l7-8 5-14-10-7-16,11 1,5zM1660,627l-10,1-5,14 13,5 10-13zM1670,635l7,20 15-5 0-18-10-3zM1712,630l-8-3-12,5 0,18 2,1 20-8zM1733,647l-1-19-15-1-5,3 2,13 4,6zM1733,647l5,3 12-10 2-12-12-4-8,4zM1752,628l-2,12 15,15 0-14-1-2-2-2-2-3-2-3-2-3-1-1zM1307,663l19-7 3-7-17-9-20,11 0,2 0,2zM1332,670l16-12-5-11-8-2-6,4-3,7zM1348,658l3,2 12-1 2-8-12-10-10,6zM1365,651l-2,8 11,11 10-13 1-2-13-9zM1395,645l-10,10-1,2 16,12 11-5zM1426,655l0-3-10-9-20-2-1,4 16,19zM1451,659l2-16-16-10-11,19 0,3 12,10zM1458,663l15-1 2-11-15-11-7,3-2,16zM1481,670l10-4 5-20-16,0-5,5-2,11zM1491,666l14,4 8-15-2-8-12-3-3,2zM1536,647l-17-7-8,7 2,8 13,8 6,0zM1542,644l-6,3-4,16 6,7 17-4-6-18zM1549,648l6,18 2,1 17-8 1-3-14-13zM1580,650l-5,6-1,3 11,14 16-12-4-11zM1597,650l4,11 7,3 10-6-2-9-15-5zM1618,658l14,4 6-3 0-9-13-13-9,12zM1658,658l0-11-13-5-7,8 0,9 6,3zM1677,655l-7-20-2-1-10,13 0,11 13,4 3-2zM1694,671l6-10-6-10-2-1-15,5-3,5zM1714,643l-20,8 6,10 14,0 2-2 2-10zM1716,659l22,8 4-3-4-14-5-3-15,2zM1750,640l-12,10 4,14 9,2 14-10 0-1zM1317,682l-10-19-15-8-1,3 0,2-1,2 0,1 0,1 1,2 1,4 1,4 1,4 2,5 2,4 0,1zM1307,663l10,19 7,3 8-4 0-11-6-14zM1332,681l19-5 0-16-3-2-16,12zM1351,660l0,16 16,8 7-5 0-1 0-8-11-11zM1384,657l-10,13 0,8 21-1 5-8zM1411,664l-11,5-5,8 10,15 10-15-4-13zM1415,677l11,3 11-6 1-9-12-10-15,9zM1437,674l9,12 12-6 0-17-7-4-13,6zM1458,680l13,5 10-14 0-1-8-8-15,1zM1495,689l15-8 1,0-6-11-14-4-10,4 0,1zM1526,663l-13-8-8,15 6,11 4-1zM1538,670l-6-7-6,0-11,17 16,6 4-6zM1557,667l-2-1-17,4-3,10 22,6 3-5zM1585,673l-11-14-17,8 3,14 20,3 6-4zM1586,680l25,0-3-16-7-3-16,12 1,7zM1611,680l1,2 12-1 8-19-14-4-10,6zM1632,688l17-7-5-19-6-3-6,3-8,19zM1658,658l-14,4 5,19 10,5 10-5 2-19zM1671,662l-2,19 3,1 22-2 0-9-20-11zM1694,680l6,5 16-7-2-17-14,0-6,10zM1714,661l2,17 7,3 8-1 7-13-22-8zM1742,693l13-14-4-13-9-2-4,3-7,13zM1751,666l4,13 10,4 0-27zM1298,688l2,3 1,4 3,3 2,4 4,5 2,2 11-15 1-9-7-3zM1324,685l-1,9 11,10 14-7-16-16zM1332,681l16,16 9,3 6-4 4-12-16-8-19,5zM1392,700l-18-21-7,5-4,12 7,7 21-2zM1395,677l-21,1 0,1 18,21 13-6 0-2zM1405,692l0,2 11,9 9-3 1-20-11-3zM1426,680l-1,20 13,3 7-5 1-12-9-12zM1446,686l-1,12 9,4 18-6-1-11-13-5zM1472,696l6,5 16-9 1-3-14-18-10,14zM1503,705l11-4-4-20-15,8-1,3zM1531,686l-16-6-4,1-1,0 4,20 2,1 17-8zM1535,680l-4,6 2,8 8,8 15-10 1-6zM1560,681l-3,5-1,6 11,9 8-3 5-14zM1580,684l-5,14 11,8 11-5-11-21zM1597,701l7,2 3-2 5-19-1-2-25,0zM1612,682l-5,19 20,6 5-7 0-12-8-7zM1645,703l13-9 1-8-10-5-17,7 0,12zM1659,686l-1,8 9,18 4,1 9-15-8-16-3-1zM1680,698l12,1 8-8 0-6-6-5-22,2zM1700,685l0,6 14,13 5-3 4-20-7-3zM1723,681l-4,20 16,3 7-8 0-3-11-13zM1755,679l-13,14 0,3 13,6 10-1 0-18zM1336,713l-2-9-11-10-11,15 1,2 4,6 4,4zM1334,704l2,9 13,5 1-1 7-17-9-3zM1363,696l-6,4-7,17 13,9 11-13-4-10zM1370,703l4,10 16,6 1-18zM1405,694l-13,6-1,1-1,18 16,1 6-4 4-13zM1438,703l-13-3-9,3-4,13 15,14 11-13zM1438,703l0,14 15,9 7-8-6-16-9-4zM1454,702l6,16 10,1 10-4-2-14-6-5zM1478,701l2,14 10,7 8-3 5-14-9-13zM1498,719l17,5 8-5-7-17-2-1-11,4zM1533,694l-17,8 7,17 9,1 9-8 0-10zM1541,702l0,10 8,3 16-1 2-13-11-9zM1567,701l-2,13 6,7 11-1 4-14-11-8zM1582,720l12,10 10-9 0-18-7-2-11,5zM1607,701l-3,2 0,18 14,4 10-11-1-7zM1628,714l10,6 10-6-3-11-13-3-5,7zM1658,717l9-5-9-18-13,9 3,11zM1692,699l-12-1-9,15 2,2 20,1zM1700,691l-8,8 1,17 4,3 15-8 2-7zM1714,704l-2,7 7,8 16-5 0-10-16-3zM1735,714l6,9 9-2 5-19-13-6-7,8zM1755,702l-5,19 15,5 0-25zM1342,731l7-13-13-5-15,8 1,1 4,5 4,6 1,1zM1342,731l12,15 14-10-5-10-13-9-1,1zM1374,713l-11,13 5,10 4,2 15-10 3-9zM1390,719l-3,9 12,14 8-3-1-19zM1406,720l1,19 10,2 10-9 0-2-15-14zM1438,717l-11,13 0,2 12,10 14-9 0-7zM1453,733l8,6 7-4 2-16-10-1-7,8zM1468,735l16,2 5-5 1-10-10-7-10,4zM1501,741l13-2 1-15-17-5-8,3-1,10zM1523,746l13-13-4-13-9-1-8,5-1,15 6,6zM1549,715l-8-3-9,8 4,13 9,6 11-3zM1549,715l7,21 7,3 8-18-6-7zM1571,721l-8,18 3,4 17-1 11-12-12-10zM1594,730l9,12 17-10-2-7-14-4-10,9zM1618,725l2,7 6,7 15-7-3-12-10-6zM1641,732l10,4 2,0 5-19-10-3-10,6zM1653,736l16,5 5-3-1-23-2-2-4-1-9,5zM1673,715l1,23 9,1 14-11 0-9-4-3zM1697,719l0,9 12,9 11-2-1-16-7-8zM1720,735l5,2 14-8 2-6-6-9-16,5zM1741,723l-2,6 13,17 13-8 0-12-15-5zM1352,749l2-3-12-15-11,3 3,4 4,5 4,5 4,5 1,0zM1381,754l-9-16-4-2-14,10-2,3 13,14zM1394,754l5-12-12-14-15,10 9,16 5,3zM1408,763l10-9-1-13-10-2-8,3-5,12zM1439,742l-12-10-10,9 1,13 10,3 12-6zM1439,742l1,9 4,4 19-4-2-12-8-6zM1461,739l2,12 6,5 12-6 3-13-16-2zM1481,750l7,5 12,0 1-14-12-9-5,5zM1500,755l7,5 13-15-6-6-13,2zM1530,755l11,0 4-16-9-6-13,13zM1563,739l-7-3-11,3-4,16 11,9 13-11 1-10zM1565,753l10,8 13-8-5-11-17,1zM1596,757l8-8-1-7-9-12-11,12 5,11zM1603,742l1,7 11,4 10-4 1-10-6-7zM1641,732l-15,7-1,10 7,5 15-5 4-13zM1651,736l-4,13 11,18 1,0 10-18 0-8-16-5zM1669,749l16,13 7-8-9-15-9-1-5,3zM1701,754l2-2 6-15-12-9-14,11 9,15zM1720,735l-11,2-6,15 21,3 4-6-3-12zM1725,737l3,12 16,5 7-4 1-4-13-17zM1752,746l-1,4 14,15 0-27zM1352,749l-5,4 3,5 4,4 4,4 2,3 4-2 1-4zM1381,754l-16,9-1,4 8,10 14-9 0-11zM1386,768l9,13 13-18-14-9-8,3zM1428,757l-10-3-10,9 10,13 11-3zM1447,770l-3-15-4-4-12,6 1,16 9,4zM1468,767l1-11-6-5-19,4 3,15 9,3zM1479,777l10-6-1-16-7-5-12,6-1,11zM1489,771l15,1 4-6-1-6-7-5-12,0zM1524,770l6-15-7-9-3-1-13,15 1,6zM1541,778l11-14-11-9-11,0-6,15 3,5zM1552,764l12,13 15-7-4-9-10-8zM1579,770l6,5 11-7 0-11-8-4-13,8zM1615,753l-11-4-8,8 0,11 15,7 3-3zM1634,770l-2-16-7-5-10,4-1,19 16,2zM1632,754l2,16 16,1 8-4-11-18zM1659,767l4,3 21-4 1-4-16-13zM1684,766l3,6 5-3 6-3 2-1 0,6 7-2-6-15-9,0-7,8zM1724,755l-21-3-2,2 6,15 1,1 15-2zM1744,754l-16-5-4,6-1,13 15,15 2-1zM1751,750l-7,4-4,28 6-4 6-4 6-4 4-3 3-1 0-1zM1364,767l-4,2 1,1 4,4 4,4 2,2 1-3zM1372,777l-1,3 1,1 4,4 4,3 4,4 3,2 8-5 0-8-9-13zM1408,763l-13,18 0,8 13,4 5-3 5-14zM1438,777l-9-4-11,3-5,14 10,4 15-6zM1447,770l-9,7 0,11 6,6 14-6-2-15zM1458,788l13,8 9-6-1-13-11-10-12,6zM1480,790l6,2 18-4 0-16-15-1-10,6zM1527,775l-3-5-16-4-4,6 0,16 8,6 6-1zM1531,798l12-15-2-5-14-3-9,18zM1550,789l13-3 1-9-12-13-11,14 2,5zM1579,770l-15,7-1,9 8,7 14-11 0-7zM1611,775l-15-7-11,7 0,7 11,11 13-8zM1632,794l-2-20-16-2-3,3-2,10 8,9zM1632,795l2-1 4-2 4-1 5-2 3-18-16-1-4,4 2,20zM1650,771l-3,18 5-2 6-3 7-3 2,0-4-11-4-3-1,0zM1663,770l4,11 4-3 7-3 7-3 2,0-3-6zM1708,770l-1-1-7,2 0,19 7,0zM1708,770l-1,20 19,0 1,0 6-4 5-3-15-15zM1408,793l-13-4-8,5 2,2 4,3 4,4 5,4 5,3 2,2zM1413,790l-5,3 1,19 2,2 3,2 17-5-8-17zM1423,794l8,17 6,2 7-7 0-12-6-6zM1444,794l0,12 19,4 6-5 2-9-13-8zM1469,805l12,11 12-7-7-17-6-2-9,6zM1504,788l-18,4 7,17 6,2 11-5 2-12zM1512,794l-2,12 9,13 16-13-4-8-13-5zM1545,810l5-5 0-16-7-6-12,15 4,8zM1571,805l0-12-8-7-13,3 0,16zM1596,793l-11-11-14,11 0,12 1,0 12,3 11-3zM1617,794l-8-9-13,8-1,12 4,3 4-1 5-2 0-1 5-2zM1613,802l1,0 5-2 5-2 1-1 4-1 3-1 0-1-15,0zM1438,819l-1-6-6-2-17,5 2,1 5,4 4,3 5,3 1,1zM1437,813l1,6 7,7 16-2 2-14-19-4zM1463,810l-2,14 7,10 14-12-1-6-12-11zM1482,822l11,6 5-4 1-13-6-2-12,7zM1499,811l-1,13 19,4 3-2-1-7-9-13zM1519,819l1,7 15,5 11-10-1-11-10-4zM1572,805l-1,0-21,0-5,5 1,11 13,7 5-2 3-2zM1584,808l-12-3-5,19 3-1 6-3 5-3 3-1zM1595,805l-11,3 0,8 3-1 5-3 5-3 1,0 1-1zM1431,828l4,2 5,3 4,3 1-10-7-7zM1445,826l-1,10 4,3 4,2 4,2 4,1 4,2 4,1 1-1-1-12-7-10zM1468,834l1,12 25-5-1-13-11-6zM1498,824l-5,4 1,13 5,4 14-5 4-12zM1535,831l-15-5-3,2-4,12 7,8 2-1 4-2 6-3 5-2zM1546,821l-11,10 2,9 0-1 7-3 6-3 7-4 2-1zM1468,847l5,2 6,1 6,1 6,1 5,1 4,0-1-8-5-4-25,5zM1499,845l1,8 1,0 4,0 2,0 1,0 1,0 1-1 3-1 4-2 3-1-7-8z" stroke-width="2.5"/></g><g fill="#000"><circle cx="1523.1" cy="551.2" r="2.2"/><circle cx="1520.9" cy="551.7" r="2.2"/><circle cx="1524" cy="555.3" r="2.2"/><circle cx="1523.5" cy="552.5" r="2.2"/><circle cx="1496.9" cy="568" r="2.2"/><circle cx="1488" cy="563.7" r="2.2"/><circle cx="1487.8" cy="560.2" r="2.2"/><circle cx="1493" cy="567.5" r="2.2"/><circle cx="1578.9" cy="567.7" r="2.2"/><circle cx="1573.5" cy="565.2" r="2.2"/><circle cx="1573.9" cy="572.1" r="2.2"/><circle cx="1575.4" cy="572.6" r="2.2"/><circle cx="1346.3" cy="619.5" r="2.2"/><circle cx="1348.7" cy="611.3" r="2.2"/><circle cx="1350.1" cy="613.3" r="2.2"/><circle cx="1353.1" cy="618.1" r="2.2"/><circle cx="1374.7" cy="619.5" r="2.2"/><circle cx="1374.5" cy="626.6" r="2.2"/><circle cx="1379.8" cy="627.5" r="2.2"/><circle cx="1376.2" cy="624.3" r="2.2"/><circle cx="1569.7" cy="619.3" r="2.2"/><circle cx="1562.9" cy="623.6" r="2.2"/><circle cx="1570.4" cy="619.9" r="2.2"/><circle cx="1562.7" cy="622.4" r="2.2"/><circle cx="1590" cy="620.5" r="2.2"/><circle cx="1588.3" cy="621.9" r="2.2"/><circle cx="1586.9" cy="616.6" r="2.2"/><circle cx="1584.7" cy="616.8" r="2.2"/><circle cx="1715.1" cy="614.6" r="2.2"/><circle cx="1709.1" cy="619.5" r="2.2"/><circle cx="1710.9" cy="615.7" r="2.2"/><circle cx="1706.9" cy="619.3" r="2.2"/><circle cx="1693" cy="662" r="2.2"/><circle cx="1684.1" cy="657.5" r="2.2"/><circle cx="1685.9" cy="658.8" r="2.2"/><circle cx="1685.5" cy="656.2" r="2.2"/><circle cx="1297.5" cy="667.7" r="2.2"/><circle cx="1306.8" cy="674.5" r="2.2"/><circle cx="1299.3" cy="676.5" r="2.2"/><circle cx="1297.1" cy="677" r="2.2"/><circle cx="1318.5" cy="666.2" r="2.2"/><circle cx="1324.3" cy="667.7" r="2.2"/><circle cx="1320.5" cy="669.2" r="2.2"/><circle cx="1322.4" cy="673.7" r="2.2"/><circle cx="1387.8" cy="669.2" r="2.2"/><circle cx="1386" cy="665.9" r="2.2"/><circle cx="1383.5" cy="673.9" r="2.2"/><circle cx="1390.6" cy="668.1" r="2.2"/><circle cx="1742.6" cy="673.7" r="2.2"/><circle cx="1742.1" cy="677.2" r="2.2"/><circle cx="1741.9" cy="679.9" r="2.2"/><circle cx="1746.3" cy="677.1" r="2.2"/><circle cx="1388.8" cy="684.1" r="2.2"/><circle cx="1391.2" cy="682.3" r="2.2"/><circle cx="1393.7" cy="689.7" r="2.2"/><circle cx="1390.7" cy="691.2" r="2.2"/><circle cx="1687.8" cy="710.3" r="2.2"/><circle cx="1683.9" cy="708.4" r="2.2"/><circle cx="1681.9" cy="711" r="2.2"/><circle cx="1681.1" cy="709.8" r="2.2"/><circle cx="1696.9" cy="710" r="2.2"/><circle cx="1696.6" cy="701.5" r="2.2"/><circle cx="1704" cy="706.1" r="2.2"/><circle cx="1697.9" cy="709.4" r="2.2"/><circle cx="1756.8" cy="728.1" r="2.2"/><circle cx="1753" cy="726.9" r="2.2"/><circle cx="1755.7" cy="735.4" r="2.2"/><circle cx="1757.1" cy="729.4" r="2.2"/><circle cx="1557.9" cy="743.9" r="2.2"/><circle cx="1554.8" cy="750.7" r="2.2"/><circle cx="1558.1" cy="750.5" r="2.2"/><circle cx="1558.5" cy="753.6" r="2.2"/><circle cx="1614.1" cy="739.1" r="2.2"/><circle cx="1616.2" cy="742.2" r="2.2"/><circle cx="1619.8" cy="747.2" r="2.2"/><circle cx="1616" cy="739.8" r="2.2"/><circle cx="1718.6" cy="743.3" r="2.2"/><circle cx="1712" cy="743.1" r="2.2"/><circle cx="1716.3" cy="742.1" r="2.2"/><circle cx="1719" cy="747" r="2.2"/><circle cx="1690.7" cy="766.9" r="2.2"/><circle cx="1697.1" cy="760.6" r="2.2"/><circle cx="1699.6" cy="765.4" r="2.2"/><circle cx="1698.5" cy="761.7" r="2.2"/><circle cx="1732.6" cy="768.4" r="2.2"/><circle cx="1738.5" cy="759.9" r="2.2"/><circle cx="1731.3" cy="761.6" r="2.2"/><circle cx="1737.3" cy="763.6" r="2.2"/><circle cx="1422.3" cy="805.6" r="2.2"/><circle cx="1418.5" cy="805.6" r="2.2"/><circle cx="1419.8" cy="801.1" r="2.2"/><circle cx="1413.1" cy="808.4" r="2.2"/><circle cx="1524.8" cy="806.3" r="2.2"/><circle cx="1520.6" cy="800.4" r="2.2"/><circle cx="1523.9" cy="799.6" r="2.2"/><circle cx="1523.8" cy="808.8" r="2.2"/></g><path d="M1261,466l5-1 7-2 8-2 9-2 9-3 9-2 9-3 8-2 7-3 6-2 7-3 6-3 6-3 6-3 6-3 6-2 6-2 7-2 6-2 6-1 6-2 6-1 7-2 6-1 6-1 7-2 6-1 6-2 6-1 6-1 7-1 6-1 6-1 7-1 6,0 7-1 6,0 7,0 5-1 6,0 5,0 5,0 4,0 4,0 4,0 4,0 4,1 5,0 5,0 5,0 5,1 5,0 5,0 5,1 5,0 5,1 5,1 4,1 4,1 5,1 4,1 5,1 4,2 5,1 5,1 6,2 5,1 6,2 6,1 6,2 5,1 5,2 4,1 4,2 3,1 3,2 4,1 4,2 4,2 5,2 7,3 7,3 9,4 9,4 9,4 8,4 6,3 5,2-6,14-5-3-7-3-8-3-8-4-9-4-9-4-8-3-6-3-5-3-5-2-3-1-4-2-2-1-3-1-4-1-4-2-4-1-5-2-6-1-6-2-5-1-6-2-6-1-5-1-5-2-5-1-4-1-4-2-4-1-4-1-4,0-4-1-5-1-4,0-5-1-5,0-5,0-5-1-5,0-5,0-4,0-5-1-4,0-3,0-4,0-4,0-5,0-5,0-5,0-6,0-6,1-6,0-6,1-7,0-6,1-6,1-6,1-6,1-6,1-6,1-6,1-6,2-6,1-7,2-6,1-6,1-6,2-6,1-6,2-6,1-6,2-6,2-5,2-6,3-6,2-6,3-6,3-6,3-8,3-7,3-8,3-9,2-10,3-9,2-9,3-9,2-6,1-5,2z" fill="#0a0a0a" stroke="#000" stroke-width="2"/><path d="M1278.4,469.4m-1.6,0a1.6,1.6 0 1,0 3.2,0a1.6,1.6 0 1,0 -3.2,0M1293.9,465.6m-1.6,0a1.6,1.6 0 1,0 3.2,0a1.6,1.6 0 1,0 -3.2,0M1309.4,461.5m-1.6,0a1.6,1.6 0 1,0 3.2,0a1.6,1.6 0 1,0 -3.2,0M1324.7,457m-1.6,0a1.6,1.6 0 1,0 3.2,0a1.6,1.6 0 1,0 -3.2,0M1339.7,451.3m-1.6,0a1.6,1.6 0 1,0 3.2,0a1.6,1.6 0 1,0 -3.2,0M1354.2,444.5m-1.6,0a1.6,1.6 0 1,0 3.2,0a1.6,1.6 0 1,0 -3.2,0M1368.6,437.6m-1.6,0a1.6,1.6 0 1,0 3.2,0a1.6,1.6 0 1,0 -3.2,0M1383.6,432.1m-1.6,0a1.6,1.6 0 1,0 3.2,0a1.6,1.6 0 1,0 -3.2,0M1399,427.7m-1.6,0a1.6,1.6 0 1,0 3.2,0a1.6,1.6 0 1,0 -3.2,0M1414.6,424.1m-1.6,0a1.6,1.6 0 1,0 3.2,0a1.6,1.6 0 1,0 -3.2,0M1430.2,420.5m-1.6,0a1.6,1.6 0 1,0 3.2,0a1.6,1.6 0 1,0 -3.2,0M1445.8,417m-1.6,0a1.6,1.6 0 1,0 3.2,0a1.6,1.6 0 1,0 -3.2,0M1461.5,413.8m-1.6,0a1.6,1.6 0 1,0 3.2,0a1.6,1.6 0 1,0 -3.2,0M1477.3,411.3m-1.6,0a1.6,1.6 0 1,0 3.2,0a1.6,1.6 0 1,0 -3.2,0M1493.2,409.5m-1.6,0a1.6,1.6 0 1,0 3.2,0a1.6,1.6 0 1,0 -3.2,0M1509.1,408.3m-1.6,0a1.6,1.6 0 1,0 3.2,0a1.6,1.6 0 1,0 -3.2,0M1525.1,407.5m-1.6,0a1.6,1.6 0 1,0 3.2,0a1.6,1.6 0 1,0 -3.2,0M1541.1,407.5m-1.6,0a1.6,1.6 0 1,0 3.2,0a1.6,1.6 0 1,0 -3.2,0M1557.1,408.3m-1.6,0a1.6,1.6 0 1,0 3.2,0a1.6,1.6 0 1,0 -3.2,0M1573,409.1m-1.6,0a1.6,1.6 0 1,0 3.2,0a1.6,1.6 0 1,0 -3.2,0M1589,410.2m-1.6,0a1.6,1.6 0 1,0 3.2,0a1.6,1.6 0 1,0 -3.2,0M1604.8,412.5m-1.6,0a1.6,1.6 0 1,0 3.2,0a1.6,1.6 0 1,0 -3.2,0M1620.3,416.4m-1.6,0a1.6,1.6 0 1,0 3.2,0a1.6,1.6 0 1,0 -3.2,0M1635.8,420.7m-1.6,0a1.6,1.6 0 1,0 3.2,0a1.6,1.6 0 1,0 -3.2,0M1651.3,424.7m-1.6,0a1.6,1.6 0 1,0 3.2,0a1.6,1.6 0 1,0 -3.2,0M1666.7,428.8m-1.6,0a1.6,1.6 0 1,0 3.2,0a1.6,1.6 0 1,0 -3.2,0M1682,433.6m-1.6,0a1.6,1.6 0 1,0 3.2,0a1.6,1.6 0 1,0 -3.2,0M1696.7,439.8m-1.6,0a1.6,1.6 0 1,0 3.2,0a1.6,1.6 0 1,0 -3.2,0M1711.3,446.3m-1.6,0a1.6,1.6 0 1,0 3.2,0a1.6,1.6 0 1,0 -3.2,0M1725.9,452.9m-1.6,0a1.6,1.6 0 1,0 3.2,0a1.6,1.6 0 1,0 -3.2,0M1740.5,459.4m-1.6,0a1.6,1.6 0 1,0 3.2,0a1.6,1.6 0 1,0 -3.2,0M1755.1,466m-1.6,0a1.6,1.6 0 1,0 3.2,0a1.6,1.6 0 1,0 -3.2,0" fill="#fff"/><path d="M1372,428 C1360,440 1358,458 1368,466 L1376,464 C1370,452 1374,440 1378,430Z M1384,424 L1400,420 C1404,440 1402,456 1392,460 L1386,460 C1388,446 1388,436 1384,424Z" fill="#fff" stroke="#000" stroke-width="2.2"/><path d="M1380,430 L1381,480" stroke="#000" stroke-width="1.6"/><rect x="1765" y="486" width="30" height="300" fill="#fff"/><g fill="#000"><circle cx="1590" cy="970" r="1.8"/><circle cx="1498" cy="868" r="1.2"/><circle cx="1773" cy="863" r="1.5"/><circle cx="1610" cy="75" r="1"/><circle cx="1998" cy="892" r="1"/></g><path d="M1335,630l60-28 50-12 65-5 2,55-7,100-60,17-50-5-50-12-18-55z" fill="#fff" stroke="#000" stroke-width="2"/><path d="M1474,663l0-3-4,0-5,2 3,4zM1474,663l4,4 4-2-1-6-7,1zM1488,658l-7,1 1,6 2,0 5-2zM1489,663l3,2 5-3 0-4-9,0zM1497,662l4,3 9-3 1-5-14,1zM1461,663l-11,5 7,5 4-2zM1461,671l5,1 2-1 0-5-3-4-4,1zM1477,670l1-3-4-4-6,3 0,5 6,1zM1481,673l6-1-3-7-2,0-4,2-1,3zM1492,669l0-4-3-2-5,2 3,7 0,1zM1501,665l-4-3-5,3 0,4 5,4 4-3zM1501,665l0,5 4,2 5-3 0-7zM1438,682l4-4-1-6-9,3zM1448,678l2-10-9,4 1,6 5,1zM1450,668l-2,10 7,2 2-2 0-5zM1457,673l0,5 5,3 4-3 0-6-5-1zM1468,671l-2,1 0,6 4,2 5-2-1-6zM1475,678l3,3 3-3 0-5-4-3-3,2zM1487,673l0-1-6,1 0,5 6,1 1-1zM1493,680l4-4 0-3-5-4-5,4 1,5zM1505,678l0-6-4-2-4,3 0,3 6,3zM1509,679l1-10-5,3 0,6zM1410,684l8,3 3-2 0-6-11,5zM1429,676l-8,3 0,6 5,1 2-1zM1428,685l6,2 4-4 0-1-6-7-3,1zM1447,679l-5-1-4,4 0,1 6,4 3-2zM1448,686l6-2 1-4-7-2-1,1 0,6zM1455,680l-1,4 3,3 6-1-1-5-5-3zM1463,686l3,2 4-2 0-6-4-2-4,3zM1475,678l-5,2 0,6 4,2 4-5 0-2zM1487,679l-6-1-3,3 0,2 4,2 2-1zM1494,684l-1-4-5-2-1,1-3,5 5,3zM1503,679l-6-3-4,4 1,4 4,4 4-2zM1509,686l0-7-4-1-2,1-1,7 4,1zM1398,697l3-7-1-2-9,4zM1401,690l6,3 2-1 1-8-3,1-7,3zM1415,694l3-2 0-5-8-3-1,8zM1426,686l-5-1-3,2 0,5 3,2 5-2zM1434,692l0-5-6-2-2,1 0,6 3,3zM1437,693l5-1 2-5-6-4-4,4 0,5zM1444,687l-2,5 4,4 5-4-3-6-1-1zM1454,684l-6,2 3,6 2,1 3-2 1-4zM1466,688l-3-2-6,1-1,4 6,3 3-3zM1470,686l-4,2-1,3 5,4 5-3-1-4zM1482,685l-4-2-4,5 1,4 2,1 4-2zM1484,684l-2,1-1,6 5,2 2-1 1-5zM1498,688l-4-4-5,3-1,5 6,2 3-2zM1501,696l5-4 0-5-4-1-4,2-1,4zM1506,687l0,5 2,1 1-7zM1389,693l-9,4 6,3 2-2zM1388,698l6,4 4-5-7-5-2,1zM1402,699l5-1 0-5-6-3-3,7zM1414,699l1-5-6-2-2,1 0,5 3,3zM1421,694l-3-2-3,2-1,5 3,2 5-1zM1426,692l-5,2 1,6 2,1 5-4 0-2zM1437,698l0-5-3-1-5,3 0,2 3,4zM1446,698l0-2-4-4-5,1 0,5 4,4zM1455,699l-2-6-2-1-5,4 0,2 2,2zM1456,691l-3,2 2,6 2,1 4-1 1-5zM1462,694l-1,5 5,2 3-2 1-4-5-4zM1469,699l5,2 4-4-1-4-2-1-5,3zM1481,691l-4,2 1,4 3,2 5-2 0-4zM1488,692l-2,1 0,4 4,4 3-2 1-5zM1494,694l-1,5 4,2 4-4 0-1-4-4zM1506,692l-5,4 0,1 7,5 0-9zM1374,707l4-3-1-5-12,5zM1380,697l-3,2 1,5 3,2 5-1 0-5zM1386,700l0,5 2,2 6-2 0-3-6-4zM1394,705l3,3 5-3 0-6-4-2-4,5zM1407,707l2-1 1-5-3-3-5,1 0,6zM1417,705l0-4-3-2-4,2-1,5 5,3zM1424,701l-2-1-5,1 0,4 6,3 2-2zM1429,697l-5,4 1,5 3,0 4-2 0-3zM1432,704l4,2 5-3 0-1-4-4-5,3zM1441,703l4,6 6-2-3-7-2-2-5,4zM1451,707l2,0 3-1 1-6-2-1-7,1zM1457,700l-1,6 5,3 5-5 0-3-5-2zM1475,706l-1-5-5-2-3,2 0,3 5,4zM1479,707l2-1 0-7-3-2-4,4 1,5zM1486,697l-5,2 0,7 5,1 3-2 1-4zM1490,701l-1,4 6,3 3-2-1-5-4-2zM1501,697l-4,4 1,5 4,1 6-5zM1353,715l4-2 0-5-9,4zM1357,713l5,3 3-5-1-6-7,3zM1374,707l-9-3-1,1 1,6 5,3 4-1zM1381,712l0-6-3-2-4,3 0,6 3,2zM1386,705l-5,1 0,6 5,2 2-1 0-6zM1388,713l5,1 4-3 0-3-3-3-6,2zM1397,711l4,2 5-1 1-5-5-2-5,3zM1406,712l3,5 5-7 0-1-5-3-2,1zM1414,710l4,3 4-2 1-3-6-3-3,4zM1423,708l-1,3 3,3 5-2-2-6-3,0zM1428,706l2,6 3,2 3-3 0-5-4-2zM1436,711l4,2 5-3 0-1-4-6-5,3zM1445,709l0,1 3,6 5-3 0-6-2,0zM1453,713l3,2 6-5-1-1-5-3-3,1zM1471,708l-5-4-5,5 1,1 3,4 5-2zM1474,715l5-4 0-4-4-1-4,2-1,4zM1486,707l-5-1-2,1 0,4 3,3 5-2zM1494,714l1-6-6-3-3,2 1,5 2,2zM1503,712l-1-5-4-1-3,2-1,6 1,1zM1502,707l1,5 4,4 1-14zM1346,719l0-6-9,4 2,5zM1346,719l4,4 3-3 0-5-5-3-2,1zM1357,721l5-4 0-1-5-3-4,2 0,5zM1368,721l2-7-5-3-3,5 0,1 4,5zM1373,723l4-6 0-2-3-2-4,1-2,7zM1377,717l4,3 4-1 1-5-5-2-4,3zM1393,714l-5-1-2,1-1,5 3,2 6-4zM1393,714l1,3 3,3 4,0 0-7-4-2zM1401,720l4,2 4-5-3-5-5,1zM1409,717l7,3 2-1 0-6-4-3zM1424,720l1,0 0-6-3-3-4,2 0,6zM1433,718l0-4-3-2-5,2 0,6 5,1zM1436,711l-3,3 0,4 6,2 1-1 0-6zM1440,713l0,6 5,2 2-2 1-3-3-6zM1447,719l9,1 1,0-1-5-3-2-5,3zM1459,720l5-2 1-4-3-4-6,5 1,5zM1465,714l-1,4 5,3 5-2 0-4-4-3zM1482,714l-3-3-5,4 0,4 3,2 4-3zM1487,712l-5,2-1,4 6,2 2-6zM1494,714l-5,0-2,6 1,1 6,1 3-3-2-4zM1503,712l-8,3 2,4 9,2 1-5zM1345,727l4-3 1-1-4-4-7,3 1,4zM1354,729l4-4-1-4-4-1-3,3-1,1zM1363,727l2-1 1-4-4-5-5,4 1,4zM1365,726l5,4 4-5-1-2-5-2-2,1zM1374,725l5,2 1,0 1-7-4-3-4,6zM1388,721l-3-2-4,1-1,7 5,1 3-2zM1394,717l-6,4 0,5 6,2 1-1 2-7zM1395,727l8,1 3-2-1-4-4-2-4,0zM1416,720l-7-3-4,5 1,4 3,1 6-1zM1422,727l2-7-6-1-2,1-1,6 1,1zM1431,724l-1-3-5-1-1,0-2,7 4,4zM1437,725l2-5-6-2-3,3 1,3 3,2zM1439,720l-2,5 5,3 4-2-1-5-5-2zM1445,721l1,5 1,0 6-1 3-5-9-1zM1459,720l-2,0-1,0-3,5 3,4 5-2zM1468,724l1-3-5-3-5,2 2,7 4,2zM1474,729l5-2-2-6-3-2-5,2-1,3zM1481,718l-4,3 2,6 7-1 2-5-1-1zM1489,729l6-2-1-5-6-1-2,5zM1494,722l1,5 2,2 9-3 0-5-9-2zM1340,726l5,13 2-3-2-9zM1345,727l2,9 7-4 0-3-5-5zM1354,732l5,3 1-1 3-7-5-2-4,4zM1363,727l-3,7 5,2 5-3 0-3-5-4zM1370,733l2,1 4-2 3-5-5-2-4,5zM1385,733l0-5-5-1-1,0-3,5 6,5zM1394,728l-6-2-3,2 0,5 6,3 4-4zM1403,728l-8-1-1,1 1,4 3,3 5-2zM1410,732l-1-5-3-1-3,2 0,5 3,3zM1416,733l0-6-1-1-6,1 1,5 4,2zM1426,731l-4-4-6,0 0,6 4,2 6-3zM1429,735l5-2 0-7-3-2-5,7 0,1zM1434,733l5,1 3-6-5-3-3,1zM1446,726l-4,2-3,6 6,1 4-3-2-6zM1456,729l-3-4-6,1 2,6 5,3 1-1zM1465,729l-4-2-5,2-1,5 7,0 3-3zM1469,733l3-1 2-3-6-5-3,5 0,2zM1472,732l6,6 3-4-2-7-5,2zM1479,727l2,7 7,1 1-6-3-3zM1488,735l6,1 3-2 0-5-2-2-6,2zM1497,729l0,5 8,4 1-12zM1359,735l-5-3-7,4-2,3 0,1 13,3zM1358,743l7,2 1-2-1-7-5-2-1,1zM1372,734l-2-1-5,3 1,7 8-3zM1376,741l6-2 0-2-6-5-4,2 2,6zM1391,736l-6-3-3,4 0,2 3,3 6-1zM1395,732l-4,4 0,5 2,1 5-3 0-4zM1406,736l-3-3-5,2 0,4 3,2 5-2zM1408,741l5-2 1-5-4-2-4,4 0,3zM1420,735l-4-2-2,1-1,5 4,3 3-1zM1429,740l0-5-3-3-6,3 0,6 5,2zM1438,741l1-7-5-1-5,2 0,5 6,3zM1445,735l-6-1-1,7 3,1 4-3zM1454,739l0-4-5-3-4,3 0,4 4,2zM1462,734l-7,0-1,1 0,4 3,3 6-2zM1462,734l1,6 3,1 3-1 0-7-4-2zM1469,733l0,7 3,2 5-3 1-1-6-6zM1486,744l2-9-7-1-3,4-1,1 7,7 1,0zM1494,740l0-4-6-1-2,9zM1497,734l-3,2 0,4 2,3 9-3 0-2zM1366,743l-1,2 11,3 0-7-2-1zM1382,739l-6,2 0,7 8,1 1-7zM1385,742l-1,7 3,1 7-4-1-4-2-1zM1393,742l1,4 3,3 4-1 0-7-3-2zM1401,741l0,7 6,1 2-2-1-6-2-2zM1417,742l-4-3-5,2 1,6 3,1 4-2zM1425,747l0-4-5-2-3,1-1,4 6,5zM1435,743l-6-3-4,3 0,4 5,4 5-3zM1438,741l-3,2 0,5 2,2 6-3-2-5zM1449,741l-4-2-4,3 2,5 1,0 5-2zM1454,750l3-2 0-6-3-3-5,2 0,4zM1463,740l-6,2 0,6 7,3 2-10zM1464,751l1,0 8-2-1-7-3-2-3,1zM1477,739l-5,3 1,7 11-3zM1494,740l-8,4-1,2 11-3zM1394,746l-7,4 8,2 2,0 0-3zM1407,749l-6-1-4,1 0,3 9,1zM1412,748l-3-1-2,2-1,4 9,1zM1416,746l-4,2 3,6 6,1 1-4zM1430,751l-5-4-3,4-1,4 9,0zM1437,750l-2-2-5,3 0,4 9,1zM1444,747l-1,0-6,3 2,6 6,1 1,0zM1444,747l2,10 6-2 2-5-5-5zM1452,755l13-4-1,0-7-3-3,2z" fill="none" stroke="#000" stroke-width="1.7"/><path d="M1477,662l1,2 1,0 0-2zM1486,661l-2,0 0,2 2-1zM1491,661l1,1 3-2zM1499,661l3,2 6-3 0-1-9,1zM1459,667l-4,1 3,2zM1463,669l2,1-1-5zM1475,668l-1-2-4,2 0,1 4,0zM1480,669l2,1 1,0 0-3zM1488,669l2-1-1-2-2,1zM1499,667l-2-2-2,1 0,2 2,2zM1503,667l0,1 2,1 3-1 0-2zM1438,679l2-2-1-2-3,1zM1446,676l0-4-2,1 0,3zM1451,672l0,4 3,1 1-3zM1459,674l0,3 3,1 2-1 0-3zM1469,673l0,3 1,1 2,0 0-3zM1477,677l2,0 0-3-2-1zM1485,675l-1,0 0,1 2,0zM1493,677l2-3-3-2-2,2 0,2zM1503,676l0-3-2-1-2,3zM1416,684l1,0 1-1zM1426,684l0-4-3,1 0,2zM1431,684l2,0 2-2-4-4zM1441,682l3,2 1,0-1-3-1,0zM1450,683l2-1 0-1-3-1zM1457,681l0,2 1,1 2,0 0-1zM1465,682l1,3 1-1 0-3zM1474,681l-2,1 0,2 1,1 3-3zM1483,681l-1-1-1,1 2,1zM1489,681l-2,3 2,1 2-2 0-1zM1500,680l-2-1-2,2 0,2 2,2 1,0zM1506,684l1-3-2-1-1,4zM1397,693l0-1-1,1zM1404,689l3,2 0-3zM1415,691l0-2-3-2 0,3zM1424,688l-3-1-1,1 0,2 4,1zM1429,688l-1,3 1,1 3-1 0-2zM1438,691l2-1 1-2-3-2-2,2zM1445,689l0,3 1,1 2-2-1-3zM1453,686l-2,1 2,3 2-2zM1463,689l-1-1-3,2 2,1zM1470,689l-2,1 2,2 2-1 0-2zM1479,686l-2,2 0,2 2-1zM1484,687l0,2 2,1 0-2zM1495,689l-2-2-2,2-1,1 3,1 2,0zM1501,692l2-2 0-1-3,1zM1391,697l2,1 1-1-3-2zM1401,696l4,0 0-1-3-2zM1412,697l1-1-3-2-1,3 1,1zM1419,695l-2,1 0,2 1,1 1-1zM1424,698l3-2-3-1zM1435,697l0-2-3,2 1,1zM1443,697l-2-2-1,0 0,2 1,2zM1449,697l3,0 0-2zM1456,693l1,4 2,0 0-2zM1465,694l-1,3 2,1 1-1 0-1zM1472,697l1,1 3-2-1-1zM1482,693l-2,1 2,2 2-2zM1488,695l0,1 3,2 0-2zM1496,696l-1,2 1,0 2-2-1-1zM1504,696l2,1 0-2zM1373,704l2-1 0-1-3,2zM1380,700l0,3 4,0 0-2zM1388,704l4-1-3-2zM1396,704l1,1 2-1 0-4-1,0zM1407,705l0-4-1-1-2,1 0,3zM1415,704l-1-2-2,0-1,3 2,1zM1422,703l-2,1 2,1zM1429,701l-2,1 0,2 3-1zM1434,703l2,1 2-2-1-1zM1444,703l2,3 2-1-2-4zM1453,705l1-1 1-3-3,1zM1459,702l0,3 2,1 3-4-3-1zM1472,705l0-2-2-1-2,0 3,3zM1479,704l0-3 0-1-3,2 1,2zM1485,700l-1,1 0,3 2,0 1-2zM1495,703l-3,0 3,2zM1501,700l-2,2 1,2 1,1 3-3zM1359,712l2,1 1-2 0-3-3,2zM1367,707l0,3 4,2 0-3zM1378,711l1-4-1,0-2,1 0,4zM1385,708l-2,0 0,3 2,0zM1390,711l2,1 2-3-1-1-3,0zM1399,709l2,2 3-1 0-1-2-1zM1408,712l1,1 2-3-2-1zM1417,709l1,1 2-1-2-1zM1425,709l0,2 2,0-1-3zM1431,708l1,3 2-1-1-2zM1438,709l2,1 3-1-2-3-3,2zM1448,710l1,3 2-1 0-3zM1456,712l2-2-2-1-1,0zM1464,709l1,2 3-2-2-2zM1474,712l3-2 0-1-1-1-3,2zM1484,709l-2-1 1,4 2-1zM1492,711l0-2-3-1 0,3zM1497,712l3-2 0-1-3,1zM1505,708l0,1 0-1zM1343,717l-3,1zM1348,718l2,1 1,0-1-3-2-1zM1356,718l2-1-1-1-2,0zM1364,716l2,3 1-4-2-1zM1372,720l2-3-1-1-1,0-1,4zM1380,716l1,1 2,0 0-1-2-1zM1391,716l-3-1 0,3zM1396,715l1,3 1,0 0-4-1,0zM1403,718l1,1 2-2-2-2-1,0zM1413,716l2,2 1-4-1,0zM1422,718l0-3-2-1 0,3zM1430,717l-1-2-2,1 0,2 2,0zM1437,714l-2,2 3,1 0-3zM1443,714l0,3 2,1 0-2-1-2zM1451,717l3,0-1-1zM1459,718l3-2-1-2-3,2zM1467,715l0,2 2,2 3-1-2-4zM1479,717l0-3-3,2 0,2 1,0zM1487,715l-3,1 0,1 2,0zM1490,719l3,1 1-1-1-3-2,0zM1502,715l-4,2 1,0 5,1zM1345,724l2-1-2-1-3,1zM1352,724l2,1 2-1-2-2zM1363,724l0-2-2-2-1,2 0,1zM1367,725l2,2 2-2-3-1zM1376,723l2,1 0-4zM1385,722l-2,0 0,3 3,0zM1393,725l1-4-1-1-3,2 0,2zM1398,725l5,0 0-2-4,0zM1410,720l-2,2 0,2 5,0 0-2zM1417,725l4-1 0-2-3,0zM1426,723l-1,3 1,1 2-3 0-1zM1435,723l1-2-3-1 0,1 0,2zM1441,722l-1,2 2,1 2-1-1-1zM1448,722l0,2 3-1 1-1zM1457,722l-1,3 1,1 1,0zM1466,723l-2-2-2,1 1,3 1,1zM1474,726l2-1-1-3-1,0-3,1zM1481,725l3-1 1-2-4-1-1,1zM1489,727l3-2 0-1-3,0 0,2zM1497,723l1,3 6-2 0-1-6-1zM1348,728l1,5 3-2-3-4zM1356,731l2,1 2-4-1,0-3,2zM1365,729l-2,4 2,0 3-1zM1373,731l2-1 1-2-1,0zM1381,729l-2,2 3,2 1-3zM1392,730l-4-1 0,3 2,1 2-2zM1397,729l2,3 2-1 0-1zM1408,732l-1-3-1-1-1,4 1,1zM1414,731l0-3-2,1 0,2zM1422,731l-1-2-2,0 0,2 1,1zM1429,731l3,0 0-3 0-1zM1437,731l1,0 1-2-2-1zM1445,729l-2,1 0,2 1,0 2-1zM1453,732l1-2-2-2-2,0 1,2zM1462,730l-1-1-3,3 3,0zM1469,731l2-2-2-1-2,1zM1475,732l3,2-1-4zM1482,729l1,3 3,1 0-3-1-1zM1491,733l3,1 1-1 0-3-4,1zM1500,731l0,2 3,1 0-5zM1348,738l8,2 0-4-2-1zM1360,741l4,1-1-4-2-1zM1370,736l-2,1 0,3 3-1zM1376,739l3-2-3-2-1,0zM1388,738l-2-2-2,2 2,2 3-1zM1394,739l2-1 0-2-1-1-2,2zM1404,737l-2-1-1,0-1,2 1,1zM1409,738l2-1 0-1-3,1zM1418,736l-2,0 0,2 2,1zM1427,739l0-3-2-1-2,1 0,3 2,2zM1436,740l0-4-2-1-3,1 1,3 3,1zM1441,737l-1,2 1,0 2-1 0-1zM1451,737l0-1-2-1-2,1 1,2 1,1zM1456,736l0,2 2,1 2-1 0-1zM1464,735l1,3 1,1 0-5zM1471,735l0,4 3-1zM1480,738l4,5 1-6-3,0zM1490,737l-1,3 3-1 0-1zM1498,737l-1,1 0,2 4-1zM1371,744l3,0-1-1zM1381,742l-3,1 1,3 3,0 0-3zM1387,747l4-2 0-2-4,1zM1396,743l0,2 1,1 2,0 0-3zM1404,743l0,3 2,0 0-4zM1415,743l-2-1-2,0 0,3 3-1zM1422,747l1-2-4-1 0,1zM1432,744l-3-1-1,2 0,1 2,2 2-1zM1438,744l-1,0 0,3 3-1zM1445,745l1-1 1-1-3,0zM1454,747l1-4-1-1-3,1 0,1zM1463,743l-3,1-1,2 3,1zM1467,748l4-1-1-4-2,0zM1477,742l-2,1 0,3 5-1zM1401,750l2,0-2,0zM1410,750l-1,0 0,1 2,0zM1416,749l1,3 2,0 0-1zM1428,753l-3-3-1,2zM1435,751l-3,1 0,1 4,1zM1442,750l-2,1 1,3 2,0zM1447,749l1,5 2-1 1-3-3-2zM1456,752l2-1-1-1z" fill="none" stroke="#000" stroke-width="1.5"/><path d="M1420,680l1-1 6-2 4-1M1398,689l4-3 6-3 6-3 6-3 6-3 6-2 6-2 6-1 7-1 0-1M1386,694l4-3 5-4 6-4 5-3 6-3 6-3 6-3 7-2 6-2 7-1 6-1 7-1 5-1M1378,698l5-5 5-4 6-4 5-4 6-4 6-3 6-3 6-2 7-3 6-2 7-1 7-1 6-1 7-1 7,0M1371,702l0-1 5-5 5-5 5-4 6-5 6-4 6-3 6-4 6-3 6-2 7-2 7-2 6-2 7-1 7-1 7-1 7,0 7,0 7,1 5,0M1364,705l0-1 5-5 5-5 5-5 5-5 6-4 6-4 6-4 6-3 7-3 6-3 7-2 7-2 7-2 7-1 7-1 7-1 7,0 7,0 7,1 7,1 7,1 2,0M1358,707l4-4 5-6 5-5 5-5 6-5 5-4 6-5 6-3 7-4 6-3 7-3 7-2 7-2 7-2 7-1 7-1 8-1 7,0 7,0 8,1 7,1 7,1 7,2 3,1M1353,710l2-3 5-6 4-6 6-5 5-6 6-4 6-5 6-4 6-4 7-4 6-3 7-3 7-2 7-2 7-2 8-1 7-1 8-1 7,0 7,0 8,1 7,1 8,1 7,2 4,1M1348,712l0-1 5-6 4-6 5-6 5-6 6-5 6-5 6-4 6-5 7-4 6-3 7-3 7-3 7-3 7-2 8-2 7-1 8-1 7-1 8,0 8,0 7,1 8,1 7,1 8,2 3,1M1343,714l3-5 4-6 5-6 5-6 5-6 6-5 6-5 6-5 6-4 7-4 7-4 7-3 7-3 7-3 8-2 7-2 8-1 8-1 7-1 8,0 8,0 7,1 8,1 8,1 7,2 3,1M1338,717l1-3 4-6 5-7 5-6 5-6 5-6 6-5 6-5 6-5 7-5 6-4 7-4 8-3 7-3 7-3 8-2 8-2 7-1 8-1 8-1 8,0 8,0 8,1 8,1 7,1 8,2 3,1M1336,714l1-1 4-7 4-7 5-6 6-6 5-6 6-5 6-6 6-5 7-4 7-4 7-4 7-4 8-3 7-2 8-3 8-2 8-1 8-1 8-1 8,0 8,0 8,1 8,1 8,1 8,2 2,1M1335,710l3-6 5-6 5-7 5-6 6-6 6-6 6-5 7-5 6-5 8-4 7-4 7-3 8-4 7-2 8-3 8-2 8-1 9-1 8-1 8,0 8,0 8,1 9,1 8,1 8,2 1,1M1334,706l2-3 5-7 5-7 5-6 6-6 6-6 6-5 7-5 7-5 7-5 7-4 8-3 8-3 8-3 8-3 8-2 8-1 8-1 9-1 8,0 8,0 9,1 8,1 8,1 8,2 1,1M1333,702l0-1 5-7 5-7 6-6 6-6 6-6 6-6 7-5 7-5 7-4 8-4 8-4 8-3 8-3 8-2 8-2 9-2 8-1 8-1 9,0 9,0 8,1 8,1 9,2 8,1M1331,699l5-7 5-6 6-7 6-6 6-6 7-6 6-5 8-5 7-5 8-4 7-4 9-3 8-3 8-2 8-2 9-2 9-1 8-1 9,0 9,0 8,1 9,1 9,2 7,1M1330,695l3-4 6-7 5-7 6-7 7-6 7-5 7-6 7-5 8-4 7-5 8-3 8-4 9-3 8-2 9-2 9-2 8-1 9-1 9,0 9,0 9,1 8,1 9,2 6,1M1329,691l2-2 5-7 6-7 6-7 7-6 7-6 7-5 7-5 8-5 8-4 8-4 8-4 9-3 8-2 9-2 9-2 9-1 9-1 9,0 9,0 9,1 9,1 9,2 5,1M1328,688l0-1 6-7 6-7 6-7 7-6 7-6 7-6 8-5 7-5 9-4 8-4 8-3 9-3 9-3 9-2 9-2 9-1 9-1 9,0 9,0 9,1 9,1 9,2 5,1M1327,684l5-6 6-7 6-7 7-6 7-6 7-6 8-5 8-5 8-5 9-4 8-3 9-3 9-3 9-2 9-2 9-1 10-1 9,0 9,0 10,1 9,1 9,2 4,1M1328,678l1-2 6-7 7-7 7-7 7-6 8-5 7-6 9-5 8-4 8-4 9-4 9-3 9-3 9-2 10-2 9-1 10-1 9,0 9,0 10,1 9,1 10,2 3,1M1329,672l4-5 7-7 7-7 7-6 8-6 8-5 8-5 8-5 9-4 9-4 9-3 9-3 10-2 9-2 10-1 9-1 10,0 10,0 9,1 10,1 9,2 3,1M1330,666l1-1 7-7 7-7 7-6 8-6 8-6 8-5 9-5 9-4 9-4 9-3 10-3 9-2 10-2 9-1 10-1 10,0 10,0 10,1 9,1 10,2 2,1M1330,661l6-5 7-7 7-7 8-6 9-5 8-6 9-4 9-5 9-3 9-4 10-3 9-2 10-2 10-1 10-1 10,0 10,0 10,1 10,1 10,2 1,0M1331,656l3-2 7-7 8-7 8-6 8-6 9-5 8-5 9-4 10-4 9-4 10-2 10-3 10-2 10-1 10-1 10,0 10,0 10,1 10,1 10,2 1,0M1332,651l7-7 8-6 8-7 8-5 9-6 9-5 9-4 10-4 9-3 10-3 10-3 10-2 11-1 10-1 10,0 10,0 10,1 11,1 9,2M1333,646l4-4 8-7 8-6 9-6 8-5 10-5 9-5 10-4 10-3 9-3 11-3 10-2 10-1 11-1 10,0 10,0 11,1 10,1 9,2M1333,641l2-1 8-7 8-6 9-6 9-6 9-5 10-5 10-4M1471,588l10,0 10,1 11,1 8,2M1334,637l7-6 9-7 4-3M1493,586l9,2 8,1M1335,632l4-4 1,0M1506,585l4,1" fill="none" stroke="#000" stroke-width="1.6"/><path d="M1341,715l-5-2M1345,713l-11-6M1349,712l-17-12M1353,710l-23-16M1357,708l-30-22M1361,706l-33-25M1364,705l-36-30M1368,703l-39-33M1371,701l-41-37M1375,700l-44-42M1378,698l-46-46M1381,697l-48-52M1385,695l-51-56M1388,694l-53-62M1391,692l-52-64M1394,691l-50-65M1397,690l-48-67M1400,688l-46-67M1403,687l-44-68M1406,685l-42-68M1409,684l-40-70M1412,683l-39-71M1415,682l-37-72M1418,681l-35-73M1421,680l-33-75M1424,678l-31-75M1427,677l-29-76M1430,676l-27-76M1433,675l-25-76M1436,674l-23-76M1439,672l-21-76M1442,671l-19-76M1445,670l-17-76M1448,669l-15-76M1451,668l-12-76M1454,666l-10-76M1457,665l-8-75M1460,664l-6-75M1463,663l-4-74M1467,661l-2-73M1470,660l0-72M1473,660l2-72M1477,659l4-72M1480,659l6-72M1484,659l7-73M1487,659l10-73M1491,658l11-72M1494,658l14-73M1498,658l13-59M1502,657l9-39M1506,657l6-23M1509,657l2-6" fill="none" stroke="#000" stroke-width="1.6"/><path d="M1479,641a2.5,3 0 1,0 5,0a2.5,3 0 1,0 -5,0M1480,634a2.5,3 0 1,0 5,0a2.5,3 0 1,0 -5,0M1480,628a2.5,3 0 1,0 5,0a2.5,3 0 1,0 -5,0M1481,621a2.5,3 0 1,0 5,0a2.5,3 0 1,0 -5,0M1481,614a2.5,3 0 1,0 5,0a2.5,3 0 1,0 -5,0M1483,593a2.5,3 0 1,0 5,0a2.5,3 0 1,0 -5,0M1429,661a2.5,3 0 1,0 5,0a2.5,3 0 1,0 -5,0M1427,654a2.5,3 0 1,0 5,0a2.5,3 0 1,0 -5,0M1425,647a2.5,3 0 1,0 5,0a2.5,3 0 1,0 -5,0M1421,634a2.5,3 0 1,0 5,0a2.5,3 0 1,0 -5,0M1417,620a2.5,3 0 1,0 5,0a2.5,3 0 1,0 -5,0M1415,614a2.5,3 0 1,0 5,0a2.5,3 0 1,0 -5,0M1413,607a2.5,3 0 1,0 5,0a2.5,3 0 1,0 -5,0M1469,655a2.5,3 0 1,0 5,0a2.5,3 0 1,0 -5,0M1469,648a2.5,3 0 1,0 5,0a2.5,3 0 1,0 -5,0M1469,641a2.5,3 0 1,0 5,0a2.5,3 0 1,0 -5,0M1470,627a2.5,3 0 1,0 5,0a2.5,3 0 1,0 -5,0M1470,620a2.5,3 0 1,0 5,0a2.5,3 0 1,0 -5,0M1470,613a2.5,3 0 1,0 5,0a2.5,3 0 1,0 -5,0M1470,606a2.5,3 0 1,0 5,0a2.5,3 0 1,0 -5,0M1470,599a2.5,3 0 1,0 5,0a2.5,3 0 1,0 -5,0M1470,592a2.5,3 0 1,0 5,0a2.5,3 0 1,0 -5,0M1412,675a2.5,3 0 1,0 5,0a2.5,3 0 1,0 -5,0M1409,668a2.5,3 0 1,0 5,0a2.5,3 0 1,0 -5,0M1406,662a2.5,3 0 1,0 5,0a2.5,3 0 1,0 -5,0M1400,650a2.5,3 0 1,0 5,0a2.5,3 0 1,0 -5,0M1396,643a2.5,3 0 1,0 5,0a2.5,3 0 1,0 -5,0M1384,618a2.5,3 0 1,0 5,0a2.5,3 0 1,0 -5,0M1381,612a2.5,3 0 1,0 5,0a2.5,3 0 1,0 -5,0" fill="#000"/><path d="M1335,630l60-28 50-12 65-5 2,55-7,100-60,17-50-5-50-12-18-55z" fill="none" stroke="#000" stroke-width="2.2"/><path d="M1545,622l50-13 50,11 37,27 33,63 5,20-50,47-38,18-37-15-70-45-3-38 10-32z" fill="#fff" stroke="#000" stroke-width="2"/><path d="M1539,672l1-5-8-3 0,1-2,5 6,3zM1539,672l3,3 5-4-7-4zM1536,673l-6-3-2,8 4,3 2-2zM1542,675l-3-3-3,1-2,6 5,2 4-4zM1542,675l1,2 3,2 7-3-6-5zM1531,685l1-4-4-3-3,10zM1539,681l-5-2-2,2-1,4 4,2 4,0zM1541,688l6-4-1-5-3-2-4,4 0,6zM1546,679l1,5 4,3 1-1 5-8-4-2zM1562,687l-1-7-4-2-5,8 6,5zM1566,688l2-3-7-5 1,7zM1535,687l-4-2-6,3-1,1 6,7 4-4zM1543,692l-2-4-2-1-4,0-1,5 5,3zM1546,694l2-1 3-6-4-3-6,4 2,4zM1558,691l-6-5-1,1-3,6 7,1zM1569,694l-3-6-4-1-4,4 3,4 7,0zM1566,688l3,6 6-1 1-2-8-6zM1526,700l4-2 0-2-6-7-2,8 0,3zM1538,699l1-4-5-3-4,4 0,2 5,3zM1546,694l-3-2-4,3-1,4 5,2 4-2zM1554,699l1-5-7-1-2,1 1,5 2,2zM1561,695l-3-4-3,3-1,5 4,2 2-2zM1565,701l3-3 0-3-7,0-1,4zM1574,704l3-4-2-7-6,1-1,1 0,3zM1575,693l2,7 5,1 4-4-10-6zM1526,700l-4,0 1,9 4-2zM1530,698l-4,2 1,7 2,1 6-2 0-5zM1543,701l-5-2-3,2 0,5 2,1 4,0zM1547,699l-4,2-2,6 3,2 5-4 0-4zM1549,705l4,4 6-2-1-6-4-2-5,2zM1566,707l-1-6-5-2-2,2 1,6 1,1zM1573,706l1-2-6-6-3,3 1,6 3,1zM1576,709l8-3-2-5-5-1-3,4-1,2zM1590,707l2-6-6-4-4,4 2,5 2,2zM1602,707l-10-6-2,6 4,3zM1528,716l2-3-1-5-2-1-4,2 0,5zM1537,707l-2-1-6,2 1,5 7,2 0-1zM1545,714l-1-5-3-2-4,0 0,7 6,1zM1545,714l3,0 4-2 1-3-4-4-5,4zM1560,708l-1-1-6,2-1,3 5,4 4-3zM1566,707l-6,1 1,5 4,4 3-3 1-6zM1568,714l6,2 4-3-2-4-3-3-4,2zM1578,713l4,2 1-1 3-6-2-2-8,3zM1583,714l6,2 5-5 0-1-4-3-4,1zM1597,716l8-5 1-1-4-3-8,3 0,1zM1529,721l-1-5-5-2 1,8zM1530,713l-2,3 1,5 1,1 5-2 2-5zM1543,721l0-6-6-1 0,1-2,5 5,3zM1546,722l5-1-3-7-3,0-2,1 0,6zM1557,716l-5-4-4,2 3,7 3,1 2-2zM1562,722l3-4 0-1-4-4-4,3-1,4zM1574,716l-6-2-3,3 0,1 6,4 2-1zM1576,723l6-5 0-3-4-2-4,3-1,5zM1582,718l3,4 6-2-2-4-6-2-1,1zM1591,720l2,1 3-2 1-3-3-5-5,5zM1602,721l4-3-1-7-8,5-1,3zM1605,711l1,7 5,3 8-3-13-8zM1529,721l-5,1 1,7 5-3 0-4zM1535,720l-5,2 0,4 3,3 7-1 0-5zM1540,728l3,2 3-1 0-7-3-1-3,2zM1551,721l-5,1 0,7 3,0 5-3 0-4zM1554,722l0,4 3,3 7-2-2-5-6-2zM1565,718l-3,4 2,5 2,2 3-1 2-6zM1571,722l-2,6 4,1 5-2-2-4-3-2zM1578,727l2,1 4-2 1-4-3-4-6,5zM1584,726l6,3 3-3 0-5-2-1-6,2zM1593,721l0,5 8,2 1-1 0-6-6-2zM1611,721l-5-3-4,3 0,6 4,2 3-3zM1616,729l1-1 2-10-8,3-2,5zM1619,718l-2,10 7,3 3-7-8-6zM1533,733l0-4-3-3-5,3 0,6 3,2zM1543,730l-3-2-7,1 0,4 5,4 4-4zM1546,729l-3,1-1,3 4,4 5-3-2-5zM1549,729l2,5 3,1 2-1 1-5-3-3zM1556,734l7,1 3-2 0-4-2-2-7,2zM1569,728l-3,1 0,4 4,4 5-2-2-6zM1575,735l3,1 2-3 0-5-2-1-5,2zM1588,736l2-3 0-4-6-3-4,2 0,5zM1590,733l6,3 2-1 3-7-8-2-3,3zM1602,737l6-3-2-5-4-2-1,1-3,7zM1606,729l2,5 1,1 6-2 1-4-7-3zM1615,733l2,3 8-2-1-3-7-3-1,1zM1624,731l1,3 4,0 2-8-4-2zM1629,734l4,1 6-4-8-5zM1538,737l-5-4-5,4 10,6zM1538,737l0,6 3,2 6-4-1-4-4-4zM1547,741l5,1 2-2 0-5-3-1-5,3zM1554,735l0,5 5,2 3-1 1-6-7-1zM1563,735l-1,6 5,2 3-2 0-4-4-4zM1570,737l0,4 2,2 7-2-1-5-3-1zM1579,741l3,2 5-3 1-4-8-3-2,3zM1587,740l4,4 4-1 1-7-6-3-2,3zM1596,736l-1,7 3,1 5-2-1-5-4-2zM1603,742l2,0 5-3-1-4-1-1-6,3zM1610,739l4,3 3-2 0-4-2-3-6,2zM1625,734l-8,2 0,4 4,2 4-2zM1628,743l5-3 0-5-4-1-4,0 0,6zM1633,735l0,5 5,3 4-2 0-8-3-2zM1642,741l5,2 4-4-9-6zM1541,745l10,7 0-1 1-9-5-1zM1554,740l-2,2-1,9 9-3-1-6zM1559,742l1,6 1,1 5,0 1-6-5-2zM1568,751l5-2-1-6-2-2-3,2-1,6zM1579,741l-7,2 1,6 4,1 4-3 1-4zM1581,747l6,3 3-2 1-4-4-4-5,3zM1598,744l-3-1-4,1-1,4 4,2 4-2zM1607,748l-2-6-2,0-5,2 0,4 3,3zM1613,748l1-6-4-3-5,3 2,6 3,1zM1621,742l-4-2-3,2-1,6 6,2 2-1zM1628,743l-3-3-4,2 0,7 7,0zM1628,749l7,1 2-2 1-5-5-3-5,3 0,6zM1647,743l-5-2-4,2-1,5 5,2 6-2zM1654,749l2-7-5-3-4,4 1,5 3,2zM1654,749l5,2 3-2 0-4-2,0-4-3zM1662,749l5,2 2-3 0-2-7-1zM1669,748l6,2 2-4-8,0zM1683,751l5-4-9-1zM1560,748l-9,3 0,1 8,5 2-2 0-6zM1561,755l4,2 3-3 0-3-2-2-5,0zM1574,758l4-5-1-3-4-1-5,2 0,3zM1578,753l4,3 5-1 0-5-6-3-4,3zM1590,748l-3,2 0,5 2,1 5-1 0-5zM1601,751l-3-3-4,2 0,5 4,2 2-2zM1607,758l3-4 0-5-3-1-6,3-1,4zM1619,750l-6-2-3,1 0,5 5,3 4-4zM1622,756l5-1 1-6-7,0-2,1 0,3zM1635,754l0-4-7-1-1,6 3,4zM1637,748l-2,2 0,4 5,4 3-2-1-6zM1650,753l1-3-3-2-6,2 1,6 2,1zM1653,757l6-2 0-4-5-2-3,1-1,3zM1661,757l7-3-1-3-5-2-3,2 0,4zM1669,748l-2,3 1,3 3,3 4-2 0-5zM1675,750l0,5 5,1 3-1 0-4-4-5-2,0zM1683,751l0,4 4,1 5-9-4,0zM1687,756l2,3 12-11-9-1zM1559,757l6,4 0-4-4-2zM1574,759l0-1-6-4-3,3 0,4 4,3zM1574,759l6,4 1,0 1-7-4-3-4,5zM1589,756l-2-1-5,1-1,7 6,1 2-2zM1594,755l-5,1 0,6 5,1 4-2 0-4zM1598,757l0,4 4,4 5-4 0-3-7-3zM1610,754l-3,4 0,3 3,2 6,0-1-6zM1622,756l-3-3-4,4 1,6 6-3zM1626,762l4-3-3-4-5,1 0,4zM1635,754l-5,5 4,4 5-2 1-3zM1647,761l-2-4-2-1-3,2-1,3 3,4zM1651,763l2-1 0-5-3-4-5,4 2,4zM1653,762l5,2 4-2-1-5-2-2-6,2zM1662,762l3,1 5-3 1-3-3-3-7,3zM1671,757l-1,3 5,4 4-4 1-4-5-1zM1679,760l4,4 6-5-2-3-4-1-3,1zM1569,764l9,5 2-6-6-4zM1588,768l-1-4-6-1-1,0-2,6 5,3zM1594,763l-5-1-2,2 1,4 2,2 5-2zM1602,769l0-4-4-4-4,2 1,5 3,3zM1610,763l-3-2-5,4 0,4 5,3 2-1zM1616,763l-6,0-1,8 5,0 4-3-2-5zM1616,763l2,5 5,2 3-3 0-5-4-2zM1626,767l6,2 2-1 0-5-4-4-4,3zM1639,761l-5,2 0,5 4,2 4-2 0-3zM1642,768l3,2 5-2 1-5-4-2-5,4zM1653,771l5-2 0-5-5-2-2,1-1,5zM1666,767l-1-4-3-1-4,2 0,5 3,2zM1666,767l4,3 5-3 0-3-5-4-5,3zM1679,760l-4,4 0,3 3,2 5-5zM1590,770l-2-2-5,4 9,6zM1595,768l-5,2 2,8 1,1 4-4 1-4zM1607,772l-5-3-4,2-1,4 6,3 4-2zM1616,777l-2-6-5,0-2,1 0,4 2,2zM1623,775l0-5-5-2-4,3 2,6 0,1zM1632,769l-6-2-3,3 0,5 3,2 3-1zM1638,776l0-6-4-2-2,1-3,7 4,2zM1638,770l0,6 4,3 4-4-1-5-3-2zM1646,775l5,1 2-1 0-4-3-3-5,2zM1653,775l8,2 0-6-3-2-5,2zM1670,770l-4-3-5,4 0,6 2,3 6-3zM1675,767l-5,3-1,7 1,0 8-8zM1593,779l2,1 7,3 1-5-6-3zM1609,778l-2-2-4,2-1,5 7,3zM1617,783l-1-5 0-1-7,1 0,8 2,1zM1626,777l-3-2-7,3 1,5 4,2 4-4zM1633,782l0-4-4-2-3,1-1,4 5,4zM1638,785l4-4 0-2-4-3-5,2 0,4zM1650,785l1-9-5-1-4,4 0,2zM1651,776l-1,9 1,1 12-6-2-3-8-2zM1621,785l-4-2-6,4 11,4zM1630,789l0-4-5-4-4,4 1,6 1,0zM1630,789l6,4 2-1 0-7-5-3-3,3zM1638,792l13-6-1-1-8-4-4,4zM1630,789l-7,2 9,4 4-2z" fill="none" stroke="#000" stroke-width="1.7"/><path d="M1534,667l-1,2 4,1 0-1zM1533,674l-1,0-1,3 1,1zM1540,676l-2-1-1,2 1,1zM1545,675l1,1 2-1-1-1zM1537,682l-3,0 0,2 3,1zM1541,685l3-2-1-3-2,2zM1549,681l0,1 2,2 2-5zM1558,687l1-1-1-5-3,5zM1528,689l2,3 2-1 0-2-1-1zM1540,691l-1-2-2,0 0,2 2,1zM1546,691l2-4-1,0-3,2zM1553,689l-2,2 3,1 1-1zM1565,692l-1-2-1,0-2,1 2,2zM1569,689l1,3 3-1zM1526,698l1-1-2-3-1,3zM1533,697l2,1 1-2-2-1zM1544,698l-1-3-2,3zM1549,696l0,3 3-1 0-2zM1558,694l-1,1 0,3 1,0 1-3zM1565,698l1-1-3,0 0,1zM1571,696l3,4 1-1-2-3zM1578,695l1,3 3-1zM1530,701l-1,1 1,4 3-2 0-2zM1538,705l1,0 1-2-2-1zM1546,702l-1,1-1,3 3-2zM1551,703l3,3 2-1 0-2-2-1zM1561,705l2,0 0-2-2-1zM1568,705l3-1-3-2zM1576,706l5-2-1-1-2,0-2,2zM1588,705l1-3-3-2-1,1 1,3zM1596,706l-2-1-1,1 1,1zM1527,713l1-1-1-2-2,0 1,3zM1535,709l-3,1 0,1 3,1zM1542,712l0-2-3-1 1,3zM1547,712l3-2-1-2-2,2zM1558,710l-3,1 2,2 1-1zM1566,709l-3,1 0,2 2,1zM1571,712l3,2 1-1-3-4-1,1zM1579,710l3,2 1-4zM1587,713l1,0 3-2-1-2-2,1zM1597,711l0,2 5-3-1,0zM1531,719l2-1 1-2-3-1-1,2zM1538,717l0,2 2,1 1-3zM1546,716l0,3 2,0-2-2zM1554,717l-2-2-1,0 2,4 1,0zM1561,719l2-1-2-2-2,2zM1568,717l3,2 0-1zM1576,720l4-3-2-1-2,2zM1585,717l1,2 2,0-1-1zM1593,718l1,0-1-3-1,1zM1599,717l3,1 1-1 0-2zM1608,714l0,3 3,1 3,0zM1528,723l-1,1 0,1 1,0zM1535,722l-2,1 0,2 1,1 3,0 0-2zM1542,727l2,0 0-3-2,0zM1551,723l-2,1 0,3 2-2zM1556,723l0,2 1,1 4-1-1-1zM1566,721l-1,2 1,3 2-3zM1573,724l-1,2 1,1 2-1zM1580,725l2-1 0-2-3,1zM1587,725l3,1 1-1 0-2-4,1zM1597,722l-1,2 4,2 0-3zM1608,722l-2-1-2,1 1,4 2-1zM1615,726l1-4-3,1-1,2zM1621,722l-1,5 2,1 2-3zM1531,732l-1-3-3,2 1,3zM1540,731l-1-1-4,1 0,1 3,2zM1548,731l-3,1 2,2 1-1zM1552,730l1,2 1,1 0-3-1-1zM1559,732l3,1 2-3-5,1zM1569,730l-1,2 2,2 2,0-1-3zM1577,733l1-1 0-2-2,1zM1587,733l1-2-4-2-1,0 0,2zM1592,732l4,1 2-3-4-1zM1602,734l3-2-1-1-1-1zM1609,729l1,3 3-1zM1618,731l0,3 3-2zM1626,731l1,1 1-5zM1632,732l1,1 2-2-2-1zM1536,739l-3-3-1,1zM1541,738l0,4 3-2-1-4zM1549,739l3,0 0-2-3,1zM1557,736l0,3 2,0 1-2zM1565,737l-1,2 4,1 0-2zM1572,739l1,1 3-1-1-2zM1581,739l1,1 2-1 1-2-4-1zM1589,739l3,2 1,0 0-4-2-1zM1598,738l0,3 0,1 2-2zM1605,739l2-1 0-1-2,1zM1612,738l2,1 1-2-1-1-2,0zM1623,737l-3,1 1,1 2-1zM1629,740l2-1 0-2-3-1-1,3zM1635,737l0,2 3,2 2-2-1-5zM1644,739l2,1 1,0-3-2zM1545,745l4,3 0-4-1-1zM1557,744l-3-1 0,5 3-1zM1562,743l0,4 2,0 0-3zM1569,748l2-1-1-3-1,0zM1578,743l-3,1 0,3 2,1 2-3zM1584,745l3,2 1-2-2-2zM1595,746l-2-1 0,2 1,0zM1603,745l-3,1 2,2 2-1zM1611,746l0-3-1-1-2,1 1,3zM1618,747l0-4-1-1-1,1 0,3zM1626,744l-2-1-1,0 0,3 3,0zM1631,747l3,1 1-3-2-2-2,1zM1645,744l-3-1-2,2 0,1 2,1 3-1zM1652,747l1-4-2-1-2,2 1,2zM1657,747l2,2 1-1-3-2zM1665,748l1,0zM1556,752l3,2 0-3zM1563,753l2,1 1-2-2,0zM1573,755l2-3-2-1-2,1zM1580,751l3,2 2,0 0-2-3-1zM1590,754l1-1 0-2-1,0-1,0zM1599,752l-1-1-2,1 0,1 2,1zM1606,755l1-2 0-2-4,1 0,2zM1617,751l-4-1-1,1 0,2 2,1zM1622,751l1,2 2,0 0-2zM1631,755l2-2 0-1-3,0zM1638,751l0,2 2,2 0-3zM1645,754l3-2 0-1-3,1zM1654,754l3-1-3-2-1,1zM1662,754l3-1-2-1zM1670,751l0,2 1,1 1-1 0-1zM1678,749l-1,4 3,0zM1685,752l1,1 2-3zM1692,753l4-3-2,0zM1571,759l-3-2 0,1 0,2 1,0zM1577,758l2,2 1-3-2-1zM1586,758l-2,0 0,3 2,0zM1593,757l-2,1 0,2 3,1 1-1 1-2zM1600,758l0,2 2,2 3-2zM1610,757l0,3 3,1 0-3zM1618,760l1-1 0-3-2,2zM1625,759l2-1-1-1-2,1zM1636,757l-2,2 0,1 3-1zM1644,760l-1-1-2,1 1,1zM1651,760l0-2-1-2-2,2 1,1zM1655,760l4,0 0-2-3,1zM1664,760l4-2-1-1-3,1zM1673,758l2,3 2-3-2-1zM1682,759l2,2 2-2-3-2zM1573,763l4,3 0-2-3-2zM1582,766l-1,2 2,1 2-2 0-1zM1590,765l0,2 2,0 0-2zM1600,768l0-2-3-1 0,2 1,1zM1607,769l1-5-1,0-3,2 0,1zM1615,765l-3,0 0,4 1,0 2-2zM1619,764l1,2 2,1 1-1 0-3-1,0zM1628,765l3,1 0-2-1-2-2,1zM1638,763l-2,1 0,2 2,1 2-2zM1644,767l4-1 1-1-2-1zM1653,768l3-1 0-2-3,0zM1663,766l0-1-3,0 0,3zM1668,764l2,4 3-2-3-3zM1679,763l-2,2 1,1 2-2zM1587,772l1,0zM1593,775l2-3-1-1-2,1zM1605,773l-3-1-2,2 3,1 2,0zM1610,773l0,3 3-1-1-1zM1618,775l3-1-1-3-1,0-2,1zM1629,770l-3,0-1,1 1,3 2,0zM1634,771l-2,4 1,0 3-1 0-3zM1640,771l0,4 2,1 1-2 0-3zM1648,773l2,1 0-3-2,0zM1655,773l3,1-1-2zM1667,772l-1-2-3,3 1,4 3-1zM1597,778l3,2-2-2zM1607,779l-2,1 0,1 2,1zM1611,784l3-2 0-2-3,0zM1623,778l-4,1 0,3 2,1 2-3zM1631,781l0-2-3,0 0,1 2,2zM1638,782l1-2-2-1-2,0 1,2zM1645,779l3,2 1-3-3,0zM1653,782l6-3-5-1zM1618,787l-1-1zM1624,788l3-1-2-3-1,2zM1632,787l3,3 1-4-3-1zM1640,788l6-2-3-2-3,2z" fill="none" stroke="#000" stroke-width="1.5"/><path d="M1595,703l3,1 5,2 4,3 4,2 4,3 4,3 4,3 2,2M1585,696l5,2 5,1 4,2 5,3 4,2 5,3 4,3 4,3 4,3 4,3 3,4 3,4M1578,692l3,0 5,1 5,2 5,2 5,2 4,2 5,2 4,3 5,3 4,3 4,4 4,3 3,4 4,4 3,4 2,3M1572,688l4,0 5,1 6,2 5,1 5,2 5,2 5,2 5,3 4,3 5,3 4,3 4,3 4,4 4,4 3,4 3,4 3,5 3,4M1566,684l5,1 6,0 5,1 5,2 6,1 5,2 5,2 5,3 5,2 5,3 4,3 5,4 4,3 4,4 4,4 3,4 4,5 3,4 3,5 2,4M1562,681l4,0 5,1 6,0 6,1 5,2 6,1 5,2 5,2 5,3 5,3 5,3 5,3 5,3 4,4 4,4 4,4 4,4 3,5 3,5 3,5 3,5 2,3M1557,678l3,0 6,0 6,1 6,0 5,1 6,2 6,1 5,2 6,3 5,2 5,3 5,3 5,3 4,4 5,4 4,4 4,4 4,5 4,4 3,5 3,5 3,5 2,5 1,1M1553,675l1,0 6,0 6,0 6,1 6,0 6,2 6,1 6,2 5,2 6,2 5,3 6,2 5,4 5,3 4,4 5,4 4,4 4,4 4,5 4,4 3,5 4,5 2,6 3,5 1,2M1549,673l5-1 6,0 6,0 6,1 6,0 7,2 6,1 5,2 6,2 6,2 6,3 5,3 5,3 5,4 5,3 5,4 4,5 5,4 4,5 3,5 4,5 3,5 3,5 3,6 1,4M1545,670l2,0 7-1 6,0 6,0 7,1 6,0 6,2 6,1 6,2 6,2 6,2 6,3 5,3 6,4 5,3 5,4 5,4 5,4 4,5 4,5 4,5 3,5 4,6 3,5 3,6 2,5M1541,668l6-1 7-1 6,0 6,0 7,1 6,1 7,1 6,1 6,2 6,2 6,3 6,3 6,3 6,3 5,4 5,4 5,4 5,4 4,5 4,5 4,5 4,5 3,6 3,6 3,6 3,6M1535,665l5,0 7-1 6-1 7,0 7,0 6,1 7,1 6,1 7,1 6,2 7,2 6,3 6,3 6,3 5,3 6,4 5,4 5,5 5,4 4,5 5,5 4,5 4,6 3,5 3,6 3,6 3,6 0,2M1533,663l7-1 6-1 7-1 7,0 7,0 7,1 6,1 7,1 7,1 6,2 7,3 6,2 6,3 6,3 6,4 5,4 6,4 5,4 5,5 5,5 4,5 4,6 4,5 4,6 3,6 3,6 2,6 1,3M1534,660l5-1 7-1 7-1 7,0 7,0 7,1 7,1 7,1 6,2 7,2 7,2 6,2 6,3 6,4 6,3 6,4 6,5 5,4 5,5 5,5 4,5 5,6 4,6 3,6 4,6 3,6 2,6 2,5M1535,656l4,0 7-1 7-1 7,0 7,0 7,1 7,1 7,1 7,2 7,2 7,2 6,3 7,3 6,3 6,4 6,4 6,4 5,5 5,5 5,5 5,5 4,6 4,6 4,6 3,6 3,7 3,6 2,6M1536,653l2,0 7-1 8-1 7,0 7,0 8,1 7,1 7,1 7,2 7,2 7,2 7,3 6,3 7,4 6,3 6,5 5,4 6,5 5,5 5,5 5,6 4,5 5,6 3,6 4,7 3,6 3,7 2,7M1537,650l1,0 7-1 8-1 7,0 7,0 8,1 7,1 8,1 7,2 7,2 7,2 7,3 6,3 7,4 6,4 6,4 6,5 6,4 5,6 6,5 4,6 5,6 4,6 4,6 4,7 3,6 3,7 2,7 0,1M1538,647l7-1 7-1 8,0 8,0 7,1 8,1 7,1 8,2 7,2 7,3 7,3 7,3 6,3 7,4 6,5 6,4 6,5 6,5 5,6 5,6 4,6 5,6 4,7 3,6 3,7 3,7 3,7 1,2M1538,644l7-1 7-1 8,0 8,0 7,1 8,1 8,1 7,2 8,2 7,3 7,3 7,3 7,4 7,4 6,4 6,5 6,5 6,5 5,6 5,6 5,6 4,6 4,7 4,7 3,7 3,7 3,7 1,3M1539,640l5,0 8-1 8,0 8,0 8,1 8,1 7,1 8,2 8,2 7,3 7,3 8,3 7,4 6,4 7,5 6,5 6,5 6,5 5,6 5,6 5,6 5,7 4,6 4,7 3,8 3,7 3,7 0,2M1540,637l4,0 8-1 8,0 8,0 8,1 8,1 8,1 8,2 8,3 7,2 8,3 7,4 7,4 7,4 7,4 6,5 6,6 6,5 5,6 6,6 5,6 4,7 4,7 4,7 4,7 3,8 2,7 1,1M1541,634l3,0 8-1 8,0 8,0 8,1 9,1 8,1 8,2 8,3 7,2 8,4 7,3 7,4 8,4 6,5 7,5 6,5 6,6 6,6 5,6 5,7 5,6 4,8 4,7 3,7 4,8 2,6M1542,631l1,0 9-1 8,0 8,0 9,1 8,1 8,1 8,2 8,3 8,3 8,3 8,3 7,4 7,5 7,5 7,5 6,5 6,6 6,6 5,6 5,7 5,7 5,7 4,7 3,8 3,8 2,5M1543,628l8-1 9,0 9,0 8,1 8,1 9,2 8,2 8,2 8,3 8,3 8,4 8,4 7,4 7,5 7,5 6,6 6,6 6,6 6,6 5,7 5,7 4,7 4,8 4,8 3,8 2,4M1544,625l7-1 9,0 9,0 8,1 9,1 9,2 8,2 8,2 8,3 9,3 7,4 8,4 7,5 8,5 6,5 7,6 6,6 6,6 6,7 5,6 5,8 5,7 4,8 4,7 3,9 1,3M1547,622l4-1 9,0 9,0 9,1 8,1 9,2 9,2 8,2 9,3 8,4 8,3 7,5 8,4 7,5 7,6 7,5 7,6 6,7 5,7 6,7 5,7 4,8 5,7 3,8 4,8 0,2M1560,618l9,0 9,1 9,1 9,2 9,2 8,2 9,3 8,4 8,4 8,4 8,5 7,5 7,5 7,6 7,6 6,7 6,7 5,7 5,7 5,8 4,8 4,8 1,2M1571,615l7,1 9,1 9,2 9,2 9,3 9,3 8,3 8,4 9,4 7,5 8,5 7,6 7,6 7,6 6,7 6,7 6,7 5,8 1,2M1579,613l9,1 9,2 9,2 9,3 9,3 8,3 9,4 8,5 8,5 8,5 7,6 7,6 7,6 6,7 6,7M1587,611l1,0 10,2 9,2 9,3 9,3 9,4 8,4 8,4 9,5 7,6 8,5 7,6 7,7 4,4M1594,609l4,1 10,2 9,3 9,3 9,4 9,4 8,5 8,5 8,5 8,6 7,6 4,4M1630,617l6,2 9,4 8,5 9,5 8,6 8,6 5,4" fill="none" stroke="#000" stroke-width="1.6"/><path d="M1533,665l0-3M1537,666l-2-11M1541,667l-4-20M1544,670l-4-32M1548,672l-5-43M1551,674l-4-52M1554,676l-3-56M1557,678l-1-59M1560,680l0-62M1563,682l2-65M1566,684l3-68M1568,685l6-70M1571,687l8-74M1573,689l10-77M1576,690l12-79M1578,692l15-83M1581,693l17-83M1583,695l20-84M1585,696l23-84M1587,698l25-85M1590,699l27-85M1592,701l30-86M1594,702l33-86M1596,703l36-86M1598,705l39-87M1600,706l41-87M1602,707l44-86M1604,709l46-85M1606,710l48-83M1608,711l50-81M1610,713l52-80M1612,714l54-79M1614,715l56-77M1616,717l58-76M1618,718l60-74M1620,719l62-72M1622,721l62-69M1625,722l62-66M1627,723l62-62M1629,725l63-60M1631,726l63-56M1633,728l63-54M1635,729l63-51M1638,730l62-48M1640,732l63-46M1642,733l63-43M1645,735l62-40M1647,737l62-38M1650,738l61-35M1652,740l61-33M1655,742l60-31M1658,743l58-28M1661,745l56-25M1668,745l51-21M1675,746l45-17M1683,746l31-11M1692,747l15-5" fill="none" stroke="#000" stroke-width="1.6"/><path d="M1623,714a2.5,3 0 1,0 5,0a2.5,3 0 1,0 -5,0M1641,693a2.5,3 0 1,0 5,0a2.5,3 0 1,0 -5,0M1646,688a2.5,3 0 1,0 5,0a2.5,3 0 1,0 -5,0M1650,683a2.5,3 0 1,0 5,0a2.5,3 0 1,0 -5,0M1655,677a2.5,3 0 1,0 5,0a2.5,3 0 1,0 -5,0M1664,667a2.5,3 0 1,0 5,0a2.5,3 0 1,0 -5,0M1673,656a2.5,3 0 1,0 5,0a2.5,3 0 1,0 -5,0M1678,651a2.5,3 0 1,0 5,0a2.5,3 0 1,0 -5,0M1591,689a2.5,3 0 1,0 5,0a2.5,3 0 1,0 -5,0M1596,675a2.5,3 0 1,0 5,0a2.5,3 0 1,0 -5,0M1598,669a2.5,3 0 1,0 5,0a2.5,3 0 1,0 -5,0M1600,662a2.5,3 0 1,0 5,0a2.5,3 0 1,0 -5,0M1602,655a2.5,3 0 1,0 5,0a2.5,3 0 1,0 -5,0M1605,649a2.5,3 0 1,0 5,0a2.5,3 0 1,0 -5,0M1607,642a2.5,3 0 1,0 5,0a2.5,3 0 1,0 -5,0M1609,635a2.5,3 0 1,0 5,0a2.5,3 0 1,0 -5,0M1611,629a2.5,3 0 1,0 5,0a2.5,3 0 1,0 -5,0M1614,622a2.5,3 0 1,0 5,0a2.5,3 0 1,0 -5,0M1684,743a2.5,3 0 1,0 5,0a2.5,3 0 1,0 -5,0M1697,738a2.5,3 0 1,0 5,0a2.5,3 0 1,0 -5,0M1591,696a2.5,3 0 1,0 5,0a2.5,3 0 1,0 -5,0M1593,689a2.5,3 0 1,0 5,0a2.5,3 0 1,0 -5,0M1595,682a2.5,3 0 1,0 5,0a2.5,3 0 1,0 -5,0M1598,676a2.5,3 0 1,0 5,0a2.5,3 0 1,0 -5,0M1600,669a2.5,3 0 1,0 5,0a2.5,3 0 1,0 -5,0M1602,663a2.5,3 0 1,0 5,0a2.5,3 0 1,0 -5,0M1605,656a2.5,3 0 1,0 5,0a2.5,3 0 1,0 -5,0M1607,649a2.5,3 0 1,0 5,0a2.5,3 0 1,0 -5,0M1609,643a2.5,3 0 1,0 5,0a2.5,3 0 1,0 -5,0" fill="#000"/><path d="M1545,622l50-13 50,11 37,27 33,63 5,20-50,47-38,18-37-15-70-45-3-38 10-32z" fill="none" stroke="#000" stroke-width="2.2"/><path d="M1496,780 L1510,778 L1512,828 L1498,830Z" fill="#000"/><path d="M1520,592 L1548,590 L1552,612 L1524,616Z" fill="#000"/><path d="M1260,628l0-2 1-2 0-2 1-2 0-2 1-2 1-2 0-2 1-2 1-2 2-2 1-1 1-2 2-1 2-1 1-2 2-1 2-1 2-1 2-1 2-1 26,26 0,1 0,2-1,2 1,1-1,1 0,3-1,1 0,1-1,2-1,1-1,1-1,2-1,1-1,1-2,1-1,2-2,1-2,1-2,2-3,1-2,1zM1285,594l1-2 1-2 1-2 1-2 1-1 1-2 2-2 1-1 2-2 2-1 1-1 2-1 2-1 2,0 2-1 2,0 3,0 2-1 2,0 2,0 17,32-1,2-1,2-1,1-1,2-1,2-1,1-1,1-1,1-2,2-1,0-1,1-1,1-2,0-1,0-1,0-2,1-1-1-1,0-2,0-1,0zM1318,572l2-2 1-1 1-2 2-1 1-2 2-1 2-2 1-1 2-1 2-1 2-1 2,0 2-1 2,0 2-1 2,0 2,0 2,0 2,0 3,1 2,0 11,34-2,2-1,1-1,1-1,2-1,1-1,1-2,2-1,1-1,0-2,1-1,1-2,1-2,0-2,0-2,1-1,0-2,0-2,0-2,0-2-1-2,0zM1357,556l1-2 2-1 2-2 2-1 1-1 2-1 2-1 2-1 2-1 1-1 2,0 2-1 2,0 2,0 2,0 3,0 2,0 2,0 2,1 2,0 2,0 10,35-2,2-2,1-1,2-2,1-2,1-2,2-1,1-2,1-2,0-2,1-2,1-2,0-1,0-2,0-2,0-2,0-2,0-2-1-2,0-2-1-2,0zM1397,544l2-1 2-1 1-2 2-1 2-1 2-1 2-1 1-1 2-1 2,0 2-1 2,0 2,0 2-1 2,1 2,0 2,0 3,0 2,0 2,1 2,0 8,35-1,2-2,1-2,2-1,1-2,1-2,1-2,1-2,1-1,1-2,1-2,0-2,0-2,1-2,0-2,0-2-1-2,0-2,0-2-1-2,0-2-1zM1438,534l2-1 1-1 2-2 2-1 2-1 1-1 2-1 2-1 2-1 2,0 2-1 2,0 2,0 2-1 2,0 2,0 2,1 2,0 2,0 2,0 12,34-1,2-2,2-2,1-1,2-2,1-2,2-2,1-2,1-3,1-2,1-2,0-3,1-2,0-2,0-2,0-3-1-2,0-2-1-2,0-3-1zM1476,523l2-1 2-2 1-1 2-2 2-1 2-1 2-1 1-1 2-1 3,0 2,0 2-1 2,0 2,0 2,1 2,0 2,1 2,0 2,1 2,1 3,1 1,35-2,2-1,1-2,1-1,1-2,1-1,1-1,0-2,1-1,0-1,1-2,0-1,0-2,0-1,0-2-1-1,0-2-1-2,0-2,0-2-1zM1518,516l1-1 2-1 2-1 3-1 2-1 2,0 2-1 2,0 2,0 2,0 2,0 2,0 2,1 2,0 2,1 2,1 2,1 2,1 2,1 2,1 1,2-6,35-2,1-2,0-1,1-2,1-2,0-1,1-2,0-2,1-1,0-2,0-1,0-2-1-2,0-1,0-1-1-2-1-2-1-1-1-2-1-2-1-1-1zM1559,519l2-1 3-1 2,0 2,0 2-1 2,0 2,0 2,1 2,0 2,0 2,1 2,1 2,1 2,1 2,1 1,1 2,2 2,1 1,2 2,1-12,34-3,0-1,1-2,0-2,1-2,0-2,0-2,0-2,0-1,0-2,0-2-1-1-1-1,0-2-2-1-1-2-1-1-1-2-1-1-2-1-1zM1598,529l2,0 2,0 2,0 3,0 2,0 2,0 2,1 2,0 2,1 2,1 2,1 1,1 2,1 2,1 1,2 2,1 1,2 1,2 2,1 1,2 1,2-18,31-2,0-2,0-2,0-2-1-3,0-1,0-2,0-2-1-1,0-2-1-1-1-1,0-2-1-1-1-1-1-1-2-1-1-1-1-1-2-1-1-1-2zM1635,548l3,0 2,0 2,1 2,0 2,1 2,0 2,1 2,1 2,1 2,1 1,1 2,1 1,1 2,2 1,1 1,2 2,2 1,2 1,1 1,2 1,2-19,30-3,0-2-1-3,0-2,0-2-1-2-1-2,0-2-1-2-1-2-1-1-1-2-1-1-1-1-2-1-1-1-2-1-1-1-2-1-1-1-2-1-2zM1670,571l3,0 2,1 2,0 2,0 2,1 2,0 2,1 2,0 1,0 2,1 2,1 1,1 2,0 2,1 2,1 1,1 2,2 2,1 1,1 2,1 2,2-9,35-2,0-2,1-2,0-3,1-3,0-2,0-3,0-3-1-2,0-3-1-4-2-2-1-3-1-3-3-2-1-2-2-2-2-2-2-1-2-2-3-1-2zM1709,587l2-1 2,0 3,0 2-1 2,0 2,1 2,0 3,0 2,1 2,1 2,2 1,1 2,2 1,2 2,2 1,2 0,2 1,2 1,2 0,2-28,22-2,0-1,0-2,0-1,0-1,0-1,1-2-1 3,2-1-1 1,0 0-1-1-1-1-1-1-1-1-1-1-2-2-1zM1742,607l2,1 2,1 2,1 2,1 2,1 1,1 2,2 2,1 1,2 1,1 2,2 1,2 1,1 0,2 1,2 1,2 0,3 1,2 0,2 0,2-29,21-2-1-2-1-2-1-2-1-2-1-1-1-2-2-1-1-2-1-1-1 0-1-1-2-1-1-1-2-1-2-1-3 0-2-1-3 0-2 0-2zM1767,767l-1,2-1,2-2,1-1,2-1,2-2,1-1,2-1,1-2,2-2,1-1,1-2,1-2,1-2,0-2,1-2,1-2,0-2,0-2,1-2,0-3,0-18-31 1-2 1-1 1-2 2-2 1-2 1-1 1-2 2-1 1-1 1-2 2-1 2,0 2-1 1-1 2,0 3-1 2,0 2-1 2,0 3,0 2-1zM1731,789l-1,2-1,2-2,1-1,2-1,2-2,1-2,1-1,2-2,1-2,1-1,1-2,1-2,0-2,1-2,1-2,0-2,0-2,0-3,1-2,0-2,0-2,0-15-33 2-2 1-1 1-2 2-2 1-1 2-2 1-1 2-1 1-1 1-1 2-1 2-1 1,0 2-1 2,0 2,0 1-1 2,0 2,0 2,0 2,0 2,0zM1692,809l-2,1-1,2-1,2-2,1-2,2-1,1-2,1-1,1-2,1-2,1-2,1-2,1-2,0-2,1-2,0-2,0-2,0-2,0-2,0-3,0-2,0-13-33 2-2 1-2 1-1 2-2 1-1 1-2 2-1 1-1 2-1 2-1 2-1 2,0 2-1 1,0 2,0 3-1 2,0 2,0 2,1 2,0 2,0zM1653,825l-1,2-2,1-1,2-2,1-2,1-1,2-2,1-2,1-1,1-2,1-2,1-2,0-2,1-2,0-2,1-2,0-2,0-2,1-2,0-2,0-2,0-2,0-16-33 2-1 1-2 2-2 1-2 2-1 2-2 1-1 2-1 2-2 2-1 2-1 3-1 2,0 2-1 2,0 3,0 2,0 2,0 2,0 2,0 2,0 2,1zM1613,842l-2,2-1,1-2,2-1,2-2,1-1,1-2,2-1,1-2,1-2,1-1,1-2,1-2,0-2,1-2,0-2,1-2,0-2,0-3,0-2,0-2,1-16-32 1-2 1-2 2-2 1-2 2-1 1-2 2-1 2-2 1-1 2-1 2-1 2-1 2,0 2-1 2,0 2,0 2,0 2-1 3,0 2,0 2,0zM1575,861l-1,1-2,2-1,2-2,1-1,2-1,1-2,2-2,1-1,1-2,1-2,1-2,1-2,0-2,1-2,0-2,1-2,0-2,0-2,0-2,0-3,0-14-33 1-1 1-2 1-1 1-2 2-2 1-1 1-1 2-2 1-1 2-1 2,0 1-1 2-1 2,0 2-1 2,0 2,0 3,0 2,0 2,0 3,0zM1537,879l-1,2-2,2-1,1-2,2-1,1-2,1-1,2-2,1-2,1-2,1-2,1-3,0-2,0-2,0-2,0-3-1-2,0-2-1-2-1-2,0-2-1-2-1 3-36 2-1 1-1 1-1 2-1 1-1 1,0 1-1 0-1-1,0 1,0 0,1 1,0 2-1 2,0 2,0 2,0 3,0 2,0 2,0zM1495,889l-2,0-2,1-2,0-2,1-2,0-2,1-2,0-3,0-2,0-2,0-2-1-2,0-2-1-2-1-1-1-2-1-2-1-2-1-2-1-1-2-2-1 11-35 2,0 1-1 2,0 2-1 2,0 1-1 2,0 2,0 1,0 1,0 2,1 2,0 1,1 2,0 1,1 2,1 1,1 2,1 2,1 1,1 1,2zM1454,881l-2,0-2,0-3,0-2,0-2,0-2,0-2-1-2,0-2-1-2-1-2-1-2-1-1-1-2-2-1-1-2-2-1-1-1-2-2-2-1-2-1-2 19-30 3,0 2,1 2,0 2,0 2,0 1,0 2,1 2,0 1,1 2,0 1,1 1,1 1,1 1,0 1,1 1,2 0,1 1,1 1,2 1,1 1,1zM1417,861l-2,0-2,0-3-1-2,0-2-1-2,0-2-1-2-1-1-1-2-1-2-1-2-1-1-1-2-2-1-1-1-2-1-2-2-2-1-1-1-2-1-2-1-2 22-28 3,0 2,0 2,1 2,0 2,1 1,0 2,1 2,1 2,0 1,1 2,1 1,1 1,1 2,2 1,1 1,1 1,2 1,2 1,2 1,1 1,2 1,2zM1381,836l-2-1-2,0-2-1-2,0-2-1-2-1-2-1-2-1-2-1-1-1-2-1-1-2-2-1-1-2-1-2-1-1-1-2-1-2-1-2-1-2-1-2 24-27 3,1 1,0 2,1 2,0 2,1 2,0 2,1 2,1 1,1 2,1 1,1 1,2 2,1 1,2 1,1 1,2 1,2 1,2 1,2 1,2 0,2zM1349,809l-2-1-2-1-2,0-2-1-2-1-2-1-2-1-1-1-2-2-2-1-1-2-1-1-1-2-2-2 0-2-1-2-1-2-1-2 0-2-1-2-1-2 28-23 2,1 2,1 2,1 2,0 2,1 1,1 2,1 1,1 2,1 1,1 1,1 1,2 1,1 1,2 1,1 0,2 1,2 1,1 0,3 1,1 0,2zM1320,778l-2-1-2-1-1-1-2-1-2-1-2-1-1-2-2-1-1-1-2-2-1-1-1-2-1-2-1-1-1-2-1-2-1-2-1-2 0-2-1-2 0-2-1-2 28-23 2,1 2,1 2,1 2,1 2,1 2,1 2,2 1,1 2,1 1,2 2,1 1,2 1,2 1,1 0,2 1,2 1,2 0,2 1,2 0,2 1,2 0,2zM1293,744l-2-1-2-1-2-1-2-1-1-2-2-1-2-1-1-1-2-2-1-1-1-2-1-2-2-2 0-2-1-2-1-2 0-2-1-2 0-2 0-2 0-2 32-17 1,1 2,0 1,1 2,1 1,0 1,1 2,1 1,1 1,1 1,1 1,1 1,2 1,1 1,2 0,2 1,2 0,2 1,2 0,2 1,2 0,2zM1269,710l-2-2-2-1-1-2-2-1-1-2-2-2-1-1-1-2-1-2-1-2-1-2 0-2-1-2 0-2 0-2 0-2 0-2 0-2 0-3 1-2 0-2 1-2 35-5 1,1 2,0 1,1 1,1 1,2 1,1 1,1 1,2 1,1 0,1 1,2 0,1 1,2 0,1 0,1 0,2 0,2 0,1-1,2 0,2 0,1 0,2zM1255,668l-2-2-1-2 0-2-1-2-1-2 0-3 0-2 0-2 0-2 1-2 0-2 0-2 1-1 1-2 1-2 1-2 1-2 1-2 2-2 1-1 35,6 1,3 1,2 0,2 1,2 0,1 1,2 0,1 0,2 0,3 0,3-1,3-1,2 0,1-1,1-1,0-1,0-1-1-1,1-1-1-1,1z" fill="#fff" stroke="#000" stroke-width="2.1" stroke-linejoin="round"/><path d="M1260,628l0-2 1-2 0-2 1-2 0-2 1-2 1-2 0-2 1-2 1-2 2-2 1-1 1-2 2-1 2-1 1-2 2-1 2-1 2-1 2-1 2-1M1285,594l1-2 1-2 1-2 1-2 1-1 1-2 2-2 1-1 2-2 2-1 1-1 2-1 2-1 2,0 2-1 2,0 3,0 2-1 2,0 2,0M1318,572l2-2 1-1 1-2 2-1 1-2 2-1 2-2 1-1 2-1 2-1 2-1 2,0 2-1 2,0 2-1 2,0 2,0 2,0 2,0 3,1 2,0M1357,556l1-2 2-1 2-2 2-1 1-1 2-1 2-1 2-1 2-1 1-1 2,0 2-1 2,0 2,0 2,0 3,0 2,0 2,0 2,1 2,0 2,0M1397,544l2-1 2-1 1-2 2-1 2-1 2-1 2-1 1-1 2-1 2,0 2-1 2,0 2,0 2-1 2,1 2,0 2,0 3,0 2,0 2,1 2,0M1438,534l2-1 1-1 2-2 2-1 2-1 1-1 2-1 2-1 2-1 2,0 2-1 2,0 2,0 2-1 2,0 2,0 2,1 2,0 2,0 2,0M1476,523l2-1 2-2 1-1 2-2 2-1 2-1 2-1 1-1 2-1 3,0 2,0 2-1 2,0 2,0 2,1 2,0 2,1 2,0 2,1 2,1 3,1M1518,516l1-1 2-1 2-1 3-1 2-1 2,0 2-1 2,0 2,0 2,0 2,0 2,0 2,1 2,0 2,1 2,1 2,1 2,1 2,1 2,1 1,2M1559,519l2-1 3-1 2,0 2,0 2-1 2,0 2,0 2,1 2,0 2,0 2,1 2,1 2,1 2,1 2,1 1,1 2,2 2,1 1,2 2,1M1598,529l2,0 2,0 2,0 3,0 2,0 2,0 2,1 2,0 2,1 2,1 2,1 1,1 2,1 2,1 1,2 2,1 1,2 1,2 2,1 1,2 1,2M1635,548l3,0 2,0 2,1 2,0 2,1 2,0 2,1 2,1 2,1 2,1 1,1 2,1 1,1 2,2 1,1 1,2 2,2 1,2 1,1 1,2 1,2M1670,571l3,0 2,1 2,0 2,0 2,1 2,0 2,1 2,0 1,0 2,1 2,1 1,1 2,0 2,1 2,1 1,1 2,2 2,1 1,1 2,1 2,2M1709,587l2-1 2,0 3,0 2-1 2,0 2,1 2,0 3,0 2,1 2,1 2,2 1,1 2,2 1,2 2,2 1,2 0,2 1,2 1,2 0,2M1742,607l2,1 2,1 2,1 2,1 2,1 1,1 2,2 2,1 1,2 1,1 2,2 1,2 1,1 0,2 1,2 1,2 0,3 1,2 0,2 0,2M1767,767l-1,2-1,2-2,1-1,2-1,2-2,1-1,2-1,1-2,2-2,1-1,1-2,1-2,1-2,0-2,1-2,1-2,0-2,0-2,1-2,0-3,0M1731,789l-1,2-1,2-2,1-1,2-1,2-2,1-2,1-1,2-2,1-2,1-1,1-2,1-2,0-2,1-2,1-2,0-2,0-2,0-3,1-2,0-2,0-2,0M1692,809l-2,1-1,2-1,2-2,1-2,2-1,1-2,1-1,1-2,1-2,1-2,1-2,1-2,0-2,1-2,0-2,0-2,0-2,0-2,0-3,0-2,0M1653,825l-1,2-2,1-1,2-2,1-2,1-1,2-2,1-2,1-1,1-2,1-2,1-2,0-2,1-2,0-2,1-2,0-2,0-2,1-2,0-2,0-2,0-2,0M1613,842l-2,2-1,1-2,2-1,2-2,1-1,1-2,2-1,1-2,1-2,1-1,1-2,1-2,0-2,1-2,0-2,1-2,0-2,0-3,0-2,0-2,1M1575,861l-1,1-2,2-1,2-2,1-1,2-1,1-2,2-2,1-1,1-2,1-2,1-2,1-2,0-2,1-2,0-2,1-2,0-2,0-2,0-2,0-3,0M1537,879l-1,2-2,2-1,1-2,2-1,1-2,1-1,2-2,1-2,1-2,1-2,1-3,0-2,0-2,0-2,0-3-1-2,0-2-1-2-1-2,0-2-1-2-1M1495,889l-2,0-2,1-2,0-2,1-2,0-2,1-2,0-3,0-2,0-2,0-2-1-2,0-2-1-2-1-1-1-2-1-2-1-2-1-2-1-1-2-2-1M1454,881l-2,0-2,0-3,0-2,0-2,0-2,0-2-1-2,0-2-1-2-1-2-1-2-1-1-1-2-2-1-1-2-2-1-1-1-2-2-2-1-2-1-2M1417,861l-2,0-2,0-3-1-2,0-2-1-2,0-2-1-2-1-1-1-2-1-2-1-2-1-1-1-2-2-1-1-1-2-1-2-2-2-1-1-1-2-1-2-1-2M1381,836l-2-1-2,0-2-1-2,0-2-1-2-1-2-1-2-1-2-1-1-1-2-1-1-2-2-1-1-2-1-2-1-1-1-2-1-2-1-2-1-2-1-2M1349,809l-2-1-2-1-2,0-2-1-2-1-2-1-2-1-1-1-2-2-2-1-1-2-1-1-1-2-2-2 0-2-1-2-1-2-1-2 0-2-1-2-1-2M1320,778l-2-1-2-1-1-1-2-1-2-1-2-1-1-2-2-1-1-1-2-2-1-1-1-2-1-2-1-1-1-2-1-2-1-2-1-2 0-2-1-2 0-2-1-2M1293,744l-2-1-2-1-2-1-2-1-1-2-2-1-2-1-1-1-2-2-1-1-1-2-1-2-2-2 0-2-1-2-1-2 0-2-1-2 0-2 0-2 0-2M1269,710l-2-2-2-1-1-2-2-1-1-2-2-2-1-1-1-2-1-2-1-2-1-2 0-2-1-2 0-2 0-2 0-2 0-2 0-2 0-3 1-2 0-2 1-2M1255,668l-2-2-1-2 0-2-1-2-1-2 0-3 0-2 0-2 0-2 1-2 0-2 0-2 1-1 1-2 1-2 1-2 1-2 1-2 2-2 1-1" fill="none" stroke="#000" stroke-width="5.5" stroke-linecap="round"/><path d="M1260.9,623.7l6.7,1.1M1262.9,615.5l6.2,1.3M1264.5,611.6l4,2M1269,604.8l5.7,5.1M1271.9,601.9l4.2,3.2M1275.4,599.4l3.7,3.4M1279.2,597.2l3.5,4.4M1288.9,586.4l3.5,2.7M1291.4,582.8l3.8,3.6M1294.3,579.7l4.4,5.1M1297.6,577.1l2.4,5.5M1301.3,575.2l2,6.4M1309.4,572.9l1.1,7.6M1313.8,572.4l0.4,5M1321,568.8l4.4,4.1M1327,562.7l4.1,5M1330.3,560.2l3.7,6.4M1333.9,558.1l1.7,5.5M1337.7,556.6l1.3,7M1341.7,555.7l0.7,6.3M1346,555.2l0.3,6.6M1350.3,555.2l-0.3,4.9M1360.1,552.9l3.9,4.3M1363.5,550.2l3.9,5.8M1367,547.8l3.7,4.7M1370.7,545.8l1.7,5.2M1382.4,543l0.3,6.4M1386.5,543.1l-0.3,6.6M1390.8,543.5l-0.6,7.2M1400.7,541.6l4.5,5.3M1411.4,535l2.6,5.7M1415.2,533.6l1.9,5.6M1419.1,532.8l0.7,5.1M1423.2,532.5l0.1,7M1431.6,533.1l-0.8,4.2M1448.5,526.7l3.6,3.6M1455.7,523.5l1.5,6.6M1459.6,522.8l1.1,4.1M1467.7,522.4l-0.3,7.8M1472,522.7l-0.6,5.6M1479.7,520.2l4.5,4.5M1483,517.4l3.6,6.2M1486.6,515l2.5,6.2M1494.6,511.9l0.9,4.8M1498.7,511.3l0.4,7.8M1502.9,511.4l-0.5,5.1M1507.2,512.1l-1.7,4.8M1521.5,513.7l2.4,6.7M1525.5,512l1.6,5M1533.8,510l0.5,4.9M1537.9,509.8l-0.2,4.6M1542,510.3l-0.9,5.4M1546,511.3l-2.5,5M1553.8,514.9l-3.6,5.9M1563.6,517.5l1,4.2M1572.2,516.4l0.1,5M1580.4,517.3l-1.6,6.5M1587.9,520.8l-2.8,5.9M1594.7,526.1l-2.8,3.5M1602.2,529l0.2,5.6M1606.6,529l-0.2,6.4M1610.8,529.4l-0.7,4M1615,530.3l-1.8,4.9M1622.5,533.8l-2.5,4.7M1625.7,536.3l-4.2,5.9M1628.7,539.3l-3.1,4.2M1639.7,548.4l-0.6,5.6M1648.2,550.2l-1.7,7.3M1652,551.7l-1.7,4.9M1655.6,553.7l-2.3,4.5M1658.9,556.1l-3.7,5.9M1661.8,558.9l-5.1,2.7M1666.9,565.6l-5.7,2.5M1674.7,571.7l-0.7,7.2M1678.9,572.4l-1.3,7.2M1682.9,573.1l-1.1,6.9M1686.6,574l-1.3,4M1693.5,576.5l-2.1,7.2M1696.9,578.4l-2.5,4.7M1700.3,580.5l-2.3,4.1M1713.3,586l0.9,7.1M1717.7,585.5l0.4,7.2M1722.1,585.6l-0.7,6.6M1726.6,586.5l-2.4,6.2M1737.4,594.6l-3.8,2.4M1739.6,598.6l-4,2.9M1741.1,602.8l-6.3,1.2M1746.2,609.1l-2.1,4.1M1749.9,611.2l-3,4.2M1759.4,619.1l-5.2,3.3M1763.3,626.4l-4.8,1.6M1764.6,630.4l-5.5,1.4M1762.1,774.1l-3.5,-3.8M1759.4,777.4l-3.4,-4.3M1753.3,782.8l-4,-3.8M1746.1,786.4l-2.1,-6.5M1742.1,787.6l-1.3,-4.7M1737.9,788.4l-1,-7.2M1728.7,792.7l-4.7,-2.9M1725.9,796l-5.1,-3.4M1723,799.1l-5,-3.9M1719.8,801.7l-3.8,-5.8M1712.7,805.8l-2.8,-4M1708.8,807.1l-1.9,-5.3M1704.8,807.9l-1.3,-5.4M1700.6,808.4l-0.3,-5.9M1696.3,808.7l-0.3,-7.5M1689,812l-4.3,-3.4M1682.8,817.9l-2.6,-3.4M1679.5,820.3l-2.6,-6.2M1676,822.2l-2.8,-5.9M1668.3,824.7l-1.4,-5.8M1664.2,825.2l-0.6,-6.6M1659.8,825.4l-0,-5.8M1650.1,828.1l-4,-5.3M1643.7,833.6l-4.5,-5.9M1640.3,835.9l-3.5,-4.9M1636.8,837.8l-3.1,-6.3M1633.2,839.2l-1.4,-5.8M1629.4,840.3l-1.2,-5.3M1625.4,841.1l-0.9,-7.1M1617,841.8l-0.4,-5.1M1609.8,845.3l-5.1,-3.7M1597.3,856.1l-2.1,-6M1593.7,857.8l-2.1,-3.9M1589.8,858.9l-1,-4.1M1581.5,860.1l-0.6,-5.6M1569.5,867.2l-3.5,-4.7M1566.5,870.3l-3.5,-3.2M1560,875.1l-3,-5.3M1552.4,878l-1.2,-5.2M1548.3,878.8l-0.7,-5.2M1544,879.2l-0.4,-4M1534.5,882.5l-3.2,-5.2M1531.5,885.5l-3.8,-4.5M1528.3,888.4l-3.7,-4.6M1524.8,890.9l-2.2,-6.8M1520.8,892.8l-2.4,-4.3M1516.3,893.9l-1,-6.1M1503.1,892.2l1.8,-5.4M1499.1,890.5l2.6,-4.6M1491.1,889.9l-1.3,-4M1486.9,891l-1.3,-6.3M1482.6,891.8l-0.9,-7.1M1474.4,891.7l0.6,-4.7M1470.3,890.8l1.9,-7.6M1466.5,889.3l3.1,-6.9M1459.2,884.8l4,-5.7M1432.9,878.2l2.2,-4M1429.3,876l4.1,-3.7M1420.5,866.9l5.9,-3.8M1412.6,860.7l1.1,-6.2M1408.4,859.8l1.4,-4.2M1404.3,858.7l2.2,-6.4M1396.8,855.2l3.3,-4.5M1387.8,846.9l4.1,-4.1M1383.1,839.8l3.7,-2.7M1376.8,834.8l1.1,-4.4M1372.7,833.6l2.2,-7.5M1365.1,830.2l3.9,-5.5M1361.7,827.9l4,-4.4M1356.1,822.1l3.3,-2.6M1353.7,818.6l5.4,-3M1337,803.8l3.3,-6M1333.5,801.5l2.5,-4.6M1330.4,798.9l3.5,-3.6M1327.8,795.8l5.1,-4.6M1325.5,792.3l5.1,-2.5M1323.7,788.5l3.9,-2.7M1322.2,784.5l6,-1.3M1316.5,776.1l2.5,-3.7M1312.8,774l3.4,-6.6M1309.3,771.6l2.7,-4.6M1303.2,766.2l4.3,-2.9M1298.7,759.6l5.3,-2.2M1296.9,755.9l5.7,-1.8M1295.5,752l3.9,-1.5M1294.2,747.9l5.3,-1.5M1289.1,741.7l2,-4.5M1281.8,737.3l4.3,-3.8M1273.5,728.2l4.6,-3.8M1271.6,724.4l5.8,-2.5M1270.3,720.4l5.7,-2M1269.4,716.1l7.5,-1.2M1265.4,706.7l3,-5.3M1253.9,689.2l4.9,-1.2M1253.1,685.1l6.9,-0.9M1252.9,680.9l7.1,-0M1253.1,676.6l5.8,0.6M1253.8,672.3l6.3,1M1252.5,664.1l6.9,-2.9M1250.9,659.8l4.1,-1.7M1250,650.9l7.9,0.3M1250.6,647.1l4.6,1.4M1251.4,643.5l7.2,1.6M1252.9,639.5l5.7,1.9M1254.9,635.7l4.5,2.3M1257.3,632.1l5.9,3.1" fill="none" stroke="#000" stroke-width="2.4"/><g fill="#111" stroke="#111" stroke-width="0.45"><text x="420" y="65" font-family="Liberation Sans" font-size="21" font-weight="normal" font-style="normal" textLength="161" lengthAdjust="spacingAndGlyphs">CROSS SECTION</text><text x="507" y="95" font-family="Liberation Sans" font-size="20" font-weight="normal" font-style="normal" textLength="84" lengthAdjust="spacingAndGlyphs">Xylem ray</text><text x="147" y="120" font-family="Liberation Sans" font-size="20" font-weight="normal" font-style="normal" textLength="184" lengthAdjust="spacingAndGlyphs">Tracheld of late wood</text><text x="46" y="191" font-family="Liberation Sans" font-size="20" font-weight="normal" font-style="normal" textLength="190" lengthAdjust="spacingAndGlyphs">Tracheld of oarly wood</text><text x="79" y="225" font-family="Liberation Sans" font-size="20" font-weight="normal" font-style="normal" textLength="91" lengthAdjust="spacingAndGlyphs">Resin duct</text><text x="52" y="262" font-family="Liberation Sans" font-size="20" font-weight="normal" font-style="normal" textLength="87" lengthAdjust="spacingAndGlyphs">Uniseriate</text><text x="94" y="284" font-family="Liberation Sans" font-size="20" font-weight="normal" font-style="normal" textLength="27" lengthAdjust="spacingAndGlyphs">ray</text><text x="781" y="598" font-family="Liberation Sans" font-size="20" font-weight="normal" font-style="normal" textLength="105" lengthAdjust="spacingAndGlyphs">Ray tracheld</text><text x="801" y="628" font-family="Liberation Sans" font-size="20" font-weight="normal" font-style="normal" textLength="31" lengthAdjust="spacingAndGlyphs">Ray</text><text x="761" y="655" font-family="Liberation Sans" font-size="20" font-weight="normal" font-style="normal" textLength="137" lengthAdjust="spacingAndGlyphs">parenchyma cell</text><text x="569" y="798" font-family="Liberation Sans" font-size="20" font-weight="normal" font-style="normal" textLength="133" lengthAdjust="spacingAndGlyphs">Mutiserate Rav</text><text x="278" y="826" font-family="Liberation Sans" font-size="20" font-weight="normal" font-style="normal" textLength="93" lengthAdjust="spacingAndGlyphs">Resin duct</text><text x="435" y="822" font-family="Liberation Sans" font-size="20" font-weight="normal" font-style="normal" textLength="104" lengthAdjust="spacingAndGlyphs">Borderd pits</text><text x="264" y="885" font-family="Liberation Sans" font-size="21" font-weight="normal" font-style="normal" textLength="214" lengthAdjust="spacingAndGlyphs">TANGENTIAL SECTION</text><text x="0" y="0" font-family="Liberation Sans" font-size="20" textLength="166" lengthAdjust="spacingAndGlyphs" transform="translate(618,760) rotate(-44)">RADIAL SECTION</text><text x="99" y="1071" font-family="Liberation Serif" font-size="29" font-weight="bold" font-style="normal" textLength="932" lengthAdjust="spacingAndGlyphs">Fig. 3.5 : Three-dimensional diagram of a cube of secondary xylem of <tspan font-style="italic">Pinus</tspan> sp.</text><text x="1487" y="75" font-family="Liberation Sans" font-size="15" font-weight="normal" font-style="normal" textLength="64" lengthAdjust="spacingAndGlyphs">Epidermis</text><text x="1489" y="377" font-family="Liberation Sans" font-size="15" font-weight="normal" font-style="normal" textLength="68" lengthAdjust="spacingAndGlyphs">Resin-duct</text><text x="1176" y="420" font-family="Liberation Sans" font-size="15" font-weight="normal" font-style="normal" textLength="63" lengthAdjust="spacingAndGlyphs">Mesophyll</text><text x="1085" y="362" font-family="Liberation Sans" font-size="14" font-weight="normal" font-style="normal">a</text><text x="1712" y="405" font-family="Liberation Sans" font-size="15" font-weight="normal" font-style="normal">b</text><text x="1820" y="481" font-family="Liberation Sans" font-size="15" font-weight="normal" font-style="normal" textLength="65" lengthAdjust="spacingAndGlyphs">Epidermis</text><text x="1805" y="519" font-family="Liberation Sans" font-size="15" font-weight="normal" font-style="normal" textLength="80" lengthAdjust="spacingAndGlyphs">Hypodermis</text><text x="1166" y="586" font-family="Liberation Sans" font-size="15" font-weight="normal" font-style="normal" textLength="64" lengthAdjust="spacingAndGlyphs">Mesophyll</text><text x="1803" y="593" font-family="Liberation Sans" font-size="15" font-weight="normal" font-style="normal" textLength="77" lengthAdjust="spacingAndGlyphs">Endodermis</text><text x="1812" y="748" font-family="Liberation Sans" font-size="15" font-weight="normal" font-style="normal" textLength="49" lengthAdjust="spacingAndGlyphs">Phloem</text><text x="1156" y="787" font-family="Liberation Sans" font-size="15" font-weight="normal" font-style="normal" textLength="121" lengthAdjust="spacingAndGlyphs">Transfusion  tissue</text><text x="1812" y="840" font-family="Liberation Sans" font-size="15" font-weight="normal" font-style="normal" textLength="40" lengthAdjust="spacingAndGlyphs">Xylem</text><text x="1289" y="875" font-family="Liberation Sans" font-size="15" font-weight="normal" font-style="normal">c</text><text x="1099" y="1021" font-family="Liberation Serif" font-size="21" font-weight="bold" font-style="normal" textLength="828" lengthAdjust="spacingAndGlyphs">Fig. 3.6: <tspan font-style="italic">Pinus</tspan> sp. a,b) T.S. needle. c) Part of a needle in T.S. enlarged to show lignified epidermis,</text><text x="1179" y="1045" font-family="Liberation Serif" font-size="21" font-weight="bold" font-style="normal" textLength="790" lengthAdjust="spacingAndGlyphs">hypodermis, mesophyll with cells showing infolding of walls, endodermis with thickened outer</text><text x="1179" y="1069" font-family="Liberation Serif" font-size="21" font-weight="bold" font-style="normal" textLength="818" lengthAdjust="spacingAndGlyphs">walls, transfusion tissue and two vascular bundles placed at an angle. (a  redrawn from Gifford &amp;</text><text x="1179" y="1091" font-family="Liberation Serif" font-size="21" font-weight="bold" font-style="normal" textLength="300" lengthAdjust="spacingAndGlyphs">Foster,  1989, b after Konar I363 a).</text></g><g stroke="#000" stroke-width="1.6" fill="none"><line x1="244" y1="126" x2="322" y2="159" stroke="#000" stroke-width="1.6"/><line x1="192" y1="197" x2="215" y2="242" stroke="#000" stroke-width="1.6"/><line x1="150" y1="231" x2="162" y2="280" stroke="#000" stroke-width="1.6"/><line x1="61" y1="265" x2="290" y2="500" stroke="#000" stroke-width="1.6"/><line x1="300" y1="803" x2="452" y2="590" stroke="#000" stroke-width="1.6"/><line x1="472" y1="803" x2="452" y2="761" stroke="#000" stroke-width="1.6"/><line x1="500" y1="803" x2="555" y2="746" stroke="#000" stroke-width="1.6"/><line x1="590" y1="776" x2="500" y2="641" stroke="#000" stroke-width="1.6"/><line x1="772" y1="598" x2="640" y2="560" stroke="#000" stroke-width="1.6"/><line x1="787" y1="628" x2="650" y2="575" stroke="#000" stroke-width="1.6"/><line x1="1444" y1="18" x2="1444" y2="75" stroke="#000" stroke-width="1.6"/><line x1="1483" y1="80" x2="1466" y2="100" stroke="#000" stroke-width="1.6"/><line x1="1482" y1="370" x2="1457" y2="305" stroke="#000" stroke-width="1.6"/><line x1="1177" y1="405" x2="1230" y2="340" stroke="#000" stroke-width="1.6"/><line x1="1773" y1="475" x2="1812" y2="475" stroke="#000" stroke-width="1.6"/><line x1="1762" y1="486" x2="1798" y2="512" stroke="#000" stroke-width="1.6"/><line x1="1705" y1="593" x2="1792" y2="587" stroke="#000" stroke-width="1.6"/><line x1="1237" y1="580" x2="1261" y2="580" stroke="#000" stroke-width="1.6"/><line x1="1716" y1="712" x2="1802" y2="744" stroke="#000" stroke-width="1.6"/><line x1="1723" y1="796" x2="1800" y2="835" stroke="#000" stroke-width="1.6"/><line x1="1215" y1="770" x2="1269" y2="722" stroke="#000" stroke-width="1.6"/></g>
</svg></body></html>
